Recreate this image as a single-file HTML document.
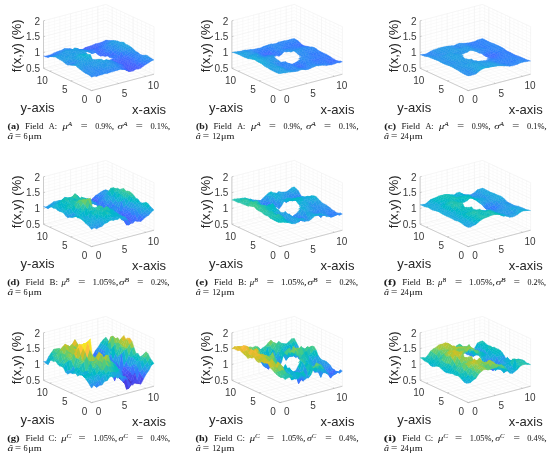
<!DOCTYPE html>
<html><head><meta charset="utf-8"><style>
html,body{margin:0;padding:0;background:#fff;width:550px;height:458px;overflow:hidden}
svg{display:block}
.s path{fill:currentColor;stroke:currentColor;stroke-width:.35;stroke-linejoin:round}
.gm{stroke:#f5f5f5;stroke-width:.5;fill:none}
.gM{stroke:#f0f0f0;stroke-width:.4;fill:none}
.ax{stroke:#b0b0b0;stroke-width:.6;fill:none}
.tk{font-family:"Liberation Sans",sans-serif;font-size:10px;fill:#3a3a3a}
.lb{font-family:"Liberation Sans",sans-serif;font-size:13px;fill:#262626}
.cp{font-family:"Liberation Serif",serif;font-size:9px;fill:#1e1e1e;stroke:#1e1e1e;stroke-width:.05}
.cb{font-weight:bold}
.eq{font-size:11px;stroke-width:.05}
.it{font-style:italic}
</style></head><body>
<svg width="550" height="458" viewBox="0 0 550 458">
<g>
<path class="gm" d="M91.6 90.6L43.5 68.3M43.5 68.3L43.5 20.8M91.6 90.6L154.0 74.2M154.0 74.2L154.0 26.7M97.0 89.2L48.9 66.9M48.9 66.9L48.9 19.4M87.4 88.7L149.8 72.3M149.8 72.3L149.8 24.8M102.5 87.7L54.4 65.4M54.4 65.4L54.4 17.9M83.2 86.7L145.6 70.3M145.6 70.3L145.6 22.8M107.9 86.3L59.8 64.0M59.8 64.0L59.8 16.5M79.1 84.8L141.5 68.4M141.5 68.4L141.5 20.9M113.3 84.9L65.2 62.6M65.2 62.6L65.2 15.1M74.9 82.8L137.3 66.4M137.3 66.4L137.3 18.9M118.7 83.5L70.6 61.2M70.6 61.2L70.6 13.7M70.7 80.9L133.1 64.5M133.1 64.5L133.1 17.0M124.2 82.0L76.1 59.7M76.1 59.7L76.1 12.2M66.5 79.0L128.9 62.6M128.9 62.6L128.9 15.1M129.6 80.6L81.5 58.3M81.5 58.3L81.5 10.8M62.3 77.0L124.7 60.6M124.7 60.6L124.7 13.1M135.0 79.2L86.9 56.9M86.9 56.9L86.9 9.4M58.1 75.1L120.5 58.7M120.5 58.7L120.5 11.2M140.4 77.8L92.3 55.5M92.3 55.5L92.3 8.0M54.0 73.1L116.4 56.7M116.4 56.7L116.4 9.2M145.9 76.3L97.8 54.0M97.8 54.0L97.8 6.5M49.8 71.2L112.2 54.8M112.2 54.8L112.2 7.3M151.3 74.9L103.2 52.6M103.2 52.6L103.2 5.1M45.6 69.3L108.0 52.9M108.0 52.9L108.0 5.4M43.5 68.3L105.9 51.9M105.9 51.9L154.0 74.2M43.5 65.1L105.9 48.7M105.9 48.7L154.0 71.0M43.5 62.0L105.9 45.6M105.9 45.6L154.0 67.9M43.5 58.8L105.9 42.4M105.9 42.4L154.0 64.7M43.5 55.6L105.9 39.2M105.9 39.2L154.0 61.5M43.5 52.5L105.9 36.1M105.9 36.1L154.0 58.4M43.5 49.3L105.9 32.9M105.9 32.9L154.0 55.2M43.5 46.1L105.9 29.7M105.9 29.7L154.0 52.0M43.5 43.0L105.9 26.6M105.9 26.6L154.0 48.9M43.5 39.8L105.9 23.4M105.9 23.4L154.0 45.7M43.5 36.6L105.9 20.2M105.9 20.2L154.0 42.5M43.5 33.5L105.9 17.1M105.9 17.1L154.0 39.4M43.5 30.3L105.9 13.9M105.9 13.9L154.0 36.2M43.5 27.1L105.9 10.7M105.9 10.7L154.0 33.0M43.5 24.0L105.9 7.6M105.9 7.6L154.0 29.9M43.5 20.8L105.9 4.4M105.9 4.4L154.0 26.7"/>
<path class="gM" d="M91.6 90.6L43.5 68.3M43.5 68.3L43.5 20.8M91.6 90.6L154.0 74.2M154.0 74.2L154.0 26.7M118.7 83.5L70.6 61.2M70.6 61.2L70.6 13.7M70.7 80.9L133.1 64.5M133.1 64.5L133.1 17.0M145.9 76.3L97.8 54.0M97.8 54.0L97.8 6.5M49.8 71.2L112.2 54.8M112.2 54.8L112.2 7.3M43.5 68.3L105.9 51.9M105.9 51.9L154.0 74.2M43.5 52.5L105.9 36.1M105.9 36.1L154.0 58.4M43.5 36.6L105.9 20.2M105.9 20.2L154.0 42.5M43.5 20.8L105.9 4.4M105.9 4.4L154.0 26.7"/>
<path class="ax" d="M43.5 68.3L43.5 20.8M43.5 68.3L91.6 90.6M91.6 90.6L154.0 74.2M91.6 90.6L90.3 90.0M91.6 90.6L93.2 90.2M118.7 83.5L117.5 82.9M70.7 80.9L72.3 80.5M145.9 76.3L144.6 75.8M49.8 71.2L51.4 70.8M43.5 68.3L45.1 67.9M43.5 52.5L45.1 52.0M43.5 36.6L45.1 36.2M43.5 20.8L45.1 20.4"/>
<g class="s"><path color="#3678fd" d="M105.3 41.5l2.6-1.1-2-.3-2.6 1.3z"/>
<path color="#3a73fe" d="M102.7 42.7l2.6-1.2-2-.1-2.6 1z"/>
<path color="#2f81fa" d="M107.3 41.2l2.6-.8-2 0-2.6 1.1z"/>
<path color="#3e6fff" d="M100.1 43.8l2.6-1.1-2-.3-2.6 .9z"/>
<path color="#317dfc" d="M104.7 42.6l2.6-1.4-2 .3-2.6 1.2z"/>
<path color="#2d88f6" d="M109.3 41.8l2.6-1.2-2-.2-2.6 .8z"/>
<path color="#406dfe" d="M97.5 45l2.6-1.2-2-.5-2.6 .5z"/>
<path color="#3777fe" d="M102.1 43.9l2.6-1.3-2 .1-2.6 1.1z"/>
<path color="#2e85f8" d="M106.7 42.8l2.6-1-2-.6-2.6 1.4z"/>
<path color="#2c8ef1" d="M111.3 41.8l2.6-1-2-.2-2.6 1.2z"/>
<path color="#416bfe" d="M94.9 45.9l2.6-.9-2-1.2-2.6 1.1z"/>
<path color="#3c71ff" d="M99.5 45.4l2.6-1.5-2-.1-2.6 1.2z"/>
<path color="#307ffb" d="M104.1 44.2l2.6-1.4-2-.2-2.6 1.3z"/>
<path color="#2d89f5" d="M108.7 43.6l2.6-1.8-2 0-2.6 1z"/>
<path color="#4367fd" d="M92.3 47l2.6-1.1-2-1-2.6 1z"/>
<path color="#2798ea" d="M113.3 40.9l2.6-.1-2 0-2.6 1z"/>
<path color="#406cfe" d="M96.9 46.5l2.6-1.1-2-.4-2.6 .9z"/>
<path color="#3777fe" d="M101.5 46.2l2.6-2-2-.3-2.6 1.5z"/>
<path color="#2e84f8" d="M106.1 44.6l2.6-1-2-.8-2.6 1.4z"/>
<path color="#4466fd" d="M89.7 47.3l2.6-.3-2-1.1-2.6 .9z"/>
<path color="#2796eb" d="M110.7 41.5l2.6-.6-2 .9-2.6 1.8z"/>
<path color="#4368fd" d="M94.3 47.9l2.6-1.4-2-.6-2.6 1.1z"/>
<path color="#249ee6" d="M115.3 42l2.6-.9-2-.3-2.6 .1z"/>
<path color="#3f6efe" d="M98.9 47.8l2.6-1.6-2-.8-2.6 1.1z"/>
<path color="#327cfc" d="M103.5 46.4l2.6-1.8-2-.4-2.6 2z"/>
<path color="#4466fd" d="M87.1 48l2.6-.7-2-.5-2.6 .8z"/>
<path color="#2c90f0" d="M108.1 43.7l2.6-2.2-2 2.1-2.6 1z"/>
<path color="#4367fd" d="M91.7 48.1l2.6-.2-2-.9-2.6 .3z"/>
<path color="#23a0e5" d="M112.7 41.9l2.6 .1-2-1.1-2.6 .6z"/>
<path color="#4367fd" d="M96.3 49.2l2.6-1.4-2-1.3-2.6 1.4z"/>
<path color="#249ee6" d="M117.3 43.4l2.6-1.3-2-1-2.6 .9z"/>
<path color="#3975fe" d="M100.9 46.3l2.6 .1-2-.2-2.6 1.6z"/>
<path color="#4660fc" d="M84.5 49.8l2.6-1.8-2-.4-2.6 1.8z"/>
<path color="#2e84f8" d="M105.5 46.7l2.6-3-2 .9-2.6 1.8z"/>
<path color="#4368fd" d="M89.1 49.3l2.6-1.2-2-.8-2.6 .7z"/>
<path color="#259ce7" d="M110.1 44l2.6-2.1-2-.4-2.6 2.2z"/>
<path color="#4466fd" d="M93.7 49.2l2.6 0-2-1.3-2.6 .2z"/>
<path color="#249ee6" d="M114.7 44.1l2.6-.7-2-1.4-2.6-.1z"/>
<path color="#3d70ff" d="M98.3 48.1l2.6-1.8-2 1.5-2.6 1.4z"/>
<path color="#475bfa" d="M81.9 50.2l2.6-.4-2-.4-2.6 .9z"/>
<path color="#23a0e5" d="M119.3 44l2.6-2-2 .1-2.6 1.3z"/>
<path color="#317efb" d="M102.9 47.5l2.6-.8-2-.3-2.6-.1z"/>
<path color="#4561fc" d="M86.5 51.2l2.6-1.9-2-1.3-2.6 1.8z"/>
<path color="#2c90f0" d="M107.5 45.5l2.6-1.5-2-.3-2.6 3z"/>
<path color="#4368fd" d="M91.1 49.8l2.6-.6-2-1.1-2.6 1.2z"/>
<path color="#2699e9" d="M112.1 46.5l2.6-2.4-2-2.2-2.6 2.1z"/>
<path color="#406cfe" d="M95.7 49.2l2.6-1.1-2 1.1-2.6 0z"/>
<path color="#465efb" d="M79.3 50.1l2.6 .1-2 .1-2.6 .5z"/>
<path color="#269ae9" d="M116.7 45.6l2.6-1.6-2-.6-2.6 .7z"/>
<path color="#3579fd" d="M100.3 49.7l2.6-2.2-2-1.2-2.6 1.8z"/>
<path color="#465efb" d="M83.9 50.9l2.6 .3-2-1.4-2.6 .4z"/>
<path color="#1fa5e2" d="M121.3 43.8l2.6-1.5-2-.3-2.6 2z"/>
<path color="#2e85f8" d="M104.9 48l2.6-2.5-2 1.2-2.6 .8z"/>
<path color="#4660fc" d="M88.5 51.9l2.6-2.1-2-.5-2.6 1.9z"/>
<path color="#2b91ef" d="M109.5 47l2.6-.5-2-2.5-2.6 1.5z"/>
<path color="#3e6fff" d="M93.1 49.1l2.6 .1-2 0-2.6 .6z"/>
<path color="#4466fd" d="M76.7 50.1l2.6 0-2 .7-2.6-1z"/>
<path color="#2a92ee" d="M114.1 47.3l2.6-1.7-2-1.5-2.6 2.4z"/>
<path color="#3f6fff" d="M97.7 51.4l2.6-1.7-2-1.6-2.6 1.1z"/>
<path color="#4367fd" d="M81.3 50l2.6 .9-2-.7-2.6-.1z"/>
<path color="#249ee6" d="M118.7 45.5l2.6-1.7-2 .2-2.6 1.6z"/>
<path color="#327bfc" d="M102.3 49.3l2.6-1.3-2-.5-2.6 2.2z"/>
<path color="#4465fd" d="M85.9 49.3l2.6 2.6-2-.7-2.6-.3z"/>
<path color="#1fa6e2" d="M123.3 45.4l2.6-1.2-2-1.9-2.6 1.5z"/>
<path color="#2e87f7" d="M106.9 50.2l2.6-3.2-2-1.5-2.6 2.5z"/>
<path color="#426afe" d="M90.5 51.2l2.6-2.1-2 .7-2.6 2.1z"/>
<path color="#3e70ff" d="M74.1 50.2l2.6-.1-2-.3-2.6-.3z"/>
<path color="#2c8ef1" d="M111.5 47.4l2.6-.1-2-.8-2.6 .5z"/>
<path color="#3d71ff" d="M95.1 50.5l2.6 .9-2-2.2-2.6-.1z"/>
<path color="#3b72fe" d="M78.7 49.3l2.6 .7-2 .1-2.6 0z"/>
<path color="#2895ec" d="M116.1 47.4l2.6-1.9-2 .1-2.6 1.7z"/>
<path color="#3f6dfe" d="M99.7 52.2l2.6-2.9-2 .4-2.6 1.7z"/>
<path color="#3a74fe" d="M83.3 49.8l2.6-.5-2 1.6-2.6-.9z"/>
<path color="#23a0e5" d="M120.7 46.7l2.6-1.3-2-1.6-2.6 1.7z"/>
<path color="#337bfc" d="M104.3 50.8l2.6-.6-2-2.2-2.6 1.3z"/>
<path color="#3e6fff" d="M87.9 50.2l2.6 1-2 .7-2.6-2.6z"/>
<path color="#327cfc" d="M71.5 49.3l2.6 .9-2-.7-2.6-1z"/>
<path color="#21a3e3" d="M125.3 45.9l2.6-.9-2-.8-2.6 1.2z"/>
<path color="#2e87f7" d="M108.9 49.6l2.6-2.2-2-.4-2.6 3.2z"/>
<path color="#3776fe" d="M92.5 50.1l2.6 .4-2-1.4-2.6 2.1z"/>
<path color="#3578fd" d="M76.1 50.3l2.6-1-2 .8-2.6 .1z"/>
<path color="#2a93ed" d="M113.5 47.4l2.6 0-2-.1-2.6 .1z"/>
<path color="#3f6efe" d="M97.1 51.1l2.6 1.1-2-.8-2.6-.9z"/>
<path color="#317efb" d="M80.7 49.7l2.6 .1-2 .2-2.6-.7z"/>
<path color="#2798ea" d="M118.1 48.7l2.6-2-2-1.2-2.6 1.9z"/>
<path color="#3d71ff" d="M101.7 52.7l2.6-1.9-2-1.5-2.6 2.9z"/>
<path color="#307ffb" d="M85.3 49.7l2.6 .5-2-.9-2.6 .5z"/>
<path color="#2e85f8" d="M68.9 49.6l2.6-.3-2-.8-2.6 .3z"/>
<path color="#249ee6" d="M122.7 48.1l2.6-2.2-2-.5-2.6 1.3z"/>
<path color="#327bfc" d="M106.3 51.2l2.6-1.6-2 .6-2.6 .6z"/>
<path color="#327cfc" d="M89.9 49.9l2.6 .2-2 1.1-2.6-1z"/>
<path color="#2f80fa" d="M73.5 49.7l2.6 .6-2-.1-2.6-.9z"/>
<path color="#20a4e3" d="M127.3 46.9l2.7-.7-2.1-1.2-2.6 .9z"/>
<path color="#2c8ff1" d="M110.9 50l2.6-2.6-2 0-2.6 2.2z"/>
<path color="#3578fd" d="M94.5 52.1l2.6-1-2-.6-2.6-.4z"/>
<path color="#2f83f9" d="M78.1 50.1l2.6-.4-2-.4-2.6 1z"/>
<path color="#2a93ee" d="M115.5 50l2.6-1.3-2-1.3-2.6 0z"/>
<path color="#3f6dfe" d="M99.1 53.1l2.6-.4-2-.5-2.6-1.1z"/>
<path color="#2e85f8" d="M82.7 50.2l2.6-.5-2 .1-2.6-.1z"/>
<path color="#2d8cf3" d="M66.3 49.1l2.6 .5-2-.8-2.6-.3z"/>
<path color="#2798ea" d="M120.1 48.7l2.6-.6-2-1.4-2.6 2z"/>
<path color="#3777fe" d="M103.7 51.7l2.6-.5-2-.4-2.6 1.9z"/>
<path color="#2e84f9" d="M87.3 50.9l2.6-1-2 .3-2.6-.5z"/>
<path color="#2d89f5" d="M70.9 49.9l2.6-.2-2-.4-2.6 .3z"/>
<path color="#249de6" d="M124.8 49.2l2.5-2.3-2-1-2.6 2.2z"/>
<path color="#2f82fa" d="M108.3 52.2l2.6-2.2-2-.4-2.6 1.6z"/>
<path color="#2f81fa" d="M91.9 51.1l2.6 1-2-2-2.6-.2z"/>
<path color="#2d88f6" d="M75.5 49.8l2.6 .3-2 .2-2.6-.6z"/>
<path color="#23a1e5" d="M129.4 48.8l2.6-1.1-2-1.5-2.7 .7z"/>
<path color="#2d8bf3" d="M112.9 52.2l2.6-2.2-2-2.6-2.6 2.6z"/>
<path color="#3975fe" d="M96.5 52.7l2.6 .4-2-2-2.6 1z"/>
<path color="#2d8af4" d="M80.1 49.8l2.6 .4-2-.5-2.6 .4z"/>
<path color="#2d8ef2" d="M63.7 50.2l2.6-1.1-2-.6-2.6 1.7z"/>
<path color="#2c8ff1" d="M117.5 51.7l2.6-3-2 0-2.6 1.3z"/>
<path color="#3f6fff" d="M101.1 54.8l2.6-3.1-2 1-2.6 .4z"/>
<path color="#2d89f6" d="M84.7 50.6l2.6 .3-2-1.2-2.6 .5z"/>
<path color="#2c8ef2" d="M68.3 50.4l2.6-.5-2-.3-2.6-.5z"/>
<path color="#2797ea" d="M122.2 49.9l2.6-.7-2.1-1.1-2.6 .6z"/>
<path color="#337bfd" d="M105.7 53.5l2.6-1.3-2-1-2.6 .5z"/>
<path color="#2e86f7" d="M89.3 51.7l2.6-.6-2-1.2-2.6 1z"/>
<path color="#2c8ef1" d="M72.9 50.1l2.6-.3-2-.1-2.6 .2z"/>
<path color="#259be8" d="M126.8 50.3l2.6-1.5-2.1-1.9-2.5 2.3z"/>
<path color="#327cfc" d="M110.3 54.9l2.6-2.7-2-2.2-2.6 2.2z"/>
<path color="#317efb" d="M93.9 52.2l2.6 .5-2-.6-2.6-1z"/>
<path color="#2a93ed" d="M77.5 48.6l2.6 1.2-2 .3-2.6-.3z"/>
<path color="#269be8" d="M131.4 50.3l2.6-.8-2-1.8-2.6 1.1z"/>
<path color="#2d89f5" d="M61.1 51.5l2.6-1.3-2 0-2.6 .8z"/>
<path color="#2f82fa" d="M114.9 53.7l2.6-2-2-1.7-2.6 2.2z"/>
<path color="#3f6eff" d="M98.5 54.6l2.6 .2-2-1.7-2.6-.4z"/>
<path color="#2c8ff1" d="M82.1 50.8l2.6-.2-2-.4-2.6-.4z"/>
<path color="#2b90f0" d="M65.7 50.7l2.6-.3-2-1.3-2.6 1.1z"/>
<path color="#2c90f0" d="M119.6 52l2.6-2.1-2.1-1.2-2.6 3z"/>
<path color="#3d70ff" d="M103.1 55.3l2.6-1.8-2-1.8-2.6 3.1z"/>
<path color="#2d8cf3" d="M86.7 50.6l2.6 1.1-2-.8-2.6-.3z"/>
<path color="#2a93ee" d="M70.3 49.9l2.6 .2-2-.2-2.6 .5z"/>
<path color="#2896ec" d="M124.2 51.1l2.6-.8-2-1.1-2.6 .7z"/>
<path color="#3d70ff" d="M107.7 55.7l2.6-.8-2-2.7-2.6 1.3z"/>
<path color="#2e84f9" d="M91.3 53.3l2.6-1.1-2-1.1-2.6 .6z"/>
<path color="#259ce7" d="M74.9 48l2.6 .6-2 1.2-2.6 .3z"/>
<path color="#2995ec" d="M128.8 52.5l2.6-2.2-2-1.5-2.6 1.5z"/>
<path color="#2e86f7" d="M58.5 52.3l2.6-.8-2-.5-2.6 1z"/>
<path color="#3d71ff" d="M112.3 56.4l2.6-2.7-2-1.5-2.6 2.7z"/>
<path color="#317dfc" d="M95.9 52.6l2.6 2-2-1.9-2.6-.5z"/>
<path color="#2896ec" d="M79.5 51.6l2.6-.8-2-1-2.6-1.2z"/>
<path color="#2a93ee" d="M133.4 52.5l2.6-1-2-2-2.6 .8z"/>
<path color="#2c8ef2" d="M63.1 52l2.6-1.3-2-.5-2.6 1.3z"/>
<path color="#307ffb" d="M117 55.1l2.6-3.1-2.1-.3-2.6 2z"/>
<path color="#426afe" d="M100.5 56l2.6-.7-2-.5-2.6-.2z"/>
<path color="#2995ec" d="M84.1 50.4l2.6 .2-2 0-2.6 .2z"/>
<path color="#2797eb" d="M67.7 50.2l2.6-.3-2 .5-2.6 .3z"/>
<path color="#2b91ef" d="M121.6 52.4l2.6-1.3-2-1.2-2.6 2.1z"/>
<path color="#406cfe" d="M105.1 56.3l2.6-.6-2-2.2-2.6 1.8z"/>
<path color="#2d8cf3" d="M88.7 51.5l2.6 1.8-2-1.6-2.6-1.1z"/>
<path color="#239fe5" d="M72.3 49.7l2.6-1.7-2 2.1-2.6-.2z"/>
<path color="#2d8df2" d="M126.2 54.4l2.6-1.9-2-2.2-2.6 .8z"/>
<path color="#2f82fa" d="M55.9 54.2l2.6-1.9-2-.3-2.6 .9z"/>
<path color="#426afe" d="M109.7 55.6l2.6 .8-2-1.5-2.6 .8z"/>
<path color="#2e85f8" d="M93.3 53.4l2.6-.8-2-.4-2.6 1.1z"/>
<path color="#23a1e4" d="M76.9 49.7l2.6 1.9-2-3-2.6-.6z"/>
<path color="#2c8ef1" d="M130.8 53.5l2.6-1-2-2.2-2.6 2.2z"/>
<path color="#2d8bf4" d="M60.5 52.7l2.6-.7-2-.5-2.6 .8z"/>
<path color="#3d71ff" d="M114.3 55.7l2.7-.6-2.1-1.4-2.6 2.7z"/>
<path color="#3678fe" d="M97.9 54.7l2.6 1.3-2-1.4-2.6-2z"/>
<path color="#2699e9" d="M81.5 50.2l2.6 .2-2 .4-2.6 .8z"/>
<path color="#2c8ef1" d="M135.4 53.5l2.6-1.2-2-.8-2.6 1z"/>
<path color="#2797ea" d="M65.1 50.6l2.6-.4-2 .5-2.6 1.3z"/>
<path color="#2f80fa" d="M119 56.2l2.6-3.8-2-.4-2.6 3.1z"/>
<path color="#416cfe" d="M102.5 55.9l2.6 .4-2-1-2.6 .7z"/>
<path color="#2698ea" d="M86.1 51.7l2.6-.2-2-.9-2.6-.2z"/>
<path color="#249fe5" d="M69.7 50.9l2.6-1.2-2 .2-2.6 .3z"/>
<path color="#2e86f7" d="M123.6 56.2l2.6-1.8-2-3.3-2.6 1.3z"/>
<path color="#327cfc" d="M53.3 55l2.6-.8-2-1.3-2.6 1.5z"/>
<path color="#3e6fff" d="M107.1 55.5l2.6 .1-2 .1-2.6 .6z"/>
<path color="#2d8cf3" d="M90.7 52.7l2.6 .7-2-.1-2.6-1.8z"/>
<path color="#1fa5e2" d="M74.3 50.9l2.6-1.2-2-1.7-2.6 1.7z"/>
<path color="#2e83f9" d="M128.2 56.1l2.6-2.6-2-1-2.6 1.9z"/>
<path color="#2e85f8" d="M57.9 54.3l2.6-1.6-2-.4-2.6 1.9z"/>
<path color="#3c71ff" d="M111.8 55.9l2.5-.2-2 .7-2.6-.8z"/>
<path color="#249ee6" d="M78.9 51.7l2.6-1.5-2 1.4-2.6-1.9z"/>
<path color="#2d8bf3" d="M132.8 54.3l2.6-.8-2-1-2.6 1z"/>
<path color="#2895ec" d="M62.5 52l2.6-1.4-2 1.4-2.6 .7z"/>
<path color="#3776fe" d="M116.4 55.4l2.6 .8-2-1.1-2.7 .6z"/>
<path color="#249fe6" d="M83.5 51.4l2.6 .3-2-1.3-2.6-.2z"/>
<path color="#2d8bf4" d="M137.4 54.8l2.6-.5-2-2-2.6 1.2z"/>
<path color="#249fe5" d="M67.1 51.5l2.6-.6-2-.7-2.6 .4z"/>
<path color="#3975fe" d="M121 59.1l2.6-2.9-2-3.8-2.6 3.8z"/>
<path color="#3678fe" d="M50.7 56.4l2.6-1.4-2-.6-2.6 .9z"/>
<path color="#269ae9" d="M88.1 51.3l2.6 1.4-2-1.2-2.6 .2z"/>
<path color="#249ee6" d="M71.7 53.4l2.6-2.5-2-1.2-2.6 1.2z"/>
<path color="#3678fe" d="M125.6 57l2.6-.9-2-1.7-2.6 1.8z"/>
<path color="#2f81fa" d="M55.3 54.7l2.6-.4-2-.1-2.6 .8z"/>
<path color="#3876fe" d="M109.2 57.3l2.6-1.4-2.1-.3-2.6-.1z"/>
<path color="#22a1e4" d="M76.3 51.9l2.6-.2-2-2-2.6 1.2z"/>
<path color="#2f81fa" d="M130.2 57.3l2.6-3-2-.8-2.6 2.6z"/>
<path color="#2c90f0" d="M59.9 53.6l2.6-1.6-2 .7-2.6 1.6z"/>
<path color="#317dfc" d="M113.8 55.7l2.6-.3-2.1 .3-2.5 .2z"/>
<path color="#23a0e5" d="M80.9 52.3l2.6-.9-2-1.2-2.6 1.5z"/>
<path color="#2d89f5" d="M134.8 55.7l2.6-.9-2-1.3-2.6 .8z"/>
<path color="#249fe6" d="M64.5 52l2.6-.5-2-.9-2.6 1.4z"/>
<path color="#3f6fff" d="M118.4 58.4l2.6 .7-2-2.9-2.6-.8z"/>
<path color="#3974fe" d="M48.1 57.2l2.6-.8-2-1.1-2.6 .8z"/>
<path color="#23a0e5" d="M85.5 52.3l2.6-1-2 .4-2.6-.3z"/>
<path color="#2e87f7" d="M139.4 56.1l2.6-1-2-.8-2.6 .5z"/>
<path color="#259ce7" d="M69.1 52.9l2.6 .5-2-2.5-2.6 .6z"/>
<path color="#406dfe" d="M123 58.6l2.6-1.6-2-.8-2.6 2.9z"/>
<path color="#307ffb" d="M52.7 55.7l2.6-1-2 .3-2.6 1.4z"/>
<path color="#269ae9" d="M73.7 54.5l2.6-2.6-2-1-2.6 2.5z"/>
<path color="#3974fe" d="M127.6 58.4l2.6-1.1-2-1.2-2.6 .9z"/>
<path color="#2d8bf3" d="M57.3 54.7l2.6-1.1-2 .7-2.6 .4z"/>
<path color="#3579fd" d="M111.2 58l2.6-2.3-2 .2-2.6 1.4z"/>
<path color="#239fe5" d="M78.3 52.9l2.6-.6-2-.6-2.6 .2z"/>
<path color="#2f80fa" d="M132.2 57.7l2.6-2-2-1.4-2.6 3z"/>
<path color="#269ae9" d="M61.9 53.8l2.6-1.8-2 0-2.6 1.6z"/>
<path color="#347afd" d="M115.8 58l2.6 .4-2-3-2.6 .3z"/>
<path color="#3579fd" d="M45.5 56.8l2.6 .4-2-1.1-2.6-.2z"/>
<path color="#23a0e5" d="M82.9 53.5l2.6-1.2-2-.9-2.6 .9z"/>
<path color="#2e86f8" d="M136.8 57.1l2.6-1-2-1.3-2.6 .9z"/>
<path color="#249fe6" d="M66.5 53.4l2.6-.5-2-1.4-2.6 .5z"/>
<path color="#4369fe" d="M120.4 59.1l2.6-.5-2 .5-2.6-.7z"/>
<path color="#327cfc" d="M50.1 56.3l2.6-.6-2 .7-2.6 .8z"/>
<path color="#2d8af5" d="M141.4 56.6l2.6-1.4-2-.1-2.6 1z"/>
<path color="#2798ea" d="M71.1 53.5l2.6 1-2-1.1-2.6-.5z"/>
<path color="#3f6eff" d="M125 59.8l2.6-1.4-2-1.4-2.6 1.6z"/>
<path color="#2d89f6" d="M54.7 56.1l2.6-1.4-2 0-2.6 1z"/>
<path color="#249de6" d="M75.7 53.4l2.6-.5-2-1-2.6 2.6z"/>
<path color="#3a73fe" d="M129.6 59.6l2.6-1.9-2-.4-2.6 1.1z"/>
<path color="#2896ec" d="M59.3 54.3l2.6-.5-2-.2-2.6 1.1z"/>
<path color="#337afd" d="M113.2 58.4l2.6-.4-2-2.3-2.6 2.3z"/>
<path color="#249fe6" d="M80.3 54.1l2.6-.6-2-1.2-2.6 .6z"/>
<path color="#2f80fa" d="M134.2 58.2l2.6-1.1-2-1.4-2.6 2z"/>
<path color="#259be8" d="M63.9 55.2l2.6-1.8-2-1.4-2.6 1.8z"/>
<path color="#3f6eff" d="M117.8 60.2l2.6-1.1-2-.7-2.6-.4z"/>
<path color="#3080fb" d="M47.5 56.6l2.6-.3-2 .9-2.6-.4z"/>
<path color="#249ee6" d="M84.9 54.4l2.6-.4-2-1.7-2.6 1.2z"/>
<path color="#2e86f7" d="M138.8 57.6l2.6-1-2-.5-2.6 1z"/>
<path color="#249ee6" d="M68.5 54.4l2.6-.9-2-.6-2.6 .5z"/>
<path color="#406cfe" d="M122.4 60.1l2.6-.3-2-1.2-2.6 .5z"/>
<path color="#2d88f6" d="M52.1 56.3l2.6-.2-2-.4-2.6 .6z"/>
<path color="#2c90f0" d="M143.4 56.8l2.6-1.7-2 .1-2.6 1.4z"/>
<path color="#249ee6" d="M73.1 53.5l2.6-.1-2 1.1-2.6-1z"/>
<path color="#416bfe" d="M127 61l2.6-1.4-2-1.2-2.6 1.4z"/>
<path color="#2b92ee" d="M56.7 55.7l2.6-1.4-2 .4-2.6 1.4z"/>
<path color="#22a1e4" d="M77.7 53.9l2.6 .2-2-1.2-2.6 .5z"/>
<path color="#3a74fe" d="M131.6 60.9l2.6-2.7-2-.5-2.6 1.9z"/>
<path color="#2798ea" d="M61.3 55.4l2.6-.2-2-1.4-2.6 .5z"/>
<path color="#3b72fe" d="M115.2 60.2l2.6 0-2-2.2-2.6 .4z"/>
<path color="#249fe6" d="M82.3 54.6l2.6-.2-2-.9-2.6 .6z"/>
<path color="#2f82fa" d="M136.2 58.9l2.6-1.3-2-.5-2.6 1.1z"/>
<path color="#269ae8" d="M65.9 55.6l2.6-1.2-2-1-2.6 1.8z"/>
<path color="#4369fe" d="M119.8 62.2l2.6-2.1-2-1-2.6 1.1z"/>
<path color="#2d8cf3" d="M49.5 56.1l2.6 .2-2 0-2.6 .3z"/>
<path color="#2d8af4" d="M140.8 58.2l2.6-1.4-2-.2-2.6 1z"/>
<path color="#23a0e5" d="M70.5 55.2l2.6-1.7-2 0-2.6 .9z"/>
<path color="#4269fe" d="M124.4 61.5l2.6-.5-2-1.2-2.6 .3z"/>
<path color="#2c90f0" d="M54.1 56.3l2.6-.6-2 .4-2.6 .2z"/>
<path color="#2995ec" d="M145.4 57.3l2.6-1.4-2-.8-2.6 1.7z"/>
<path color="#21a3e4" d="M75.1 55.6l2.6-1.7-2-.5-2.6 .1z"/>
<path color="#4368fe" d="M129 62.3l2.6-1.4-2-1.3-2.6 1.4z"/>
<path color="#2798ea" d="M58.7 56l2.6-.6-2-1.1-2.6 1.4z"/>
<path color="#3b72fe" d="M112.6 61.2l2.6-1-2-1.8-2.6 1.3z"/>
<path color="#21a3e3" d="M79.7 54.4l2.6 .2-2-.5-2.6-.2z"/>
<path color="#3479fd" d="M133.6 60.1l2.6-1.2-2-.7-2.6 2.7z"/>
<path color="#2699e9" d="M63.3 55.6l2.6 0-2-.4-2.6 .2z"/>
<path color="#416bfe" d="M117.2 61l2.6 1.2-2-2-2.6 0z"/>
<path color="#1ea7e1" d="M84.3 53.6l2.6 .1-2 .7-2.6 .2z"/>
<path color="#2f82f9" d="M138.2 60.7l2.6-2.5-2-.6-2.6 1.3z"/>
<path color="#259be7" d="M67.9 56.6l2.6-1.4-2-.8-2.6 1.2z"/>
<path color="#4465fd" d="M121.8 63.2l2.6-1.7-2-1.4-2.6 2.1z"/>
<path color="#2994ed" d="M51.5 56.6l2.6-.3-2 0-2.6-.2z"/>
<path color="#2c8ef1" d="M142.8 58.6l2.6-1.3-2-.5-2.6 1.4z"/>
<path color="#239fe5" d="M72.5 56.5l2.6-.9-2-2.1-2.6 1.7z"/>
<path color="#4465fd" d="M126.4 62.9l2.6-.6-2-1.3-2.6 .5z"/>
<path color="#2798ea" d="M56.1 56.2l2.6-.2-2-.3-2.6 .6z"/>
<path color="#2a93ed" d="M147.4 58.9l2.6-1.5-2-1.5-2.6 1.4z"/>
<path color="#21a3e3" d="M77.1 55.9l2.6-1.5-2-.5-2.6 1.7z"/>
<path color="#406dfe" d="M131 62.3l2.6-2.2-2 .8-2.6 1.4z"/>
<path color="#249de6" d="M60.7 55.5l2.6 .1-2-.2-2.6 .6z"/>
<path color="#416bfe" d="M114.6 63.6l2.6-2.6-2-.8-2.6 1z"/>
<path color="#1baade" d="M81.7 54.4l2.6-.8-2 1-2.6-.2z"/>
<path color="#347afd" d="M135.6 62.1l2.6-1.4-2-1.8-2.6 1.2z"/>
<path color="#269ae9" d="M65.3 57.6l2.6-1-2-1-2.6 0z"/>
<path color="#4465fd" d="M119.2 63.2l2.6 0-2-1-2.6-1.2z"/>
<path color="#2e87f7" d="M140.2 59.7l2.6-1.1-2-.4-2.6 2.5z"/>
<path color="#249de7" d="M69.9 56.4l2.6 .1-2-1.3-2.6 1.4z"/>
<path color="#4465fd" d="M123.8 63.1l2.6-.2-2-1.4-2.6 1.7z"/>
<path color="#269ae9" d="M53.5 56.9l2.6-.7-2 .1-2.6 .3z"/>
<path color="#2c8ef2" d="M144.8 60.2l2.6-1.3-2-1.6-2.6 1.3z"/>
<path color="#259de7" d="M74.5 57.9l2.6-2-2-.3-2.6 .9z"/>
<path color="#4465fd" d="M128.4 64l2.6-1.7-2 0-2.6 .6z"/>
<path color="#249fe6" d="M58.1 56.8l2.6-1.3-2 .5-2.6 .2z"/>
<path color="#3d71ff" d="M112 62.2l2.6 1.4-2-2.4-2.6-1.7z"/>
<path color="#2c8ff1" d="M149.4 60.4l2.6-1.7-2-1.3-2.6 1.5z"/>
<path color="#1babde" d="M79.1 54.7l2.6-.3-2 0-2.6 1.5z"/>
<path color="#3c71ff" d="M133 63.1l2.6-1-2-2-2.6 2.2z"/>
<path color="#249de7" d="M62.7 57.7l2.6-.1-2-2-2.6-.1z"/>
<path color="#4368fe" d="M116.6 63.1l2.6 .1-2-2.2-2.6 2.6z"/>
<path color="#14b0d8" d="M83.7 54.8l2.6-.2-2-1-2.6 .8z"/>
<path color="#317efb" d="M137.6 61.3l2.6-1.6-2 1-2.6 1.4z"/>
<path color="#249de6" d="M67.3 56.6l2.6-.2-2 .2-2.6 1z"/>
<path color="#4464fd" d="M121.2 64.2l2.6-1.1-2 .1-2.6 0z"/>
<path color="#2d88f6" d="M142.2 61.8l2.6-1.6-2-1.6-2.6 1.1z"/>
<path color="#259ce7" d="M71.9 57.9l2.6 0-2-1.4-2.6-.1z"/>
<path color="#4562fc" d="M125.8 65.8l2.6-1.8-2-1.1-2.6 .2z"/>
<path color="#239fe5" d="M55.5 57l2.6-.2-2-.6-2.6 .7z"/>
<path color="#2d88f6" d="M146.8 61.7l2.6-1.3-2-1.5-2.6 1.3z"/>
<path color="#1fa5e2" d="M76.5 56.7l2.6-2-2 1.2-2.6 2z"/>
<path color="#4367fd" d="M130.4 65.3l2.6-2.2-2-.8-2.6 1.7z"/>
<path color="#249fe6" d="M60.1 58.2l2.6-.5-2-2.2-2.6 1.3z"/>
<path color="#3f6eff" d="M114 62.4l2.6 .7-2 .5-2.6-1.4z"/>
<path color="#2d8df2" d="M151.4 60.9l2.6-1-2-1.2-2.6 1.7z"/>
<path color="#12b1d7" d="M81.1 55.6l2.6-.8-2-.4-2.6 .3z"/>
<path color="#3875fe" d="M135 63.3l2.6-2-2 .8-2.6 1z"/>
<path color="#259de7" d="M64.7 58.4l2.6-1.8-2 1-2.6 .1z"/>
<path color="#426afe" d="M118.6 63.5l2.6 .7-2-1-2.6-.1z"/>
<path color="#0db3d4" d="M85.8 55.3l2.6-.9-2.1 .2-2.6 .2z"/>
<path color="#2f81fa" d="M139.6 63.1l2.6-1.3-2-2.1-2.6 1.6z"/>
<path color="#23a1e4" d="M69.3 58.4l2.6-.5-2-1.5-2.6 .2z"/>
<path color="#4661fc" d="M123.2 65.8l2.6 0-2-2.7-2.6 1.1z"/>
<path color="#2f82fa" d="M144.2 63.1l2.6-1.4-2-1.5-2.6 1.6z"/>
<path color="#23a0e5" d="M73.9 57.9l2.6-1.2-2 1.2-2.6 0z"/>
<path color="#465efb" d="M127.8 65.9l2.6-.6-2-1.3-2.6 1.8z"/>
<path color="#23a0e5" d="M57.5 58.3l2.6-.1-2-1.4-2.6 .2z"/>
<path color="#2f81fa" d="M111.4 60.5l2.6 1.9-2-.2-2.6-.8z"/>
<path color="#2e86f7" d="M148.8 62.8l2.6-1.9-2-.5-2.6 1.3z"/>
<path color="#16aeda" d="M78.5 56.7l2.6-1.1-2-.9-2.6 2z"/>
<path color="#4367fd" d="M132.4 66.6l2.6-3.3-2-.2-2.6 2.2z"/>
<path color="#259ce7" d="M62.1 59.2l2.6-.8-2-.7-2.6 .5z"/>
<path color="#3677fe" d="M116 62.6l2.6 .9-2-.4-2.6-.7z"/>
<path color="#12b1d6" d="M83.1 57.2l2.7-1.9-2.1-.5-2.6 .8z"/>
<path color="#3875fe" d="M137 65.8l2.6-2.7-2-1.8-2.6 2z"/>
<path color="#22a1e4" d="M66.7 58.5l2.6-.1-2-1.8-2.6 1.8z"/>
<path color="#4269fe" d="M120.6 64.6l2.6 1.2-2-1.6-2.6-.7z"/>
<path color="#03b7cc" d="M87.8 55.7l2.6-1.2-2-.1-2.6 .9z"/>
<path color="#347afd" d="M141.6 64.7l2.6-1.6-2-1.3-2.6 1.3z"/>
<path color="#249fe6" d="M71.3 59.8l2.6-1.9-2 0-2.6 .5z"/>
<path color="#465dfb" d="M125.2 66.4l2.6-.5-2-.1-2.6 0z"/>
<path color="#2c8ef1" d="M108.8 60.3l2.6 .2-2 .9-2.6-.3z"/>
<path color="#307efb" d="M146.2 64.3l2.6-1.5-2-1.1-2.6 1.4z"/>
<path color="#1fa6e1" d="M75.9 59.7l2.6-3-2 0-2.6 1.2z"/>
<path color="#465dfb" d="M129.8 67.1l2.6-.5-2-1.3-2.6 .6z"/>
<path color="#249ee6" d="M59.5 59.6l2.6-.4-2-1-2.6 .1z"/>
<path color="#2d89f6" d="M113.4 61.6l2.6 1-2-.2-2.6-1.9z"/>
<path color="#1aacdd" d="M80.6 59.3l2.5-2.1-2-1.6-2.6 1.1z"/>
<path color="#4464fd" d="M134.4 67.3l2.6-1.5-2-2.5-2.6 3.3z"/>
<path color="#249ee6" d="M64.1 60.1l2.6-1.6-2-.1-2.6 .8z"/>
<path color="#3579fd" d="M118 64l2.6 .6-2-1.1-2.6-.9z"/>
<path color="#13b0d7" d="M85.2 58.8l2.6-3.1-2-.4-2.7 1.9z"/>
<path color="#406cfe" d="M139 67.3l2.6-2.6-2-1.6-2.6 2.7z"/>
<path color="#249fe6" d="M68.7 60l2.6-.2-2-1.4-2.6 .1z"/>
<path color="#4269fe" d="M122.6 64.9l2.6 1.5-2-.6-2.6-1.2z"/>
<path color="#2797eb" d="M106.2 59.8l2.6 .5-2 .8-2.6-.1z"/>
<path color="#12b1d7" d="M89.8 58.5l2.6 .8-2-4.8-2.6 1.2z"/>
<path color="#3875fe" d="M143.6 66.1l2.6-1.8-2-1.2-2.6 1.6z"/>
<path color="#259be7" d="M73.3 62l2.6-2.3-2-1.8-2.6 1.9z"/>
<path color="#465efb" d="M127.2 68l2.6-.9-2-1.2-2.6 .5z"/>
<path color="#2b92ee" d="M110.8 63l2.6-1.4-2-1.1-2.6-.2z"/>
<path color="#249ee6" d="M94.4 61.3l2.6-1.8-2-.1-2.6-.1z"/>
<path color="#21a4e3" d="M78 60.6l2.6-1.3-2.1-2.6-2.6 3z"/>
<path color="#465dfa" d="M131.8 67.8l2.6-.5-2-.7-2.6 .5z"/>
<path color="#259de7" d="M61.5 60.6l2.6-.5-2-.9-2.6 .4z"/>
<path color="#2d88f6" d="M115.4 62.9l2.6 1.1-2-1.4-2.6-1z"/>
<path color="#21a2e4" d="M99 59.4l2.6 0-2 .4-2.6-.3z"/>
<path color="#20a5e3" d="M82.6 61.4l2.6-2.6-2.1-1.6-2.5 2.1z"/>
<path color="#4660fb" d="M136.4 68.2l2.6-.9-2-1.5-2.6 1.5z"/>
<path color="#249fe5" d="M66.1 60.7l2.6-.7-2-1.5-2.6 1.6z"/>
<path color="#347afd" d="M120 64.4l2.6 .5-2-.3-2.6-.6z"/>
<path color="#249fe6" d="M103.6 60.9l2.6-1.1-2 1.2-2.6-1.6z"/>
<path color="#1aabdd" d="M87.2 61l2.6-2.5-2-2.8-2.6 3.1z"/>
<path color="#4368fe" d="M141 68.1l2.6-2-2-1.4-2.6 2.6z"/>
<path color="#2895ec" d="M70.7 63.3l2.6-1.3-2-2.2-2.6 .2z"/>
<path color="#4465fd" d="M124.6 68l2.6 0-2-1.6-2.6-1.5z"/>
<path color="#259be8" d="M108.2 60.5l2.6 2.5-2-2.7-2.6-.5z"/>
<path color="#23a0e5" d="M91.8 61.9l2.6-.6-2-2-2.6-.8z"/>
<path color="#2796eb" d="M75.4 63.5l2.6-2.9-2.1-.9-2.6 2.3z"/>
<path color="#475cfa" d="M129.2 69.2l2.6-1.4-2-.7-2.6 .9z"/>
<path color="#2c8ff0" d="M112.8 62.9l2.6 0-2-1.3-2.6 1.4z"/>
<path color="#23a1e4" d="M96.4 61.3l2.6-1.9-2 .1-2.6 1.8z"/>
<path color="#249ee6" d="M80 61.5l2.6-.1-2-2.1-2.6 1.3z"/>
<path color="#465ffb" d="M133.8 68.4l2.6-.2-2-.9-2.6 .5z"/>
<path color="#259de7" d="M63.5 61.9l2.6-1.2-2-.6-2.6 .5z"/>
<path color="#2e83f9" d="M117.4 65.7l2.6-1.3-2-.4-2.6-1.1z"/>
<path color="#20a5e2" d="M101 60.7l2.6 .2-2-1.5-2.6 0z"/>
<path color="#23a0e5" d="M84.6 61.5l2.6-.5-2-2.2-2.6 2.6z"/>
<path color="#465ffb" d="M138.4 69l2.6-.9-2-.8-2.6 .9z"/>
<path color="#2797eb" d="M68.1 63.3l2.6 0-2-3.3-2.6 .7z"/>
<path color="#3875fe" d="M122 66.2l2.6 1.8-2-3.1-2.6-.5z"/>
<path color="#23a0e5" d="M105.6 62.5l2.6-2-2-.7-2.6 1.1z"/>
<path color="#23a0e5" d="M89.2 62.2l2.6-.3-2-3.4-2.6 2.5z"/>
<path color="#2d8bf3" d="M72.8 64.7l2.6-1.2-2.1-1.5-2.6 1.3z"/>
<path color="#475af9" d="M126.6 70.5l2.6-1.3-2-1.2-2.6 0z"/>
<path color="#2797eb" d="M110.2 63.2l2.6-.3-2 .1-2.6-2.5z"/>
<path color="#269ae8" d="M93.8 63.2l2.6-1.9-2 0-2.6 .6z"/>
<path color="#2798ea" d="M77.4 62.9l2.6-1.4-2-.9-2.6 2.9z"/>
<path color="#465dfa" d="M131.2 69.9l2.6-1.5-2-.6-2.6 1.4z"/>
<path color="#2d8bf4" d="M114.8 64.6l2.6 1.1-2-2.8-2.6 0z"/>
<path color="#21a3e4" d="M98.4 62.9l2.6-2.2-2-1.3-2.6 1.9z"/>
<path color="#259de7" d="M82 62.7l2.6-1.2-2-.1-2.6 .1z"/>
<path color="#4660fc" d="M135.8 69.2l2.6-.2-2-.8-2.6 .2z"/>
<path color="#2797ea" d="M65.5 63.8l2.6-.5-2-2.6-2.6 1.2z"/>
<path color="#3080fa" d="M119.4 65.6l2.6 .6-2-1.8-2.6 1.3z"/>
<path color="#249de6" d="M103 63.8l2.6-1.3-2-1.6-2.6-.2z"/>
<path color="#23a1e5" d="M86.6 61.4l2.6 .8-2-1.2-2.6 .5z"/>
<path color="#2d8cf3" d="M70.1 64.6l2.7 .1-2.1-1.4-2.6 0z"/>
<path color="#4465fd" d="M124 68.9l2.6 1.6-2-2.5-2.6-1.8z"/>
<path color="#259de7" d="M107.6 63.1l2.6 .1-2-2.7-2.6 2z"/>
<path color="#2798ea" d="M91.2 64.1l2.6-.9-2-1.3-2.6 .3z"/>
<path color="#2c8ff1" d="M74.8 64.6l2.6-1.7-2 .6-2.6 1.2z"/>
<path color="#4756f7" d="M128.6 71.3l2.6-1.4-2-.7-2.6 1.3z"/>
<path color="#2b92ee" d="M112.2 65l2.6-.4-2-1.7-2.6 .3z"/>
<path color="#259ce7" d="M95.8 63.2l2.6-.3-2-1.6-2.6 1.9z"/>
<path color="#259de7" d="M79.4 62.9l2.6-.2-2-1.2-2.6 1.4z"/>
<path color="#465efb" d="M133.2 71l2.6-1.8-2-.8-2.6 1.5z"/>
<path color="#2d89f6" d="M116.8 65l2.6 .6-2 .1-2.6-1.1z"/>
<path color="#259de7" d="M100.4 63.7l2.6 .1-2-3.1-2.6 2.2z"/>
<path color="#22a1e4" d="M84 62.9l2.6-1.5-2 .1-2.6 1.2z"/>
<path color="#2b90ef" d="M67.6 65l2.5-.4-2-1.3-2.6 .5z"/>
<path color="#3876fe" d="M121.4 69l2.6-.1-2-2.7-2.6-.6z"/>
<path color="#2797eb" d="M105 65.5l2.6-2.4-2-.6-2.6 1.3z"/>
<path color="#259ce7" d="M88.6 64.5l2.6-.4-2-1.9-2.6-.8z"/>
<path color="#2c8ef2" d="M72.2 64.9l2.6-.3-2 .1-2.7-.1z"/>
<path color="#465ffb" d="M126 69.3l2.6 2-2-.8-2.6-1.6z"/>
<path color="#2797eb" d="M109.6 64.8l2.6 .2-2-1.8-2.6-.1z"/>
<path color="#2699e9" d="M93.2 64l2.6-.8-2 0-2.6 .9z"/>
<path color="#2699e9" d="M76.8 64l2.6-1.1-2 0-2.6 1.7z"/>
<path color="#4759f8" d="M130.6 71.4l2.6-.4-2-1.1-2.6 1.4z"/>
<path color="#2b90ef" d="M114.2 65.5l2.6-.5-2-.4-2.6 .4z"/>
<path color="#259de7" d="M97.8 63.9l2.6-.2-2-.8-2.6 .3z"/>
<path color="#23a0e5" d="M81.4 63.5l2.6-.6-2-.2-2.6 .2z"/>
<path color="#2e85f8" d="M118.8 66.8l2.6 2.2-2-3.4-2.6-.6z"/>
<path color="#2895ec" d="M102.4 65.4l2.6 .1-2-1.7-2.6-.1z"/>
<path color="#259ce7" d="M86 66.4l2.6-1.9-2-3.1-2.6 1.5z"/>
<path color="#2a93ee" d="M69.6 64.8l2.6 .1-2.1-.3-2.5 .4z"/>
<path color="#3f6eff" d="M123.4 69.2l2.6 .1-2-.4-2.6 .1z"/>
<path color="#2798ea" d="M107 64.8l2.6 0-2-1.7-2.6 2.4z"/>
<path color="#269ae9" d="M90.6 64.4l2.6-.4-2 .1-2.6 .4z"/>
<path color="#2796eb" d="M74.2 64.9l2.6-.9-2 .6-2.6 .3z"/>
<path color="#4561fc" d="M128 70.6l2.6 .8-2-.1-2.6-2z"/>
<path color="#2994ed" d="M111.6 65.7l2.6-.2-2-.5-2.6-.2z"/>
<path color="#249de6" d="M95.2 65l2.6-1.1-2-.7-2.6 .8z"/>
<path color="#239fe5" d="M78.8 64.4l2.6-.9-2-.6-2.6 1.1z"/>
<path color="#2c8ff1" d="M116.2 67.3l2.6-.5-2-1.8-2.6 .5z"/>
<path color="#2699ea" d="M99.8 66.6l2.6-1.2-2-1.7-2.6 .2z"/>
<path color="#2699e9" d="M83.4 66.2l2.6 .2-2-3.5-2.6 .6z"/>
<path color="#317dfc" d="M120.8 68.3l2.6 .9-2-.2-2.6-2.2z"/>
<path color="#2699e9" d="M104.4 64.6l2.6 .2-2 .7-2.6-.1z"/>
<path color="#2896ec" d="M88 66.5l2.6-2.1-2 .1-2.6 1.9z"/>
<path color="#269ae9" d="M71.6 64.9l2.6 0-2 0-2.6-.1z"/>
<path color="#3c72ff" d="M125.4 69.7l2.6 .9-2-1.3-2.6-.1z"/>
<path color="#2798ea" d="M109 66.5l2.6-.8-2-.9-2.6 0z"/>
<path color="#259ce7" d="M92.6 66.3l2.6-1.3-2-1-2.6 .4z"/>
<path color="#249ee6" d="M76.2 65l2.6-.6-2-.4-2.6 .9z"/>
<path color="#2b91ef" d="M113.6 67.7l2.6-.4-2-1.8-2.6 .2z"/>
<path color="#269ae9" d="M97.2 66.2l2.6 .4-2-2.7-2.6 1.1z"/>
<path color="#259de7" d="M80.8 65.8l2.6 .4-2-2.7-2.6 .9z"/>
<path color="#2d8af4" d="M118.2 68l2.6 .3-2-1.5-2.6 .5z"/>
<path color="#2796eb" d="M101.8 67.9l2.6-3.3-2 .8-2.6 1.2z"/>
<path color="#2a93ee" d="M85.4 66.8l2.6-.3-2-.1-2.6-.2z"/>
<path color="#307efb" d="M122.8 69.3l2.6 .4-2-.5-2.6-.9z"/>
<path color="#259ce7" d="M106.4 66.8l2.6-.3-2-1.7-2.6-.2z"/>
<path color="#2995ec" d="M90 68.6l2.6-2.3-2-1.9-2.6 2.1z"/>
<path color="#23a0e5" d="M73.6 65l2.6 0-2-.1-2.6 0z"/>
<path color="#2b92ee" d="M111 68.6l2.6-.9-2-2-2.6 .8z"/>
<path color="#2699e9" d="M94.6 67.4l2.6-1.2-2-1.2-2.6 1.3z"/>
<path color="#249fe5" d="M78.2 66.2l2.6-.4-2-1.4-2.6 .6z"/>
<path color="#2d8cf3" d="M115.6 69.2l2.6-1.2-2-.7-2.6 .4z"/>
<path color="#2a92ee" d="M99.2 68.3l2.6-.4-2-1.3-2.6-.4z"/>
<path color="#2798ea" d="M82.8 67.3l2.6-.5-2-.6-2.6-.4z"/>
<path color="#2d88f6" d="M120.2 69.4l2.6-.1-2-1-2.6-.3z"/>
<path color="#2797eb" d="M103.8 68.6l2.6-1.8-2-2.2-2.6 3.3z"/>
<path color="#2b91ef" d="M87.4 68.6l2.6 0-2-2.1-2.6 .3z"/>
<path color="#2a93ee" d="M108.4 69l2.6-.4-2-2.1-2.6 .3z"/>
<path color="#2b92ee" d="M92 68.7l2.6-1.3-2-1.1-2.6 2.3z"/>
<path color="#20a4e3" d="M75.6 65.5l2.6 .7-2-1.2-2.6 0z"/>
<path color="#2d8af5" d="M113 70.5l2.6-1.3-2-1.5-2.6 .9z"/>
<path color="#2a93ee" d="M96.6 69.6l2.6-1.3-2-2.1-2.6 1.2z"/>
<path color="#259de7" d="M80.2 67.1l2.6 .2-2-1.5-2.6 .4z"/>
<path color="#2d8af5" d="M117.6 70.3l2.6-.9-2-1.4-2.6 1.2z"/>
<path color="#2c8ff0" d="M101.2 69.5l2.6-.9-2-.7-2.6 .4z"/>
<path color="#2a93ed" d="M84.8 69.5l2.6-.9-2-1.8-2.6 .5z"/>
<path color="#2b91ef" d="M105.8 70.2l2.6-1.2-2-2.2-2.6 1.8z"/>
<path color="#2c8ef2" d="M89.4 69.7l2.6-1-2-.1-2.6 0z"/>
<path color="#2d8af4" d="M110.4 70.5l2.6 0-2-1.9-2.6 .4z"/>
<path color="#2c8ff1" d="M94 70.5l2.6-.9-2-2.2-2.6 1.3z"/>
<path color="#21a2e4" d="M77.6 67.5l2.6-.4-2-.9-2.6-.7z"/>
<path color="#2e87f7" d="M115 70.9l2.6-.6-2-1.1-2.6 1.3z"/>
<path color="#2c8ef2" d="M98.6 70.4l2.6-.9-2-1.2-2.6 1.3z"/>
<path color="#2798ea" d="M82.2 68.9l2.6 .6-2-2.2-2.6-.2z"/>
<path color="#2c8ef2" d="M103.2 70.5l2.6-.3-2-1.6-2.6 .9z"/>
<path color="#2c8ff0" d="M86.8 69.9l2.6-.2-2-1.1-2.6 .9z"/>
<path color="#2d8bf3" d="M107.8 71.1l2.6-.6-2-1.5-2.6 1.2z"/>
<path color="#2d8df2" d="M91.4 70.6l2.6-.1-2-1.8-2.6 1z"/>
<path color="#2e87f7" d="M112.4 71.8l2.6-.9-2-.4-2.6 0z"/>
<path color="#2d8af4" d="M96 71.5l2.6-1.1-2-.8-2.6 .9z"/>
<path color="#249ee6" d="M79.6 69l2.6-.1-2-1.8-2.6 .4z"/>
<path color="#2d8cf3" d="M100.6 71.9l2.6-1.4-2-1-2.6 .9z"/>
<path color="#2b92ee" d="M84.2 70.9l2.6-1-2-.4-2.6-.6z"/>
<path color="#2d8cf3" d="M105.2 71.3l2.6-.2-2-.9-2.6 .3z"/>
<path color="#2b90f0" d="M88.8 70.7l2.6-.1-2-.9-2.6 .2z"/>
<path color="#2d88f6" d="M109.8 72.6l2.6-.8-2-1.3-2.6 .6z"/>
<path color="#2d8cf3" d="M93.4 71.3l2.6 .2-2-1-2.6 .1z"/>
<path color="#2d89f5" d="M98 72.5l2.6-.6-2-1.5-2.6 1.1z"/>
<path color="#2797eb" d="M81.6 70.6l2.6 .3-2-2-2.6 .1z"/>
<path color="#2d8df2" d="M102.6 71.8l2.6-.5-2-.8-2.6 1.4z"/>
<path color="#2b92ef" d="M86.2 71.6l2.6-.9-2-.8-2.6 1z"/>
<path color="#2d89f6" d="M107.2 73.5l2.6-.9-2-1.5-2.6 .2z"/>
<path color="#2b91ef" d="M90.8 71.8l2.6-.5-2-.7-2.6 .1z"/>
<path color="#2d8af4" d="M95.4 73.1l2.6-.6-2-1-2.6-.2z"/>
<path color="#2d8cf3" d="M100 72.6l2.6-.8-2 .1-2.6 .6z"/>
<path color="#2a93ed" d="M83.6 72l2.6-.4-2-.7-2.6-.3z"/>
<path color="#2d8bf4" d="M104.6 73.7l2.6-.2-2-2.2-2.6 .5z"/>
<path color="#2b91ef" d="M88.2 72.8l2.6-1-2-1.1-2.6 .9z"/>
<path color="#2c8ff1" d="M92.8 73.1l2.6 0-2-1.8-2.6 .5z"/>
<path color="#2d8bf4" d="M97.4 73.7l2.6-1.1-2-.1-2.6 .6z"/>
<path color="#2d8bf4" d="M102 74.8l2.6-1.1-2-1.9-2.6 .8z"/>
<path color="#2b91ef" d="M85.6 73.4l2.6-.6-2-1.2-2.6 .4z"/>
<path color="#2b91ef" d="M90.2 73.1l2.6 0-2-1.3-2.6 1z"/>
<path color="#2d8af4" d="M94.8 75.2l2.6-1.5-2-.6-2.6 0z"/>
<path color="#2d89f5" d="M99.4 75.3l2.6-.5-2-2.2-2.6 1.1z"/>
<path color="#2b91ef" d="M87.6 74.3l2.6-1.2-2-.3-2.6 .6z"/>
<path color="#2d8df2" d="M92.2 74.8l2.6 .4-2-2.1-2.6 0z"/>
<path color="#2e86f7" d="M96.8 76.4l2.6-1.1-2-1.6-2.6 1.5z"/>
<path color="#2c90f0" d="M89.6 75.6l2.6-.8-2-1.7-2.6 1.2z"/>
<path color="#2d87f6" d="M94.2 76.2l2.6 .2-2-1.2-2.6-.4z"/>
<path color="#2d8bf4" d="M91.6 77.3l2.6-1.1-2-1.4-2.6 .8z"/></g>
<text class="tk" x="40.0" y="24.5" text-anchor="end">2</text>
<text class="tk" x="40.0" y="40.1" text-anchor="end">1.5</text>
<text class="tk" x="40.0" y="55.8" text-anchor="end">1</text>
<text class="tk" x="40.0" y="71.6" text-anchor="end">0.5</text>
<text class="tk" x="42.2" y="84.3" text-anchor="middle">10</text>
<text class="tk" x="64.7" y="93.4" text-anchor="middle">5</text>
<text class="tk" x="84.6" y="102.9" text-anchor="middle">0</text>
<text class="tk" x="98.5" y="103.4" text-anchor="middle">0</text>
<text class="tk" x="124.6" y="96.6" text-anchor="middle">5</text>
<text class="tk" x="153.4" y="89.3" text-anchor="middle">10</text>
<text class="lb" transform="translate(21.4 45.8) rotate(-90)" text-anchor="middle">f(x,y) (%)</text>
<text class="lb" x="20.6" y="112.2">y-axis</text>
<text class="lb" x="132.1" y="113.5">x-axis</text>
<text class="cp cb" x="7.5" y="128.9" textLength="11.9" lengthAdjust="spacingAndGlyphs">(a)</text>
<text class="cp" x="25.0" y="128.9" textLength="18.4" lengthAdjust="spacingAndGlyphs">Field</text>
<text class="cp" x="48.8" y="128.9" textLength="8.2" lengthAdjust="spacingAndGlyphs">A:</text>
<text class="cp" x="62.5" y="128.9" textLength="9.7" lengthAdjust="spacingAndGlyphs"><tspan class="it">μ</tspan><tspan class="it" font-size="6.2" dy="-3.3">A</tspan></text>
<text class="cp eq" x="80.7" y="128.9" textLength="6.8" lengthAdjust="spacingAndGlyphs">=</text>
<text class="cp" x="95.2" y="128.9" textLength="18.7" lengthAdjust="spacingAndGlyphs">0.9%,</text>
<text class="cp" x="117.6" y="128.9" textLength="9.9" lengthAdjust="spacingAndGlyphs"><tspan class="it">σ</tspan><tspan class="it" font-size="6.2" dy="-3.3">A</tspan></text>
<text class="cp eq" x="135.7" y="128.9" textLength="7.0" lengthAdjust="spacingAndGlyphs">=</text>
<text class="cp" x="150.4" y="128.9" textLength="19.7" lengthAdjust="spacingAndGlyphs">0.1%,</text>
<text class="cp it" x="7.5" y="139.2" textLength="5.7" lengthAdjust="spacingAndGlyphs">â</text>
<text class="cp eq" x="15.0" y="139.2" textLength="6.0" lengthAdjust="spacingAndGlyphs">=</text>
<text class="cp" x="23.5" y="139.2" textLength="4.1" lengthAdjust="spacingAndGlyphs">6</text>
<text class="cp" x="28.3" y="139.2" textLength="13.4" lengthAdjust="spacingAndGlyphs">μm</text>
</g>
<g>
<path class="gm" d="M280.0 90.6L231.9 68.3M231.9 68.3L231.9 20.8M280.0 90.6L342.4 74.2M342.4 74.2L342.4 26.7M285.4 89.2L237.3 66.9M237.3 66.9L237.3 19.4M275.8 88.7L338.2 72.3M338.2 72.3L338.2 24.8M290.9 87.7L242.8 65.4M242.8 65.4L242.8 17.9M271.6 86.7L334.0 70.3M334.0 70.3L334.0 22.8M296.3 86.3L248.2 64.0M248.2 64.0L248.2 16.5M267.5 84.8L329.9 68.4M329.9 68.4L329.9 20.9M301.7 84.9L253.6 62.6M253.6 62.6L253.6 15.1M263.3 82.8L325.7 66.4M325.7 66.4L325.7 18.9M307.1 83.5L259.0 61.2M259.0 61.2L259.0 13.7M259.1 80.9L321.5 64.5M321.5 64.5L321.5 17.0M312.6 82.0L264.5 59.7M264.5 59.7L264.5 12.2M254.9 79.0L317.3 62.6M317.3 62.6L317.3 15.1M318.0 80.6L269.9 58.3M269.9 58.3L269.9 10.8M250.7 77.0L313.1 60.6M313.1 60.6L313.1 13.1M323.4 79.2L275.3 56.9M275.3 56.9L275.3 9.4M246.5 75.1L308.9 58.7M308.9 58.7L308.9 11.2M328.8 77.8L280.7 55.5M280.7 55.5L280.7 8.0M242.4 73.1L304.8 56.7M304.8 56.7L304.8 9.2M334.3 76.3L286.2 54.0M286.2 54.0L286.2 6.5M238.2 71.2L300.6 54.8M300.6 54.8L300.6 7.3M339.7 74.9L291.6 52.6M291.6 52.6L291.6 5.1M234.0 69.3L296.4 52.9M296.4 52.9L296.4 5.4M231.9 68.3L294.3 51.9M294.3 51.9L342.4 74.2M231.9 65.1L294.3 48.7M294.3 48.7L342.4 71.0M231.9 62.0L294.3 45.6M294.3 45.6L342.4 67.9M231.9 58.8L294.3 42.4M294.3 42.4L342.4 64.7M231.9 55.6L294.3 39.2M294.3 39.2L342.4 61.5M231.9 52.5L294.3 36.1M294.3 36.1L342.4 58.4M231.9 49.3L294.3 32.9M294.3 32.9L342.4 55.2M231.9 46.1L294.3 29.7M294.3 29.7L342.4 52.0M231.9 43.0L294.3 26.6M294.3 26.6L342.4 48.9M231.9 39.8L294.3 23.4M294.3 23.4L342.4 45.7M231.9 36.6L294.3 20.2M294.3 20.2L342.4 42.5M231.9 33.5L294.3 17.1M294.3 17.1L342.4 39.4M231.9 30.3L294.3 13.9M294.3 13.9L342.4 36.2M231.9 27.1L294.3 10.7M294.3 10.7L342.4 33.0M231.9 24.0L294.3 7.6M294.3 7.6L342.4 29.9M231.9 20.8L294.3 4.4M294.3 4.4L342.4 26.7"/>
<path class="gM" d="M280.0 90.6L231.9 68.3M231.9 68.3L231.9 20.8M280.0 90.6L342.4 74.2M342.4 74.2L342.4 26.7M307.1 83.5L259.0 61.2M259.0 61.2L259.0 13.7M259.1 80.9L321.5 64.5M321.5 64.5L321.5 17.0M334.3 76.3L286.2 54.0M286.2 54.0L286.2 6.5M238.2 71.2L300.6 54.8M300.6 54.8L300.6 7.3M231.9 68.3L294.3 51.9M294.3 51.9L342.4 74.2M231.9 52.5L294.3 36.1M294.3 36.1L342.4 58.4M231.9 36.6L294.3 20.2M294.3 20.2L342.4 42.5M231.9 20.8L294.3 4.4M294.3 4.4L342.4 26.7"/>
<path class="ax" d="M231.9 68.3L231.9 20.8M231.9 68.3L280.0 90.6M280.0 90.6L342.4 74.2M280.0 90.6L278.7 90.0M280.0 90.6L281.6 90.2M307.1 83.5L305.9 82.9M259.1 80.9L260.7 80.5M334.3 76.3L333.0 75.8M238.2 71.2L239.8 70.8M231.9 68.3L233.5 67.9M231.9 52.5L233.5 52.0M231.9 36.6L233.5 36.2M231.9 20.8L233.5 20.4"/>
<g class="s"><path color="#2e87f7" d="M293.7 40l2.6-.2-2-1.4-2.6 .6z"/>
<path color="#2d87f7" d="M291.1 41l2.6-1-2-1-2.6 .8z"/>
<path color="#2e85f8" d="M295.7 41l2.6-.1-2-1.1-2.6 .2z"/>
<path color="#2e87f7" d="M288.5 41.4l2.6-.4-2-1.2-2.6 .6z"/>
<path color="#2e85f8" d="M293.1 42.4l2.6-1.4-2-1-2.6 1z"/>
<path color="#317efb" d="M297.7 43.4l2.6-.3-2-2.2-2.6 .1z"/>
<path color="#2d88f6" d="M285.9 42.1l2.6-.7-2-1-2.6 .4z"/>
<path color="#2e85f8" d="M290.5 42.6l2.6-.2-2-1.4-2.6 .4z"/>
<path color="#3080fa" d="M295.1 43.7l2.6-.3-2-2.4-2.6 1.4z"/>
<path color="#3a74fe" d="M299.7 44.9l2.6-.1-2-1.7-2.6 .3z"/>
<path color="#2d88f6" d="M283.3 43l2.6-.9-2-1.3-2.6 .7z"/>
<path color="#2e85f8" d="M287.9 43.9l2.6-1.3-2-1.2-2.6 .7z"/>
<path color="#3080fb" d="M292.5 44.7l2.6-1-2-1.3-2.6 .2z"/>
<path color="#3678fe" d="M297.1 45.5l2.6-.6-2-1.5-2.6 .3z"/>
<path color="#2d89f5" d="M280.7 43.2l2.6-.2-2-1.5-2.6 .5z"/>
<path color="#3e6fff" d="M301.7 46.3l2.6-.6-2-.9-2.6 .1z"/>
<path color="#2e84f8" d="M285.3 44.1l2.6-.2-2-1.8-2.6 .9z"/>
<path color="#317efb" d="M289.9 45.5l2.6-.8-2-2.1-2.6 1.3z"/>
<path color="#3578fd" d="M294.5 46l2.6-.5-2-1.8-2.6 1z"/>
<path color="#2d88f6" d="M278.1 44.3l2.6-1.1-2-1.2-2.6 1.4z"/>
<path color="#3c71ff" d="M299.1 47l2.6-.7-2-1.4-2.6 .6z"/>
<path color="#2e86f7" d="M282.7 44.6l2.6-.5-2-1.1-2.6 .2z"/>
<path color="#3d70ff" d="M303.7 46.8l2.6-.6-2-.5-2.6 .6z"/>
<path color="#307ffb" d="M287.3 45.8l2.6-.3-2-1.6-2.6 .2z"/>
<path color="#3479fd" d="M291.9 46.1l2.6-.1-2-1.3-2.6 .8z"/>
<path color="#2d88f6" d="M275.5 44.4l2.6-.1-2-.9-2.6 .5z"/>
<path color="#3776fe" d="M296.5 45.9l2.6 1.1-2-1.5-2.6 .5z"/>
<path color="#2e87f7" d="M280.1 45.3l2.6-.7-2-1.4-2.6 1.1z"/>
<path color="#3974fe" d="M301.1 46.2l2.6 .6-2-.5-2.6 .7z"/>
<path color="#2f82f9" d="M284.7 45.9l2.6-.1-2-1.7-2.6 .5z"/>
<path color="#3875fe" d="M305.7 47.1l2.6-.5-2-.4-2.6 .6z"/>
<path color="#327cfc" d="M289.3 46.8l2.6-.7-2-.6-2.6 .3z"/>
<path color="#2d8cf3" d="M272.9 44.8l2.6-.4-2-.5-2.6 0z"/>
<path color="#327cfc" d="M293.9 47.1l2.6-1.2-2 .1-2.6 .1z"/>
<path color="#2d88f6" d="M277.5 45.5l2.6-.2-2-1-2.6 .1z"/>
<path color="#337bfc" d="M298.5 47.3l2.6-1.1-2 .8-2.6-1.1z"/>
<path color="#2e85f8" d="M282.1 46.2l2.6-.3-2-1.3-2.6 .7z"/>
<path color="#327bfc" d="M303.1 47.1l2.6 0-2-.3-2.6-.6z"/>
<path color="#317efb" d="M286.7 47.3l2.6-.5-2-1-2.6 .1z"/>
<path color="#2d8cf3" d="M270.3 46l2.6-1.2-2-.9-2.6 .9z"/>
<path color="#337bfc" d="M307.7 47.4l2.6-.2-2-.6-2.6 .5z"/>
<path color="#327cfc" d="M291.3 47.9l2.6-.8-2-1-2.6 .7z"/>
<path color="#2d8cf3" d="M274.9 46l2.6-.5-2-1.1-2.6 .4z"/>
<path color="#327cfc" d="M295.9 48.3l2.6-1-2-1.4-2.6 1.2z"/>
<path color="#2d88f6" d="M279.5 46.2l2.6 0-2-.9-2.6 .2z"/>
<path color="#307ffb" d="M300.5 48l2.6-.9-2-.9-2.6 1.1z"/>
<path color="#2f82fa" d="M284.1 47.6l2.6-.3-2-1.4-2.6 .3z"/>
<path color="#2d8af4" d="M267.7 46.4l2.6-.4-2-1.2-2.6 .9z"/>
<path color="#2f81fa" d="M305.1 47.2l2.6 .2-2-.3-2.6 0z"/>
<path color="#327cfc" d="M288.7 48.6l2.6-.7-2-1.1-2.6 .5z"/>
<path color="#2d8bf4" d="M272.3 47.1l2.6-1.1-2-1.2-2.6 1.2z"/>
<path color="#2e83f9" d="M309.7 47.4l2.6-.4-2 .2-2.6 .2z"/>
<path color="#317dfc" d="M293.3 47.7l2.6 .6-2-1.2-2.6 .8z"/>
<path color="#2d8df2" d="M276.9 46.1l2.6 .1-2-.7-2.6 .5z"/>
<path color="#317dfc" d="M297.9 48.4l2.6-.4-2-.7-2.6 1z"/>
<path color="#2e86f7" d="M281.5 48l2.6-.4-2-1.4-2.6 0z"/>
<path color="#2d88f6" d="M265.1 48.1l2.6-1.7-2-.7-2.6 .8z"/>
<path color="#2e85f8" d="M302.5 47.1l2.6 .1-2-.1-2.6 .9z"/>
<path color="#327bfc" d="M286.1 50l2.6-1.4-2-1.3-2.6 .3z"/>
<path color="#2e86f7" d="M269.7 49l2.6-1.9-2-1.1-2.6 .4z"/>
<path color="#2d88f6" d="M307.1 47.4l2.6 0-2 0-2.6-.2z"/>
<path color="#2f81fa" d="M290.7 48l2.6-.3-2 .2-2.6 .7z"/>
<path color="#2d8bf3" d="M274.3 48.1l2.6-2-2-.1-2.6 1.1z"/>
<path color="#2d89f5" d="M311.7 47.7l2.6-.1-2-.6-2.6 .4z"/>
<path color="#2f81fa" d="M295.3 48.7l2.6-.3-2-.1-2.6-.6z"/>
<path color="#2d8df2" d="M278.9 47.4l2.6 .6-2-1.8-2.6-.1z"/>
<path color="#2e84f8" d="M262.5 48.8l2.6-.7-2-1.6-2.6 1.4z"/>
<path color="#2e86f8" d="M299.9 48.5l2.6-1.4-2 .9-2.6 .4z"/>
<path color="#317efb" d="M283.5 49.5l2.6 .5-2-2.4-2.6 .4z"/>
<path color="#2f82fa" d="M267.1 49.8l2.6-.8-2-2.6-2.6 1.7z"/>
<path color="#2d8cf3" d="M304.5 48.6l2.6-1.2-2-.2-2.6-.1z"/>
<path color="#317dfc" d="M288.1 49.9l2.6-1.9-2 .6-2.6 1.4z"/>
<path color="#2e83f9" d="M271.7 49.4l2.6-1.3-2-1-2.6 1.9z"/>
<path color="#2d8cf3" d="M309.1 48.5l2.6-.8-2-.3-2.6 0z"/>
<path color="#2e85f8" d="M292.7 49.8l2.6-1.1-2-1-2.6 .3z"/>
<path color="#2d8bf3" d="M276.3 49.4l2.6-2-2-1.3-2.6 2z"/>
<path color="#2e84f8" d="M259.9 49.1l2.6-.3-2-.9-2.6 .4z"/>
<path color="#2d8af5" d="M313.7 49.1l2.6-.4-2-1.1-2.6 .1z"/>
<path color="#2e84f9" d="M297.3 50.1l2.6-1.6-2-.1-2.6 .3z"/>
<path color="#2d88f6" d="M280.9 48.8l2.6 .7-2-1.5-2.6-.6z"/>
<path color="#2f80fa" d="M264.5 50l2.6-.2-2-1.7-2.6 .7z"/>
<path color="#2d8bf4" d="M301.9 49.3l2.6-.7-2-1.5-2.6 1.4z"/>
<path color="#317efb" d="M285.5 49.6l2.6 .3-2 .1-2.6-.5z"/>
<path color="#307ffb" d="M269.1 50.2l2.6-.8-2-.4-2.6 .8z"/>
<path color="#2d8cf3" d="M306.5 49.6l2.6-1.1-2-1.1-2.6 1.2z"/>
<path color="#2e83f9" d="M290.1 49.8l2.6 0-2-1.8-2.6 1.9z"/>
<path color="#2e87f7" d="M273.7 48.9l2.6 .5-2-1.3-2.6 1.3z"/>
<path color="#2e84f8" d="M257.3 50.3l2.6-1.2-2-.8-2.6 .7z"/>
<path color="#2d8bf4" d="M311.1 50.2l2.6-1.1-2-1.4-2.6 .8z"/>
<path color="#2e83f9" d="M294.7 49.8l2.6 .3-2-1.4-2.6 1.1z"/>
<path color="#2d8af4" d="M278.3 49.5l2.6-.7-2-1.4-2.6 2z"/>
<path color="#2f82f9" d="M261.9 50.6l2.6-.6-2-1.2-2.6 .3z"/>
<path color="#2e85f8" d="M315.8 50.9l2.6-.5-2.1-1.7-2.6 .4z"/>
<path color="#2d8af5" d="M299.3 48.8l2.6 .5-2-.8-2.6 1.6z"/>
<path color="#2d87f7" d="M282.9 49.7l2.6-.1-2-.1-2.6-.7z"/>
<path color="#337afd" d="M266.5 52.9l2.6-2.7-2-.4-2.6 .2z"/>
<path color="#2d8af5" d="M303.9 50.3l2.6-.7-2-1-2.6 .7z"/>
<path color="#2d87f7" d="M287.5 49.1l2.6 .7-2 .1-2.6-.3z"/>
<path color="#2f81fa" d="M271.1 52.3l2.6-3.4-2 .5-2.6 .8z"/>
<path color="#2e85f8" d="M254.7 50.3l2.6 0-2-1.3-2.6 .5z"/>
<path color="#2d88f6" d="M308.5 51.1l2.6-.9-2-1.7-2.6 1.1z"/>
<path color="#2d87f6" d="M292.1 49.9l2.6-.1-2 0-2.6 0z"/>
<path color="#2d88f6" d="M275.7 51.3l2.6-1.8-2-.1-2.6-.5z"/>
<path color="#2f82fa" d="M259.3 51.4l2.6-.8-2-1.5-2.6 1.2z"/>
<path color="#2e86f7" d="M313.2 51l2.6-.1-2.1-1.8-2.6 1.1z"/>
<path color="#2d8df2" d="M296.7 49.2l2.6-.4-2 1.3-2.6-.3z"/>
<path color="#2d89f6" d="M280.3 51.7l2.6-2-2-.9-2.6 .7z"/>
<path color="#3677fe" d="M263.9 53.2l2.6-.3-2-2.9-2.6 .6z"/>
<path color="#2f82fa" d="M317.8 51.2l2.6 .3-2-1.1-2.6 .5z"/>
<path color="#2c90f0" d="M301.3 49l2.6 1.3-2-1-2.6-.5z"/>
<path color="#2d8df2" d="M284.9 50.3l2.6-1.2-2 .5-2.6 .1z"/>
<path color="#3c71ff" d="M268.5 54.7l2.6-2.4-2-2.1-2.6 2.7z"/>
<path color="#2d8af4" d="M252.1 50.4l2.6-.1-2-.8-2.6-.1z"/>
<path color="#2e87f7" d="M305.9 51.8l2.6-.7-2-1.5-2.6 .7z"/>
<path color="#2c90f0" d="M289.5 49.5l2.6 .4-2-.1-2.6-.7z"/>
<path color="#317efb" d="M273.1 53.5l2.6-2.2-2-2.4-2.6 3.4z"/>
<path color="#2e83f9" d="M256.7 51.5l2.6-.1-2-1.1-2.6 0z"/>
<path color="#2e86f8" d="M310.6 51.9l2.6-.9-2.1-.8-2.6 .9z"/>
<path color="#2c8ff1" d="M294.1 50.9l2.6-1.7-2 .6-2.6 .1z"/>
<path color="#2f82f9" d="M277.7 52.8l2.6-1.1-2-2.2-2.6 1.8z"/>
<path color="#327bfc" d="M261.3 52.7l2.6 .5-2-2.6-2.6 .8z"/>
<path color="#2e85f8" d="M315.2 52.1l2.6-.9-2-.3-2.6 .1z"/>
<path color="#2896eb" d="M298.7 50.3l2.6-1.3-2-.2-2.6 .4z"/>
<path color="#2d88f6" d="M282.3 52.1l2.6-1.8-2-.6-2.6 2z"/>
<path color="#416bfe" d="M265.9 54.7l2.6 0-2-1.8-2.6 .3z"/>
<path color="#307ffb" d="M319.8 53.4l2.6-.8-2-1.1-2.6-.3z"/>
<path color="#2c8ef2" d="M249.5 50.8l2.6-.4-2-1-2.6 .6z"/>
<path color="#2d8df2" d="M303.3 51.6l2.6 .2-2-1.5-2.6-1.3z"/>
<path color="#2b91ef" d="M286.9 51.6l2.6-2.1-2-.4-2.6 1.2z"/>
<path color="#3f6fff" d="M270.5 54.3l2.6-.8-2-1.2-2.6 2.4z"/>
<path color="#2d88f6" d="M254.1 52l2.6-.5-2-1.2-2.6 .1z"/>
<path color="#2e84f9" d="M308 52.9l2.6-1-2.1-.8-2.6 .7z"/>
<path color="#2b91ef" d="M291.5 51.1l2.6-.2-2-1-2.6-.4z"/>
<path color="#347afd" d="M275.1 53.7l2.6-.9-2-1.5-2.6 2.2z"/>
<path color="#307ffb" d="M258.7 53.5l2.6-.8-2-1.3-2.6 .1z"/>
<path color="#2e84f9" d="M312.6 53.7l2.6-1.6-2-1.1-2.6 .9z"/>
<path color="#2994ed" d="M296.1 50.6l2.6-.3-2-1.1-2.6 1.7z"/>
<path color="#2f82f9" d="M279.7 52.3l2.6-.2-2-.4-2.6 1.1z"/>
<path color="#3c71ff" d="M263.3 55.1l2.6-.4-2-1.5-2.6-.5z"/>
<path color="#2f81fa" d="M317.2 54.3l2.6-.9-2-2.2-2.6 .9z"/>
<path color="#2b91ef" d="M246.9 50.9l2.6-.1-2-.8-2.6 .1z"/>
<path color="#2b91ef" d="M300.7 52.5l2.6-.9-2-2.6-2.6 1.3z"/>
<path color="#2d8cf3" d="M284.3 51.6l2.6 0-2-1.3-2.6 1.8z"/>
<path color="#426afe" d="M267.9 55.7l2.6-1.4-2 .4-2.6 0z"/>
<path color="#317dfc" d="M321.8 54.3l2.6-.9-2-.8-2.6 .8z"/>
<path color="#2c8ef1" d="M251.5 51.2l2.6 .8-2-1.6-2.6 .4z"/>
<path color="#2d88f6" d="M305.4 52.5l2.6 .4-2.1-1.1-2.6-.2z"/>
<path color="#2b92ee" d="M288.9 51.5l2.6-.4-2-1.6-2.6 2.1z"/>
<path color="#3975fe" d="M272.5 54.5l2.6-.8-2-.2-2.6 .8z"/>
<path color="#2e84f8" d="M256.1 52.7l2.6 .8-2-2-2.6 .5z"/>
<path color="#3080fa" d="M310 54.6l2.6-.9-2-1.8-2.6 1z"/>
<path color="#2895ec" d="M293.5 50.5l2.6 .1-2 .3-2.6 .2z"/>
<path color="#317efb" d="M277.1 54.5l2.6-2.2-2 .5-2.6 .9z"/>
<path color="#3678fd" d="M260.7 54.5l2.6 .6-2-2.4-2.6 .8z"/>
<path color="#317dfc" d="M314.6 55.2l2.6-.9-2-2.2-2.6 1.6z"/>
<path color="#2994ed" d="M244.3 51.2l2.6-.3-2-.8-2.6 .7z"/>
<path color="#2b92ee" d="M298.1 52.4l2.6 .1-2-2.2-2.6 .3z"/>
<path color="#2d87f6" d="M281.7 54.4l2.6-2.8-2 .5-2.6 .2z"/>
<path color="#416cfe" d="M265.3 55.9l2.6-.2-2-1-2.6 .4z"/>
<path color="#327cfc" d="M319.2 54.6l2.6-.3-2-.9-2.6 .9z"/>
<path color="#2a93ee" d="M248.9 51.8l2.6-.6-2-.4-2.6 .1z"/>
<path color="#2d8bf4" d="M302.8 53.6l2.6-1.1-2.1-.9-2.6 .9z"/>
<path color="#2b91ef" d="M286.3 52l2.6-.5-2 .1-2.6 0z"/>
<path color="#3c71ff" d="M269.9 55.7l2.6-1.2-2-.2-2.6 1.4z"/>
<path color="#317efb" d="M323.8 55l2.6-.7-2-.9-2.6 .9z"/>
<path color="#2d8df2" d="M253.5 52.6l2.6 .1-2-.7-2.6-.8z"/>
<path color="#2e86f7" d="M307.4 53.1l2.6 1.5-2-1.7-2.6-.4z"/>
<path color="#2797eb" d="M290.9 52.2l2.6-1.7-2 .6-2.6 .4z"/>
<path color="#337afd" d="M274.5 54.9l2.6-.4-2-.8-2.6 .8z"/>
<path color="#2f82f9" d="M258.1 53.5l2.6 1-2-1-2.6-.8z"/>
<path color="#337bfc" d="M312 55.3l2.6-.1-2-1.5-2.6 .9z"/>
<path color="#2896ec" d="M241.7 51.5l2.6-.3-2-.4-2.6 .7z"/>
<path color="#2698ea" d="M295.5 52l2.6 .4-2-1.8-2.6-.1z"/>
<path color="#317dfc" d="M279.1 56.3l2.6-1.9-2-2.1-2.6 2.2z"/>
<path color="#3974fe" d="M262.7 55.2l2.6 .7-2-.8-2.6-.6z"/>
<path color="#327bfc" d="M316.6 55.6l2.6-1-2-.3-2.6 .9z"/>
<path color="#2797eb" d="M246.3 51.7l2.6 .1-2-.9-2.6 .3z"/>
<path color="#2d8df2" d="M300.2 53.3l2.6 .3-2.1-1.1-2.6-.1z"/>
<path color="#3b73fe" d="M267.3 55l2.6 .7-2 0-2.6 .2z"/>
<path color="#317dfc" d="M321.2 56.1l2.6-1.1-2-.7-2.6 .3z"/>
<path color="#2a93ed" d="M250.9 52.6l2.6 0-2-1.4-2.6 .6z"/>
<path color="#2d8df2" d="M304.8 53.7l2.6-.6-2-.6-2.6 1.1z"/>
<path color="#347afd" d="M271.9 55.6l2.6-.7-2-.4-2.6 1.2z"/>
<path color="#327dfc" d="M325.8 56.3l2.6-.8-2-1.2-2.6 .7z"/>
<path color="#2c8ef2" d="M255.5 52.9l2.6 .6-2-.8-2.6-.1z"/>
<path color="#2f83f9" d="M309.4 55.3l2.6 0-2-.7-2.6-1.5z"/>
<path color="#2798ea" d="M239.1 52l2.6-.5-2 0-2.6 .2z"/>
<path color="#337afd" d="M276.5 55.6l2.6 .7-2-1.8-2.6 .4z"/>
<path color="#2f81fa" d="M260.1 55.1l2.6 .1-2-.7-2.6-1z"/>
<path color="#337bfd" d="M314 56.6l2.6-1-2-.4-2.6 .1z"/>
<path color="#2699e9" d="M243.7 52.5l2.6-.8-2-.5-2.6 .3z"/>
<path color="#2993ed" d="M297.6 53.9l2.6-.6-2.1-.9-2.6-.4z"/>
<path color="#347afd" d="M264.7 56.2l2.6-1.2-2 .9-2.6-.7z"/>
<path color="#327cfc" d="M318.6 56.7l2.6-.6-2-1.5-2.6 1z"/>
<path color="#2699e9" d="M248.3 52l2.6 .6-2-.8-2.6-.1z"/>
<path color="#2c8ef1" d="M302.2 54.4l2.6-.7-2-.1-2.6-.3z"/>
<path color="#337bfd" d="M269.3 56.6l2.6-1-2 .1-2.6-.7z"/>
<path color="#327cfc" d="M323.2 56.5l2.6-.2-2-1.3-2.6 1.1z"/>
<path color="#2994ed" d="M252.9 53.3l2.6-.4-2-.3-2.6 0z"/>
<path color="#2d8bf4" d="M306.8 55.5l2.6-.2-2-2.2-2.6 .6z"/>
<path color="#269ae8" d="M236.5 52.5l2.6-.5-2-.3-2.6 .3z"/>
<path color="#307ffb" d="M273.9 56.2l2.6-.6-2-.7-2.6 .7z"/>
<path color="#337bfd" d="M327.8 57.2l2.6-.5-2-1.2-2.6 .8z"/>
<path color="#2d8df2" d="M257.5 54.1l2.6 1-2-1.6-2.6-.6z"/>
<path color="#317efb" d="M311.4 56.8l2.6-.2-2-1.3-2.6 0z"/>
<path color="#269be8" d="M241.1 53.1l2.6-.6-2-1-2.6 .5z"/>
<path color="#2f80fa" d="M262.1 56l2.6 .2-2-1-2.6-.1z"/>
<path color="#327cfc" d="M316 56.8l2.6-.1-2-1.1-2.6 1z"/>
<path color="#249ee6" d="M245.7 52.2l2.6-.2-2-.3-2.6 .8z"/>
<path color="#2c8ff0" d="M299.6 55.6l2.6-1.2-2-1.1-2.6 .6z"/>
<path color="#307ffb" d="M266.7 56.1l2.6 .5-2-1.6-2.6 1.2z"/>
<path color="#317dfc" d="M320.6 57l2.6-.5-2-.4-2.6 .6z"/>
<path color="#2699e9" d="M250.3 53.7l2.6-.4-2-.7-2.6-.6z"/>
<path color="#2d8cf3" d="M304.2 56.3l2.6-.8-2-1.8-2.6 .7z"/>
<path color="#259de7" d="M233.9 52.7l2.6-.2-2-.5-2.6 .5z"/>
<path color="#307ffb" d="M271.3 56.4l2.6-.2-2-.6-2.6 1z"/>
<path color="#327cfc" d="M325.2 58l2.6-.8-2-.9-2.6 .2z"/>
<path color="#2994ec" d="M254.9 54.7l2.6-.6-2-1.2-2.6 .4z"/>
<path color="#2e84f9" d="M308.8 56.8l2.6 0-2-1.5-2.6 .2z"/>
<path color="#259de7" d="M238.5 53l2.6 .1-2-1.1-2.6 .5z"/>
<path color="#3579fd" d="M329.8 58.1l2.6 .1-2-1.5-2.6 .5z"/>
<path color="#2d8af5" d="M259.5 55.9l2.6 .1-2-.9-2.6-1z"/>
<path color="#307ffb" d="M313.4 57.2l2.6-.4-2-.2-2.6 .2z"/>
<path color="#249fe5" d="M243.1 52.7l2.6-.5-2 .3-2.6 .6z"/>
<path color="#2f82f9" d="M264.1 56.9l2.6-.8-2 .1-2.6-.2z"/>
<path color="#307ffb" d="M318 58l2.6-1-2-.3-2.6 .1z"/>
<path color="#249fe5" d="M247.7 53.7l2.6 0-2-1.7-2.6 .2z"/>
<path color="#2d8bf3" d="M301.6 56.4l2.6-.1-2-1.9-2.6 1.2z"/>
<path color="#2e86f7" d="M268.7 55.5l2.6 .9-2 .2-2.6-.5z"/>
<path color="#327cfc" d="M322.6 58.9l2.6-.9-2-1.5-2.6 .5z"/>
<path color="#2896eb" d="M252.3 55.2l2.6-.5-2-1.4-2.6 .4z"/>
<path color="#2e87f7" d="M306.2 57.2l2.6-.4-2-1.3-2.6 .8z"/>
<path color="#23a0e5" d="M235.9 53.4l2.6-.4-2-.5-2.6 .2z"/>
<path color="#2d88f6" d="M273.3 56l2.6 .2-2 0-2.6 .2z"/>
<path color="#347afd" d="M327.2 59.2l2.6-1.1-2-.9-2.6 .8z"/>
<path color="#2895ec" d="M256.9 53.7l2.6 2.2-2-1.8-2.6 .6z"/>
<path color="#2e84f8" d="M310.8 57l2.6 .2-2-.4-2.6 0z"/>
<path color="#23a1e4" d="M240.5 53.5l2.6-.8-2 .4-2.6-.1z"/>
<path color="#3975fe" d="M331.8 59.9l2.6-.7-2-1-2.6-.1z"/>
<path color="#2d88f6" d="M261.5 56.7l2.6 .2-2-.9-2.6-.1z"/>
<path color="#317efb" d="M315.4 59.8l2.6-1.8-2-1.2-2.6 .4z"/>
<path color="#21a3e3" d="M245.1 53.4l2.6 .3-2-1.5-2.6 .5z"/>
<path color="#2d8af4" d="M266.1 57.1l2.6-1.6-2 .6-2.6 .8z"/>
<path color="#327bfc" d="M320 59.6l2.6-.7-2-1.9-2.6 1z"/>
<path color="#259be8" d="M249.7 54.6l2.6 .6-2-1.5-2.6 0z"/>
<path color="#2d88f6" d="M303.6 57.9l2.6-.7-2-.9-2.6 .1z"/>
<path color="#2c90f0" d="M270.7 56.1l2.6-.1-2 .4-2.6-.9z"/>
<path color="#3579fd" d="M324.6 59.3l2.6-.1-2-1.2-2.6 .9z"/>
<path color="#259ce7" d="M254.3 54.3l2.6-.6-2 1-2.6 .5z"/>
<path color="#2e87f7" d="M308.2 58.3l2.6-1.3-2-.2-2.6 .4z"/>
<path color="#21a3e4" d="M237.9 54.3l2.6-.8-2-.5-2.6 .4z"/>
<path color="#3876fe" d="M329.2 60.5l2.6-.6-2-1.8-2.6 1.1z"/>
<path color="#2797eb" d="M258.9 55l2.6 1.7-2-.8-2.6-2.2z"/>
<path color="#2f80fa" d="M312.8 59.3l2.6 .5-2-2.6-2.6-.2z"/>
<path color="#20a4e3" d="M242.5 54.6l2.6-1.2-2-.7-2.6 .8z"/>
<path color="#3d70ff" d="M333.8 61.4l2.6-.9-2-1.3-2.6 .7z"/>
<path color="#2d8bf4" d="M263.5 57.3l2.6-.2-2-.2-2.6-.2z"/>
<path color="#3777fe" d="M317.4 60.6l2.6-1-2-1.6-2.6 1.8z"/>
<path color="#22a2e4" d="M247.1 54.9l2.6-.3-2-.9-2.6-.3z"/>
<path color="#2d8df2" d="M301 57.3l2.6 .6-2-1.5-2.6 .5z"/>
<path color="#2a93ee" d="M268.1 56.7l2.6-.6-2-.6-2.6 1.6z"/>
<path color="#337bfd" d="M322 59.7l2.6-.4-2-.4-2.6 .7z"/>
<path color="#249ee6" d="M251.7 55.5l2.6-1.2-2 .9-2.6-.6z"/>
<path color="#2d88f6" d="M305.6 58.2l2.6 .1-2-1.1-2.6 .7z"/>
<path color="#2994ed" d="M272.7 55.8l2.6 1.9-2-1.7-2.6 .1z"/>
<path color="#3677fe" d="M326.6 60.8l2.6-.3-2-1.3-2.6 .1z"/>
<path color="#23a0e5" d="M256.3 56.3l2.6-1.3-2-1.3-2.6 .6z"/>
<path color="#2e84f8" d="M310.2 59.6l2.6-.3-2-2.3-2.6 1.3z"/>
<path color="#21a4e3" d="M239.9 55l2.6-.4-2-1.1-2.6 .8z"/>
<path color="#3c71ff" d="M331.2 61.3l2.6 .1-2-1.5-2.6 .6z"/>
<path color="#2896ec" d="M260.9 56.6l2.6 .7-2-.6-2.6-1.7z"/>
<path color="#3776fe" d="M314.8 61.3l2.6-.7-2-.8-2.6-.5z"/>
<path color="#21a3e3" d="M244.5 55.6l2.6-.7-2-1.5-2.6 1.2z"/>
<path color="#3c71ff" d="M335.8 61.2l2.6-.2-2-.5-2.6 .9z"/>
<path color="#2b91ef" d="M265.5 57.9l2.6-1.2-2 .4-2.6 .2z"/>
<path color="#3579fd" d="M319.4 61.1l2.6-1.4-2-.1-2.6 1z"/>
<path color="#23a0e5" d="M249.1 56.3l2.6-.8-2-.9-2.6 .3z"/>
<path color="#2c8ef2" d="M303 58.3l2.6-.1-2-.3-2.6-.6z"/>
<path color="#2699e9" d="M270.1 57.2l2.6-1.4-2 .3-2.6 .6z"/>
<path color="#337bfd" d="M324 61.5l2.6-.7-2-1.5-2.6 .4z"/>
<path color="#23a1e5" d="M253.7 55.8l2.6 .5-2-2-2.6 1.2z"/>
<path color="#2e87f7" d="M307.6 59.7l2.6-.1-2-1.3-2.6-.1z"/>
<path color="#3975fe" d="M328.6 61.9l2.6-.6-2-.8-2.6 .3z"/>
<path color="#259be8" d="M258.3 57.7l2.6-1.1-2-1.6-2.6 1.3z"/>
<path color="#327cfc" d="M312.2 61.1l2.6 .2-2-2-2.6 .3z"/>
<path color="#21a3e3" d="M241.9 56.1l2.6-.5-2-1-2.6 .4z"/>
<path color="#3a73fe" d="M333.2 62.2l2.6-1-2 .2-2.6-.1z"/>
<path color="#2895ec" d="M262.9 57.7l2.6 .2-2-.6-2.6-.7z"/>
<path color="#3777fe" d="M316.8 61.5l2.6-.4-2-.5-2.6 .7z"/>
<path color="#23a0e5" d="M246.5 57l2.6-.7-2-1.4-2.6 .7z"/>
<path color="#2c8ff0" d="M300.4 59.1l2.6-.8-2-1-2.6 1.7z"/>
<path color="#3678fd" d="M337.8 62l2.6-.9-2-.1-2.6 .2z"/>
<path color="#2896eb" d="M267.5 58.3l2.6-1.1-2-.5-2.6 1.2z"/>
<path color="#327cfc" d="M321.4 61l2.6 .5-2-1.8-2.6 1.4z"/>
<path color="#21a4e3" d="M251.1 55.5l2.6 .3-2-.3-2.6 .8z"/>
<path color="#2d8cf3" d="M305 60.3l2.6-.6-2-1.5-2.6 .1z"/>
<path color="#2699e9" d="M272.1 59.1l2.6-1.5-2-1.8-2.6 1.4z"/>
<path color="#3678fe" d="M326 62l2.6-.1-2-1.1-2.6 .7z"/>
<path color="#23a0e5" d="M255.7 56l2.6 1.7-2-1.4-2.6-.5z"/>
<path color="#2f81fa" d="M309.6 61.7l2.6-.6-2-1.5-2.6 .1z"/>
<path color="#3b72ff" d="M330.6 63.8l2.6-1.6-2-.9-2.6 .6z"/>
<path color="#269ae8" d="M260.3 57.9l2.6-.2-2-1.1-2.6 1.1z"/>
<path color="#337afd" d="M314.2 62l2.6-.5-2-.2-2.6-.2z"/>
<path color="#22a2e4" d="M243.9 57l2.6 0-2-1.4-2.6 .5z"/>
<path color="#3677fe" d="M335.2 62.9l2.6-.9-2-.8-2.6 1z"/>
<path color="#2699ea" d="M264.9 57.8l2.6 .5-2-.4-2.6-.2z"/>
<path color="#317dfc" d="M318.8 62.2l2.6-1.2-2 .1-2.6 .4z"/>
<path color="#21a4e3" d="M248.5 57l2.6-1.5-2 .8-2.6 .7z"/>
<path color="#2c8ef1" d="M302.4 60.2l2.6 .1-2-2-2.6 .8z"/>
<path color="#327cfc" d="M339.8 62.7l2.6-.9-2-.7-2.6 .9z"/>
<path color="#2797eb" d="M269.5 58.7l2.6 .4-2-1.9-2.6 1.1z"/>
<path color="#307ffb" d="M323.4 61.6l2.6 .4-2-.5-2.6-.5z"/>
<path color="#1da9e0" d="M253.1 56.7l2.6-.7-2-.2-2.6-.3z"/>
<path color="#2e87f7" d="M307 60.6l2.6 1.1-2-2-2.6 .6z"/>
<path color="#2994ed" d="M274.2 59.8l2.6-.5-2.1-1.7-2.6 1.5z"/>
<path color="#3975fe" d="M328 63.2l2.6 .6-2-1.9-2.6 .1z"/>
<path color="#23a1e4" d="M257.7 57.6l2.6 .3-2-.2-2.6-1.7z"/>
<path color="#3080fa" d="M311.6 61.6l2.6 .4-2-.9-2.6 .6z"/>
<path color="#3a74fe" d="M332.6 63.5l2.6-.6-2-.7-2.6 1.6z"/>
<path color="#249fe5" d="M262.3 57.8l2.6 0-2-.1-2.6 .2z"/>
<path color="#317efb" d="M316.2 62.5l2.6-.3-2-.7-2.6 .5z"/>
<path color="#21a3e3" d="M245.9 57.7l2.6-.7-2 0-2.6 0z"/>
<path color="#2d89f5" d="M299.8 62.7l2.6-2.5-2-1.1-2.6 2z"/>
<path color="#327cfc" d="M337.2 62.7l2.6 0-2-.7-2.6 .9z"/>
<path color="#259de7" d="M266.9 58.5l2.6 .2-2-.4-2.6-.5z"/>
<path color="#317dfc" d="M320.8 64.6l2.6-3-2-.6-2.6 1.2z"/>
<path color="#1da8e0" d="M250.5 57.7l2.6-1-2-1.2-2.6 1.5z"/>
<path color="#2d8cf3" d="M304.4 61.7l2.6-1.1-2-.3-2.6-.1z"/>
<path color="#2798ea" d="M271.6 59l2.6 .8-2.1-.7-2.6-.4z"/>
<path color="#317efb" d="M325.4 63.4l2.6-.2-2-1.2-2.6-.4z"/>
<path color="#1da8e0" d="M255.1 57.7l2.6-.1-2-1.6-2.6 .7z"/>
<path color="#2e86f8" d="M309 62.6l2.6-1-2 .1-2.6-1.1z"/>
<path color="#2a93ee" d="M276.2 60.6l2.6-.2-2-1.1-2.6 .5z"/>
<path color="#3875fe" d="M330 64l2.6-.5-2 .3-2.6-.6z"/>
<path color="#21a4e3" d="M259.7 58.1l2.6-.3-2 .1-2.6-.3z"/>
<path color="#2f82f9" d="M313.6 63l2.6-.5-2-.5-2.6-.4z"/>
<path color="#3080fb" d="M297.2 63.4l2.6-.7-2-1.6-2.6 1.6z"/>
<path color="#327cfc" d="M334.6 63.8l2.6-1.1-2 .2-2.6 .6z"/>
<path color="#23a0e5" d="M264.3 60l2.6-1.5-2-.7-2.6 0z"/>
<path color="#337bfd" d="M318.2 63.9l2.6 .7-2-2.4-2.6 .3z"/>
<path color="#1fa6e2" d="M247.9 58.7l2.6-1-2-.7-2.6 .7z"/>
<path color="#2e84f8" d="M301.8 64.3l2.6-2.6-2-1.5-2.6 2.5z"/>
<path color="#249ee6" d="M269 60.4l2.6-1.4-2.1-.3-2.6-.2z"/>
<path color="#327cfc" d="M322.8 64.1l2.6-.7-2-1.8-2.6 3z"/>
<path color="#1da9e0" d="M252.5 58.1l2.6-.4-2-1-2.6 1z"/>
<path color="#2d88f6" d="M306.4 63.5l2.6-.9-2-2-2.6 1.1z"/>
<path color="#2699e9" d="M273.6 60.4l2.6 .2-2-.8-2.6-.8z"/>
<path color="#327cfc" d="M327.4 63.9l2.6 .1-2-.8-2.6 .2z"/>
<path color="#1da8e0" d="M257.1 58.1l2.6 0-2-.5-2.6 .1z"/>
<path color="#2e83f9" d="M311 64.2l2.6-1.2-2-1.4-2.6 1z"/>
<path color="#327dfc" d="M294.6 63.8l2.6-.4-2-.7-2.6 1.4z"/>
<path color="#2b90f0" d="M278.2 61.9l2.6 .3-2-1.8-2.6 .2z"/>
<path color="#337bfd" d="M332 64.8l2.6-1-2-.3-2.6 .5z"/>
<path color="#21a4e3" d="M261.7 59.2l2.6 .8-2-2.2-2.6 .3z"/>
<path color="#3080fb" d="M315.6 64.5l2.6-.6-2-1.4-2.6 .5z"/>
<path color="#317dfc" d="M299.2 64.4l2.6-.1-2-1.6-2.6 .7z"/>
<path color="#2d89f5" d="M282.8 63.6l2.6-1.8-2 0-2.6 .4z"/>
<path color="#249ee6" d="M266.4 60.3l2.6 .1-2.1-1.9-2.6 1.5z"/>
<path color="#337bfc" d="M320.2 64.2l2.6-.1-2 .5-2.6-.7z"/>
<path color="#1da9e0" d="M249.9 58.8l2.6-.7-2-.4-2.6 1z"/>
<path color="#2f80fa" d="M303.8 64.9l2.6-1.4-2-1.8-2.6 2.6z"/>
<path color="#2e85f8" d="M287.4 63.5l2.6 .3-2-.8-2.6-1.2z"/>
<path color="#259be7" d="M271 61.6l2.6-1.2-2-1.4-2.6 1.4z"/>
<path color="#2f80fa" d="M324.8 64.2l2.6-.3-2-.5-2.6 .7z"/>
<path color="#1babde" d="M254.5 58.9l2.6-.8-2-.4-2.6 .4z"/>
<path color="#2e85f8" d="M308.4 62.9l2.6 1.3-2-1.6-2.6 .9z"/>
<path color="#327cfc" d="M292 65.3l2.6-1.5-2 .3-2.6-.3z"/>
<path color="#2895ec" d="M275.6 62.4l2.6-.5-2-1.3-2.6-.2z"/>
<path color="#317efb" d="M329.4 64.9l2.6-.1-2-.8-2.6-.1z"/>
<path color="#1caadf" d="M259.1 59.2l2.6 0-2-1.1-2.6 0z"/>
<path color="#2f82fa" d="M313 64.1l2.6 .4-2-1.5-2.6 1.2z"/>
<path color="#327cfc" d="M296.6 66.2l2.6-1.8-2-1-2.6 .4z"/>
<path color="#2d88f6" d="M280.2 64.7l2.6-1.1-2-1.4-2.6-.3z"/>
<path color="#21a2e4" d="M263.8 59.9l2.6 .4-2.1-.3-2.6-.8z"/>
<path color="#2f81fa" d="M317.6 64.5l2.6-.3-2-.3-2.6 .6z"/>
<path color="#3578fd" d="M301.2 66.7l2.6-1.8-2-.6-2.6 .1z"/>
<path color="#2d88f6" d="M284.8 64.7l2.6-1.2-2-1.7-2.6 1.8z"/>
<path color="#259de7" d="M268.4 61l2.6 .6-2-1.2-2.6-.1z"/>
<path color="#2e83f9" d="M322.2 64.5l2.6-.3-2-.1-2.6 .1z"/>
<path color="#1aacdd" d="M251.9 59.2l2.6-.3-2-.8-2.6 .7z"/>
<path color="#2e86f7" d="M305.8 64.2l2.6-1.3-2 .6-2.6 1.4z"/>
<path color="#2e83f9" d="M289.4 64.1l2.6 1.2-2-1.5-2.6-.3z"/>
<path color="#2797eb" d="M273 62.8l2.6-.4-2-2-2.6 1.2z"/>
<path color="#2f82f9" d="M326.8 65.5l2.6-.6-2-1-2.6 .3z"/>
<path color="#19addc" d="M256.5 59.4l2.6-.2-2-1.1-2.6 .8z"/>
<path color="#2d89f5" d="M310.4 63.9l2.6 .2-2 .1-2.6-1.3z"/>
<path color="#337afd" d="M294 66l2.6 .2-2-2.4-2.6 1.5z"/>
<path color="#2d8cf3" d="M277.6 64.4l2.6 .3-2-2.8-2.6 .5z"/>
<path color="#1ca9e0" d="M261.2 60.4l2.6-.5-2.1-.7-2.6 0z"/>
<path color="#2e85f8" d="M315 64.7l2.6-.2-2 0-2.6-.4z"/>
<path color="#3b72fe" d="M298.6 68.2l2.6-1.5-2-2.3-2.6 1.8z"/>
<path color="#2f82f9" d="M282.2 65.9l2.6-1.2-2-1.1-2.6 1.1z"/>
<path color="#21a4e3" d="M265.8 61.4l2.6-.4-2-.7-2.6-.4z"/>
<path color="#2d88f6" d="M319.6 64.5l2.6 0-2-.3-2.6 .3z"/>
<path color="#347afd" d="M303.2 67.7l2.6-3.5-2 .7-2.6 1.8z"/>
<path color="#2d88f6" d="M286.8 65.1l2.6-1-2-.6-2.6 1.2z"/>
<path color="#269ae9" d="M270.4 63.3l2.6-.5-2-1.2-2.6-.6z"/>
<path color="#2e86f7" d="M324.2 65.3l2.6 .2-2-1.3-2.6 .3z"/>
<path color="#15afd9" d="M253.9 59.4l2.6 0-2-.5-2.6 .3z"/>
<path color="#2d8bf4" d="M307.8 66.2l2.6-2.3-2-1-2.6 1.3z"/>
<path color="#2f82f9" d="M291.4 65.4l2.6 .6-2-.7-2.6-1.2z"/>
<path color="#2b91ef" d="M275 64.1l2.6 .3-2-2-2.6 .4z"/>
<path color="#1aacdd" d="M258.6 60.8l2.6-.4-2.1-1.2-2.6 .2z"/>
<path color="#2d8af4" d="M312.4 65.6l2.6-.9-2-.6-2.6-.2z"/>
<path color="#3776fe" d="M296 66.3l2.6 1.9-2-2-2.6-.2z"/>
<path color="#2e85f8" d="M279.6 65.3l2.6 .6-2-1.2-2.6-.3z"/>
<path color="#1ea7e1" d="M263.2 61.8l2.6-.4-2-1.5-2.6 .5z"/>
<path color="#2d8bf4" d="M317 65.3l2.6-.8-2 0-2.6 .2z"/>
<path color="#3e6fff" d="M300.6 67.7l2.6 0-2-1-2.6 1.5z"/>
<path color="#2e84f8" d="M284.2 65.9l2.6-.8-2-.4-2.6 1.2z"/>
<path color="#23a0e5" d="M267.8 62.3l2.6 1-2-2.3-2.6 .4z"/>
<path color="#2d8cf3" d="M321.6 65.3l2.6 0-2-.8-2.6 0z"/>
<path color="#307ffb" d="M305.2 67.1l2.6-.9-2-2-2.6 3.5z"/>
<path color="#2d88f6" d="M288.8 66.3l2.6-.9-2-1.3-2.6 1z"/>
<path color="#2796eb" d="M272.4 63.9l2.6 .2-2-1.3-2.6 .5z"/>
<path color="#14b0d8" d="M256 60.7l2.6 .1-2.1-1.4-2.6 0z"/>
<path color="#2d89f5" d="M309.8 66l2.6-.4-2-1.7-2.6 2.3z"/>
<path color="#2e83f9" d="M293.4 66.5l2.6-.2-2-.3-2.6-.6z"/>
<path color="#2c8ff1" d="M277 64.9l2.6 .4-2-.9-2.6-.3z"/>
<path color="#1caadf" d="M260.6 61.7l2.6 .1-2-1.4-2.6 .4z"/>
<path color="#2d8cf3" d="M314.4 65.8l2.6-.5-2-.6-2.6 .9z"/>
<path color="#3876fe" d="M298 68.3l2.6-.6-2 .5-2.6-1.9z"/>
<path color="#2e86f7" d="M281.6 66.6l2.6-.7-2 0-2.6-.6z"/>
<path color="#1fa6e1" d="M265.2 62l2.6 .3-2-.9-2.6 .4z"/>
<path color="#2c8ff1" d="M319 65.8l2.6-.5-2-.8-2.6 .8z"/>
<path color="#3578fd" d="M302.6 68.1l2.6-1-2 .6-2.6 0z"/>
<path color="#2e86f7" d="M286.2 67.3l2.6-1-2-1.2-2.6 .8z"/>
<path color="#249ee6" d="M269.8 63.4l2.6 .5-2-.6-2.6-1z"/>
<path color="#2e85f8" d="M307.2 67.2l2.6-1.2-2 .2-2.6 .9z"/>
<path color="#2d88f6" d="M290.8 66.4l2.6 .1-2-1.1-2.6 .9z"/>
<path color="#2797eb" d="M274.4 64.7l2.6 .2-2-.8-2.6-.2z"/>
<path color="#17aedb" d="M258 61.9l2.6-.2-2-.9-2.6-.1z"/>
<path color="#2c8ef2" d="M311.8 66l2.6-.2-2-.2-2.6 .4z"/>
<path color="#2f81fa" d="M295.4 67.6l2.6 .7-2-2-2.6 .2z"/>
<path color="#2d8cf3" d="M279 66.9l2.6-.3-2-1.3-2.6-.4z"/>
<path color="#1babde" d="M262.6 62.4l2.6-.4-2-.2-2.6-.1z"/>
<path color="#2b91ef" d="M316.4 65.7l2.6 .1-2-.5-2.6 .5z"/>
<path color="#347afd" d="M300 68.5l2.6-.4-2-.4-2.6 .6z"/>
<path color="#2e86f8" d="M283.6 67.7l2.6-.4-2-1.4-2.6 .7z"/>
<path color="#1fa6e2" d="M267.2 63.9l2.6-.5-2-1.1-2.6-.3z"/>
<path color="#3080fb" d="M304.6 68.9l2.6-1.7-2-.1-2.6 1z"/>
<path color="#2e86f7" d="M288.2 68.2l2.6-1.8-2-.1-2.6 1z"/>
<path color="#239fe5" d="M271.8 63.9l2.6 .8-2-.8-2.6-.5z"/>
<path color="#2d8bf4" d="M309.2 68.2l2.6-2.2-2 0-2.6 1.2z"/>
<path color="#2d89f5" d="M292.8 67.4l2.6 .2-2-1.1-2.6-.1z"/>
<path color="#2995ec" d="M276.4 65.8l2.6 1.1-2-2-2.6-.2z"/>
<path color="#18aedb" d="M260 62.9l2.6-.5-2-.7-2.6 .2z"/>
<path color="#2a93ed" d="M313.8 66.9l2.6-1.2-2 .1-2.6 .2z"/>
<path color="#2f81fa" d="M297.4 67.8l2.6 .7-2-.2-2.6-.7z"/>
<path color="#2d89f5" d="M281 67.6l2.6 .1-2-1.1-2.6 .3z"/>
<path color="#1da9e0" d="M264.6 64.3l2.6-.4-2-1.9-2.6 .4z"/>
<path color="#307ffb" d="M302 68.7l2.6 .2-2-.8-2.6 .4z"/>
<path color="#2e84f9" d="M285.6 68.8l2.6-.6-2-.9-2.6 .4z"/>
<path color="#21a3e3" d="M269.2 65.5l2.6-1.6-2-.5-2.6 .5z"/>
<path color="#2e84f8" d="M306.6 68.8l2.6-.6-2-1-2.6 1.7z"/>
<path color="#2d88f6" d="M290.2 69.2l2.6-1.8-2-1-2.6 1.8z"/>
<path color="#249fe5" d="M273.8 65.4l2.6 .4-2-1.1-2.6-.8z"/>
<path color="#2c8ff1" d="M311.2 68.1l2.6-1.2-2-.9-2.6 2.2z"/>
<path color="#2d8bf4" d="M294.8 68.2l2.6-.4-2-.2-2.6-.2z"/>
<path color="#2a93ed" d="M278.4 66.5l2.6 1.1-2-.7-2.6-1.1z"/>
<path color="#1aacdd" d="M262 64.1l2.6 .2-2-1.9-2.6 .5z"/>
<path color="#2e87f7" d="M299.4 68.7l2.6 0-2-.2-2.6-.7z"/>
<path color="#2d8af4" d="M283 67.7l2.6 1.1-2-1.1-2.6-.1z"/>
<path color="#20a4e3" d="M266.6 65.1l2.6 .4-2-1.6-2.6 .4z"/>
<path color="#2e84f8" d="M304 69.3l2.6-.5-2 .1-2.6-.2z"/>
<path color="#2e85f8" d="M287.6 68.8l2.6 .4-2-1-2.6 .6z"/>
<path color="#22a1e4" d="M271.2 66.6l2.6-1.2-2-1.5-2.6 1.6z"/>
<path color="#2d8af5" d="M308.6 69.2l2.6-1.1-2 .1-2.6 .6z"/>
<path color="#2d8af5" d="M292.2 69.3l2.6-1.1-2-.8-2.6 1.8z"/>
<path color="#259de7" d="M275.8 67l2.6-.5-2-.7-2.6-.4z"/>
<path color="#2d8bf3" d="M296.8 69.6l2.6-.9-2-.9-2.6 .4z"/>
<path color="#2796eb" d="M280.4 67.2l2.6 .5-2-.1-2.6-1.1z"/>
<path color="#1da8e0" d="M264 65.9l2.6-.8-2-.8-2.6-.2z"/>
<path color="#2d8af4" d="M301.4 69.1l2.6 .2-2-.6-2.6 0z"/>
<path color="#2d8df2" d="M285 69.1l2.6-.3-2 0-2.6-1.1z"/>
<path color="#22a2e4" d="M268.6 66.4l2.6 .2-2-1.1-2.6-.4z"/>
<path color="#2d8af5" d="M306 69.7l2.6-.5-2-.4-2.6 .5z"/>
<path color="#2d8af5" d="M289.6 69.4l2.6-.1-2-.1-2.6-.4z"/>
<path color="#239fe5" d="M273.2 67.1l2.6-.1-2-1.6-2.6 1.2z"/>
<path color="#2d8af4" d="M294.2 70.5l2.6-.9-2-1.4-2.6 1.1z"/>
<path color="#249fe5" d="M277.8 66.7l2.6 .5-2-.7-2.6 .5z"/>
<path color="#2c8ef2" d="M298.8 69.5l2.6-.4-2-.4-2.6 .9z"/>
<path color="#2798ea" d="M282.4 67.9l2.6 1.2-2-1.4-2.6-.5z"/>
<path color="#1fa6e2" d="M266 67.1l2.6-.7-2-1.3-2.6 .8z"/>
<path color="#2c8ff1" d="M303.4 69.3l2.6 .4-2-.4-2.6-.2z"/>
<path color="#2d8df2" d="M287 70.6l2.6-1.2-2-.6-2.6 .3z"/>
<path color="#22a2e4" d="M270.6 67.2l2.6-.1-2-.5-2.6-.2z"/>
<path color="#2d8af4" d="M291.6 71.1l2.6-.6-2-1.2-2.6 .1z"/>
<path color="#22a1e4" d="M275.2 68.2l2.6-1.5-2 .3-2.6 .1z"/>
<path color="#2d8cf3" d="M296.2 70.7l2.6-1.2-2 .1-2.6 .9z"/>
<path color="#21a3e4" d="M279.8 67.5l2.6 .4-2-.7-2.6-.5z"/>
<path color="#2994ed" d="M300.8 69.8l2.6-.5-2-.2-2.6 .4z"/>
<path color="#2895ec" d="M284.4 69.3l2.6 1.3-2-1.5-2.6-1.2z"/>
<path color="#20a5e2" d="M268 68l2.6-.8-2-.8-2.6 .7z"/>
<path color="#2c8ef2" d="M289 70.2l2.6 .9-2-1.7-2.6 1.2z"/>
<path color="#22a2e4" d="M272.6 68.8l2.6-.6-2-1.1-2.6 .1z"/>
<path color="#2d8cf3" d="M293.6 70.8l2.6-.1-2-.2-2.6 .6z"/>
<path color="#20a4e3" d="M277.2 69l2.6-1.5-2-.8-2.6 1.5z"/>
<path color="#2a93ee" d="M298.2 71l2.6-1.2-2-.3-2.6 1.2z"/>
<path color="#23a0e5" d="M281.8 69.6l2.6-.3-2-1.4-2.6-.4z"/>
<path color="#2895ec" d="M286.4 70.4l2.6-.2-2 .4-2.6-1.3z"/>
<path color="#21a3e4" d="M270 69.6l2.6-.8-2-1.6-2.6 .8z"/>
<path color="#2a93ee" d="M291 70.6l2.6 .2-2 .3-2.6-.9z"/>
<path color="#23a0e5" d="M274.6 70l2.6-1-2-.8-2.6 .6z"/>
<path color="#2a93ee" d="M295.6 71.4l2.6-.4-2-.3-2.6 .1z"/>
<path color="#22a2e4" d="M279.2 70.1l2.6-.5-2-2.1-2.6 1.5z"/>
<path color="#259ce7" d="M283.8 70.9l2.6-.5-2-1.1-2.6 .3z"/>
<path color="#2699e9" d="M288.4 71.3l2.6-.7-2-.4-2.6 .2z"/>
<path color="#23a0e5" d="M272 70.5l2.6-.5-2-1.2-2.6 .8z"/>
<path color="#2797eb" d="M293 71.8l2.6-.4-2-.6-2.6-.2z"/>
<path color="#23a0e5" d="M276.6 70.8l2.6-.7-2-1.1-2.6 1z"/>
<path color="#249ee6" d="M281.2 71.3l2.6-.4-2-1.3-2.6 .5z"/>
<path color="#259be8" d="M285.8 71.5l2.6-.2-2-.9-2.6 .5z"/>
<path color="#269ae9" d="M290.4 72.1l2.6-.3-2-1.2-2.6 .7z"/>
<path color="#249fe5" d="M274 71.6l2.6-.8-2-.8-2.6 .5z"/>
<path color="#249fe6" d="M278.6 71.9l2.6-.6-2-1.2-2.6 .7z"/>
<path color="#249ee6" d="M283.2 71.8l2.6-.3-2-.6-2.6 .4z"/>
<path color="#259ce7" d="M287.8 72.3l2.6-.2-2-.8-2.6 .2z"/>
<path color="#249fe6" d="M276 72.5l2.6-.6-2-1.1-2.6 .8z"/>
<path color="#249fe6" d="M280.6 72.8l2.6-1-2-.5-2.6 .6z"/>
<path color="#249fe5" d="M285.2 72.9l2.6-.6-2-.8-2.6 .3z"/>
<path color="#249fe6" d="M278 73.3l2.6-.5-2-.9-2.6 .6z"/>
<path color="#23a0e5" d="M282.6 73.1l2.6-.2-2-1.1-2.6 1z"/>
<path color="#22a1e4" d="M280 73.6l2.6-.5-2-.3-2.6 .5z"/></g>
<text class="tk" x="228.4" y="24.5" text-anchor="end">2</text>
<text class="tk" x="228.4" y="40.1" text-anchor="end">1.5</text>
<text class="tk" x="228.4" y="55.8" text-anchor="end">1</text>
<text class="tk" x="228.4" y="71.6" text-anchor="end">0.5</text>
<text class="tk" x="230.6" y="84.3" text-anchor="middle">10</text>
<text class="tk" x="253.1" y="93.4" text-anchor="middle">5</text>
<text class="tk" x="273.0" y="102.9" text-anchor="middle">0</text>
<text class="tk" x="286.9" y="103.4" text-anchor="middle">0</text>
<text class="tk" x="313.0" y="96.6" text-anchor="middle">5</text>
<text class="tk" x="341.8" y="89.3" text-anchor="middle">10</text>
<text class="lb" transform="translate(209.8 45.8) rotate(-90)" text-anchor="middle">f(x,y) (%)</text>
<text class="lb" x="209.0" y="112.2">y-axis</text>
<text class="lb" x="320.5" y="113.5">x-axis</text>
<text class="cp cb" x="196.0" y="128.9" textLength="11.9" lengthAdjust="spacingAndGlyphs">(b)</text>
<text class="cp" x="213.4" y="128.9" textLength="18.4" lengthAdjust="spacingAndGlyphs">Field</text>
<text class="cp" x="237.2" y="128.9" textLength="8.2" lengthAdjust="spacingAndGlyphs">A:</text>
<text class="cp" x="250.9" y="128.9" textLength="9.7" lengthAdjust="spacingAndGlyphs"><tspan class="it">μ</tspan><tspan class="it" font-size="6.2" dy="-3.3">A</tspan></text>
<text class="cp eq" x="269.1" y="128.9" textLength="6.8" lengthAdjust="spacingAndGlyphs">=</text>
<text class="cp" x="283.6" y="128.9" textLength="18.7" lengthAdjust="spacingAndGlyphs">0.9%,</text>
<text class="cp" x="306.0" y="128.9" textLength="9.9" lengthAdjust="spacingAndGlyphs"><tspan class="it">σ</tspan><tspan class="it" font-size="6.2" dy="-3.3">A</tspan></text>
<text class="cp eq" x="324.1" y="128.9" textLength="7.0" lengthAdjust="spacingAndGlyphs">=</text>
<text class="cp" x="338.8" y="128.9" textLength="19.7" lengthAdjust="spacingAndGlyphs">0.1%,</text>
<text class="cp it" x="195.8" y="139.2" textLength="5.0" lengthAdjust="spacingAndGlyphs">â</text>
<text class="cp eq" x="202.7" y="139.2" textLength="6.3" lengthAdjust="spacingAndGlyphs">=</text>
<text class="cp" x="212.2" y="139.2" textLength="8.3" lengthAdjust="spacingAndGlyphs">12</text>
<text class="cp" x="221.0" y="139.2" textLength="13.4" lengthAdjust="spacingAndGlyphs">μm</text>
</g>
<g>
<path class="gm" d="M468.2 90.6L420.1 68.3M420.1 68.3L420.1 20.8M468.2 90.6L530.6 74.2M530.6 74.2L530.6 26.7M473.6 89.2L425.5 66.9M425.5 66.9L425.5 19.4M464.0 88.7L526.4 72.3M526.4 72.3L526.4 24.8M479.1 87.7L431.0 65.4M431.0 65.4L431.0 17.9M459.8 86.7L522.2 70.3M522.2 70.3L522.2 22.8M484.5 86.3L436.4 64.0M436.4 64.0L436.4 16.5M455.7 84.8L518.1 68.4M518.1 68.4L518.1 20.9M489.9 84.9L441.8 62.6M441.8 62.6L441.8 15.1M451.5 82.8L513.9 66.4M513.9 66.4L513.9 18.9M495.3 83.5L447.2 61.2M447.2 61.2L447.2 13.7M447.3 80.9L509.7 64.5M509.7 64.5L509.7 17.0M500.8 82.0L452.7 59.7M452.7 59.7L452.7 12.2M443.1 79.0L505.5 62.6M505.5 62.6L505.5 15.1M506.2 80.6L458.1 58.3M458.1 58.3L458.1 10.8M438.9 77.0L501.3 60.6M501.3 60.6L501.3 13.1M511.6 79.2L463.5 56.9M463.5 56.9L463.5 9.4M434.7 75.1L497.1 58.7M497.1 58.7L497.1 11.2M517.0 77.8L468.9 55.5M468.9 55.5L468.9 8.0M430.6 73.1L493.0 56.7M493.0 56.7L493.0 9.2M522.5 76.3L474.4 54.0M474.4 54.0L474.4 6.5M426.4 71.2L488.8 54.8M488.8 54.8L488.8 7.3M527.9 74.9L479.8 52.6M479.8 52.6L479.8 5.1M422.2 69.3L484.6 52.9M484.6 52.9L484.6 5.4M420.1 68.3L482.5 51.9M482.5 51.9L530.6 74.2M420.1 65.1L482.5 48.7M482.5 48.7L530.6 71.0M420.1 62.0L482.5 45.6M482.5 45.6L530.6 67.9M420.1 58.8L482.5 42.4M482.5 42.4L530.6 64.7M420.1 55.6L482.5 39.2M482.5 39.2L530.6 61.5M420.1 52.5L482.5 36.1M482.5 36.1L530.6 58.4M420.1 49.3L482.5 32.9M482.5 32.9L530.6 55.2M420.1 46.1L482.5 29.7M482.5 29.7L530.6 52.0M420.1 43.0L482.5 26.6M482.5 26.6L530.6 48.9M420.1 39.8L482.5 23.4M482.5 23.4L530.6 45.7M420.1 36.6L482.5 20.2M482.5 20.2L530.6 42.5M420.1 33.5L482.5 17.1M482.5 17.1L530.6 39.4M420.1 30.3L482.5 13.9M482.5 13.9L530.6 36.2M420.1 27.1L482.5 10.7M482.5 10.7L530.6 33.0M420.1 24.0L482.5 7.6M482.5 7.6L530.6 29.9M420.1 20.8L482.5 4.4M482.5 4.4L530.6 26.7"/>
<path class="gM" d="M468.2 90.6L420.1 68.3M420.1 68.3L420.1 20.8M468.2 90.6L530.6 74.2M530.6 74.2L530.6 26.7M495.3 83.5L447.2 61.2M447.2 61.2L447.2 13.7M447.3 80.9L509.7 64.5M509.7 64.5L509.7 17.0M522.5 76.3L474.4 54.0M474.4 54.0L474.4 6.5M426.4 71.2L488.8 54.8M488.8 54.8L488.8 7.3M420.1 68.3L482.5 51.9M482.5 51.9L530.6 74.2M420.1 52.5L482.5 36.1M482.5 36.1L530.6 58.4M420.1 36.6L482.5 20.2M482.5 20.2L530.6 42.5M420.1 20.8L482.5 4.4M482.5 4.4L530.6 26.7"/>
<path class="ax" d="M420.1 68.3L420.1 20.8M420.1 68.3L468.2 90.6M468.2 90.6L530.6 74.2M468.2 90.6L466.9 90.0M468.2 90.6L469.8 90.2M495.3 83.5L494.1 82.9M447.3 80.9L448.9 80.5M522.5 76.3L521.2 75.8M426.4 71.2L428.0 70.8M420.1 68.3L421.7 67.9M420.1 52.5L421.7 52.0M420.1 36.6L421.7 36.2M420.1 20.8L421.7 20.4"/>
<g class="s"><path color="#2e87f7" d="M481.9 40.3l2.6-.9-2-1-2.6 .9z"/>
<path color="#2e85f8" d="M479.3 41l2.6-.7-2-1-2.6 .8z"/>
<path color="#2e85f8" d="M483.9 41.5l2.6-1-2-1.1-2.6 .9z"/>
<path color="#2f82f9" d="M476.7 42.4l2.6-1.4-2-.9-2.6 1.3z"/>
<path color="#2e84f9" d="M481.3 42.3l2.6-.8-2-1.2-2.6 .7z"/>
<path color="#2e84f8" d="M485.9 42.5l2.6-1-2-1-2.6 1z"/>
<path color="#307ffb" d="M474.1 43.2l2.6-.8-2-1-2.6 .7z"/>
<path color="#2f82f9" d="M478.7 42.9l2.6-.6-2-1.3-2.6 1.4z"/>
<path color="#2f82f9" d="M483.3 43.1l2.6-.6-2-1-2.6 .8z"/>
<path color="#2e84f8" d="M487.9 43l2.6-.5-2-1-2.6 1z"/>
<path color="#317efb" d="M471.5 43.8l2.6-.6-2-1.1-2.6 .7z"/>
<path color="#307ffb" d="M476.1 44.1l2.6-1.2-2-.5-2.6 .8z"/>
<path color="#2e83f9" d="M480.7 43.5l2.6-.4-2-.8-2.6 .6z"/>
<path color="#2e84f8" d="M485.3 43.7l2.6-.7-2-.5-2.6 .6z"/>
<path color="#2f81fa" d="M468.9 43.9l2.6-.1-2-1-2.6 .2z"/>
<path color="#2e87f7" d="M489.9 43.4l2.6-.1-2-.8-2.6 .5z"/>
<path color="#317dfc" d="M473.5 45l2.6-.9-2-.9-2.6 .6z"/>
<path color="#2f80fa" d="M478.1 45.3l2.6-1.8-2-.6-2.6 1.2z"/>
<path color="#2e85f8" d="M482.7 44.4l2.6-.7-2-.6-2.6 .4z"/>
<path color="#2e85f8" d="M466.3 44.2l2.6-.3-2-.9-2.6 .3z"/>
<path color="#2d88f6" d="M487.3 44.2l2.6-.8-2-.4-2.6 .7z"/>
<path color="#307ffb" d="M470.9 45.3l2.6-.3-2-1.2-2.6 .1z"/>
<path color="#2d89f6" d="M491.9 44.5l2.6-.6-2-.6-2.6 .1z"/>
<path color="#317dfc" d="M475.5 45.4l2.6-.1-2-1.2-2.6 .9z"/>
<path color="#2f81fa" d="M480.1 46.1l2.6-1.7-2-.9-2.6 1.8z"/>
<path color="#2d89f5" d="M463.7 44.5l2.6-.3-2-.9-2.6 0z"/>
<path color="#2e87f7" d="M484.7 45.2l2.6-1-2-.5-2.6 .7z"/>
<path color="#2e84f9" d="M468.3 45.3l2.6 0-2-1.4-2.6 .3z"/>
<path color="#2d89f5" d="M489.3 45.3l2.6-.8-2-1.1-2.6 .8z"/>
<path color="#307ffb" d="M472.9 46.1l2.6-.7-2-.4-2.6 .3z"/>
<path color="#2d88f6" d="M493.9 45.6l2.6-.7-2-1-2.6 .6z"/>
<path color="#3080fa" d="M477.5 45.5l2.6 .6-2-.8-2.6 .1z"/>
<path color="#2c8ff1" d="M461.1 44.3l2.6 .2-2-1.2-2.6 0z"/>
<path color="#2f81fa" d="M482.1 47.1l2.6-1.9-2-.8-2.6 1.7z"/>
<path color="#2d88f6" d="M465.7 45.4l2.6-.1-2-1.1-2.6 .3z"/>
<path color="#2e87f7" d="M486.7 46.7l2.6-1.4-2-1.1-2.6 1z"/>
<path color="#2e83f9" d="M470.3 45.9l2.6 .2-2-.8-2.6 0z"/>
<path color="#2d88f6" d="M491.3 46.6l2.6-1-2-1.1-2.6 .8z"/>
<path color="#2e84f8" d="M474.9 46.2l2.6-.7-2-.1-2.6 .7z"/>
<path color="#2b91ef" d="M458.5 45.1l2.6-.8-2-1-2.6 1z"/>
<path color="#2d88f6" d="M495.9 46.4l2.6-.7-2-.8-2.6 .7z"/>
<path color="#2f81fa" d="M479.5 47l2.6 .1-2-1-2.6-.6z"/>
<path color="#2c8ef1" d="M463.1 45.3l2.6 .1-2-.9-2.6-.2z"/>
<path color="#307ffb" d="M484.1 48.3l2.6-1.6-2-1.5-2.6 1.9z"/>
<path color="#2d89f5" d="M467.7 46l2.6-.1-2-.6-2.6 .1z"/>
<path color="#2e84f8" d="M488.7 47.7l2.6-1.1-2-1.3-2.6 1.4z"/>
<path color="#2e86f7" d="M472.3 47l2.6-.8-2-.1-2.6-.2z"/>
<path color="#2d8df2" d="M455.9 46.4l2.6-1.3-2-.8-2.6 1.4z"/>
<path color="#2e87f7" d="M493.3 47.4l2.6-1-2-.8-2.6 1z"/>
<path color="#2e86f8" d="M476.9 47.6l2.6-.6-2-1.5-2.6 .7z"/>
<path color="#2b91ef" d="M460.5 46.3l2.6-1-2-1-2.6 .8z"/>
<path color="#2d88f6" d="M497.9 47.5l2.6-.8-2-1-2.6 .7z"/>
<path color="#317efb" d="M481.5 48.1l2.6 .2-2-1.2-2.6-.1z"/>
<path color="#2c8ef1" d="M465.1 46.4l2.6-.4-2-.6-2.6-.1z"/>
<path color="#3080fa" d="M486.1 48.1l2.6-.4-2-1-2.6 1.6z"/>
<path color="#2d8af5" d="M469.7 47.3l2.6-.3-2-1.1-2.6 .1z"/>
<path color="#2c8ef2" d="M453.3 46.4l2.6 0-2-.7-2.6 .1z"/>
<path color="#2e85f8" d="M490.7 47.8l2.6-.4-2-.8-2.6 1.1z"/>
<path color="#2e85f8" d="M474.3 48.4l2.6-.8-2-1.4-2.6 .8z"/>
<path color="#2c8ef2" d="M457.9 47.4l2.6-1.1-2-1.2-2.6 1.3z"/>
<path color="#2d87f6" d="M495.3 48.2l2.6-.7-2-1.1-2.6 1z"/>
<path color="#2e83f9" d="M478.9 48.4l2.6-.3-2-1.1-2.6 .6z"/>
<path color="#2c90f0" d="M462.5 47.1l2.6-.7-2-1.1-2.6 1z"/>
<path color="#2d88f6" d="M499.9 48.2l2.6-.4-2-1.1-2.6 .8z"/>
<path color="#2f82f9" d="M483.5 48.1l2.6 0-2 .2-2.6-.2z"/>
<path color="#2c8ff0" d="M467.1 46.6l2.6 .7-2-1.3-2.6 .4z"/>
<path color="#2b92ee" d="M450.7 46.8l2.6-.4-2-.6-2.6 .3z"/>
<path color="#2e85f8" d="M488.1 48.9l2.6-1.1-2-.1-2.6 .4z"/>
<path color="#2d89f5" d="M471.7 47.7l2.6 .7-2-1.4-2.6 .3z"/>
<path color="#2c8ff1" d="M455.3 47.3l2.6 .1-2-1-2.6 0z"/>
<path color="#2d87f6" d="M492.7 48.8l2.6-.6-2-.8-2.6 .4z"/>
<path color="#2e85f8" d="M476.3 48.6l2.6-.2-2-.8-2.6 .8z"/>
<path color="#2d8df2" d="M459.9 48.4l2.6-1.3-2-.8-2.6 1.1z"/>
<path color="#2d88f6" d="M497.3 49l2.6-.8-2-.7-2.6 .7z"/>
<path color="#2d87f7" d="M480.9 48.4l2.6-.3-2 0-2.6 .3z"/>
<path color="#2a93ed" d="M464.5 47.2l2.6-.6-2-.2-2.6 .7z"/>
<path color="#2995ec" d="M448.1 46.9l2.6-.1-2-.7-2.6 .4z"/>
<path color="#2e86f7" d="M501.9 49.7l2.6-.6-2-1.3-2.6 .4z"/>
<path color="#2e86f7" d="M485.5 49.6l2.6-.7-2-.8-2.6 0z"/>
<path color="#2a93ee" d="M469.1 46.9l2.6 .8-2-.4-2.6-.7z"/>
<path color="#2a93ee" d="M452.7 47.8l2.6-.5-2-.9-2.6 .4z"/>
<path color="#2e85f8" d="M490.1 50.5l2.6-1.7-2-1-2.6 1.1z"/>
<path color="#2d8bf4" d="M473.7 48.6l2.6 0-2-.2-2.6-.7z"/>
<path color="#2c8ef1" d="M457.3 48.4l2.6 0-2-1-2.6-.1z"/>
<path color="#2d88f6" d="M494.7 49.8l2.6-.8-2-.8-2.6 .6z"/>
<path color="#2d8af5" d="M478.3 49.2l2.6-.8-2 0-2.6 .2z"/>
<path color="#2b92ef" d="M461.9 48.2l2.6-1-2-.1-2.6 1.3z"/>
<path color="#2797ea" d="M445.5 47.3l2.6-.4-2-.4-2.6 .5z"/>
<path color="#2e87f7" d="M499.3 50.2l2.6-.5-2-1.5-2.6 .8z"/>
<path color="#2d8af5" d="M482.9 49.6l2.6 0-2-1.5-2.6 .3z"/>
<path color="#2798ea" d="M466.5 48.1l2.6-1.2-2-.3-2.6 .6z"/>
<path color="#2796eb" d="M450.1 47.8l2.6 0-2-1-2.6 .1z"/>
<path color="#3080fa" d="M504 51.6l2.6-.9-2.1-1.6-2.6 .6z"/>
<path color="#2f82f9" d="M487.5 51.1l2.6-.6-2-1.6-2.6 .7z"/>
<path color="#2994ed" d="M471.1 48.4l2.6 .2-2-.9-2.6-.8z"/>
<path color="#2a92ee" d="M454.7 48.8l2.6-.4-2-1.1-2.6 .5z"/>
<path color="#2e84f9" d="M492.1 51.2l2.6-1.4-2-1-2.6 1.7z"/>
<path color="#2d8df2" d="M475.7 49.7l2.6-.5-2-.6-2.6 0z"/>
<path color="#2b92ee" d="M459.3 48.4l2.6-.2-2 .2-2.6 0z"/>
<path color="#2798ea" d="M442.9 48.3l2.6-1-2-.3-2.6 .6z"/>
<path color="#2e87f7" d="M496.7 51l2.6-.8-2-1.2-2.6 .8z"/>
<path color="#2d8cf3" d="M480.3 50.2l2.6-.6-2-1.2-2.6 .8z"/>
<path color="#2797eb" d="M463.9 48.4l2.6-.3-2-.9-2.6 1z"/>
<path color="#269ae8" d="M447.5 48.2l2.6-.4-2-.9-2.6 .4z"/>
<path color="#2f82f9" d="M501.4 51.4l2.6 .2-2.1-1.9-2.6 .5z"/>
<path color="#2e86f7" d="M484.9 50.9l2.6 .2-2-1.5-2.6 0z"/>
<path color="#2798ea" d="M468.5 49.2l2.6-.8-2-1.5-2.6 1.2z"/>
<path color="#2796eb" d="M452.1 48.7l2.6 .1-2-1-2.6 0z"/>
<path color="#327cfc" d="M506 52.6l2.6-.9-2-1-2.6 .9z"/>
<path color="#3080fb" d="M489.5 52.1l2.6-.9-2-.7-2.6 .6z"/>
<path color="#2a93ee" d="M473.1 49.2l2.6 .5-2-1.1-2.6-.2z"/>
<path color="#2995ec" d="M456.7 49.2l2.6-.8-2 0-2.6 .4z"/>
<path color="#2699e9" d="M440.3 48.6l2.6-.3-2-.7-2.6 .6z"/>
<path color="#2f82fa" d="M494.1 53l2.6-2-2-1.2-2.6 1.4z"/>
<path color="#2c8ff1" d="M477.7 49.8l2.6 .4-2-1-2.6 .5z"/>
<path color="#2698ea" d="M461.3 49l2.6-.6-2-.2-2.6 .2z"/>
<path color="#269ae9" d="M444.9 49.3l2.6-1.1-2-.9-2.6 1z"/>
<path color="#2e83f9" d="M498.8 52.7l2.6-1.3-2.1-1.2-2.6 .8z"/>
<path color="#2d89f5" d="M482.3 51.5l2.6-.6-2-1.3-2.6 .6z"/>
<path color="#2798ea" d="M465.9 49.4l2.6-.2-2-1.1-2.6 .3z"/>
<path color="#259be8" d="M449.5 48.7l2.6 0-2-.9-2.6 .4z"/>
<path color="#317efb" d="M503.4 52.6l2.6 0-2-1-2.6-.2z"/>
<path color="#2f82f9" d="M486.9 52.3l2.6-.2-2-1-2.6-.2z"/>
<path color="#2798ea" d="M470.5 49.6l2.6-.4-2-.8-2.6 .8z"/>
<path color="#2798ea" d="M454.1 49.2l2.6 0-2-.4-2.6-.1z"/>
<path color="#327cfc" d="M508 53.4l2.6-.8-2-.9-2.6 .9z"/>
<path color="#2798ea" d="M437.7 49.9l2.6-1.3-2-.4-2.6 1z"/>
<path color="#337bfc" d="M491.5 54.2l2.6-1.2-2-1.8-2.6 .9z"/>
<path color="#2994ed" d="M475.1 50.4l2.6-.6-2-.1-2.6-.5z"/>
<path color="#269ae9" d="M458.7 49.5l2.6-.5-2-.6-2.6 .8z"/>
<path color="#269ae8" d="M442.3 49.4l2.6-.1-2-1-2.6 .3z"/>
<path color="#327bfc" d="M496.2 54.6l2.6-1.9-2.1-1.7-2.6 2z"/>
<path color="#2c8ff1" d="M479.7 51.1l2.6 .4-2-1.3-2.6-.4z"/>
<path color="#269ae8" d="M463.3 50.1l2.6-.7-2-1-2.6 .6z"/>
<path color="#269ae8" d="M446.9 50.5l2.6-1.8-2-.5-2.6 1.1z"/>
<path color="#307ffb" d="M500.8 53.9l2.6-1.3-2-1.2-2.6 1.3z"/>
<path color="#2e83f9" d="M484.3 54.2l2.6-1.9-2-1.4-2.6 .6z"/>
<path color="#2699e9" d="M467.9 50l2.6-.4-2-.4-2.6 .2z"/>
<path color="#259ce7" d="M451.5 49.8l2.6-.6-2-.5-2.6 0z"/>
<path color="#307ffb" d="M505.4 53.2l2.6 .2-2-.8-2.6 0z"/>
<path color="#2895ec" d="M435.1 50.7l2.6-.8-2-.7-2.6 .9z"/>
<path color="#337bfc" d="M488.9 54.5l2.6-.3-2-2.1-2.6 .2z"/>
<path color="#2698ea" d="M472.5 50.4l2.6 0-2-1.2-2.6 .4z"/>
<path color="#259be8" d="M456.1 50.2l2.6-.7-2-.3-2.6 0z"/>
<path color="#327cfc" d="M510 54.1l2.6-.4-2-1.1-2.6 .8z"/>
<path color="#269ae9" d="M439.7 50.8l2.6-1.4-2-.8-2.6 1.3z"/>
<path color="#3c72ff" d="M493.6 55.9l2.6-1.3-2.1-1.6-2.6 1.2z"/>
<path color="#2a93ed" d="M477.1 51.9l2.6-.8-2-1.3-2.6 .6z"/>
<path color="#259be8" d="M460.7 50.6l2.6-.5-2-1.1-2.6 .5z"/>
<path color="#2699e9" d="M444.3 50.7l2.6-.2-2-1.2-2.6 .1z"/>
<path color="#3578fd" d="M498.2 55l2.6-1.1-2-1.2-2.6 1.9z"/>
<path color="#2e86f8" d="M481.7 53.6l2.6 .6-2-2.7-2.6-.4z"/>
<path color="#2699e9" d="M465.3 51.5l2.6-1.5-2-.6-2.6 .7z"/>
<path color="#269ae8" d="M448.9 51.4l2.6-1.6-2-1.1-2.6 1.8z"/>
<path color="#3080fa" d="M502.8 54.3l2.6-1.1-2-.6-2.6 1.3z"/>
<path color="#2b92ee" d="M432.5 52.1l2.6-1.4-2-.6-2.6 1.2z"/>
<path color="#3678fe" d="M486.3 56.1l2.6-1.6-2-2.2-2.6 1.9z"/>
<path color="#259ce7" d="M469.9 50.6l2.6-.2-2-.8-2.6 .4z"/>
<path color="#259ce7" d="M453.5 51l2.6-.8-2-1-2.6 .6z"/>
<path color="#2f81fa" d="M507.4 53.7l2.6 .4-2-.7-2.6-.2z"/>
<path color="#2797eb" d="M437.1 51.3l2.6-.5-2-.9-2.6 .8z"/>
<path color="#3d70ff" d="M491 56.3l2.6-.4-2.1-1.7-2.6 .3z"/>
<path color="#2797eb" d="M474.5 51.3l2.6 .6-2-1.5-2.6 0z"/>
<path color="#259ce7" d="M458.1 51.2l2.6-.6-2-1.1-2.6 .7z"/>
<path color="#327cfc" d="M512 55.1l2.6-.3-2-1.1-2.6 .4z"/>
<path color="#269ae9" d="M441.7 51.5l2.6-.8-2-1.3-2.6 1.4z"/>
<path color="#3c71ff" d="M495.6 56.3l2.6-1.3-2-.4-2.6 1.3z"/>
<path color="#2d8df2" d="M479.1 53.2l2.6 .4-2-2.5-2.6 .8z"/>
<path color="#2797eb" d="M462.7 52.7l2.6-1.2-2-1.4-2.6 .5z"/>
<path color="#2798ea" d="M446.3 51.6l2.6-.2-2-.9-2.6 .2z"/>
<path color="#327bfc" d="M500.2 55.5l2.6-1.2-2-.4-2.6 1.1z"/>
<path color="#2d8bf4" d="M429.9 53.7l2.6-1.6-2-.8-2.6 1.6z"/>
<path color="#347afd" d="M483.7 55.3l2.6 .8-2-1.9-2.6-.6z"/>
<path color="#269ae8" d="M467.3 52.2l2.6-1.6-2-.6-2.6 1.5z"/>
<path color="#259be8" d="M450.9 51.3l2.6-.3-2-1.2-2.6 1.6z"/>
<path color="#2e83f9" d="M504.8 55.1l2.6-1.4-2-.5-2.6 1.1z"/>
<path color="#2994ed" d="M434.5 52.9l2.6-1.6-2-.6-2.6 1.4z"/>
<path color="#3c71ff" d="M488.4 56.4l2.6-.1-2.1-1.8-2.6 1.6z"/>
<path color="#259be8" d="M455.5 52.1l2.6-.9-2-1-2.6 .8z"/>
<path color="#2f82fa" d="M509.4 55.2l2.6-.1-2-1-2.6-.4z"/>
<path color="#2698ea" d="M439.1 52.1l2.6-.6-2-.7-2.6 .5z"/>
<path color="#3f6efe" d="M493 57.3l2.6-1-2-.4-2.6 .4z"/>
<path color="#2797ea" d="M460.1 53l2.6-.3-2-2.1-2.6 .6z"/>
<path color="#327cfc" d="M514 55.9l2.6-.3-2-.8-2.6 .3z"/>
<path color="#2798ea" d="M443.7 52.9l2.6-1.3-2-.9-2.6 .8z"/>
<path color="#3777fe" d="M497.6 56.4l2.6-.9-2-.5-2.6 1.3z"/>
<path color="#2e85f8" d="M427.3 54.5l2.6-.8-2-.8-2.6 1.3z"/>
<path color="#2895ec" d="M464.7 53.1l2.6-.9-2-.7-2.6 1.2z"/>
<path color="#259be8" d="M448.3 52.1l2.6-.8-2 .1-2.6 .2z"/>
<path color="#317efb" d="M502.2 56.4l2.6-1.3-2-.8-2.6 1.2z"/>
<path color="#2d8df2" d="M431.9 54.1l2.6-1.2-2-.8-2.6 1.6z"/>
<path color="#3876fe" d="M485.8 56.4l2.6 0-2.1-.3-2.6-.8z"/>
<path color="#259be8" d="M452.9 53l2.6-.9-2-1.1-2.6 .3z"/>
<path color="#2f83f9" d="M506.8 56.3l2.6-1.1-2-1.5-2.6 1.4z"/>
<path color="#2895ec" d="M436.5 53.6l2.6-1.5-2-.8-2.6 1.6z"/>
<path color="#3d70ff" d="M490.4 57.5l2.6-.2-2-1-2.6 .1z"/>
<path color="#2797ea" d="M457.5 53.9l2.6-.9-2-1.8-2.6 .9z"/>
<path color="#3080fb" d="M511.4 56.4l2.6-.5-2-.8-2.6 .1z"/>
<path color="#2797eb" d="M441.1 53.7l2.6-.8-2-1.4-2.6 .6z"/>
<path color="#3b72ff" d="M495 57.7l2.6-1.3-2-.1-2.6 1z"/>
<path color="#2e85f8" d="M424.7 54.9l2.6-.4-2-.3-2.6 .2z"/>
<path color="#2995ec" d="M462.1 53.7l2.6-.6-2-.4-2.6 .3z"/>
<path color="#317efb" d="M516 56.6l2.6-.4-2-.6-2.6 .3z"/>
<path color="#2798ea" d="M445.7 53.8l2.6-1.7-2-.5-2.6 1.3z"/>
<path color="#327bfc" d="M499.6 56.8l2.6-.4-2-.9-2.6 .9z"/>
<path color="#2d8af5" d="M429.3 54.8l2.6-.7-2-.4-2.6 .8z"/>
<path color="#259ce7" d="M450.3 53.4l2.6-.4-2-1.7-2.6 .8z"/>
<path color="#307ffb" d="M504.2 56.9l2.6-.6-2-1.2-2.6 1.3z"/>
<path color="#2c8ff1" d="M433.9 55.1l2.6-1.5-2-.7-2.6 1.2z"/>
<path color="#3777fe" d="M487.8 57.4l2.6 .1-2-1.1-2.6 0z"/>
<path color="#2896eb" d="M454.9 54.6l2.6-.7-2-1.8-2.6 .9z"/>
<path color="#2f81fa" d="M508.8 56.9l2.6-.5-2-1.2-2.6 1.1z"/>
<path color="#2994ed" d="M438.5 55l2.6-1.3-2-1.6-2.6 1.5z"/>
<path color="#3c71ff" d="M492.4 58.3l2.6-.6-2-.4-2.6 .2z"/>
<path color="#2d89f6" d="M422.1 55.3l2.6-.4-2-.5-2.6 .3z"/>
<path color="#2896eb" d="M459.5 53.9l2.6-.2-2-.7-2.6 .9z"/>
<path color="#2f81fa" d="M513.4 56.9l2.6-.3-2-.7-2.6 .5z"/>
<path color="#2a93ed" d="M443.1 55l2.6-1.2-2-.9-2.6 .8z"/>
<path color="#3579fd" d="M497 57.9l2.6-1.1-2-.4-2.6 1.3z"/>
<path color="#2d8af5" d="M426.7 55.6l2.6-.8-2-.3-2.6 .4z"/>
<path color="#307ffb" d="M518 57.6l2.6-.5-2-.9-2.6 .4z"/>
<path color="#269ae9" d="M447.7 54.1l2.6-.7-2-1.3-2.6 1.7z"/>
<path color="#317efb" d="M501.6 57.7l2.6-.8-2-.5-2.6 .4z"/>
<path color="#2d8cf3" d="M431.3 55.7l2.6-.6-2-1-2.6 .7z"/>
<path color="#2699e9" d="M452.3 53.8l2.6 .8-2-1.6-2.6 .4z"/>
<path color="#3080fa" d="M506.2 57.8l2.6-.9-2-.6-2.6 .6z"/>
<path color="#2c8ef1" d="M435.9 56l2.6-1-2-1.4-2.6 1.5z"/>
<path color="#3777fe" d="M489.8 58.2l2.6 .1-2-.8-2.6-.1z"/>
<path color="#2798ea" d="M456.9 54l2.6-.1-2 0-2.6 .7z"/>
<path color="#2e83f9" d="M510.8 57.6l2.6-.7-2-.5-2.6 .5z"/>
<path color="#2b91ef" d="M440.5 55.7l2.6-.7-2-1.3-2.6 1.3z"/>
<path color="#3876fe" d="M494.4 58.7l2.6-.8-2-.2-2.6 .6z"/>
<path color="#2d8bf4" d="M424.1 56.1l2.6-.5-2-.7-2.6 .4z"/>
<path color="#259be8" d="M461.5 54.3l2.6-.6-2 0-2.6 .2z"/>
<path color="#2f82fa" d="M515.4 57.9l2.6-.3-2-1-2.6 .3z"/>
<path color="#2895ec" d="M445.1 55.3l2.6-1.2-2-.3-2.6 1.2z"/>
<path color="#317dfc" d="M499 58.5l2.6-.8-2-.9-2.6 1.1z"/>
<path color="#2d8df2" d="M428.7 55.8l2.6-.1-2-.9-2.6 .8z"/>
<path color="#3080fa" d="M520 58.3l2.6-.4-2-.8-2.6 .5z"/>
<path color="#249de6" d="M449.7 54.1l2.6-.3-2-.4-2.6 .7z"/>
<path color="#307ffb" d="M503.6 58.6l2.6-.8-2-.9-2.6 .8z"/>
<path color="#2d8df2" d="M433.3 56.1l2.6-.1-2-.9-2.6 .6z"/>
<path color="#259de7" d="M454.3 54.2l2.6-.2-2 .6-2.6-.8z"/>
<path color="#2f82fa" d="M508.2 58.5l2.6-.9-2-.7-2.6 .9z"/>
<path color="#2c90f0" d="M437.9 56.2l2.6-.5-2-.7-2.6 1z"/>
<path color="#3579fd" d="M491.8 59.2l2.6-.5-2-.4-2.6-.1z"/>
<path color="#249de6" d="M458.9 55.1l2.6-.8-2-.4-2.6 .1z"/>
<path color="#2e86f7" d="M512.8 57.7l2.6 .2-2-1-2.6 .7z"/>
<path color="#2994ed" d="M442.5 55.9l2.6-.6-2-.3-2.6 .7z"/>
<path color="#337afd" d="M496.4 59.5l2.6-1-2-.6-2.6 .8z"/>
<path color="#2c8ff1" d="M426.1 56.5l2.6-.7-2-.2-2.6 .5z"/>
<path color="#2e83f9" d="M517.4 58.4l2.6-.1-2-.7-2.6 .3z"/>
<path color="#259ce7" d="M447.1 55l2.6-.9-2 0-2.6 1.2z"/>
<path color="#307efb" d="M501 59.2l2.6-.6-2-.9-2.6 .8z"/>
<path color="#2b91ef" d="M430.7 56.1l2.6 0-2-.4-2.6 .1z"/>
<path color="#2f81fa" d="M522 59.1l2.6-.4-2-.8-2.6 .4z"/>
<path color="#23a1e4" d="M451.7 55.1l2.6-.9-2-.4-2.6 .3z"/>
<path color="#2f81fa" d="M505.6 59.1l2.6-.6-2-.7-2.6 .8z"/>
<path color="#2c90f0" d="M435.3 57.1l2.6-.9-2-.2-2.6 .1z"/>
<path color="#317dfb" d="M489.2 59.4l2.6-.2-2-1-2.6 .3z"/>
<path color="#239fe5" d="M456.3 55.7l2.6-.6-2-1.1-2.6 .2z"/>
<path color="#2e86f7" d="M510.2 58.8l2.6-1.1-2-.1-2.6 .9z"/>
<path color="#2a93ed" d="M439.9 57l2.6-1.1-2-.2-2.6 .5z"/>
<path color="#327cfc" d="M493.8 59.4l2.6 .1-2-.8-2.6 .5z"/>
<path color="#259de7" d="M460.9 55.8l2.6 .2-2-1.7-2.6 .8z"/>
<path color="#2d89f5" d="M514.8 58.4l2.6 0-2-.5-2.6-.2z"/>
<path color="#259be8" d="M444.5 55.9l2.6-.9-2 .3-2.6 .6z"/>
<path color="#317efb" d="M498.4 59.6l2.6-.4-2-.7-2.6 1z"/>
<path color="#2994ed" d="M428.1 56.8l2.6-.7-2-.3-2.6 .7z"/>
<path color="#2e85f8" d="M519.4 59.4l2.6-.3-2-.8-2.6 .1z"/>
<path color="#239fe5" d="M449.1 56.5l2.6-1.4-2-1-2.6 .9z"/>
<path color="#2f81fa" d="M503 59.7l2.6-.6-2-.5-2.6 .6z"/>
<path color="#2a93ed" d="M432.7 57.3l2.6-.2-2-1-2.6 0z"/>
<path color="#2f82fa" d="M524 60l2.6-.3-2-1-2.6 .4z"/>
<path color="#23a0e5" d="M453.7 56.2l2.6-.5-2-1.5-2.6 .9z"/>
<path color="#2e85f8" d="M507.6 59.6l2.6-.8-2-.3-2.6 .6z"/>
<path color="#2a92ee" d="M437.3 57.8l2.6-.8-2-.8-2.6 .9z"/>
<path color="#2f82fa" d="M491.2 59.3l2.6 .1-2-.2-2.6 .2z"/>
<path color="#239fe5" d="M458.3 56.1l2.6-.3-2-.7-2.6 .6z"/>
<path color="#2d88f6" d="M512.2 60.6l2.6-2.2-2-.7-2.6 1.1z"/>
<path color="#2798ea" d="M441.9 57.6l2.6-1.7-2 0-2.6 1.1z"/>
<path color="#2f81fa" d="M495.8 59.9l2.6-.3-2-.1-2.6-.1z"/>
<path color="#2d88f6" d="M516.8 60.2l2.6-.8-2-1-2.6 0z"/>
<path color="#249de6" d="M446.5 57.1l2.6-.6-2-1.5-2.6 .9z"/>
<path color="#2e84f9" d="M500.4 59.7l2.6 0-2-.5-2.6 .4z"/>
<path color="#2796eb" d="M430.1 57.7l2.6-.4-2-1.2-2.6 .7z"/>
<path color="#2e85f8" d="M521.4 60.4l2.6-.4-2-.9-2.6 .3z"/>
<path color="#249ee6" d="M451.1 57.4l2.6-1.2-2-1.1-2.6 1.4z"/>
<path color="#2e84f9" d="M505 60.8l2.6-1.2-2-.5-2.6 .6z"/>
<path color="#2a93ed" d="M434.7 58.1l2.6-.3-2-.7-2.6 .2z"/>
<path color="#2e86f7" d="M488.6 60l2.6-.7-2 .1-2.6-.3z"/>
<path color="#2e83f9" d="M526 60.6l2.6-.3-2-.6-2.6 .3z"/>
<path color="#23a1e4" d="M455.7 56.6l2.6-.5-2-.4-2.6 .5z"/>
<path color="#2e84f8" d="M509.6 61l2.6-.4-2-1.8-2.6 .8z"/>
<path color="#2995ec" d="M439.3 58.2l2.6-.6-2-.6-2.6 .8z"/>
<path color="#2e85f8" d="M493.2 60.8l2.6-.9-2-.5-2.6-.1z"/>
<path color="#239fe5" d="M460.3 57.9l2.6-1.3-2-.8-2.6 .3z"/>
<path color="#2e83f9" d="M514.2 62.2l2.6-2-2-1.8-2.6 2.2z"/>
<path color="#2699e9" d="M443.9 58.8l2.6-1.7-2-1.2-2.6 1.7z"/>
<path color="#2e84f8" d="M497.8 61.5l2.6-1.8-2-.1-2.6 .3z"/>
<path color="#2e87f7" d="M518.8 60.6l2.6-.2-2-1-2.6 .8z"/>
<path color="#259ce7" d="M448.5 57.8l2.6-.4-2-.9-2.6 .6z"/>
<path color="#2e86f8" d="M502.4 61l2.6-.2-2-1.1-2.6 0z"/>
<path color="#2796eb" d="M432.1 58.5l2.6-.4-2-.8-2.6 .4z"/>
<path color="#2e87f7" d="M523.4 60.9l2.6-.3-2-.6-2.6 .4z"/>
<path color="#23a1e4" d="M453.1 57.1l2.6-.5-2-.4-2.6 1.2z"/>
<path color="#2f82f9" d="M507 62.2l2.6-1.2-2-1.4-2.6 1.2z"/>
<path color="#2895ec" d="M436.7 59.1l2.6-.9-2-.4-2.6 .3z"/>
<path color="#2d88f6" d="M490.6 60.9l2.6-.1-2-1.5-2.6 .7z"/>
<path color="#2e86f8" d="M528 61.3l2.6-.3-2-.7-2.6 .3z"/>
<path color="#23a0e5" d="M457.7 58.3l2.6-.4-2-1.8-2.6 .5z"/>
<path color="#307ffb" d="M511.6 62.2l2.6 0-2-1.6-2.6 .4z"/>
<path color="#2895ec" d="M441.3 59.5l2.6-.7-2-1.2-2.6 .6z"/>
<path color="#2f82fa" d="M495.2 62.4l2.6-.9-2-1.6-2.6 .9z"/>
<path color="#269ae8" d="M462.4 59.4l2.6-.6-2.1-2.2-2.6 1.3z"/>
<path color="#2e84f9" d="M516.2 61.8l2.6-1.2-2-.4-2.6 2z"/>
<path color="#2798ea" d="M445.9 59.9l2.6-2.1-2-.7-2.6 1.7z"/>
<path color="#2e84f8" d="M499.8 62.3l2.6-1.3-2-1.3-2.6 1.8z"/>
<path color="#2d8af4" d="M520.8 61.1l2.6-.2-2-.5-2.6 .2z"/>
<path color="#23a0e5" d="M450.5 58.4l2.6-1.3-2 .3-2.6 .4z"/>
<path color="#2f82fa" d="M504.4 62.5l2.6-.3-2-1.4-2.6 .2z"/>
<path color="#2797eb" d="M434.1 59.3l2.6-.2-2-1-2.6 .4z"/>
<path color="#2d8bf4" d="M488 61l2.6-.1-2-.9-2.6 .4z"/>
<path color="#2d89f5" d="M525.4 61.7l2.6-.4-2-.7-2.6 .3z"/>
<path color="#22a2e4" d="M455.1 58.5l2.6-.2-2-1.7-2.6 .5z"/>
<path color="#2f80fa" d="M509 62.7l2.6-.5-2-1.2-2.6 1.2z"/>
<path color="#2895ec" d="M438.7 60.1l2.6-.6-2-1.3-2.6 .9z"/>
<path color="#2e85f8" d="M492.6 61.6l2.6 .8-2-1.6-2.6 .1z"/>
<path color="#259ce7" d="M459.8 59.1l2.6 .3-2.1-1.5-2.6 .4z"/>
<path color="#2f81fa" d="M513.6 62.7l2.6-.9-2 .4-2.6 0z"/>
<path color="#2994ed" d="M443.3 60.4l2.6-.5-2-1.1-2.6 .7z"/>
<path color="#2f81fa" d="M497.2 62.6l2.6-.3-2-.8-2.6 .9z"/>
<path color="#269ae9" d="M464.4 59.5l2.6-.5-2-.2-2.6 .6z"/>
<path color="#2d8af4" d="M518.2 62.1l2.6-1-2-.5-2.6 1.2z"/>
<path color="#269ae9" d="M447.9 60.6l2.6-2.2-2-.6-2.6 2.1z"/>
<path color="#2e83f9" d="M501.8 63.1l2.6-.6-2-1.5-2.6 1.3z"/>
<path color="#2c8ef1" d="M485.4 61.5l2.6-.5-2-.6-2.6 .3z"/>
<path color="#2d8cf3" d="M522.8 62.2l2.6-.5-2-.8-2.6 .2z"/>
<path color="#23a1e4" d="M452.5 59.9l2.6-1.4-2-1.4-2.6 1.3z"/>
<path color="#3080fa" d="M506.4 63.5l2.6-.8-2-.5-2.6 .3z"/>
<path color="#2798ea" d="M436.1 59.9l2.6 .2-2-1-2.6 .2z"/>
<path color="#2d8df2" d="M490 61.5l2.6 .1-2-.7-2.6 .1z"/>
<path color="#23a0e5" d="M457.2 59.5l2.6-.4-2.1-.8-2.6 .2z"/>
<path color="#2e83f9" d="M511 63.2l2.6-.5-2-.5-2.6 .5z"/>
<path color="#2895ec" d="M440.7 60.5l2.6-.1-2-.9-2.6 .6z"/>
<path color="#2e87f7" d="M494.6 62.2l2.6 .4-2-.2-2.6-.8z"/>
<path color="#249de7" d="M461.8 59.8l2.6-.3-2-.1-2.6-.3z"/>
<path color="#2e87f7" d="M515.6 63.4l2.6-1.3-2-.3-2.6 .9z"/>
<path color="#2a93ed" d="M445.3 61.6l2.6-1-2-.7-2.6 .5z"/>
<path color="#2e83f9" d="M499.2 63.3l2.6-.2-2-.8-2.6 .3z"/>
<path color="#2b91ef" d="M482.8 61.8l2.6-.3-2-.8-2.6 .2z"/>
<path color="#259de7" d="M466.4 61l2.6-1.5-2-.5-2.6 .5z"/>
<path color="#2d8df2" d="M520.2 62.9l2.6-.7-2-1.1-2.6 1z"/>
<path color="#269ae9" d="M449.9 61.4l2.6-1.5-2-1.5-2.6 2.2z"/>
<path color="#2f80fa" d="M503.8 64.4l2.6-.9-2-1-2.6 .6z"/>
<path color="#2b91ef" d="M487.4 61.6l2.6-.1-2-.5-2.6 .5z"/>
<path color="#259ce7" d="M471 61.2l2.6-.5-2-1.8-2.6 .6z"/>
<path color="#249ee6" d="M454.6 61.4l2.6-1.9-2.1-1-2.6 1.4z"/>
<path color="#2e83f9" d="M508.4 64.1l2.6-.9-2-.5-2.6 .8z"/>
<path color="#2699e9" d="M438.1 60.7l2.6-.2-2-.4-2.6-.2z"/>
<path color="#2c90f0" d="M492 62.2l2.6 0-2-.6-2.6-.1z"/>
<path color="#2895ec" d="M475.6 61.9l2.6-.3-2-1-2.6 .1z"/>
<path color="#239fe5" d="M459.2 60.9l2.6-1.1-2-.7-2.6 .4z"/>
<path color="#2e85f8" d="M513 64.1l2.6-.7-2-.7-2.6 .5z"/>
<path color="#2895ec" d="M442.7 61.7l2.6-.1-2-1.2-2.6 .1z"/>
<path color="#2d8af4" d="M496.6 62.9l2.6 .4-2-.7-2.6-.4z"/>
<path color="#2994ed" d="M480.2 62.1l2.6-.3-2-.9-2.6 .7z"/>
<path color="#259de7" d="M463.8 61.5l2.6-.5-2-1.5-2.6 .3z"/>
<path color="#2d89f5" d="M517.6 64.2l2.6-1.3-2-.8-2.6 1.3z"/>
<path color="#2a93ee" d="M447.3 62.9l2.6-1.5-2-.8-2.6 1z"/>
<path color="#2e84f8" d="M501.2 63.8l2.6 .6-2-1.3-2.6 .2z"/>
<path color="#2994ed" d="M484.8 62.5l2.6-.9-2-.1-2.6 .3z"/>
<path color="#259be7" d="M468.4 61.6l2.6-.4-2-1.7-2.6 1.5z"/>
<path color="#2797eb" d="M452 62.7l2.6-1.3-2.1-1.5-2.6 1.5z"/>
<path color="#2f82f9" d="M505.8 64.4l2.6-.3-2-.6-2.6 .9z"/>
<path color="#2896ec" d="M489.4 62l2.6 .2-2-.7-2.6 .1z"/>
<path color="#2699e9" d="M473 62l2.6-.1-2-1.2-2.6 .5z"/>
<path color="#269ae9" d="M456.6 63.1l2.6-2.2-2-1.4-2.6 1.9z"/>
<path color="#2e85f8" d="M510.4 64.7l2.6-.6-2-.9-2.6 .9z"/>
<path color="#269ae9" d="M440.1 61.9l2.6-.2-2-1.2-2.6 .2z"/>
<path color="#2b91ef" d="M494 63.2l2.6-.3-2-.7-2.6 0z"/>
<path color="#2797ea" d="M477.6 61.8l2.6 .3-2-.5-2.6 .3z"/>
<path color="#259ce7" d="M461.2 62.5l2.6-1-2-1.7-2.6 1.1z"/>
<path color="#2e86f7" d="M515 65.1l2.6-.9-2-.8-2.6 .7z"/>
<path color="#2a93ee" d="M444.7 62.9l2.6 0-2-1.3-2.6 .1z"/>
<path color="#2d8df2" d="M498.6 63.7l2.6 .1-2-.5-2.6-.4z"/>
<path color="#2796eb" d="M482.2 62.4l2.6 .1-2-.7-2.6 .3z"/>
<path color="#259be8" d="M465.8 62.2l2.6-.6-2-.6-2.6 .5z"/>
<path color="#2a92ee" d="M449.4 63.3l2.6-.6-2.1-1.3-2.6 1.5z"/>
<path color="#2d88f6" d="M503.2 64.1l2.6 .3-2 0-2.6-.6z"/>
<path color="#2698ea" d="M486.8 62.7l2.6-.7-2-.4-2.6 .9z"/>
<path color="#259ce7" d="M470.4 62.1l2.6-.1-2-.8-2.6 .4z"/>
<path color="#2a93ee" d="M454 63.8l2.6-.7-2-1.7-2.6 1.3z"/>
<path color="#2e87f7" d="M507.8 65l2.6-.3-2-.6-2.6 .3z"/>
<path color="#2797ea" d="M491.4 63l2.6 .2-2-1-2.6-.2z"/>
<path color="#259be8" d="M475 62.6l2.6-.8-2 .1-2.6 .1z"/>
<path color="#2798ea" d="M458.6 63.1l2.6-.6-2-1.6-2.6 2.2z"/>
<path color="#2e86f8" d="M512.4 65.8l2.6-.7-2-1-2.6 .6z"/>
<path color="#2798ea" d="M442.1 62.9l2.6 0-2-1.2-2.6 .2z"/>
<path color="#2a93ee" d="M496 63.8l2.6-.1-2-.8-2.6 .3z"/>
<path color="#259de7" d="M479.6 62l2.6 .4-2-.3-2.6-.3z"/>
<path color="#269ae9" d="M463.2 63.5l2.6-1.3-2-.7-2.6 1z"/>
<path color="#2a93ee" d="M446.8 63.6l2.6-.3-2.1-.4-2.6 0z"/>
<path color="#2c8ff1" d="M500.6 64.8l2.6-.7-2-.3-2.6-.1z"/>
<path color="#269ae9" d="M484.2 63.2l2.6-.5-2-.2-2.6-.1z"/>
<path color="#259ce7" d="M467.8 63.6l2.6-1.5-2-.5-2.6 .6z"/>
<path color="#2a93ee" d="M451.4 63.9l2.6-.1-2-1.1-2.6 .6z"/>
<path color="#2d8cf3" d="M505.2 65.1l2.6-.1-2-.6-2.6-.3z"/>
<path color="#259ce7" d="M488.8 62.9l2.6 .1-2-1-2.6 .7z"/>
<path color="#249de6" d="M472.4 63.1l2.6-.5-2-.6-2.6 .1z"/>
<path color="#2995ec" d="M456 63.9l2.6-.8-2 0-2.6 .7z"/>
<path color="#2d87f7" d="M509.8 66.2l2.6-.4-2-1.1-2.6 .3z"/>
<path color="#2698ea" d="M493.4 63.6l2.6 .2-2-.6-2.6-.2z"/>
<path color="#249fe5" d="M477 63.5l2.6-1.5-2-.2-2.6 .8z"/>
<path color="#2699e9" d="M460.6 63.5l2.6 0-2-1-2.6 .6z"/>
<path color="#2797ea" d="M444.2 63.9l2.6-.3-2.1-.7-2.6 0z"/>
<path color="#2994ed" d="M498 64.4l2.6 .4-2-1.1-2.6 .1z"/>
<path color="#249ee6" d="M481.6 63.6l2.6-.4-2-.8-2.6-.4z"/>
<path color="#2698ea" d="M465.2 64.7l2.6-1.1-2-1.4-2.6 1.3z"/>
<path color="#2895ec" d="M448.8 64.6l2.6-.7-2-.6-2.6 .3z"/>
<path color="#2c90f0" d="M502.6 65.5l2.6-.4-2-1-2.6 .7z"/>
<path color="#259de7" d="M486.2 64.1l2.6-1.2-2-.2-2.6 .5z"/>
<path color="#259de7" d="M469.8 64.1l2.6-1-2-1-2.6 1.5z"/>
<path color="#2895ec" d="M453.4 64.8l2.6-.9-2-.1-2.6 .1z"/>
<path color="#2d8cf3" d="M507.2 66l2.6 .2-2-1.2-2.6 .1z"/>
<path color="#249fe5" d="M490.8 63.5l2.6 .1-2-.6-2.6-.1z"/>
<path color="#23a0e5" d="M474.4 63.1l2.6 .4-2-.9-2.6 .5z"/>
<path color="#2699e9" d="M458 64.7l2.6-1.2-2-.4-2.6 .8z"/>
<path color="#269ae8" d="M495.4 64.6l2.6-.2-2-.6-2.6-.2z"/>
<path color="#249fe6" d="M479 64.7l2.6-1.1-2-1.6-2.6 1.5z"/>
<path color="#2699ea" d="M462.6 65l2.6-.3-2-1.2-2.6 0z"/>
<path color="#2798ea" d="M446.2 64.7l2.6-.1-2-1-2.6 .3z"/>
<path color="#2995ec" d="M500 65.2l2.6 .3-2-.7-2.6-.4z"/>
<path color="#249de6" d="M483.6 64.5l2.6-.4-2-.9-2.6 .4z"/>
<path color="#269ae8" d="M467.2 64.4l2.6-.3-2-.5-2.6 1.1z"/>
<path color="#2896eb" d="M450.8 65.4l2.6-.6-2-.9-2.6 .7z"/>
<path color="#2b92ef" d="M504.6 65.9l2.6 .1-2-.9-2.6 .4z"/>
<path color="#23a0e5" d="M488.2 64.7l2.6-1.2-2-.6-2.6 1.2z"/>
<path color="#23a0e5" d="M471.8 64.2l2.6-1.1-2 0-2.6 1z"/>
<path color="#2797eb" d="M455.4 65.7l2.6-1-2-.8-2.6 .9z"/>
<path color="#239fe5" d="M492.8 64.7l2.6-.1-2-1-2.6-.1z"/>
<path color="#23a1e4" d="M476.4 64.1l2.6 .6-2-1.2-2.6-.4z"/>
<path color="#269ae8" d="M460 65.5l2.6-.5-2-1.5-2.6 1.2z"/>
<path color="#259be8" d="M497.4 65.4l2.6-.2-2-.8-2.6 .2z"/>
<path color="#249de7" d="M481 65.5l2.6-1-2-.9-2.6 1.1z"/>
<path color="#259be7" d="M464.6 64.9l2.6-.5-2 .3-2.6 .3z"/>
<path color="#2699ea" d="M448.2 65.4l2.6 0-2-.8-2.6 .1z"/>
<path color="#2798ea" d="M502 65.6l2.6 .3-2-.4-2.6-.3z"/>
<path color="#249ee6" d="M485.6 65.4l2.6-.7-2-.6-2.6 .4z"/>
<path color="#23a0e5" d="M469.2 64.6l2.6-.4-2-.1-2.6 .3z"/>
<path color="#2797eb" d="M452.8 66.2l2.6-.5-2-.9-2.6 .6z"/>
<path color="#23a0e5" d="M490.2 65.9l2.6-1.2-2-1.2-2.6 1.2z"/>
<path color="#21a3e3" d="M473.8 65.4l2.6-1.3-2-1-2.6 1.1z"/>
<path color="#2798ea" d="M457.4 66.5l2.6-1-2-.8-2.6 1z"/>
<path color="#249fe5" d="M494.8 65.7l2.6-.3-2-.8-2.6 .1z"/>
<path color="#239fe5" d="M478.4 65.5l2.6 0-2-.8-2.6-.6z"/>
<path color="#259ce7" d="M462 66.1l2.6-1.2-2 .1-2.6 .5z"/>
<path color="#249ee6" d="M499.4 65.7l2.6-.1-2-.4-2.6 .2z"/>
<path color="#249ee6" d="M483 66.2l2.6-.8-2-.9-2.6 1z"/>
<path color="#23a1e5" d="M466.6 66l2.6-1.4-2-.2-2.6 .5z"/>
<path color="#269ae9" d="M450.2 66.2l2.6 0-2-.8-2.6 0z"/>
<path color="#249ee6" d="M487.6 66.7l2.6-.8-2-1.2-2.6 .7z"/>
<path color="#22a2e4" d="M471.2 66l2.6-.6-2-1.2-2.6 .4z"/>
<path color="#2797ea" d="M454.8 67.1l2.6-.6-2-.8-2.6 .5z"/>
<path color="#23a0e5" d="M492.2 66.3l2.6-.6-2-1-2.6 1.2z"/>
<path color="#22a2e4" d="M475.8 66l2.6-.5-2-1.4-2.6 1.3z"/>
<path color="#2798ea" d="M459.4 67.9l2.6-1.8-2-.6-2.6 1z"/>
<path color="#22a1e4" d="M496.8 66.1l2.6-.4-2-.3-2.6 .3z"/>
<path color="#23a0e5" d="M480.4 66.3l2.6-.1-2-.7-2.6 0z"/>
<path color="#259ce7" d="M464 67.8l2.6-1.8-2-1.1-2.6 1.2z"/>
<path color="#249ee6" d="M485 66.7l2.6 0-2-1.3-2.6 .8z"/>
<path color="#23a0e5" d="M468.6 67.4l2.6-1.4-2-1.4-2.6 1.4z"/>
<path color="#269be8" d="M452.2 67.1l2.6 0-2-.9-2.6 0z"/>
<path color="#23a0e5" d="M489.6 66.6l2.6-.3-2-.4-2.6 .8z"/>
<path color="#23a1e4" d="M473.2 67.1l2.6-1.1-2-.6-2.6 .6z"/>
<path color="#2796eb" d="M456.8 68.3l2.6-.4-2-1.4-2.6 .6z"/>
<path color="#21a3e3" d="M494.2 66.4l2.6-.3-2-.4-2.6 .6z"/>
<path color="#21a3e4" d="M477.8 66.8l2.6-.5-2-.8-2.6 .5z"/>
<path color="#2796eb" d="M461.4 68.9l2.6-1.1-2-1.7-2.6 1.8z"/>
<path color="#22a2e4" d="M482.4 66.7l2.6 0-2-.5-2.6 .1z"/>
<path color="#269ae9" d="M466 68.7l2.6-1.3-2-1.4-2.6 1.8z"/>
<path color="#22a2e4" d="M487 67l2.6-.4-2 .1-2.6 0z"/>
<path color="#249ee6" d="M470.6 68.3l2.6-1.2-2-1.1-2.6 1.4z"/>
<path color="#269ae9" d="M454.2 68.3l2.6 0-2-1.2-2.6 0z"/>
<path color="#1fa6e2" d="M491.6 66.8l2.6-.4-2-.1-2.6 .3z"/>
<path color="#23a1e4" d="M475.2 68.4l2.6-1.6-2-.8-2.6 1.1z"/>
<path color="#2995ec" d="M458.8 69.2l2.6-.3-2-1-2.6 .4z"/>
<path color="#1fa5e2" d="M479.8 67.1l2.6-.4-2-.4-2.6 .5z"/>
<path color="#2895ec" d="M463.4 69.6l2.6-.9-2-.9-2.6 1.1z"/>
<path color="#1fa6e2" d="M484.4 67.2l2.6-.2-2-.3-2.6 0z"/>
<path color="#2798ea" d="M468 70.4l2.6-2.1-2-.9-2.6 1.3z"/>
<path color="#1ea7e1" d="M489 67.4l2.6-.6-2-.2-2.6 .4z"/>
<path color="#259de7" d="M472.6 69.4l2.6-1-2-1.3-2.6 1.2z"/>
<path color="#2798ea" d="M456.2 69.5l2.6-.3-2-.9-2.6 0z"/>
<path color="#21a3e3" d="M477.2 68.4l2.6-1.3-2-.3-2.6 1.6z"/>
<path color="#2895ec" d="M460.8 70l2.6-.4-2-.7-2.6 .3z"/>
<path color="#1caadf" d="M481.8 67.4l2.6-.2-2-.5-2.6 .4z"/>
<path color="#2b92ee" d="M465.4 71.6l2.6-1.2-2-1.7-2.6 .9z"/>
<path color="#1caadf" d="M486.4 67.7l2.6-.3-2-.4-2.6 .2z"/>
<path color="#2896ec" d="M470 71.4l2.6-2-2-1.1-2.6 2.1z"/>
<path color="#249ee6" d="M474.6 69.7l2.6-1.3-2 0-2.6 1z"/>
<path color="#2797ea" d="M458.2 70.6l2.6-.6-2-.8-2.6 .3z"/>
<path color="#1da8e0" d="M479.2 68.8l2.6-1.4-2-.3-2.6 1.3z"/>
<path color="#2a93ed" d="M462.8 71.2l2.6 .4-2-2-2.6 .4z"/>
<path color="#1aacdd" d="M483.8 68.4l2.6-.7-2-.5-2.6 .2z"/>
<path color="#2c8ef1" d="M467.4 72.4l2.6-1-2-1-2.6 1.2z"/>
<path color="#2798ea" d="M472 71.4l2.6-1.7-2-.3-2.6 2z"/>
<path color="#21a2e4" d="M476.6 70.6l2.6-1.8-2-.4-2.6 1.3z"/>
<path color="#2896eb" d="M460.2 71.9l2.6-.7-2-1.2-2.6 .6z"/>
<path color="#1baade" d="M481.2 69.8l2.6-1.4-2-1-2.6 1.4z"/>
<path color="#2c90f0" d="M464.8 72.3l2.6 .1-2-.8-2.6-.4z"/>
<path color="#2b91ef" d="M469.4 72.7l2.6-1.3-2 0-2.6 1z"/>
<path color="#269ae8" d="M474 72.8l2.6-2.2-2-.9-2.6 1.7z"/>
<path color="#21a3e3" d="M478.6 71.7l2.6-1.9-2-1-2.6 1.8z"/>
<path color="#2994ed" d="M462.2 73.1l2.6-.8-2-1.1-2.6 .7z"/>
<path color="#2b91ef" d="M466.8 73.5l2.6-.8-2-.3-2.6-.1z"/>
<path color="#2a93ee" d="M471.4 74l2.6-1.2-2-1.4-2.6 1.3z"/>
<path color="#2699e9" d="M476 73.9l2.6-2.2-2-1.1-2.6 2.2z"/>
<path color="#2b92ee" d="M464.2 74.2l2.6-.7-2-1.2-2.6 .8z"/>
<path color="#2b90ef" d="M468.8 74.6l2.6-.6-2-1.3-2.6 .8z"/>
<path color="#2b91ef" d="M473.4 74.8l2.6-.9-2-1.1-2.6 1.2z"/>
<path color="#2b91ef" d="M466.2 75.1l2.6-.5-2-1.1-2.6 .7z"/>
<path color="#2c8ff0" d="M470.8 75.6l2.6-.8-2-.8-2.6 .6z"/>
<path color="#2b91ef" d="M468.2 75.9l2.6-.3-2-1-2.6 .5z"/></g>
<text class="tk" x="416.6" y="24.5" text-anchor="end">2</text>
<text class="tk" x="416.6" y="40.1" text-anchor="end">1.5</text>
<text class="tk" x="416.6" y="55.8" text-anchor="end">1</text>
<text class="tk" x="416.6" y="71.6" text-anchor="end">0.5</text>
<text class="tk" x="418.8" y="84.3" text-anchor="middle">10</text>
<text class="tk" x="441.3" y="93.4" text-anchor="middle">5</text>
<text class="tk" x="461.2" y="102.9" text-anchor="middle">0</text>
<text class="tk" x="475.1" y="103.4" text-anchor="middle">0</text>
<text class="tk" x="501.2" y="96.6" text-anchor="middle">5</text>
<text class="tk" x="530.0" y="89.3" text-anchor="middle">10</text>
<text class="lb" transform="translate(398.0 45.8) rotate(-90)" text-anchor="middle">f(x,y) (%)</text>
<text class="lb" x="397.2" y="112.2">y-axis</text>
<text class="lb" x="508.7" y="113.5">x-axis</text>
<text class="cp cb" x="384.2" y="128.9" textLength="11.9" lengthAdjust="spacingAndGlyphs">(c)</text>
<text class="cp" x="401.6" y="128.9" textLength="18.4" lengthAdjust="spacingAndGlyphs">Field</text>
<text class="cp" x="425.4" y="128.9" textLength="8.2" lengthAdjust="spacingAndGlyphs">A:</text>
<text class="cp" x="439.1" y="128.9" textLength="9.7" lengthAdjust="spacingAndGlyphs"><tspan class="it">μ</tspan><tspan class="it" font-size="6.2" dy="-3.3">A</tspan></text>
<text class="cp eq" x="457.3" y="128.9" textLength="6.8" lengthAdjust="spacingAndGlyphs">=</text>
<text class="cp" x="471.8" y="128.9" textLength="18.7" lengthAdjust="spacingAndGlyphs">0.9%,</text>
<text class="cp" x="494.2" y="128.9" textLength="9.9" lengthAdjust="spacingAndGlyphs"><tspan class="it">σ</tspan><tspan class="it" font-size="6.2" dy="-3.3">A</tspan></text>
<text class="cp eq" x="512.3" y="128.9" textLength="7.0" lengthAdjust="spacingAndGlyphs">=</text>
<text class="cp" x="527.0" y="128.9" textLength="19.7" lengthAdjust="spacingAndGlyphs">0.1%,</text>
<text class="cp it" x="384.0" y="139.2" textLength="5.0" lengthAdjust="spacingAndGlyphs">â</text>
<text class="cp eq" x="390.9" y="139.2" textLength="6.3" lengthAdjust="spacingAndGlyphs">=</text>
<text class="cp" x="400.4" y="139.2" textLength="8.3" lengthAdjust="spacingAndGlyphs">24</text>
<text class="cp" x="409.2" y="139.2" textLength="13.4" lengthAdjust="spacingAndGlyphs">μm</text>
</g>
<g>
<path class="gm" d="M91.6 246.6L43.5 224.3M43.5 224.3L43.5 176.8M91.6 246.6L154.0 230.2M154.0 230.2L154.0 182.7M97.0 245.2L48.9 222.9M48.9 222.9L48.9 175.4M87.4 244.7L149.8 228.3M149.8 228.3L149.8 180.8M102.5 243.7L54.4 221.4M54.4 221.4L54.4 173.9M83.2 242.7L145.6 226.3M145.6 226.3L145.6 178.8M107.9 242.3L59.8 220.0M59.8 220.0L59.8 172.5M79.1 240.8L141.5 224.4M141.5 224.4L141.5 176.9M113.3 240.9L65.2 218.6M65.2 218.6L65.2 171.1M74.9 238.8L137.3 222.4M137.3 222.4L137.3 174.9M118.7 239.5L70.6 217.2M70.6 217.2L70.6 169.7M70.7 236.9L133.1 220.5M133.1 220.5L133.1 173.0M124.2 238.0L76.1 215.7M76.1 215.7L76.1 168.2M66.5 235.0L128.9 218.6M128.9 218.6L128.9 171.1M129.6 236.6L81.5 214.3M81.5 214.3L81.5 166.8M62.3 233.0L124.7 216.6M124.7 216.6L124.7 169.1M135.0 235.2L86.9 212.9M86.9 212.9L86.9 165.4M58.1 231.1L120.5 214.7M120.5 214.7L120.5 167.2M140.4 233.8L92.3 211.5M92.3 211.5L92.3 164.0M54.0 229.1L116.4 212.7M116.4 212.7L116.4 165.2M145.9 232.3L97.8 210.0M97.8 210.0L97.8 162.5M49.8 227.2L112.2 210.8M112.2 210.8L112.2 163.3M151.3 230.9L103.2 208.6M103.2 208.6L103.2 161.1M45.6 225.3L108.0 208.9M108.0 208.9L108.0 161.4M43.5 224.3L105.9 207.9M105.9 207.9L154.0 230.2M43.5 221.1L105.9 204.7M105.9 204.7L154.0 227.0M43.5 218.0L105.9 201.6M105.9 201.6L154.0 223.9M43.5 214.8L105.9 198.4M105.9 198.4L154.0 220.7M43.5 211.6L105.9 195.2M105.9 195.2L154.0 217.5M43.5 208.5L105.9 192.1M105.9 192.1L154.0 214.4M43.5 205.3L105.9 188.9M105.9 188.9L154.0 211.2M43.5 202.1L105.9 185.7M105.9 185.7L154.0 208.0M43.5 199.0L105.9 182.6M105.9 182.6L154.0 204.9M43.5 195.8L105.9 179.4M105.9 179.4L154.0 201.7M43.5 192.6L105.9 176.2M105.9 176.2L154.0 198.5M43.5 189.5L105.9 173.1M105.9 173.1L154.0 195.4M43.5 186.3L105.9 169.9M105.9 169.9L154.0 192.2M43.5 183.1L105.9 166.7M105.9 166.7L154.0 189.0M43.5 180.0L105.9 163.6M105.9 163.6L154.0 185.9M43.5 176.8L105.9 160.4M105.9 160.4L154.0 182.7"/>
<path class="gM" d="M91.6 246.6L43.5 224.3M43.5 224.3L43.5 176.8M91.6 246.6L154.0 230.2M154.0 230.2L154.0 182.7M118.7 239.5L70.6 217.2M70.6 217.2L70.6 169.7M70.7 236.9L133.1 220.5M133.1 220.5L133.1 173.0M145.9 232.3L97.8 210.0M97.8 210.0L97.8 162.5M49.8 227.2L112.2 210.8M112.2 210.8L112.2 163.3M43.5 224.3L105.9 207.9M105.9 207.9L154.0 230.2M43.5 208.5L105.9 192.1M105.9 192.1L154.0 214.4M43.5 192.6L105.9 176.2M105.9 176.2L154.0 198.5M43.5 176.8L105.9 160.4M105.9 160.4L154.0 182.7"/>
<path class="ax" d="M43.5 224.3L43.5 176.8M43.5 224.3L91.6 246.6M91.6 246.6L154.0 230.2M91.6 246.6L90.3 246.0M91.6 246.6L93.2 246.2M118.7 239.5L117.5 238.9M70.7 236.9L72.3 236.5M145.9 232.3L144.6 231.8M49.8 227.2L51.4 226.8M43.5 224.3L45.1 223.9M43.5 208.5L45.1 208.0M43.5 192.6L45.1 192.2M43.5 176.8L45.1 176.4"/>
<g class="s"><path color="#259be7" d="M105.3 191.5l2.6-.5-2-1.4-2.6 1z"/>
<path color="#2798ea" d="M102.7 193l2.6-1.5-2-.9-2.6 1.5z"/>
<path color="#239fe5" d="M107.3 190.9l2.6 .1-2 0-2.6 .5z"/>
<path color="#2c8ff1" d="M100.1 195.1l2.6-2.1-2-.9-2.6 1.9z"/>
<path color="#249de6" d="M104.7 192.8l2.6-1.9-2 .6-2.6 1.5z"/>
<path color="#1ea6e1" d="M109.3 191.7l2.6-1-2 .3-2.6-.1z"/>
<path color="#2e83f9" d="M97.5 197.6l2.6-2.5-2-1.1-2.6 1.4z"/>
<path color="#2a93ee" d="M102.1 195.1l2.6-2.3-2 .2-2.6 2.1z"/>
<path color="#20a4e3" d="M106.7 192.8l2.6-1.1-2-.8-2.6 1.9z"/>
<path color="#15afd9" d="M111.3 190.6l2.6-.5-2 .6-2.6 1z"/>
<path color="#3875fe" d="M94.9 199.5l2.6-1.9-2-2.2-2.6 2.7z"/>
<path color="#2e84f9" d="M99.5 198l2.6-2.9-2 0-2.6 2.5z"/>
<path color="#259be8" d="M104.1 195.2l2.6-2.4-2 0-2.6 2.3z"/>
<path color="#1baade" d="M108.7 193.6l2.6-3-2 1.1-2.6 1.1z"/>
<path color="#4564fd" d="M92.3 202.1l2.6-2.6-2-1.4-2.6 2.5z"/>
<path color="#06bcc0" d="M113.3 187.8l2.6 .9-2 1.4-2.6 .5z"/>
<path color="#3a73fe" d="M96.9 200.1l2.6-2.1-2-.4-2.6 1.9z"/>
<path color="#2d89f5" d="M101.5 198.9l2.6-3.7-2-.1-2.6 2.9z"/>
<path color="#23a1e4" d="M106.1 195.1l2.6-1.5-2-.8-2.6 2.4z"/>
<path color="#4759f9" d="M89.7 202.3l2.6-.2-2-1.5-2.6 1.9z"/>
<path color="#04bbc2" d="M110.7 188.4l2.6-.6-2 2.8-2.6 3z"/>
<path color="#4563fc" d="M94.3 202.8l2.6-2.7-2-.6-2.6 2.6z"/>
<path color="#27c2ac" d="M115.3 189.2l2.6-1-2 .5-2.6-.9z"/>
<path color="#3a74fe" d="M98.9 201.6l2.6-2.7-2-.9-2.6 2.1z"/>
<path color="#2b90f0" d="M103.5 198.4l2.6-3.3-2 .1-2.6 3.7z"/>
<path color="#465dfa" d="M87.1 201.9l2.6 .4-2 .2-2.6-.4z"/>
<path color="#0bb3d2" d="M108.1 192.4l2.6-4-2 5.2-2.6 1.5z"/>
<path color="#475cfa" d="M91.7 202.8l2.6 0-2-.7-2.6 .2z"/>
<path color="#2fc5a3" d="M112.7 188.4l2.6 .8-2-1.4-2.6 .6z"/>
<path color="#4562fc" d="M96.3 204.2l2.6-2.6-2-1.5-2.6 2.7z"/>
<path color="#25c2ad" d="M117.3 191.2l2.6-1.7-2-1.3-2.6 1z"/>
<path color="#2f82f9" d="M100.9 197.6l2.6 .8-2 .5-2.6 2.7z"/>
<path color="#4563fc" d="M84.5 202.9l2.6-1-2 .2-2.6 .1z"/>
<path color="#249fe5" d="M105.5 197.9l2.6-5.5-2 2.7-2.6 3.3z"/>
<path color="#4561fc" d="M89.1 203.7l2.6-.9-2-.5-2.6-.4z"/>
<path color="#1fc0b2" d="M110.1 192.1l2.6-3.7-2 0-2.6 4z"/>
<path color="#465dfa" d="M93.7 203.6l2.6 .6-2-1.4-2.6 0z"/>
<path color="#25c2ae" d="M114.7 192.1l2.6-.9-2-2-2.6-.8z"/>
<path color="#3876fe" d="M98.3 200.8l2.6-3.2-2 4-2.6 2.6z"/>
<path color="#3f6dfe" d="M81.9 201.3l2.6 1.6-2-.7-2.6-1.2z"/>
<path color="#27c2ac" d="M119.3 191.9l2.6-3.2-2 .8-2.6 1.7z"/>
<path color="#2b92ee" d="M102.9 199.1l2.6-1.2-2 .5-2.6-.8z"/>
<path color="#4661fc" d="M86.5 205.1l2.6-1.4-2-1.8-2.6 1z"/>
<path color="#10b2d5" d="M107.5 194.6l2.6-2.5-2 .3-2.6 5.5z"/>
<path color="#4563fc" d="M91.1 203.7l2.6-.1-2-.8-2.6 .9z"/>
<path color="#0abdbd" d="M112.1 196.3l2.6-4.2-2-3.7-2.6 3.7z"/>
<path color="#416bfe" d="M95.7 202.5l2.6-1.7-2 3.4-2.6-.6z"/>
<path color="#307ffb" d="M79.3 200l2.6 1.3-2-.3-2.6 0z"/>
<path color="#0dbdbc" d="M116.7 194.3l2.6-2.4-2-.7-2.6 .9z"/>
<path color="#2d88f6" d="M100.3 202.9l2.6-3.8-2-1.5-2.6 3.2z"/>
<path color="#416bfe" d="M83.9 202.7l2.6 2.4-2-2.2-2.6-1.6z"/>
<path color="#35c79a" d="M121.3 190.6l2.6-2.1-2 .2-2.6 3.2z"/>
<path color="#249fe6" d="M104.9 199l2.6-4.4-2 3.3-2.6 1.2z"/>
<path color="#465efb" d="M88.5 206.1l2.6-2.4-2 0-2.6 1.4z"/>
<path color="#0bb3d2" d="M109.5 196.6l2.6-.3-2-4.2-2.6 2.5z"/>
<path color="#3b73fe" d="M93.1 201.3l2.6 1.2-2 1.1-2.6 .1z"/>
<path color="#2d8cf3" d="M76.7 200l2.6 0-2 1-2.6-1.7z"/>
<path color="#08b4d0" d="M114.1 197.1l2.6-2.8-2-2.2-2.6 4.2z"/>
<path color="#3b73fe" d="M97.7 205.8l2.6-2.9-2-2.1-2.6 1.7z"/>
<path color="#2e85f8" d="M81.3 200l2.6 2.7-2-1.4-2.6-1.3z"/>
<path color="#1dc0b3" d="M118.7 193.3l2.6-2.7-2 1.3-2.6 2.4z"/>
<path color="#2d8df3" d="M102.3 201.1l2.6-2.1-2 .1-2.6 3.8z"/>
<path color="#3c71ff" d="M85.9 199.3l2.6 6.8-2-1-2.6-2.4z"/>
<path color="#36c899" d="M123.3 192.7l2.6-1.7-2-2.5-2.6 2.1z"/>
<path color="#22a2e4" d="M106.9 202.5l2.6-5.9-2-2-2.6 4.4z"/>
<path color="#3e6fff" d="M90.5 204l2.6-2.7-2 2.4-2.6 2.4z"/>
<path color="#2895ec" d="M74.1 200.4l2.6-.4-2-.7-2.6-.3z"/>
<path color="#17aeda" d="M111.5 196.7l2.6 .4-2-.8-2.6 .3z"/>
<path color="#3578fd" d="M95.1 203l2.6 2.8-2-3.3-2.6-1.2z"/>
<path color="#2798ea" d="M78.7 198.4l2.6 1.6-2 0-2.6 0z"/>
<path color="#01b8ca" d="M116.1 196.4l2.6-3.1-2 1-2.6 2.8z"/>
<path color="#3c71ff" d="M99.7 206.3l2.6-5.2-2 1.8-2.6 2.9z"/>
<path color="#2a93ed" d="M83.3 199.4l2.6-.1-2 3.4-2.6-2.7z"/>
<path color="#28c2ab" d="M120.7 194.5l2.6-1.8-2-2.1-2.6 2.7z"/>
<path color="#2d8df2" d="M104.3 203.1l2.6-.6-2-3.5-2.6 2.1z"/>
<path color="#2f82f9" d="M87.9 200.8l2.6 3.2-2 2.1-2.6-6.8z"/>
<path color="#23a1e4" d="M71.5 198.6l2.6 1.8-2-1.4-2.6-1.5z"/>
<path color="#35c79b" d="M125.3 192.3l2.6-1.2-2-.1-2.6 1.7z"/>
<path color="#22a2e4" d="M108.9 200.5l2.6-3.8-2-.1-2.6 5.9z"/>
<path color="#2e87f7" d="M92.5 200.9l2.6 2.1-2-1.7-2.6 2.7z"/>
<path color="#259be7" d="M76.1 200.4l2.6-2-2 1.6-2.6 .4z"/>
<path color="#07b5d0" d="M113.5 195.8l2.6 .6-2 .7-2.6-.4z"/>
<path color="#3b73fe" d="M97.1 203.2l2.6 3.1-2-.5-2.6-2.8z"/>
<path color="#22a2e4" d="M80.7 198.9l2.6 .5-2 .6-2.6-1.6z"/>
<path color="#02bbc3" d="M118.1 197.9l2.6-3.4-2-1.2-2.6 3.1z"/>
<path color="#3579fd" d="M101.7 206.3l2.6-3.2-2-2-2.6 5.2z"/>
<path color="#23a1e5" d="M85.3 199l2.6 1.8-2-1.5-2.6 .1z"/>
<path color="#1caadf" d="M68.9 199l2.6-.4-2-1.1-2.6 .7z"/>
<path color="#25c2ad" d="M122.7 196.1l2.6-3.8-2 .4-2.6 1.8z"/>
<path color="#2d8df2" d="M106.3 202.9l2.6-2.4-2 2-2.6 .6z"/>
<path color="#2895ec" d="M89.9 199.5l2.6 1.4-2 3.1-2.6-3.2z"/>
<path color="#21a3e4" d="M73.5 198.9l2.6 1.5-2 0-2.6-1.8z"/>
<path color="#3dc990" d="M127.3 192.9l2.7-1.1-2.1-.7-2.6 1.2z"/>
<path color="#17aeda" d="M110.9 200.2l2.6-4.4-2 .9-2.6 3.8z"/>
<path color="#2d8af4" d="M94.5 204.3l2.6-1.1-2-.2-2.6-2.1z"/>
<path color="#1ea7e1" d="M78.1 199.4l2.6-.5-2-.5-2.6 2z"/>
<path color="#09b4d1" d="M115.5 200l2.6-2.1-2-1.5-2.6-.6z"/>
<path color="#3b73fe" d="M99.1 206.2l2.6 .1-2 0-2.6-3.1z"/>
<path color="#1ca9df" d="M82.7 199.4l2.6-.4-2 .4-2.6-.5z"/>
<path color="#13b0d8" d="M66.3 197.8l2.6 1.2-2-.8-2.6-.8z"/>
<path color="#05bbc1" d="M120.1 196.8l2.6-.7-2-1.6-2.6 3.4z"/>
<path color="#2e85f8" d="M103.7 203.3l2.6-.4-2 .2-2.6 3.2z"/>
<path color="#20a5e2" d="M87.3 200.8l2.6-1.3-2 1.3-2.6-1.8z"/>
<path color="#19acdc" d="M70.9 199.1l2.6-.2-2-.3-2.6 .4z"/>
<path color="#28c2ab" d="M124.8 197.2l2.5-4.3-2-.6-2.6 3.8z"/>
<path color="#2798ea" d="M108.3 204l2.6-3.8-2 .3-2.6 2.4z"/>
<path color="#259ce7" d="M91.9 201.1l2.6 3.2-2-3.4-2.6-1.4z"/>
<path color="#1aabdd" d="M75.5 198.6l2.6 .8-2 1-2.6-1.5z"/>
<path color="#38c896" d="M129.4 195.3l2.6-2.1-2-1.4-2.7 1.1z"/>
<path color="#1caadf" d="M112.9 203.7l2.6-3.7-2-4.2-2.6 4.4z"/>
<path color="#2e83f9" d="M96.5 204.6l2.6 1.6-2-3-2.6 1.1z"/>
<path color="#16afd9" d="M80.1 198.4l2.6 1-2-.5-2.6 .5z"/>
<path color="#12b1d6" d="M63.7 199.3l2.6-1.5-2-.4-2.6 2.7z"/>
<path color="#14b0d8" d="M117.5 202.3l2.6-5.5-2 1.1-2.6 2.1z"/>
<path color="#3876fe" d="M101.1 208.7l2.6-5.4-2 3-2.6-.1z"/>
<path color="#1aacdd" d="M84.7 199.6l2.6 1.2-2-1.8-2.6 .4z"/>
<path color="#12b1d6" d="M68.3 199.6l2.6-.5-2-.1-2.6-1.2z"/>
<path color="#08bcbf" d="M122.2 198.1l2.6-.9-2.1-1.1-2.6 .7z"/>
<path color="#2d8cf3" d="M105.7 206l2.6-2-2-1.1-2.6 .4z"/>
<path color="#1fa6e2" d="M89.3 201.8l2.6-.7-2-1.6-2.6 1.3z"/>
<path color="#0eb3d4" d="M72.9 198.9l2.6-.3-2 .3-2.6 .2z"/>
<path color="#24c1ae" d="M126.8 198l2.6-2.7-2.1-2.4-2.5 4.3z"/>
<path color="#2c8ef1" d="M110.3 208.5l2.6-4.8-2-3.5-2.6 3.8z"/>
<path color="#2895ec" d="M93.9 202.8l2.6 1.8-2-.3-2.6-3.2z"/>
<path color="#01b8c8" d="M77.5 195.6l2.6 2.8-2 1-2.6-.8z"/>
<path color="#2ec5a4" d="M131.4 197l2.6-1.5-2-2.3-2.6 2.1z"/>
<path color="#1aabdd" d="M61.1 200.9l2.6-1.6-2 .8-2.6 .5z"/>
<path color="#269ae9" d="M114.9 205.6l2.6-3.3-2-2.3-2.6 3.7z"/>
<path color="#3776fe" d="M98.5 207.6l2.6 1.1-2-2.5-2.6-1.6z"/>
<path color="#0cb3d3" d="M82.1 199.6l2.6 0-2-.2-2.6-1z"/>
<path color="#0ab4d2" d="M65.7 199.7l2.6-.1-2-1.8-2.6 1.5z"/>
<path color="#0eb2d4" d="M119.6 201.7l2.6-3.6-2.1-1.3-2.6 5.5z"/>
<path color="#347afd" d="M103.1 208.7l2.6-2.7-2-2.7-2.6 5.4z"/>
<path color="#17aeda" d="M86.7 198.9l2.6 2.9-2-1-2.6-1.2z"/>
<path color="#04b6cd" d="M70.3 197.8l2.6 1.1-2 .2-2.6 .5z"/>
<path color="#05bbc1" d="M124.2 199.3l2.6-1.3-2-.8-2.6 .9z"/>
<path color="#347afd" d="M107.7 209.3l2.6-.8-2-4.5-2.6 2z"/>
<path color="#23a0e5" d="M91.3 204.1l2.6-1.3-2-1.7-2.6 .7z"/>
<path color="#1ec0b2" d="M74.9 193.8l2.6 1.8-2 3-2.6 .3z"/>
<path color="#0dbdbc" d="M128.8 201.4l2.6-4.4-2-1.7-2.6 2.7z"/>
<path color="#1babde" d="M58.5 201.1l2.6-.2-2-.3-2.6 .6z"/>
<path color="#327cfc" d="M112.3 210.3l2.6-4.7-2-1.9-2.6 4.8z"/>
<path color="#2a93ee" d="M95.9 202.6l2.6 5-2-3-2.6-1.8z"/>
<path color="#02bac5" d="M79.5 200.7l2.6-1.1-2-1.2-2.6-2.8z"/>
<path color="#17bfb7" d="M133.4 200.3l2.6-2.1-2-2.7-2.6 1.5z"/>
<path color="#12b1d6" d="M63.1 201.2l2.6-1.5-2-.4-2.6 1.6z"/>
<path color="#2796eb" d="M117 207.4l2.6-5.7-2.1 .6-2.6 3.3z"/>
<path color="#406dfe" d="M100.5 209.5l2.6-.8-2 0-2.6-1.1z"/>
<path color="#01b9c7" d="M84.1 198l2.6 .9-2 .7-2.6 0z"/>
<path color="#02bac4" d="M67.7 197.9l2.6-.1-2 1.8-2.6 .1z"/>
<path color="#06b5cf" d="M121.6 201.4l2.6-2.1-2-1.2-2.6 3.6z"/>
<path color="#3d71ff" d="M105.1 209.9l2.6-.6-2-3.3-2.6 2.7z"/>
<path color="#17aeda" d="M88.7 200.1l2.6 4-2-2.3-2.6-2.9z"/>
<path color="#28c2ab" d="M72.3 196.7l2.6-2.9-2 5.1-2.6-1.1z"/>
<path color="#0eb2d4" d="M126.2 204.9l2.6-3.5-2-3.4-2.6 1.3z"/>
<path color="#1caadf" d="M55.9 203.5l2.6-2.4-2 .1-2.6 .3z"/>
<path color="#3f6efe" d="M109.7 208.1l2.6 2.2-2-1.8-2.6 .8z"/>
<path color="#22a1e4" d="M93.3 203.5l2.6-.9-2 .2-2.6 1.3z"/>
<path color="#2cc4a7" d="M76.9 196.6l2.6 4.1-2-5.1-2.6-1.8z"/>
<path color="#02b7cb" d="M130.8 202.2l2.6-1.9-2-3.3-2.6 4.4z"/>
<path color="#15afd8" d="M60.5 201.6l2.6-.4-2-.3-2.6 .2z"/>
<path color="#317dfc" d="M114.3 207.9l2.7-.5-2.1-1.8-2.6 4.7z"/>
<path color="#2d89f5" d="M97.9 206.1l2.6 3.4-2-1.9-2.6-5z"/>
<path color="#0abdbd" d="M81.5 197.2l2.6 .8-2 1.6-2.6 1.1z"/>
<path color="#03bbc2" d="M135.4 201.3l2.6-2.3-2-.8-2.6 2.1z"/>
<path color="#04bbc2" d="M65.1 197.9l2.6 0-2 1.8-2.6 1.5z"/>
<path color="#269ae9" d="M119 208.5l2.6-7.1-2 .3-2.6 5.7z"/>
<path color="#3c71ff" d="M102.5 208.3l2.6 1.6-2-1.2-2.6 .8z"/>
<path color="#08bcbf" d="M86.1 199.9l2.6 .2-2-1.2-2.6-.9z"/>
<path color="#24c1ae" d="M69.7 198.6l2.6-1.9-2 1.1-2.6 .1z"/>
<path color="#1fa6e1" d="M123.6 208l2.6-3.1-2-5.6-2.6 2.1z"/>
<path color="#20a4e3" d="M53.3 204.2l2.6-.7-2-2-2.6 2z"/>
<path color="#3579fd" d="M107.1 207.3l2.6 .8-2 1.2-2.6 .6z"/>
<path color="#18addb" d="M90.7 201.6l2.6 1.9-2 .6-2.6-4z"/>
<path color="#35c79a" d="M74.3 198.4l2.6-1.8-2-2.8-2.6 2.9z"/>
<path color="#20a4e3" d="M128.2 207.3l2.6-5.1-2-.8-2.6 3.5z"/>
<path color="#1aacdd" d="M57.9 203.6l2.6-2-2-.5-2.6 2.4z"/>
<path color="#317dfc" d="M111.8 207.7l2.5 .2-2 2.4-2.6-2.2z"/>
<path color="#1fc0b2" d="M78.9 199.6l2.6-2.4-2 3.5-2.6-4.1z"/>
<path color="#08b4d0" d="M132.8 203l2.6-1.7-2-1-2.6 1.9z"/>
<path color="#02bac4" d="M62.5 199.8l2.6-1.9-2 3.3-2.6 .4z"/>
<path color="#2d88f6" d="M116.4 206.4l2.6 2.1-2-1.1-2.7 .5z"/>
<path color="#25c2ae" d="M83.5 198.7l2.6 1.2-2-1.9-2.6-.8z"/>
<path color="#02b7cb" d="M137.4 203.2l2.6-1.1-2-3.1-2.6 2.3z"/>
<path color="#25c2ae" d="M67.1 199.1l2.6-.5-2-.7-2.6 0z"/>
<path color="#2d88f6" d="M121 213.2l2.6-5.2-2-6.6-2.6 7.1z"/>
<path color="#259ce7" d="M50.7 206.9l2.6-2.7-2-.7-2.6 1.7z"/>
<path color="#0cbdbc" d="M88.1 198.2l2.6 3.4-2-1.5-2.6-.2z"/>
<path color="#1bc0b4" d="M71.7 202.9l2.6-4.5-2-1.7-2.6 1.9z"/>
<path color="#2c8ff0" d="M125.6 208.7l2.6-1.4-2-2.4-2.6 3.1z"/>
<path color="#1ea7e1" d="M55.3 203.5l2.6 .1-2-.1-2.6 .7z"/>
<path color="#2e86f8" d="M109.2 209.8l2.6-2.1-2.1 .4-2.6-.8z"/>
<path color="#29c3aa" d="M76.3 199.6l2.6 0-2-3-2.6 1.8z"/>
<path color="#23a1e4" d="M130.2 208.6l2.6-5.6-2-.8-2.6 5.1z"/>
<path color="#05b6ce" d="M59.9 201.9l2.6-2.1-2 1.8-2.6 2z"/>
<path color="#2a92ee" d="M113.8 206.3l2.6 .1-2.1 1.5-2.5-.2z"/>
<path color="#28c3ab" d="M80.9 200l2.6-1.3-2-1.5-2.6 2.4z"/>
<path color="#10b2d5" d="M134.8 204.9l2.6-1.7-2-1.9-2.6 1.7z"/>
<path color="#25c2ad" d="M64.5 199.4l2.6-.3-2-1.2-2.6 1.9z"/>
<path color="#337bfc" d="M118.4 211.4l2.6 1.8-2-4.7-2.6-2.1z"/>
<path color="#2b92ee" d="M48.1 208.5l2.6-1.6-2-1.7-2.6 1.8z"/>
<path color="#28c3aa" d="M85.5 199.7l2.6-1.5-2 1.7-2.6-1.2z"/>
<path color="#10b2d5" d="M139.4 205.1l2.6-2.1-2-.9-2.6 1.1z"/>
<path color="#0dbdbb" d="M69.1 201.3l2.6 1.6-2-4.3-2.6 .5z"/>
<path color="#3579fd" d="M123 211.3l2.6-2.6-2-.7-2.6 5.2z"/>
<path color="#21a3e3" d="M52.7 205.1l2.6-1.6-2 .7-2.6 2.7z"/>
<path color="#04bbc2" d="M73.7 204.3l2.6-4.7-2-1.2-2.6 4.5z"/>
<path color="#2d8af5" d="M127.6 210.5l2.6-1.9-2-1.3-2.6 1.4z"/>
<path color="#10b2d5" d="M57.3 203.4l2.6-1.5-2 1.7-2.6-.1z"/>
<path color="#2d8cf3" d="M111.2 210.2l2.6-3.9-2 1.4-2.6 2.1z"/>
<path color="#22c1af" d="M78.3 200.6l2.6-.6-2-.4-2.6 0z"/>
<path color="#23a0e5" d="M132.2 208.6l2.6-3.7-2-1.9-2.6 5.6z"/>
<path color="#11beb9" d="M61.9 202.1l2.6-2.7-2 .4-2.6 2.1z"/>
<path color="#2c8ef1" d="M115.8 209.9l2.6 1.5-2-5-2.6-.1z"/>
<path color="#2994ed" d="M45.5 207.4l2.6 1.1-2-1.5-2.6-.6z"/>
<path color="#26c2ac" d="M82.9 201.4l2.6-1.7-2-1-2.6 1.3z"/>
<path color="#1aabdd" d="M136.8 206.9l2.6-1.8-2-1.9-2.6 1.7z"/>
<path color="#1fc0b2" d="M66.5 201.6l2.6-.3-2-2.2-2.6 .3z"/>
<path color="#3e70ff" d="M120.4 211.8l2.6-.5-2 1.9-2.6-1.8z"/>
<path color="#259be8" d="M50.1 206.3l2.6-1.2-2 1.8-2.6 1.6z"/>
<path color="#0cb3d3" d="M141.4 205.4l2.6-2.6-2 .2-2.6 2.1z"/>
<path color="#01b9c8" d="M71.1 201.6l2.6 2.7-2-1.4-2.6-1.6z"/>
<path color="#317efb" d="M125 212.6l2.6-2.1-2-1.8-2.6 2.6z"/>
<path color="#18addb" d="M54.7 205.9l2.6-2.5-2 .1-2.6 1.6z"/>
<path color="#14beb8" d="M75.7 201.1l2.6-.5-2-1-2.6 4.7z"/>
<path color="#2d88f6" d="M129.6 211.9l2.6-3.3-2 0-2.6 1.9z"/>
<path color="#01bac5" d="M59.3 202.6l2.6-.5-2-.2-2.6 1.5z"/>
<path color="#2c8ef1" d="M113.2 210.1l2.6-.2-2-3.6-2.6 3.9z"/>
<path color="#1fc1b1" d="M80.3 202.1l2.6-.7-2-1.4-2.6 .6z"/>
<path color="#23a0e5" d="M134.2 208.8l2.6-1.9-2-2-2.6 3.7z"/>
<path color="#0cbdbc" d="M63.9 204.7l2.6-3.1-2-2.2-2.6 2.7z"/>
<path color="#347afd" d="M117.8 213.3l2.6-1.5-2-.4-2.6-1.5z"/>
<path color="#259de7" d="M47.5 206.5l2.6-.2-2 2.2-2.6-1.1z"/>
<path color="#1ec0b2" d="M84.9 202.3l2.6-.2-2-2.4-2.6 1.7z"/>
<path color="#1caadf" d="M138.8 207.3l2.6-1.9-2-.3-2.6 1.8z"/>
<path color="#13beb9" d="M68.5 202.9l2.6-1.3-2-.3-2.6 .3z"/>
<path color="#3777fe" d="M122.4 212.7l2.6-.1-2-1.3-2.6 .5z"/>
<path color="#1da8e0" d="M52.1 206.2l2.6-.3-2-.8-2.6 1.2z"/>
<path color="#01b8c9" d="M143.4 205.6l2.6-3.4-2 .6-2.6 2.6z"/>
<path color="#16bfb7" d="M73.1 200.8l2.6 .3-2 3.2-2.6-2.7z"/>
<path color="#3678fe" d="M127 214.1l2.6-2.2-2-1.4-2.6 2.1z"/>
<path color="#09b4d1" d="M56.7 205.2l2.6-2.6-2 .8-2.6 2.5z"/>
<path color="#27c2ab" d="M77.7 201.1l2.6 1-2-1.5-2.6 .5z"/>
<path color="#2d89f5" d="M131.6 213.7l2.6-4.9-2-.2-2.6 3.3z"/>
<path color="#01b9c7" d="M61.3 204.8l2.6-.1-2-2.6-2.6 .5z"/>
<path color="#2f81fa" d="M115.2 212.7l2.6 .6-2-3.4-2.6 .2z"/>
<path color="#1fc1b1" d="M82.3 202l2.6 .3-2-.9-2.6 .7z"/>
<path color="#23a1e4" d="M136.2 209.3l2.6-2-2-.4-2.6 1.9z"/>
<path color="#02bac4" d="M65.9 204.8l2.6-1.9-2-1.3-2.6 3.1z"/>
<path color="#3e70ff" d="M119.8 216.2l2.6-3.5-2-.9-2.6 1.5z"/>
<path color="#1aabdd" d="M49.5 205.6l2.6 .6-2 .1-2.6 .2z"/>
<path color="#17aedb" d="M140.8 207.9l2.6-2.3-2-.2-2.6 1.9z"/>
<path color="#1ec0b2" d="M70.5 203.6l2.6-2.8-2 .8-2.6 1.3z"/>
<path color="#3b72ff" d="M124.4 214.6l2.6-.5-2-1.5-2.6 .1z"/>
<path color="#18aedb" d="M54.1 206.7l2.6-1.5-2 .7-2.6 .3z"/>
<path color="#03bbc2" d="M145.4 206.2l2.6-2.7-2-1.3-2.6 3.4z"/>
<path color="#2ac3a9" d="M75.1 203.9l2.6-2.8-2 0-2.6-.3z"/>
<path color="#3c71ff" d="M129 215.7l2.6-2-2-1.8-2.6 2.2z"/>
<path color="#02b7cb" d="M58.7 206l2.6-1.2-2-2.2-2.6 2.6z"/>
<path color="#2f81fa" d="M112.6 214.1l2.6-1.4-2-2.6-2.6 1.9z"/>
<path color="#2ec4a4" d="M79.7 201l2.6 1-2 .1-2.6-1z"/>
<path color="#2b91ef" d="M133.6 211.1l2.6-1.8-2-.5-2.6 4.9z"/>
<path color="#01b8ca" d="M63.3 204.7l2.6 .1-2-.1-2.6 .1z"/>
<path color="#3b73fe" d="M117.2 213.3l2.6 2.9-2-2.9-2.6-.6z"/>
<path color="#37c897" d="M84.3 199.1l2.6 .9-2 2.3-2.6-.3z"/>
<path color="#249fe5" d="M138.2 212.3l2.6-4.4-2-.6-2.6 2z"/>
<path color="#02bbc3" d="M67.9 206.1l2.6-2.5-2-.7-2.6 1.9z"/>
<path color="#4368fe" d="M121.8 217.2l2.6-2.6-2-1.9-2.6 3.5z"/>
<path color="#14b0d8" d="M51.5 207l2.6-.3-2-.5-2.6-.6z"/>
<path color="#12b1d6" d="M142.8 208.3l2.6-2.1-2-.6-2.6 2.3z"/>
<path color="#1ac0b5" d="M72.5 205.2l2.6-1.3-2-3.1-2.6 2.8z"/>
<path color="#416bfe" d="M126.4 216.3l2.6-.6-2-1.6-2.6 .5z"/>
<path color="#0eb3d4" d="M56.1 206.8l2.6-.8-2-.8-2.6 1.5z"/>
<path color="#03b7cc" d="M147.4 208.9l2.6-2.9-2-2.5-2.6 2.7z"/>
<path color="#2dc4a6" d="M77.1 203.5l2.6-2.5-2 .1-2.6 2.8z"/>
<path color="#337bfc" d="M131 214.8l2.6-3.7-2 2.6-2.6 2z"/>
<path color="#02bac5" d="M60.7 204.6l2.6 .1-2 .1-2.6 1.2z"/>
<path color="#3a73fe" d="M114.6 218l2.6-4.7-2-.6-2.6 1.4z"/>
<path color="#46cb88" d="M81.7 200.2l2.6-1.1-2 2.9-2.6-1z"/>
<path color="#2b90f0" d="M135.6 214.2l2.6-1.9-2-3-2.6 1.8z"/>
<path color="#03b7cc" d="M65.3 208l2.6-1.9-2-1.3-2.6-.1z"/>
<path color="#4368fe" d="M119.2 216.8l2.6 .4-2-1-2.6-2.9z"/>
<path color="#20a4e3" d="M140.2 209.5l2.6-1.2-2-.4-2.6 4.4z"/>
<path color="#09bcbe" d="M69.9 204.7l2.6 .5-2-1.6-2.6 2.5z"/>
<path color="#4269fe" d="M123.8 215.9l2.6 .4-2-1.7-2.6 2.6z"/>
<path color="#13b1d7" d="M53.5 208.2l2.6-1.4-2-.1-2.6 .3z"/>
<path color="#19acdc" d="M144.8 211.2l2.6-2.3-2-2.7-2.6 2.1z"/>
<path color="#0dbdbc" d="M74.5 207.1l2.6-3.6-2 .4-2.6 1.3z"/>
<path color="#416bfe" d="M128.4 217.3l2.6-2.5-2 .9-2.6 .6z"/>
<path color="#03b7cc" d="M58.1 207.8l2.6-3.2-2 1.4-2.6 .8z"/>
<path color="#317efb" d="M112 214.4l2.6 3.6-2-3.9-2.6-4z"/>
<path color="#17aedb" d="M149.4 211.5l2.6-3.4-2-2.1-2.6 2.9z"/>
<path color="#47cb87" d="M79.1 200.1l2.6 .1-2 .8-2.6 2.5z"/>
<path color="#2e83f9" d="M133 215.6l2.6-1.4-2-3.1-2.6 3.7z"/>
<path color="#01b8ca" d="M62.7 208.2l2.6-.2-2-3.3-2.6-.1z"/>
<path color="#3f6eff" d="M116.6 215.8l2.6 1-2-3.5-2.6 4.7z"/>
<path color="#68cd6b" d="M83.7 200l2.6 .2-2-1.1-2.6 1.1z"/>
<path color="#2896ec" d="M137.6 212l2.6-2.5-2 2.8-2.6 1.9z"/>
<path color="#04bbc2" d="M67.3 204.8l2.6-.1-2 1.4-2.6 1.9z"/>
<path color="#4367fd" d="M121.2 217.6l2.6-1.7-2 1.3-2.6-.4z"/>
<path color="#21a3e3" d="M142.2 213.2l2.6-2-2-2.9-2.6 1.2z"/>
<path color="#08bcbf" d="M71.9 206.5l2.6 .6-2-1.9-2.6-.5z"/>
<path color="#4464fd" d="M125.8 220.3l2.6-3-2-1-2.6-.4z"/>
<path color="#0fb2d4" d="M55.5 208.6l2.6-.8-2-1-2.6 1.4z"/>
<path color="#249fe5" d="M146.8 213.6l2.6-2.1-2-2.6-2.6 2.3z"/>
<path color="#31c6a0" d="M76.5 203.6l2.6-3.5-2 3.4-2.6 3.6z"/>
<path color="#3f6eff" d="M130.4 218.9l2.6-3.3-2-.8-2.6 2.5z"/>
<path color="#07b5cf" d="M60.1 209.7l2.6-1.5-2-3.6-2.6 3.2z"/>
<path color="#347afd" d="M114 213.7l2.6 2.1-2 2.2-2.6-3.6z"/>
<path color="#1da8e0" d="M151.4 212l2.6-2-2-1.9-2.6 3.4z"/>
<path color="#6dcd67" d="M81.1 201l2.6-1-2 .2-2.6-.1z"/>
<path color="#2d89f5" d="M135 214.8l2.6-2.8-2 2.2-2.6 1.4z"/>
<path color="#01b8ca" d="M64.7 208.3l2.6-3.5-2 3.2-2.6 .2z"/>
<path color="#3b72fe" d="M118.6 215.7l2.6 1.9-2-.8-2.6-1z"/>
<path color="#7fcc5a" d="M85.8 200.2l2.6-1.3-2.1 1.3-2.6-.2z"/>
<path color="#269be8" d="M139.6 214.6l2.6-1.4-2-3.7-2.6 2.5z"/>
<path color="#18bfb6" d="M69.3 207.2l2.6-.7-2-1.8-2.6 .1z"/>
<path color="#4562fc" d="M123.2 219.8l2.6 .5-2-4.4-2.6 1.7z"/>
<path color="#2895ec" d="M144.2 215.1l2.6-1.5-2-2.4-2.6 2z"/>
<path color="#1ec0b2" d="M73.9 205.6l2.6-2-2 3.5-2.6-.6z"/>
<path color="#465ffb" d="M127.8 219.3l2.6-.4-2-1.6-2.6 3z"/>
<path color="#13b0d7" d="M57.5 210.3l2.6-.6-2-1.9-2.6 .8z"/>
<path color="#259ce7" d="M111.4 209.1l2.6 4.6-2 .7-2.6-2.2z"/>
<path color="#2699ea" d="M148.8 215.2l2.6-3.2-2-.5-2.6 2.1z"/>
<path color="#5acc77" d="M78.5 202.7l2.6-1.7-2-.9-2.6 3.5z"/>
<path color="#3e70ff" d="M132.4 220.4l2.6-5.6-2 .8-2.6 3.3z"/>
<path color="#10b2d5" d="M62.1 210.3l2.6-2-2-.1-2.6 1.5z"/>
<path color="#2d8bf4" d="M116 213.1l2.6 2.6-2 .1-2.6-2.1z"/>
<path color="#70cd65" d="M83.1 203.4l2.7-3.2-2.1-.2-2.6 1z"/>
<path color="#2d89f5" d="M137 218.9l2.6-4.3-2-2.6-2.6 2.8z"/>
<path color="#0fbebb" d="M66.7 207.2l2.6 0-2-2.4-2.6 3.5z"/>
<path color="#3c72ff" d="M120.6 216.8l2.6 3-2-2.2-2.6-1.9z"/>
<path color="#a3c83f" d="M87.8 199.9l2.6-1.8-2 .8-2.6 1.3z"/>
<path color="#2d8cf3" d="M141.6 217l2.6-1.9-2-1.9-2.6 1.4z"/>
<path color="#10beba" d="M71.3 209l2.6-3.4-2 .9-2.6 .7z"/>
<path color="#465dfa" d="M125.2 219.8l2.6-.5-2 1-2.6-.5z"/>
<path color="#13b1d7" d="M108.8 208.4l2.6 .7-2 3.1-2.6-1.3z"/>
<path color="#2d8df2" d="M146.2 216.8l2.6-1.6-2-1.6-2.6 1.5z"/>
<path color="#32c69e" d="M75.9 208.2l2.6-5.5-2 .9-2.6 2z"/>
<path color="#4660fb" d="M129.8 220.5l2.6-.1-2-1.5-2.6 .4z"/>
<path color="#18aedb" d="M59.5 211.4l2.6-1.1-2-.6-2.6 .6z"/>
<path color="#1da9e0" d="M113.4 210.3l2.6 2.8-2 .6-2.6-4.6z"/>
<path color="#4bcb84" d="M80.6 207l2.5-3.6-2-2.4-2.6 1.7z"/>
<path color="#406dfe" d="M134.4 220.6l2.6-1.7-2-4.1-2.6 5.6z"/>
<path color="#03b7cc" d="M64.1 210.5l2.6-3.3-2 1.1-2.6 2z"/>
<path color="#2c8ff1" d="M118 214.7l2.6 2.1-2-1.1-2.6-2.6z"/>
<path color="#6acd6a" d="M85.2 205.7l2.6-5.8-2 .3-2.7 3.2z"/>
<path color="#3578fd" d="M139 220.7l2.6-3.7-2-2.4-2.6 4.3z"/>
<path color="#08bcbe" d="M68.7 209.1l2.6-.1-2-1.8-2.6 0z"/>
<path color="#3974fe" d="M122.6 216.2l2.6 3.6-2 0-2.6-3z"/>
<path color="#02bac4" d="M106.2 206.7l2.6 1.7-2 2.5-2.6-.8z"/>
<path color="#6ecd67" d="M89.8 204.7l2.6 2.2-2-8.8-2.6 1.8z"/>
<path color="#2e83f9" d="M143.6 218.9l2.6-2.1-2-1.7-2.6 1.9z"/>
<path color="#02bbc3" d="M73.3 212.4l2.6-4.2-2-2.6-2.6 3.4z"/>
<path color="#4661fc" d="M127.2 221.8l2.6-1.3-2-1.2-2.6 .5z"/>
<path color="#04b6cd" d="M110.8 212.5l2.6-2.2-2-1.2-2.6-.7z"/>
<path color="#19bfb5" d="M94.4 210l2.6-3.1-2 .8-2.6-.8z"/>
<path color="#2ac3a8" d="M78 209.2l2.6-2.2-2.1-4.3-2.6 5.5z"/>
<path color="#4562fc" d="M131.8 220.4l2.6 .2-2-.2-2.6 .1z"/>
<path color="#14b0d8" d="M61.5 211.9l2.6-1.4-2-.2-2.6 1.1z"/>
<path color="#1da9e0" d="M115.4 211.8l2.6 2.9-2-1.6-2.6-2.8z"/>
<path color="#2dc4a5" d="M99 205.7l2.6 .6-2 1.9-2.6-1.3z"/>
<path color="#2ec5a4" d="M82.6 210.4l2.6-4.7-2.1-2.3-2.5 3.6z"/>
<path color="#4466fd" d="M136.4 221l2.6-.3-2-1.8-2.6 1.7z"/>
<path color="#02bac4" d="M66.1 210.4l2.6-1.3-2-1.9-2.6 3.3z"/>
<path color="#2a93ee" d="M120 214.4l2.6 1.8-2 .6-2.6-2.1z"/>
<path color="#22c1b0" d="M103.6 208.4l2.6-1.7-2 3.4-2.6-3.8z"/>
<path color="#47cb87" d="M87.2 209.3l2.6-4.6-2-4.8-2.6 5.8z"/>
<path color="#3d70ff" d="M141 221.4l2.6-2.5-2-1.9-2.6 3.7z"/>
<path color="#12b1d6" d="M70.7 214.8l2.6-2.4-2-3.4-2.6 .1z"/>
<path color="#406dfe" d="M124.6 221.2l2.6 .6-2-2-2.6-3.6z"/>
<path color="#18bfb6" d="M108.2 207.1l2.6 5.4-2-4.1-2.6-1.7z"/>
<path color="#23c1af" d="M91.8 210.5l2.6-.5-2-3.1-2.6-2.2z"/>
<path color="#0ab4d1" d="M75.4 214.6l2.6-5.4-2.1-1-2.6 4.2z"/>
<path color="#4660fc" d="M129.2 222.7l2.6-2.3-2 .1-2.6 1.3z"/>
<path color="#0bb4d2" d="M112.8 211.3l2.6 .5-2-1.5-2.6 2.2z"/>
<path color="#28c3aa" d="M96.4 209l2.6-3.3-2 1.2-2.6 3.1z"/>
<path color="#10beba" d="M80 210.2l2.6 .2-2-3.4-2.6 2.2z"/>
<path color="#416bfe" d="M133.8 219.8l2.6 1.2-2-.4-2.6-.2z"/>
<path color="#0cb3d3" d="M63.5 212.9l2.6-2.5-2 .1-2.6 1.4z"/>
<path color="#21a3e4" d="M117.4 216.1l2.6-1.7-2 .3-2.6-2.9z"/>
<path color="#34c79b" d="M101 207.4l2.6 1-2-2.1-2.6-.6z"/>
<path color="#1dc0b3" d="M84.6 209.9l2.6-.6-2-3.6-2.6 4.7z"/>
<path color="#4368fd" d="M138.4 221.2l2.6 .2-2-.7-2.6 .3z"/>
<path color="#14b0d8" d="M68.1 214.7l2.6 .1-2-5.7-2.6 1.3z"/>
<path color="#2d8df2" d="M122 216.7l2.6 4.5-2-5-2.6-1.8z"/>
<path color="#2ac3a8" d="M105.6 210.6l2.6-3.5-2-.4-2.6 1.7z"/>
<path color="#21c1b0" d="M89.2 210.8l2.6-.3-2-5.8-2.6 4.6z"/>
<path color="#23a0e5" d="M72.8 217l2.6-2.4-2.1-2.2-2.6 2.4z"/>
<path color="#475af9" d="M126.6 224.9l2.6-2.2-2-.9-2.6-.6z"/>
<path color="#04bbc1" d="M110.2 211.4l2.6-.1-2 1.2-2.6-5.4z"/>
<path color="#07bcc0" d="M93.8 212.2l2.6-3.2-2 1-2.6 .5z"/>
<path color="#06b5ce" d="M77.4 212.9l2.6-2.7-2-1-2.6 5.4z"/>
<path color="#4269fe" d="M131.2 222.6l2.6-2.8-2 .6-2.6 2.3z"/>
<path color="#15afd9" d="M114.8 213.4l2.6 2.7-2-4.3-2.6-.5z"/>
<path color="#2ec5a3" d="M98.4 211l2.6-3.6-2-1.7-2.6 3.3z"/>
<path color="#07bcc0" d="M82 212l2.6-2.1-2 .5-2.6-.2z"/>
<path color="#3974fe" d="M135.8 219.9l2.6 1.3-2-.2-2.6-1.2z"/>
<path color="#1aacdd" d="M65.5 215.8l2.6-1.1-2-4.3-2.6 2.5z"/>
<path color="#23a1e4" d="M119.4 214.5l2.6 2.2-2-2.3-2.6 1.7z"/>
<path color="#1ec0b2" d="M103 212.5l2.6-1.9-2-2.2-2.6-1z"/>
<path color="#1dc0b3" d="M86.6 208.8l2.6 2-2-1.5-2.6 .6z"/>
<path color="#259ce7" d="M70.1 216.8l2.7 .2-2.1-2.2-2.6-.1z"/>
<path color="#3b72ff" d="M124 220.7l2.6 4.2-2-3.7-2.6-4.5z"/>
<path color="#1dc0b3" d="M107.6 210.8l2.6 .6-2-4.3-2.6 3.5z"/>
<path color="#01b9c7" d="M91.2 213.5l2.6-1.3-2-1.7-2.6 .3z"/>
<path color="#21a3e3" d="M74.8 216.1l2.6-3.2-2 1.7-2.6 2.4z"/>
<path color="#4759f8" d="M128.6 224.9l2.6-2.3-2 .1-2.6 2.2z"/>
<path color="#03b7cc" d="M112.2 213.9l2.6-.5-2-2.1-2.6 .1z"/>
<path color="#11beba" d="M95.8 211.1l2.6-.1-2-2-2.6 3.2z"/>
<path color="#01bac6" d="M79.4 212.2l2.6-.2-2-1.8-2.6 2.7z"/>
<path color="#3b73fe" d="M133.2 223l2.6-3.1-2-.1-2.6 2.8z"/>
<path color="#17aeda" d="M116.8 212.9l2.6 1.6-2 1.6-2.6-2.7z"/>
<path color="#1ac0b4" d="M100.4 211.5l2.6 1-2-5.1-2.6 3.6z"/>
<path color="#1abfb5" d="M84 211.6l2.6-2.8-2 1.1-2.6 2.1z"/>
<path color="#249ee6" d="M67.6 217.7l2.5-.9-2-2.1-2.6 1.1z"/>
<path color="#2995ec" d="M121.4 219.6l2.6 1.1-2-4-2.6-2.2z"/>
<path color="#02bac4" d="M105 214.9l2.6-4.1-2-.2-2.6 1.9z"/>
<path color="#07bcc0" d="M88.6 213.9l2.6-.4-2-2.7-2.6-2z"/>
<path color="#259de7" d="M72.2 216.8l2.6-.7-2 .9-2.7-.2z"/>
<path color="#416bfe" d="M126 219.7l2.6 5.2-2 0-2.6-4.2z"/>
<path color="#02bbc3" d="M109.6 213.2l2.6 .7-2-2.5-2.6-.6z"/>
<path color="#04bbc2" d="M93.2 212.1l2.6-1-2 1.1-2.6 1.3z"/>
<path color="#0fb2d5" d="M76.8 214.6l2.6-2.4-2 .7-2.6 3.2z"/>
<path color="#4564fd" d="M130.6 223.6l2.6-.6-2-.4-2.6 2.3z"/>
<path color="#04b6cd" d="M114.2 213.9l2.6-1-2 .5-2.6 .5z"/>
<path color="#1cc0b3" d="M97.8 211.3l2.6 .2-2-.5-2.6 .1z"/>
<path color="#08bcbf" d="M81.4 212.8l2.6-1.2-2 .4-2.6 .2z"/>
<path color="#1aacdd" d="M118.8 215l2.6 4.6-2-5.1-2.6-1.6z"/>
<path color="#01b9c7" d="M102.4 213.7l2.6 1.2-2-2.4-2.6-1z"/>
<path color="#01bac5" d="M86 217.5l2.6-3.6-2-5.1-2.6 2.8z"/>
<path color="#249fe5" d="M69.6 217l2.6-.2-2.1 0-2.5 .9z"/>
<path color="#2c8ef1" d="M123.4 218.2l2.6 1.5-2 1-2.6-1.1z"/>
<path color="#06bcc0" d="M107 212.3l2.6 .9-2-2.4-2.6 4.1z"/>
<path color="#02bac3" d="M90.6 212.6l2.6-.5-2 1.4-2.6 .4z"/>
<path color="#1da9e0" d="M74.2 216.7l2.6-2.1-2 1.5-2.6 .7z"/>
<path color="#3678fd" d="M128 220.4l2.6 3.2-2 1.3-2.6-5.2z"/>
<path color="#01b9c8" d="M111.6 213.9l2.6 0-2 0-2.6-.7z"/>
<path color="#1dc0b3" d="M95.2 212.9l2.6-1.6-2-.2-2.6 1z"/>
<path color="#01b9c7" d="M78.8 214.7l2.6-1.9-2-.6-2.6 2.4z"/>
<path color="#05b6cd" d="M116.2 216.4l2.6-1.4-2-2.1-2.6 1z"/>
<path color="#0abdbd" d="M99.8 215.5l2.6-1.8-2-2.2-2.6-.2z"/>
<path color="#08b4d1" d="M83.4 217l2.6 .5-2-5.9-2.6 1.2z"/>
<path color="#1fa6e2" d="M120.8 216.3l2.6 1.9-2 1.4-2.6-4.6z"/>
<path color="#0fbeba" d="M104.4 211.1l2.6 1.2-2 2.6-2.6-1.2z"/>
<path color="#0bb3d2" d="M88 216.5l2.6-3.9-2 1.3-2.6 3.6z"/>
<path color="#1ea7e1" d="M71.6 217.2l2.6-.5-2 .1-2.6 .2z"/>
<path color="#259ce7" d="M125.4 217l2.6 3.4-2-.7-2.6-1.5z"/>
<path color="#09bcbe" d="M109 214.7l2.6-.8-2-.7-2.6-.9z"/>
<path color="#0fbebb" d="M92.6 215.2l2.6-2.3-2-.8-2.6 .5z"/>
<path color="#10b2d5" d="M76.2 216.4l2.6-1.7-2-.1-2.6 2.1z"/>
<path color="#05b6ce" d="M113.6 216.9l2.6-.5-2-2.5-2.6 0z"/>
<path color="#0fbebb" d="M97.2 214.1l2.6 1.4-2-4.2-2.6 1.6z"/>
<path color="#06b6ce" d="M80.8 216.2l2.6 .8-2-4.2-2.6 1.9z"/>
<path color="#0db3d3" d="M118.2 216.4l2.6-.1-2-1.3-2.6 1.4z"/>
<path color="#05bbc1" d="M101.8 216.8l2.6-5.7-2 2.6-2.6 1.8z"/>
<path color="#19acdc" d="M85.4 216.8l2.6-.3-2 1-2.6-.5z"/>
<path color="#17aeda" d="M122.8 216.5l2.6 .5-2 1.2-2.6-1.9z"/>
<path color="#20c1b1" d="M106.4 214.3l2.6 .4-2-2.4-2.6-1.2z"/>
<path color="#08b4d1" d="M90 219.3l2.6-4.1-2-2.6-2.6 3.9z"/>
<path color="#16afd9" d="M73.6 216.9l2.6-.5-2 .3-2.6 .5z"/>
<path color="#04b6cd" d="M111 217.6l2.6-.7-2-3-2.6 .8z"/>
<path color="#07bcc0" d="M94.6 216.1l2.6-2-2-1.2-2.6 2.3z"/>
<path color="#09b4d1" d="M78.2 217.2l2.6-1-2-1.5-2.6 1.7z"/>
<path color="#13b0d7" d="M115.6 218.8l2.6-2.4-2 0-2.6 .5z"/>
<path color="#03b7cc" d="M99.2 217.2l2.6-.4-2-1.3-2.6-1.4z"/>
<path color="#11b1d6" d="M82.8 217.4l2.6-.6-2 .2-2.6-.8z"/>
<path color="#09b4d1" d="M120.2 217.8l2.6-1.3-2-.2-2.6 .1z"/>
<path color="#0abdbd" d="M103.8 217l2.6-2.7-2-3.2-2.6 5.7z"/>
<path color="#19addc" d="M87.4 218.7l2.6 .6-2-2.8-2.6 .3z"/>
<path color="#01b9c7" d="M108.4 217.3l2.6 .3-2-2.9-2.6-.4z"/>
<path color="#0fb2d5" d="M92 218.3l2.6-2.2-2-.9-2.6 4.1z"/>
<path color="#07b5d0" d="M75.6 216.2l2.6 1-2-.8-2.6 .5z"/>
<path color="#19addc" d="M113 220.2l2.6-1.4-2-1.9-2.6 .7z"/>
<path color="#04b6cd" d="M96.6 219.4l2.6-2.2-2-3.1-2.6 2z"/>
<path color="#08b4d1" d="M80.2 217.2l2.6 .2-2-1.2-2.6 1z"/>
<path color="#14b0d8" d="M117.6 219.6l2.6-1.8-2-1.4-2.6 2.4z"/>
<path color="#09b4d1" d="M101.2 218.4l2.6-1.4-2-.2-2.6 .4z"/>
<path color="#17aeda" d="M84.8 220.1l2.6-1.4-2-1.9-2.6 .6z"/>
<path color="#01b8ca" d="M105.8 218.9l2.6-1.6-2-3-2.6 2.7z"/>
<path color="#1babde" d="M89.4 219.8l2.6-1.5-2 1-2.6-.6z"/>
<path color="#13b0d8" d="M110.4 219l2.6 1.2-2-2.6-2.6-.3z"/>
<path color="#15afd9" d="M94 220.8l2.6-1.4-2-3.3-2.6 2.2z"/>
<path color="#02b7cb" d="M77.6 217.8l2.6-.6-2 0-2.6-1z"/>
<path color="#1babde" d="M115 219.7l2.6-.1-2-.8-2.6 1.4z"/>
<path color="#14b0d8" d="M98.6 220l2.6-1.6-2-1.2-2.6 2.2z"/>
<path color="#0fb2d5" d="M82.2 218.6l2.6 1.5-2-2.7-2.6-.2z"/>
<path color="#0bb3d2" d="M103.2 219.3l2.6-.4-2-1.9-2.6 1.4z"/>
<path color="#19acdc" d="M86.8 219.4l2.6 .4-2-1.1-2.6 1.4z"/>
<path color="#0ab4d2" d="M107.8 219.3l2.6-.3-2-1.7-2.6 1.6z"/>
<path color="#1aacdd" d="M91.4 220.6l2.6 .2-2-2.5-2.6 1.5z"/>
<path color="#16aeda" d="M112.4 220l2.6-.3-2 .5-2.6-1.2z"/>
<path color="#1da8e0" d="M96 222.2l2.6-2.2-2-.6-2.6 1.4z"/>
<path color="#01b8ca" d="M79.6 218.3l2.6 .3-2-1.4-2.6 .6z"/>
<path color="#17aedb" d="M100.6 222.3l2.6-3-2-.9-2.6 1.6z"/>
<path color="#15afd9" d="M84.2 220.8l2.6-1.4-2 .7-2.6-1.5z"/>
<path color="#0ab4d1" d="M105.2 219.5l2.6-.2-2-.4-2.6 .4z"/>
<path color="#15afd8" d="M88.8 220l2.6 .6-2-.8-2.6-.4z"/>
<path color="#0eb2d4" d="M109.8 220.7l2.6-.7-2-1-2.6 .3z"/>
<path color="#1da9e0" d="M93.4 221.3l2.6 .9-2-1.4-2.6-.2z"/>
<path color="#20a5e3" d="M98 223.4l2.6-1.1-2-2.3-2.6 2.2z"/>
<path color="#05b6ce" d="M81.6 219.5l2.6 1.3-2-2.2-2.6-.3z"/>
<path color="#13b1d7" d="M102.6 221l2.6-1.5-2-.2-2.6 3z"/>
<path color="#11b1d6" d="M86.2 221l2.6-1-2-.6-2.6 1.4z"/>
<path color="#0fb2d5" d="M107.2 222.7l2.6-2-2-1.4-2.6 .2z"/>
<path color="#15afd8" d="M90.8 221.6l2.6-.3-2-.7-2.6-.6z"/>
<path color="#21a4e3" d="M95.4 224.3l2.6-.9-2-1.2-2.6-.9z"/>
<path color="#1da8e0" d="M100 223.1l2.6-2.1-2 1.3-2.6 1.1z"/>
<path color="#0ab4d1" d="M83.6 221l2.6 0-2-.2-2.6-1.3z"/>
<path color="#16afd9" d="M104.6 223.7l2.6-1-2-3.2-2.6 1.5z"/>
<path color="#13b0d7" d="M88.2 222.9l2.6-1.3-2-1.6-2.6 1z"/>
<path color="#1da9e0" d="M92.8 223.8l2.6 .5-2-3-2.6 .3z"/>
<path color="#22a2e4" d="M97.4 225l2.6-1.9-2 .3-2.6 .9z"/>
<path color="#1ea7e1" d="M102 226.4l2.6-2.7-2-2.7-2.6 2.1z"/>
<path color="#13b0d7" d="M85.6 223.4l2.6-.5-2-1.9-2.6 0z"/>
<path color="#19addc" d="M90.2 223.3l2.6 .5-2-2.2-2.6 1.3z"/>
<path color="#249ee6" d="M94.8 227.3l2.6-2.3-2-.7-2.6-.5z"/>
<path color="#249ee6" d="M99.4 227.3l2.6-.9-2-3.3-2.6 1.9z"/>
<path color="#19acdc" d="M87.6 224.9l2.6-1.6-2-.4-2.6 .5z"/>
<path color="#21a4e3" d="M92.2 225.9l2.6 1.4-2-3.5-2.6-.5z"/>
<path color="#2896ec" d="M96.8 228.8l2.6-1.5-2-2.3-2.6 2.3z"/>
<path color="#1ea7e1" d="M89.6 227l2.6-1.1-2-2.6-2.6 1.6z"/>
<path color="#2698ea" d="M94.2 227.7l2.6 1.1-2-1.5-2.6-1.4z"/>
<path color="#249de6" d="M91.6 229.4l2.6-1.7-2-1.8-2.6 1.1z"/></g>
<text class="tk" x="40.0" y="180.5" text-anchor="end">2</text>
<text class="tk" x="40.0" y="196.1" text-anchor="end">1.5</text>
<text class="tk" x="40.0" y="211.8" text-anchor="end">1</text>
<text class="tk" x="40.0" y="227.6" text-anchor="end">0.5</text>
<text class="tk" x="42.2" y="240.3" text-anchor="middle">10</text>
<text class="tk" x="64.7" y="249.4" text-anchor="middle">5</text>
<text class="tk" x="84.6" y="258.9" text-anchor="middle">0</text>
<text class="tk" x="98.5" y="259.4" text-anchor="middle">0</text>
<text class="tk" x="124.6" y="252.6" text-anchor="middle">5</text>
<text class="tk" x="153.4" y="245.3" text-anchor="middle">10</text>
<text class="lb" transform="translate(21.4 201.8) rotate(-90)" text-anchor="middle">f(x,y) (%)</text>
<text class="lb" x="20.6" y="268.2">y-axis</text>
<text class="lb" x="132.1" y="269.5">x-axis</text>
<text class="cp cb" x="7.2" y="284.9" textLength="12.4" lengthAdjust="spacingAndGlyphs">(d)</text>
<text class="cp" x="25.6" y="284.9" textLength="18.4" lengthAdjust="spacingAndGlyphs">Field</text>
<text class="cp" x="49.5" y="284.9" textLength="8.5" lengthAdjust="spacingAndGlyphs">B:</text>
<text class="cp" x="61.4" y="284.9" textLength="8.1" lengthAdjust="spacingAndGlyphs"><tspan class="it">μ</tspan><tspan class="it" font-size="6.2" dy="-3.3">B</tspan></text>
<text class="cp eq" x="78.3" y="284.9" textLength="7.1" lengthAdjust="spacingAndGlyphs">=</text>
<text class="cp" x="92.5" y="284.9" textLength="25.7" lengthAdjust="spacingAndGlyphs">1.05%,</text>
<text class="cp" x="119.1" y="284.9" textLength="10.0" lengthAdjust="spacingAndGlyphs"><tspan class="it">σ</tspan><tspan class="it" font-size="6.2" dy="-3.3">B</tspan></text>
<text class="cp eq" x="137.2" y="284.9" textLength="6.1" lengthAdjust="spacingAndGlyphs">=</text>
<text class="cp" x="151.0" y="284.9" textLength="18.5" lengthAdjust="spacingAndGlyphs">0.2%,</text>
<text class="cp it" x="7.5" y="295.2" textLength="5.7" lengthAdjust="spacingAndGlyphs">â</text>
<text class="cp eq" x="15.0" y="295.2" textLength="6.0" lengthAdjust="spacingAndGlyphs">=</text>
<text class="cp" x="23.5" y="295.2" textLength="4.1" lengthAdjust="spacingAndGlyphs">6</text>
<text class="cp" x="28.3" y="295.2" textLength="13.4" lengthAdjust="spacingAndGlyphs">μm</text>
</g>
<g>
<path class="gm" d="M280.0 246.6L231.9 224.3M231.9 224.3L231.9 176.8M280.0 246.6L342.4 230.2M342.4 230.2L342.4 182.7M285.4 245.2L237.3 222.9M237.3 222.9L237.3 175.4M275.8 244.7L338.2 228.3M338.2 228.3L338.2 180.8M290.9 243.7L242.8 221.4M242.8 221.4L242.8 173.9M271.6 242.7L334.0 226.3M334.0 226.3L334.0 178.8M296.3 242.3L248.2 220.0M248.2 220.0L248.2 172.5M267.5 240.8L329.9 224.4M329.9 224.4L329.9 176.9M301.7 240.9L253.6 218.6M253.6 218.6L253.6 171.1M263.3 238.8L325.7 222.4M325.7 222.4L325.7 174.9M307.1 239.5L259.0 217.2M259.0 217.2L259.0 169.7M259.1 236.9L321.5 220.5M321.5 220.5L321.5 173.0M312.6 238.0L264.5 215.7M264.5 215.7L264.5 168.2M254.9 235.0L317.3 218.6M317.3 218.6L317.3 171.1M318.0 236.6L269.9 214.3M269.9 214.3L269.9 166.8M250.7 233.0L313.1 216.6M313.1 216.6L313.1 169.1M323.4 235.2L275.3 212.9M275.3 212.9L275.3 165.4M246.5 231.1L308.9 214.7M308.9 214.7L308.9 167.2M328.8 233.8L280.7 211.5M280.7 211.5L280.7 164.0M242.4 229.1L304.8 212.7M304.8 212.7L304.8 165.2M334.3 232.3L286.2 210.0M286.2 210.0L286.2 162.5M238.2 227.2L300.6 210.8M300.6 210.8L300.6 163.3M339.7 230.9L291.6 208.6M291.6 208.6L291.6 161.1M234.0 225.3L296.4 208.9M296.4 208.9L296.4 161.4M231.9 224.3L294.3 207.9M294.3 207.9L342.4 230.2M231.9 221.1L294.3 204.7M294.3 204.7L342.4 227.0M231.9 218.0L294.3 201.6M294.3 201.6L342.4 223.9M231.9 214.8L294.3 198.4M294.3 198.4L342.4 220.7M231.9 211.6L294.3 195.2M294.3 195.2L342.4 217.5M231.9 208.5L294.3 192.1M294.3 192.1L342.4 214.4M231.9 205.3L294.3 188.9M294.3 188.9L342.4 211.2M231.9 202.1L294.3 185.7M294.3 185.7L342.4 208.0M231.9 199.0L294.3 182.6M294.3 182.6L342.4 204.9M231.9 195.8L294.3 179.4M294.3 179.4L342.4 201.7M231.9 192.6L294.3 176.2M294.3 176.2L342.4 198.5M231.9 189.5L294.3 173.1M294.3 173.1L342.4 195.4M231.9 186.3L294.3 169.9M294.3 169.9L342.4 192.2M231.9 183.1L294.3 166.7M294.3 166.7L342.4 189.0M231.9 180.0L294.3 163.6M294.3 163.6L342.4 185.9M231.9 176.8L294.3 160.4M294.3 160.4L342.4 182.7"/>
<path class="gM" d="M280.0 246.6L231.9 224.3M231.9 224.3L231.9 176.8M280.0 246.6L342.4 230.2M342.4 230.2L342.4 182.7M307.1 239.5L259.0 217.2M259.0 217.2L259.0 169.7M259.1 236.9L321.5 220.5M321.5 220.5L321.5 173.0M334.3 232.3L286.2 210.0M286.2 210.0L286.2 162.5M238.2 227.2L300.6 210.8M300.6 210.8L300.6 163.3M231.9 224.3L294.3 207.9M294.3 207.9L342.4 230.2M231.9 208.5L294.3 192.1M294.3 192.1L342.4 214.4M231.9 192.6L294.3 176.2M294.3 176.2L342.4 198.5M231.9 176.8L294.3 160.4M294.3 160.4L342.4 182.7"/>
<path class="ax" d="M231.9 224.3L231.9 176.8M231.9 224.3L280.0 246.6M280.0 246.6L342.4 230.2M280.0 246.6L278.7 246.0M280.0 246.6L281.6 246.2M307.1 239.5L305.9 238.9M259.1 236.9L260.7 236.5M334.3 232.3L333.0 231.8M238.2 227.2L239.8 226.8M231.9 224.3L233.5 223.9M231.9 208.5L233.5 208.0M231.9 192.6L233.5 192.2M231.9 176.8L233.5 176.4"/>
<g class="s"><path color="#16aeda" d="M293.7 189.1l2.6-.3-2-2-2.6 .9z"/>
<path color="#1caadf" d="M291.1 191.4l2.6-2.3-2-1.4-2.6 2.1z"/>
<path color="#1caadf" d="M295.7 190.4l2.6 .2-2-1.8-2.6 .3z"/>
<path color="#23a0e5" d="M288.5 192.7l2.6-1.3-2-1.6-2.6 1.9z"/>
<path color="#1fa5e2" d="M293.1 193.3l2.6-2.9-2-1.3-2.6 2.3z"/>
<path color="#259ce7" d="M297.7 194.4l2.6 0-2-3.8-2.6-.2z"/>
<path color="#249de6" d="M285.9 193.5l2.6-.8-2-1-2.6 .3z"/>
<path color="#259de7" d="M290.5 193.8l2.6-.5-2-1.9-2.6 1.3z"/>
<path color="#259be8" d="M295.1 195.1l2.6-.7-2-4-2.6 2.9z"/>
<path color="#2d89f5" d="M299.7 196.7l2.6 .5-2-2.8-2.6 0z"/>
<path color="#23a0e5" d="M283.3 194l2.6-.5-2-1.5-2.6 0z"/>
<path color="#2699e9" d="M287.9 195.9l2.6-2.1-2-1.1-2.6 .8z"/>
<path color="#2994ed" d="M292.5 197l2.6-1.9-2-1.8-2.6 .5z"/>
<path color="#2d8cf3" d="M297.1 197.9l2.6-1.2-2-2.3-2.6 .7z"/>
<path color="#1ea7e1" d="M280.7 193.2l2.6 .8-2-2-2.6-.5z"/>
<path color="#307efb" d="M301.7 198.8l2.6-.6-2-1-2.6-.5z"/>
<path color="#2699e9" d="M285.3 195.1l2.6 .8-2-2.4-2.6 .5z"/>
<path color="#2c8ef1" d="M289.9 197.9l2.6-.9-2-3.2-2.6 2.1z"/>
<path color="#2d88f6" d="M294.5 198.6l2.6-.7-2-2.8-2.6 1.9z"/>
<path color="#1da8e0" d="M278.1 194.3l2.6-1.1-2-1.7-2.6 1.9z"/>
<path color="#307ffb" d="M299.1 199.9l2.6-1.1-2-2.1-2.6 1.2z"/>
<path color="#23a1e4" d="M282.7 195.1l2.6 0-2-1.1-2.6-.8z"/>
<path color="#3080fa" d="M303.7 198.9l2.6-.7-2 0-2.6 .6z"/>
<path color="#2b90ef" d="M287.3 197.5l2.6 .4-2-2-2.6-.8z"/>
<path color="#2e87f7" d="M291.9 198.1l2.6 .5-2-1.6-2.6 .9z"/>
<path color="#1baade" d="M275.5 193.3l2.6 1-2-.9-2.6-.5z"/>
<path color="#2e85f8" d="M296.5 197.4l2.6 2.5-2-2-2.6 .7z"/>
<path color="#20a5e3" d="M280.1 195.5l2.6-.4-2-1.9-2.6 1.1z"/>
<path color="#2e84f8" d="M301.1 197.3l2.6 1.6-2-.1-2.6 1.1z"/>
<path color="#269ae9" d="M284.7 196.9l2.6 .6-2-2.4-2.6 0z"/>
<path color="#2d8af4" d="M305.7 198.4l2.6-.6-2 .4-2.6 .7z"/>
<path color="#2d8cf3" d="M289.3 198.7l2.6-.6-2-.2-2.6-.4z"/>
<path color="#0bb4d2" d="M272.9 193l2.6 .3-2-.4-2.6-1.2z"/>
<path color="#2d8cf3" d="M293.9 199l2.6-1.6-2 1.2-2.6-.5z"/>
<path color="#1caadf" d="M277.5 195l2.6 .5-2-1.2-2.6-1z"/>
<path color="#2d8df2" d="M298.5 199.1l2.6-1.8-2 2.6-2.6-2.5z"/>
<path color="#23a0e5" d="M282.1 196.5l2.6 .4-2-1.8-2.6 .4z"/>
<path color="#2b92ee" d="M303.1 197.9l2.6 .5-2 .5-2.6-1.6z"/>
<path color="#2a93ee" d="M286.7 198.7l2.6 0-2-1.2-2.6-.6z"/>
<path color="#07b5d0" d="M270.3 195l2.6-2-2-1.3-2.6 1.4z"/>
<path color="#2896ec" d="M307.7 197.7l2.6-.1-2 .2-2.6 .6z"/>
<path color="#2d8df2" d="M291.3 199.8l2.6-.8-2-.9-2.6 .6z"/>
<path color="#12b1d6" d="M274.9 195l2.6 0-2-1.7-2.6-.3z"/>
<path color="#2c8ef1" d="M295.9 200.4l2.6-1.3-2-1.7-2.6 1.6z"/>
<path color="#1da8e0" d="M279.5 195.6l2.6 .9-2-1-2.6-.5z"/>
<path color="#2995ec" d="M300.5 199.4l2.6-1.5-2-.6-2.6 1.8z"/>
<path color="#259be8" d="M284.1 198.5l2.6 .2-2-1.8-2.6-.4z"/>
<path color="#16afd9" d="M267.7 196.1l2.6-1.1-2-1.9-2.6 2.4z"/>
<path color="#259ce7" d="M305.1 197l2.6 .7-2 .7-2.6-.5z"/>
<path color="#2c8ff1" d="M288.7 200.3l2.6-.5-2-1.1-2.6 0z"/>
<path color="#13b0d7" d="M272.3 196.6l2.6-1.6-2-2-2.6 2z"/>
<path color="#20a5e3" d="M309.7 196.5l2.6-.6-2 1.7-2.6 .1z"/>
<path color="#2b90ef" d="M293.3 198.4l2.6 2-2-1.4-2.6 .8z"/>
<path color="#12b1d6" d="M276.9 194.5l2.6 1.1-2-.6-2.6 0z"/>
<path color="#2b91ef" d="M297.9 199.5l2.6-.1-2-.3-2.6 1.3z"/>
<path color="#21a3e3" d="M281.5 198.5l2.6 0-2-2-2.6-.9z"/>
<path color="#22a2e4" d="M265.1 200l2.6-3.9-2-.6-2.6 2.4z"/>
<path color="#22a2e4" d="M302.5 196.5l2.6 .5-2 .9-2.6 1.5z"/>
<path color="#2c8ff0" d="M286.1 202.4l2.6-2.1-2-1.6-2.6-.2z"/>
<path color="#1ea7e1" d="M269.7 200.3l2.6-3.7-2-1.6-2.6 1.1z"/>
<path color="#1caadf" d="M307.1 196.3l2.6 .2-2 1.2-2.6-.7z"/>
<path color="#2798ea" d="M290.7 198.2l2.6 .2-2 1.4-2.6 .5z"/>
<path color="#15afd9" d="M274.3 197.9l2.6-3.4-2 .5-2.6 1.6z"/>
<path color="#12b1d6" d="M311.7 195.9l2.6 0-2 0-2.6 .6z"/>
<path color="#2798ea" d="M295.3 199.5l2.6 0-2 .9-2.6-2z"/>
<path color="#15afd9" d="M278.9 196.4l2.6 2.1-2-2.9-2.6-1.1z"/>
<path color="#2a93ed" d="M262.5 201.1l2.6-1.1-2-2.1-2.6 2.7z"/>
<path color="#22a1e4" d="M299.9 198.7l2.6-2.2-2 2.9-2.6 .1z"/>
<path color="#2895ec" d="M283.5 200.6l2.6 1.8-2-3.9-2.6 0z"/>
<path color="#2797ea" d="M267.1 202.1l2.6-1.8-2-4.2-2.6 3.9z"/>
<path color="#18aedb" d="M304.5 198.2l2.6-1.9-2 .7-2.6-.5z"/>
<path color="#2b92ee" d="M288.1 201.4l2.6-3.2-2 2.1-2.6 2.1z"/>
<path color="#23a0e5" d="M271.7 200.4l2.6-2.5-2-1.3-2.6 3.7z"/>
<path color="#0eb2d4" d="M309.1 197.3l2.6-1.4-2 .6-2.6-.2z"/>
<path color="#249fe6" d="M292.7 200.9l2.6-1.4-2-1.1-2.6-.2z"/>
<path color="#18aedb" d="M276.3 199.9l2.6-3.5-2-1.9-2.6 3.4z"/>
<path color="#2a92ee" d="M259.9 200.7l2.6 .4-2-.5-2.6-.3z"/>
<path color="#09b4d1" d="M313.7 197.4l2.6-.7-2-.8-2.6 0z"/>
<path color="#249de6" d="M297.3 201.1l2.6-2.4-2 .8-2.6 0z"/>
<path color="#1fa6e1" d="M280.9 198.4l2.6 2.2-2-2.1-2.6-2.1z"/>
<path color="#2c8ff1" d="M264.5 202.2l2.6-.1-2-2.1-2.6 1.1z"/>
<path color="#1babde" d="M301.9 199.2l2.6-1-2-1.7-2.6 2.2z"/>
<path color="#2a93ed" d="M285.5 199.9l2.6 1.5-2 1-2.6-1.8z"/>
<path color="#2a92ee" d="M269.1 201.9l2.6-1.5-2-.1-2.6 1.8z"/>
<path color="#15afd9" d="M306.5 199.1l2.6-1.8-2-1-2.6 1.9z"/>
<path color="#259de7" d="M290.1 200.3l2.6 .6-2-2.7-2.6 3.2z"/>
<path color="#20a4e3" d="M273.7 198.5l2.6 1.4-2-2-2.6 2.5z"/>
<path color="#2798ea" d="M257.3 201.8l2.6-1.1-2-.4-2.6-.3z"/>
<path color="#10b2d5" d="M311.1 199.5l2.6-2.1-2-1.5-2.6 1.4z"/>
<path color="#249de6" d="M294.7 200l2.6 1.1-2-1.6-2.6 1.4z"/>
<path color="#1babde" d="M278.3 199.2l2.6-.8-2-2-2.6 3.5z"/>
<path color="#2a92ee" d="M261.9 202.5l2.6-.3-2-1.1-2.6-.4z"/>
<path color="#17aeda" d="M315.8 200.2l2.6-1.1-2.1-2.4-2.6 .7z"/>
<path color="#1da8e0" d="M299.3 197.6l2.6 1.6-2-.5-2.6 2.4z"/>
<path color="#20a5e2" d="M282.9 199.4l2.6 .5-2 .7-2.6-2.2z"/>
<path color="#2e86f7" d="M266.5 206.8l2.6-4.9-2 .2-2.6 .1z"/>
<path color="#1baade" d="M303.9 200l2.6-.9-2-.9-2.6 1z"/>
<path color="#20a4e3" d="M287.5 198.1l2.6 2.2-2 1.1-2.6-1.5z"/>
<path color="#2798ea" d="M271.1 205.1l2.6-6.6-2 1.9-2.6 1.5z"/>
<path color="#249ee6" d="M254.7 200.7l2.6 1.1-2-1.8-2.6-.1z"/>
<path color="#1aabdd" d="M308.5 201l2.6-1.5-2-2.2-2.6 1.8z"/>
<path color="#20a4e3" d="M292.1 199.5l2.6 .5-2 .9-2.6-.6z"/>
<path color="#1fa5e2" d="M275.7 202.3l2.6-3.1-2 .7-2.6-1.4z"/>
<path color="#2895ec" d="M259.3 202.9l2.6-.4-2-1.8-2.6 1.1z"/>
<path color="#19acdc" d="M313.2 200.3l2.6-.1-2.1-2.8-2.6 2.1z"/>
<path color="#18addb" d="M296.7 197.7l2.6-.1-2 3.5-2.6-1.1z"/>
<path color="#1ea7e1" d="M280.3 202.7l2.6-3.3-2-1-2.6 .8z"/>
<path color="#2f81fa" d="M263.9 206.6l2.6 .2-2-4.6-2.6 .3z"/>
<path color="#1da8e0" d="M317.8 200.3l2.6 .8-2-2-2.6 1.1z"/>
<path color="#0db3d3" d="M301.3 197l2.6 3-2-.8-2.6-1.6z"/>
<path color="#18aedb" d="M284.9 199.7l2.6-1.6-2 1.8-2.6-.5z"/>
<path color="#3777fe" d="M268.5 209.2l2.6-4.1-2-3.2-2.6 4.9z"/>
<path color="#1da9e0" d="M252.1 200l2.6 .7-2-.8-2.6-1z"/>
<path color="#1ea7e1" d="M305.9 202.1l2.6-1.1-2-1.9-2.6 .9z"/>
<path color="#12b1d6" d="M289.5 198l2.6 1.5-2 .8-2.6-2.2z"/>
<path color="#2b92ee" d="M273.1 206.5l2.6-4.2-2-3.8-2.6 6.6z"/>
<path color="#259be8" d="M256.7 202.3l2.6 .6-2-1.1-2.6-1.1z"/>
<path color="#1da8e0" d="M310.6 201.8l2.6-1.5-2.1-.8-2.6 1.5z"/>
<path color="#14b0d8" d="M294.1 200.6l2.6-2.9-2 2.3-2.6-.5z"/>
<path color="#259be8" d="M277.7 204.5l2.6-1.8-2-3.5-2.6 3.1z"/>
<path color="#2d8af4" d="M261.3 204.5l2.6 2.1-2-4.1-2.6 .4z"/>
<path color="#1caadf" d="M315.2 201.8l2.6-1.5-2-.1-2.6 .1z"/>
<path color="#01bac5" d="M298.7 198.9l2.6-1.9-2 .6-2.6 .1z"/>
<path color="#1fa6e2" d="M282.3 202.6l2.6-2.9-2-.3-2.6 3.3z"/>
<path color="#4269fe" d="M265.9 208.5l2.6 .7-2-2.4-2.6-.2z"/>
<path color="#23a0e5" d="M319.8 204.2l2.6-1.2-2-1.9-2.6-.8z"/>
<path color="#13b1d7" d="M249.5 199.8l2.6 .2-2-1.1-2.6 0z"/>
<path color="#16afd9" d="M303.3 201.1l2.6 1-2-2.1-2.6-3z"/>
<path color="#0cb3d3" d="M286.9 201.5l2.6-3.5-2 .1-2.6 1.6z"/>
<path color="#3a73fe" d="M270.5 207.4l2.6-.9-2-1.4-2.6 4.1z"/>
<path color="#20a4e3" d="M254.1 202.5l2.6-.2-2-1.6-2.6-.7z"/>
<path color="#21a2e4" d="M308 203.3l2.6-1.5-2.1-.8-2.6 1.1z"/>
<path color="#0cb3d3" d="M291.5 200.2l2.6 .4-2-1.1-2.6-1.5z"/>
<path color="#2d8bf4" d="M275.1 205.9l2.6-1.4-2-2.2-2.6 4.2z"/>
<path color="#2993ed" d="M258.7 205.3l2.6-.8-2-1.6-2.6-.6z"/>
<path color="#20a4e3" d="M312.6 204.6l2.6-2.8-2-1.5-2.6 1.5z"/>
<path color="#02b7cb" d="M296.1 198.9l2.6 0-2-1.2-2.6 2.9z"/>
<path color="#259be7" d="M279.7 202.5l2.6 .1-2 .1-2.6 1.8z"/>
<path color="#3578fd" d="M263.3 208.3l2.6 .2-2-1.9-2.6-2.1z"/>
<path color="#249fe5" d="M317.2 205.6l2.6-1.4-2-3.9-2.6 1.5z"/>
<path color="#02b7cb" d="M246.9 198.9l2.6 .9-2-.9-2.6-1.1z"/>
<path color="#09b4d1" d="M300.7 202.3l2.6-1.2-2-4.1-2.6 1.9z"/>
<path color="#1aacdd" d="M284.3 200.9l2.6 .6-2-1.8-2.6 2.9z"/>
<path color="#426afe" d="M267.9 209.5l2.6-2.1-2 1.8-2.6-.7z"/>
<path color="#2797ea" d="M321.8 205.3l2.6-1.2-2-1.1-2.6 1.2z"/>
<path color="#15afd9" d="M251.5 199.9l2.6 2.6-2-2.5-2.6-.2z"/>
<path color="#1ea7e1" d="M305.4 201.9l2.6 1.4-2.1-1.2-2.6-1z"/>
<path color="#09b4d1" d="M288.9 200.4l2.6-.2-2-2.2-2.6 3.5z"/>
<path color="#2f81fa" d="M272.5 206.8l2.6-.9-2 .6-2.6 .9z"/>
<path color="#259de7" d="M256.1 203l2.6 2.3-2-3-2.6 .2z"/>
<path color="#259be8" d="M310 206l2.6-1.4-2-2.8-2.6 1.5z"/>
<path color="#01b9c8" d="M293.5 198l2.6 .9-2 1.7-2.6-.4z"/>
<path color="#2a93ee" d="M277.1 206.5l2.6-4-2 2-2.6 1.4z"/>
<path color="#2e87f7" d="M260.7 206.3l2.6 2-2-3.8-2.6 .8z"/>
<path color="#2797eb" d="M314.6 206.8l2.6-1.2-2-3.8-2.6 2.8z"/>
<path color="#09bcbe" d="M244.3 198.7l2.6 .2-2-1.1-2.6 .4z"/>
<path color="#07b5d0" d="M298.1 201.5l2.6 .8-2-3.4-2.6 0z"/>
<path color="#21a4e3" d="M281.7 205.8l2.6-4.9-2 1.7-2.6-.1z"/>
<path color="#3f6fff" d="M265.3 209.1l2.6 .4-2-1-2.6-.2z"/>
<path color="#2895ec" d="M319.2 205.5l2.6-.2-2-1.1-2.6 1.4z"/>
<path color="#01b7ca" d="M248.9 200.4l2.6-.5-2-.1-2.6-.9z"/>
<path color="#1babde" d="M302.8 203.6l2.6-1.7-2.1-.8-2.6 1.2z"/>
<path color="#0bb3d2" d="M286.3 200.6l2.6-.2-2 1.1-2.6-.6z"/>
<path color="#347afd" d="M269.9 208.5l2.6-1.7-2 .6-2.6 2.1z"/>
<path color="#2797eb" d="M323.8 206.1l2.6-1-2-1-2.6 1.2z"/>
<path color="#19acdc" d="M253.5 202.1l2.6 .9-2-.5-2.6-2.6z"/>
<path color="#20a4e3" d="M307.4 202.4l2.6 3.6-2-2.7-2.6-1.4z"/>
<path color="#01bac5" d="M290.9 200.9l2.6-2.9-2 2.2-2.6 .2z"/>
<path color="#2d8bf4" d="M274.5 206.7l2.6-.2-2-.6-2.6 .9z"/>
<path color="#269ae9" d="M258.1 203.8l2.6 2.5-2-1-2.6-2.3z"/>
<path color="#2b92ef" d="M312 206.6l2.6 .2-2-2.2-2.6 1.4z"/>
<path color="#13beb9" d="M241.7 198.6l2.6 .1-2-.5-2.6 .6z"/>
<path color="#07bcc0" d="M295.5 200.1l2.6 1.4-2-2.6-2.6-.9z"/>
<path color="#2b91ef" d="M279.1 209.1l2.6-3.3-2-3.3-2.6 4z"/>
<path color="#2f81fa" d="M262.7 207l2.6 2.1-2-.8-2.6-2z"/>
<path color="#2b92ee" d="M316.6 207.1l2.6-1.6-2 .1-2.6 1.2z"/>
<path color="#09bcbe" d="M246.3 199.3l2.6 1.1-2-1.5-2.6-.2z"/>
<path color="#17aeda" d="M300.2 202.3l2.6 1.3-2.1-1.3-2.6-.8z"/>
<path color="#317dfc" d="M267.3 206.3l2.6 2.2-2 1-2.6-.4z"/>
<path color="#2995ec" d="M321.2 207.7l2.6-1.6-2-.8-2.6 .2z"/>
<path color="#04b6cd" d="M250.9 201.3l2.6 .8-2-2.2-2.6 .5z"/>
<path color="#17aeda" d="M304.8 202.9l2.6-.5-2-.5-2.6 1.7z"/>
<path color="#2d89f5" d="M271.9 207.2l2.6-.5-2 .1-2.6 1.7z"/>
<path color="#2995ec" d="M325.8 207.7l2.6-1.1-2-1.5-2.6 1z"/>
<path color="#18aedb" d="M255.5 201.7l2.6 2.1-2-.8-2.6-.9z"/>
<path color="#249de7" d="M309.4 206l2.6 .6-2-.6-2.6-3.6z"/>
<path color="#1bc0b4" d="M239.1 199.2l2.6-.6-2 .2-2.6 0z"/>
<path color="#2d8bf4" d="M276.5 207l2.6 2.1-2-2.6-2.6 .2z"/>
<path color="#2798ea" d="M260.1 205.9l2.6 1.1-2-.7-2.6-2.5z"/>
<path color="#2c8ff0" d="M314 208.3l2.6-1.2-2-.3-2.6-.2z"/>
<path color="#19bfb5" d="M243.7 200.3l2.6-1-2-.6-2.6-.1z"/>
<path color="#04b6cd" d="M297.6 203l2.6-.7-2.1-.8-2.6-1.4z"/>
<path color="#2d8bf4" d="M264.7 207.9l2.6-1.6-2 2.8-2.6-2.1z"/>
<path color="#2b92ee" d="M318.6 208.2l2.6-.5-2-2.2-2.6 1.6z"/>
<path color="#0cbdbc" d="M248.3 199.2l2.6 2.1-2-.9-2.6-1.1z"/>
<path color="#14b0d8" d="M302.2 203.7l2.6-.8-2 .7-2.6-1.3z"/>
<path color="#2d8cf3" d="M269.3 208.6l2.6-1.4-2 1.3-2.6-2.2z"/>
<path color="#2a93ee" d="M323.2 207.6l2.6 .1-2-1.6-2.6 1.6z"/>
<path color="#03b7cc" d="M252.9 201.8l2.6-.1-2 .4-2.6-.8z"/>
<path color="#1caadf" d="M306.8 205.7l2.6 .3-2-3.6-2.6 .5z"/>
<path color="#20c1b1" d="M236.5 200.1l2.6-.9-2-.4-2.6 .2z"/>
<path color="#2a93ee" d="M273.9 207.5l2.6-.5-2-.3-2.6 .5z"/>
<path color="#2b91ef" d="M327.8 208.5l2.6-.6-2-1.3-2.6 1.1z"/>
<path color="#19addc" d="M257.5 203.3l2.6 2.6-2-2.1-2.6-2.1z"/>
<path color="#2995ec" d="M311.4 208.1l2.6 .2-2-1.7-2.6-.6z"/>
<path color="#1ac0b5" d="M241.1 201.3l2.6-1-2-1.7-2.6 .6z"/>
<path color="#2896eb" d="M262.1 206.8l2.6 1.1-2-.9-2.6-1.1z"/>
<path color="#2b91ef" d="M316 207.9l2.6 .3-2-1.1-2.6 1.2z"/>
<path color="#25c2ad" d="M245.7 199.2l2.6 0-2 .1-2.6 1z"/>
<path color="#12b1d6" d="M299.6 205.5l2.6-1.8-2-1.4-2.6 .7z"/>
<path color="#2994ed" d="M266.7 206.8l2.6 1.8-2-2.3-2.6 1.6z"/>
<path color="#2a93ed" d="M320.6 208l2.6-.4-2 .1-2.6 .5z"/>
<path color="#0abdbd" d="M250.3 201.9l2.6-.1-2-.5-2.6-2.1z"/>
<path color="#1aabdd" d="M304.2 206.7l2.6-1-2-2.8-2.6 .8z"/>
<path color="#22c1b0" d="M233.9 200.4l2.6-.3-2-1.1-2.6 1z"/>
<path color="#2994ed" d="M271.3 207.2l2.6 .3-2-.3-2.6 1.4z"/>
<path color="#2b92ef" d="M325.2 209.6l2.6-1.1-2-.8-2.6-.1z"/>
<path color="#02b7cb" d="M254.9 203.6l2.6-.3-2-1.6-2.6 .1z"/>
<path color="#249ee6" d="M308.8 207.4l2.6 .7-2-2.1-2.6-.3z"/>
<path color="#1dc0b3" d="M238.5 200.8l2.6 .5-2-2.1-2.6 .9z"/>
<path color="#2c8ff1" d="M329.8 209.3l2.6 .7-2-2.1-2.6 .6z"/>
<path color="#1ea7e1" d="M259.5 205.9l2.6 .9-2-.9-2.6-2.6z"/>
<path color="#2896ec" d="M313.4 207.9l2.6 0-2 .4-2.6-.2z"/>
<path color="#26c2ad" d="M243.1 199.7l2.6-.5-2 1.1-2.6 1z"/>
<path color="#269ae8" d="M264.1 207.8l2.6-1-2 1.1-2.6-1.1z"/>
<path color="#2895ec" d="M318 209.3l2.6-1.3-2 .2-2.6-.3z"/>
<path color="#26c2ad" d="M247.7 201.1l2.6 .8-2-2.7-2.6 0z"/>
<path color="#1babde" d="M301.6 206.2l2.6 .5-2-3-2.6 1.8z"/>
<path color="#23a0e5" d="M268.7 204.6l2.6 2.6-2 1.4-2.6-1.8z"/>
<path color="#2b92ef" d="M322.6 210.9l2.6-1.3-2-2-2.6 .4z"/>
<path color="#01b9c6" d="M252.3 204l2.6-.4-2-1.8-2.6 .1z"/>
<path color="#21a3e4" d="M306.2 207.6l2.6-.2-2-1.7-2.6 1z"/>
<path color="#23c1af" d="M235.9 201.6l2.6-.8-2-.7-2.6 .3z"/>
<path color="#21a3e3" d="M273.3 205.5l2.6 1.1-2 .9-2.6-.3z"/>
<path color="#2c8ff1" d="M327.2 211.1l2.6-1.8-2-.8-2.6 1.1z"/>
<path color="#01b8ca" d="M256.9 200.8l2.6 5.1-2-2.6-2.6 .3z"/>
<path color="#249fe6" d="M310.8 207l2.6 .9-2 .2-2.6-.7z"/>
<path color="#26c2ac" d="M240.5 201.2l2.6-1.5-2 1.6-2.6-.5z"/>
<path color="#2d89f5" d="M331.8 211.9l2.6-1-2-.9-2.6-.7z"/>
<path color="#21a4e3" d="M261.5 206.7l2.6 1.1-2-1-2.6-.9z"/>
<path color="#2a93ee" d="M315.4 212.2l2.6-2.9-2-1.4-2.6 0z"/>
<path color="#31c6a0" d="M245.1 200.2l2.6 .9-2-1.9-2.6 .5z"/>
<path color="#1ea7e1" d="M266.1 207.2l2.6-2.6-2 2.2-2.6 1z"/>
<path color="#2c90f0" d="M320 211.6l2.6-.7-2-2.9-2.6 1.3z"/>
<path color="#13beb8" d="M249.7 202l2.6 2-2-2.1-2.6-.8z"/>
<path color="#1fa5e2" d="M303.6 208.3l2.6-.7-2-.9-2.6-.5z"/>
<path color="#14b0d8" d="M270.7 204.9l2.6 .6-2 1.7-2.6-2.6z"/>
<path color="#2d8cf3" d="M324.6 210.7l2.6 .4-2-1.5-2.6 1.3z"/>
<path color="#15bfb7" d="M254.3 201.3l2.6-.5-2 2.8-2.6 .4z"/>
<path color="#21a3e3" d="M308.2 208.9l2.6-1.9-2 .4-2.6 .2z"/>
<path color="#25c2ae" d="M237.9 202.6l2.6-1.4-2-.4-2.6 .8z"/>
<path color="#2d88f6" d="M329.2 212.7l2.6-.8-2-2.6-2.6 1.8z"/>
<path color="#01bac6" d="M258.9 202.4l2.6 4.3-2-.8-2.6-5.1z"/>
<path color="#2797ea" d="M312.8 210.7l2.6 1.5-2-4.3-2.6-.9z"/>
<path color="#30c5a2" d="M242.5 202.2l2.6-2-2-.5-2.6 1.5z"/>
<path color="#3080fa" d="M333.8 214.1l2.6-1.4-2-1.8-2.6 1z"/>
<path color="#1da8e0" d="M263.5 207l2.6 .2-2 .6-2.6-1.1z"/>
<path color="#2d88f6" d="M317.4 213.1l2.6-1.5-2-2.3-2.6 2.9z"/>
<path color="#2dc4a6" d="M247.1 202.2l2.6-.2-2-.9-2.6-.9z"/>
<path color="#19acdc" d="M301 206.5l2.6 1.8-2-2.1-2.6 .4z"/>
<path color="#0ab4d1" d="M268.1 205.5l2.6-.6-2-.3-2.6 2.6z"/>
<path color="#2c8ff1" d="M322 210.8l2.6-.1-2 .2-2.6 .7z"/>
<path color="#20c1b1" d="M251.7 203l2.6-1.7-2 2.7-2.6-2z"/>
<path color="#20a5e2" d="M305.6 208l2.6 .9-2-1.3-2.6 .7z"/>
<path color="#05b6ce" d="M272.7 203.6l2.6 4.3-2-2.4-2.6-.6z"/>
<path color="#2d8af5" d="M326.6 212.7l2.6 0-2-1.6-2.6-.4z"/>
<path color="#29c3aa" d="M256.3 204.4l2.6-2-2-1.6-2.6 .5z"/>
<path color="#249ee6" d="M310.2 210.6l2.6 .1-2-3.7-2.6 1.9z"/>
<path color="#29c3aa" d="M239.9 202.7l2.6-.5-2-1-2.6 1.4z"/>
<path color="#2f80fa" d="M331.2 213.5l2.6 .6-2-2.2-2.6 .8z"/>
<path color="#01b8ca" d="M260.9 205l2.6 2-2-.3-2.6-4.3z"/>
<path color="#2e86f7" d="M314.8 213.7l2.6-.6-2-.9-2.6-1.5z"/>
<path color="#2ec5a4" d="M244.5 203.1l2.6-.9-2-2-2.6 2z"/>
<path color="#2f80fa" d="M335.8 213.2l2.6 0-2-.5-2.6 1.4z"/>
<path color="#12b1d6" d="M265.5 207.2l2.6-1.7-2 1.7-2.6-.2z"/>
<path color="#2d8af4" d="M319.4 213.1l2.6-2.3-2 .8-2.6 1.5z"/>
<path color="#27c2ac" d="M249.1 204.1l2.6-1.1-2-1-2.6 .2z"/>
<path color="#17aedb" d="M303 207.6l2.6 .4-2 .3-2.6-1.8z"/>
<path color="#05bbc1" d="M270.1 205.7l2.6-2.1-2 1.3-2.6 .6z"/>
<path color="#2c8ff1" d="M324 213.4l2.6-.7-2-2-2.6 .1z"/>
<path color="#29c3a9" d="M253.7 202.8l2.6 1.6-2-3.1-2.6 1.7z"/>
<path color="#21a3e3" d="M307.6 210l2.6 .6-2-1.7-2.6-.9z"/>
<path color="#2e85f8" d="M328.6 214.1l2.6-.6-2-.8-2.6 0z"/>
<path color="#0fbeba" d="M258.3 206.5l2.6-1.5-2-2.6-2.6 2z"/>
<path color="#2b91ef" d="M312.2 212.6l2.6 1.1-2-3-2.6-.1z"/>
<path color="#2bc3a8" d="M241.9 203.8l2.6-.7-2-.9-2.6 .5z"/>
<path color="#2f82fa" d="M333.2 214.6l2.6-1.4-2 .9-2.6-.6z"/>
<path color="#03b7cb" d="M262.9 206.2l2.6 1-2-.2-2.6-2z"/>
<path color="#2e87f7" d="M316.8 213.1l2.6 0-2 0-2.6 .6z"/>
<path color="#26c2ad" d="M246.5 205l2.6-.9-2-1.9-2.6 .9z"/>
<path color="#14b0d8" d="M300.4 208.5l2.6-.9-2-1.1-2.6 2.7z"/>
<path color="#2d88f6" d="M337.8 214.4l2.6-1.5-2 .3-2.6 0z"/>
<path color="#01b8ca" d="M267.5 207.3l2.6-1.6-2-.2-2.6 1.7z"/>
<path color="#2b91ef" d="M321.4 212l2.6 1.4-2-2.6-2.6 2.3z"/>
<path color="#31c5a1" d="M251.1 201.6l2.6 1.2-2 .2-2.6 1.1z"/>
<path color="#1baade" d="M305 210.5l2.6-.5-2-2-2.6-.4z"/>
<path color="#02bbc3" d="M272.1 208.6l2.6-2.4-2-2.6-2.6 2.1z"/>
<path color="#2d89f5" d="M326 213.6l2.6 .5-2-1.4-2.6 .7z"/>
<path color="#27c2ac" d="M255.7 202.3l2.6 4.2-2-2.1-2.6-1.6z"/>
<path color="#2699e9" d="M309.6 213.1l2.6-.5-2-2-2.6-.6z"/>
<path color="#307ffb" d="M330.6 217.1l2.6-2.5-2-1.1-2.6 .6z"/>
<path color="#08bcbf" d="M260.3 206l2.6 .2-2-1.2-2.6 1.5z"/>
<path color="#2d8df2" d="M314.2 213.3l2.6-.2-2 .6-2.6-1.1z"/>
<path color="#28c3ab" d="M243.9 204.5l2.6 .5-2-1.9-2.6 .7z"/>
<path color="#2e85f8" d="M335.2 215.4l2.6-1-2-1.2-2.6 1.4z"/>
<path color="#02bac4" d="M264.9 205.6l2.6 1.7-2-.1-2.6-1z"/>
<path color="#2b92ee" d="M318.8 213.5l2.6-1.5-2 1.1-2.6 0z"/>
<path color="#2fc5a2" d="M248.5 204l2.6-2.4-2 2.5-2.6 .9z"/>
<path color="#16afda" d="M302.4 209.7l2.6 .8-2-2.9-2.6 .9z"/>
<path color="#2d8af5" d="M339.8 215.2l2.6-1.2-2-1.1-2.6 1.5z"/>
<path color="#01b8c8" d="M269.5 207.2l2.6 1.4-2-2.9-2.6 1.6z"/>
<path color="#2895ec" d="M323.4 212.2l2.6 1.4-2-.2-2.6-1.4z"/>
<path color="#3fca8e" d="M253.1 203.3l2.6-1-2 .5-2.6-1.2z"/>
<path color="#21a3e3" d="M307 210.3l2.6 2.8-2-3.1-2.6 .5z"/>
<path color="#07b5d0" d="M274.2 209.2l2.6-.4-2.1-2.6-2.6 2.4z"/>
<path color="#2e83f9" d="M328 215.4l2.6 1.7-2-3-2.6-.5z"/>
<path color="#27c2ac" d="M257.7 205l2.6 1-2 .5-2.6-4.2z"/>
<path color="#2797eb" d="M311.6 211.9l2.6 1.4-2-.7-2.6 .5z"/>
<path color="#307ffb" d="M332.6 216l2.6-.6-2-.8-2.6 2.5z"/>
<path color="#1ec0b2" d="M262.3 205.2l2.6 .4-2 .6-2.6-.2z"/>
<path color="#2994ed" d="M316.2 213.4l2.6 .1-2-.4-2.6 .2z"/>
<path color="#2dc4a6" d="M245.9 205l2.6-1-2 1-2.6-.5z"/>
<path color="#1fa5e2" d="M299.8 214.3l2.6-4.6-2-1.2-2.6 3.4z"/>
<path color="#2d89f5" d="M337.2 214.5l2.6 .7-2-.8-2.6 1z"/>
<path color="#11beba" d="M266.9 206.2l2.6 1-2 .1-2.6-1.7z"/>
<path color="#2a92ee" d="M320.8 217.4l2.6-5.2-2-.2-2.6 1.5z"/>
<path color="#3cc992" d="M250.5 204.8l2.6-1.5-2-1.7-2.6 2.4z"/>
<path color="#1babde" d="M304.4 211.8l2.6-1.5-2 .2-2.6-.8z"/>
<path color="#01b9c7" d="M271.6 206.9l2.6 2.3-2.1-.6-2.6-1.4z"/>
<path color="#2a92ee" d="M325.4 215.1l2.6 .3-2-1.8-2.6-1.4z"/>
<path color="#3ac994" d="M255.1 204.6l2.6 .4-2-2.7-2.6 1z"/>
<path color="#22a1e4" d="M309 213.2l2.6-1.3-2 1.2-2.6-2.8z"/>
<path color="#0cb3d3" d="M276.2 209.9l2.6 0-2-1.1-2.6 .4z"/>
<path color="#2f82fa" d="M330 216.1l2.6-.1-2 1.1-2.6-1.7z"/>
<path color="#2dc4a6" d="M259.7 205.3l2.6-.1-2 .8-2.6-1z"/>
<path color="#259ce7" d="M313.6 213.6l2.6-.2-2-.1-2.6-1.4z"/>
<path color="#2995ec" d="M297.2 215.1l2.6-.8-2-2.4-2.6 2.5z"/>
<path color="#2d8af4" d="M334.6 215.9l2.6-1.4-2 .9-2.6 .6z"/>
<path color="#22c1b0" d="M264.3 208.8l2.6-2.6-2-.6-2.6-.4z"/>
<path color="#2c8ff1" d="M318.2 215.3l2.6 2.1-2-3.9-2.6-.1z"/>
<path color="#32c69f" d="M247.9 206.2l2.6-1.4-2-.8-2.6 1z"/>
<path color="#249de7" d="M301.8 216.6l2.6-4.8-2-2.1-2.6 4.6z"/>
<path color="#13beb9" d="M269 209.3l2.6-2.4-2.1 .3-2.6-1z"/>
<path color="#2c8ff0" d="M322.8 215.6l2.6-.5-2-2.9-2.6 5.2z"/>
<path color="#3ac993" d="M252.5 205.1l2.6-.5-2-1.3-2.6 1.5z"/>
<path color="#20a4e3" d="M306.4 214.5l2.6-1.3-2-2.9-2.6 1.5z"/>
<path color="#02bac5" d="M273.6 209l2.6 .9-2-.7-2.6-2.3z"/>
<path color="#2c8ef1" d="M327.4 215.2l2.6 .9-2-.7-2.6-.3z"/>
<path color="#37c897" d="M257.1 204.9l2.6 .4-2-.3-2.6-.4z"/>
<path color="#249de6" d="M311 215.5l2.6-1.9-2-1.7-2.6 1.3z"/>
<path color="#2c8ff1" d="M294.6 215.1l2.6 0-2-.7-2.6 2.1z"/>
<path color="#15afd9" d="M278.2 211.6l2.6 1-2-2.7-2.6 0z"/>
<path color="#2d89f6" d="M332 217.2l2.6-1.3-2 .1-2.6 .1z"/>
<path color="#2ac3a9" d="M261.7 206.8l2.6 2-2-3.6-2.6 .1z"/>
<path color="#2797ea" d="M315.6 215.8l2.6-.5-2-1.9-2.6 .2z"/>
<path color="#2c8ff1" d="M299.2 216l2.6 .6-2-2.3-2.6 .8z"/>
<path color="#20a4e3" d="M282.8 214.5l2.6-2.9-2 1-2.6 0z"/>
<path color="#10beba" d="M266.4 208.6l2.6 .7-2.1-3.1-2.6 2.6z"/>
<path color="#2c8ff1" d="M320.2 215l2.6 .6-2 1.8-2.6-2.1z"/>
<path color="#36c899" d="M249.9 206l2.6-.9-2-.3-2.6 1.4z"/>
<path color="#2896ec" d="M303.8 216.8l2.6-2.3-2-2.7-2.6 4.8z"/>
<path color="#249de6" d="M287.4 214l2.6 1.4-2-.7-2.6-3.1z"/>
<path color="#07bcc0" d="M271 210.8l2.6-1.8-2-2.1-2.6 2.4z"/>
<path color="#2896eb" d="M324.8 215l2.6 .2-2-.1-2.6 .5z"/>
<path color="#3dc990" d="M254.5 206.2l2.6-1.3-2-.3-2.6 .5z"/>
<path color="#23a0e5" d="M308.4 212.3l2.6 3.2-2-2.3-2.6 1.3z"/>
<path color="#2d8df2" d="M292 217.4l2.6-2.3-2 1.4-2.6-1.1z"/>
<path color="#06b5ce" d="M275.6 212l2.6-.4-2-1.7-2.6-.9z"/>
<path color="#2c8ff0" d="M329.4 216.5l2.6 .7-2-1.1-2.6-.9z"/>
<path color="#38c897" d="M259.1 206.5l2.6 .3-2-1.5-2.6-.4z"/>
<path color="#259be8" d="M313 214.3l2.6 1.5-2-2.2-2.6 1.9z"/>
<path color="#2c8ef1" d="M296.6 219l2.6-3-2-.9-2.6 0z"/>
<path color="#21a2e4" d="M280.2 216.2l2.6-1.7-2-1.9-2.6-1z"/>
<path color="#24c1ae" d="M263.8 207.5l2.6 1.1-2.1 .2-2.6-2z"/>
<path color="#2699e9" d="M317.6 214.7l2.6 .3-2 .3-2.6 .5z"/>
<path color="#2e87f7" d="M301.2 219.8l2.6-3-2-.2-2.6-.6z"/>
<path color="#22a2e4" d="M284.8 215.8l2.6-1.8-2-2.4-2.6 2.9z"/>
<path color="#0abdbe" d="M268.4 209.3l2.6 1.5-2-1.5-2.6-.7z"/>
<path color="#259de7" d="M322.2 214.6l2.6 .4-2 .6-2.6-.6z"/>
<path color="#3cc992" d="M251.9 206.6l2.6-.4-2-1.1-2.6 .9z"/>
<path color="#23a0e5" d="M305.8 214.5l2.6-2.2-2 2.2-2.6 2.3z"/>
<path color="#269ae8" d="M289.4 214.2l2.6 3.2-2-2-2.6-1.4z"/>
<path color="#03b7cc" d="M273 212.3l2.6-.3-2-3-2.6 1.8z"/>
<path color="#2798ea" d="M326.8 216.8l2.6-.3-2-1.3-2.6-.2z"/>
<path color="#3eca8f" d="M256.5 206.6l2.6-.1-2-1.6-2.6 1.3z"/>
<path color="#1ea7e1" d="M310.4 213.5l2.6 .8-2 1.2-2.6-3.2z"/>
<path color="#2d8af4" d="M294 218l2.6 1-2-3.9-2.6 2.3z"/>
<path color="#1ea8e0" d="M277.6 215l2.6 1.2-2-4.6-2.6 .4z"/>
<path color="#33c79d" d="M261.2 208.1l2.6-.6-2.1-.7-2.6-.3z"/>
<path color="#22a2e4" d="M315 214.6l2.6 .1-2 1.1-2.6-1.5z"/>
<path color="#327cfc" d="M298.6 222.1l2.6-2.3-2-3.8-2.6 3z"/>
<path color="#2798ea" d="M282.2 217.6l2.6-1.8-2-1.3-2.6 1.7z"/>
<path color="#26c2ad" d="M265.8 209.6l2.6-.3-2-.7-2.6-1.1z"/>
<path color="#1fa6e1" d="M319.6 213.7l2.6 .9-2 .4-2.6-.3z"/>
<path color="#2d89f5" d="M303.2 221.1l2.6-6.6-2 2.3-2.6 3z"/>
<path color="#22a2e4" d="M286.8 215.7l2.6-1.5-2-.2-2.6 1.8z"/>
<path color="#01b9c7" d="M270.4 212.8l2.6-.5-2-1.5-2.6-1.5z"/>
<path color="#22a1e4" d="M324.2 215.3l2.6 1.5-2-1.8-2.6-.4z"/>
<path color="#41ca8c" d="M253.9 206.6l2.6 0-2-.4-2.6 .4z"/>
<path color="#1ea8e0" d="M307.8 217.7l2.6-4.2-2-1.2-2.6 2.2z"/>
<path color="#2698ea" d="M291.4 216l2.6 2-2-.6-2.6-3.2z"/>
<path color="#16afd9" d="M275 214l2.6 1-2-3-2.6 .3z"/>
<path color="#36c898" d="M258.6 209l2.6-.9-2.1-1.6-2.6 .1z"/>
<path color="#1ca9e0" d="M312.4 215.9l2.6-1.3-2-.3-2.6-.8z"/>
<path color="#2e83f9" d="M296 217.6l2.6 4.5-2-3.1-2.6-1z"/>
<path color="#259ce7" d="M279.6 215.9l2.6 1.7-2-1.4-2.6-1.2z"/>
<path color="#2cc4a6" d="M263.2 210.3l2.6-.7-2-2.1-2.6 .6z"/>
<path color="#1aacdd" d="M317 214.7l2.6-1-2 1-2.6-.1z"/>
<path color="#3975fe" d="M300.6 220.3l2.6 .8-2-1.3-2.6 2.3z"/>
<path color="#259ce7" d="M284.2 216.7l2.6-1-2 .1-2.6 1.8z"/>
<path color="#15bfb7" d="M267.8 210.6l2.6 2.2-2-3.5-2.6 .3z"/>
<path color="#19addc" d="M321.6 214.3l2.6 1-2-.7-2.6-.9z"/>
<path color="#2b91ef" d="M305.2 219.1l2.6-1.4-2-3.2-2.6 6.6z"/>
<path color="#21a3e3" d="M288.8 217.2l2.6-1.2-2-1.8-2.6 1.5z"/>
<path color="#08b5d0" d="M272.4 213.1l2.6 .9-2-1.7-2.6 .5z"/>
<path color="#3cc991" d="M256 208.9l2.6 .1-2.1-2.4-2.6 0z"/>
<path color="#20a4e3" d="M309.8 216.5l2.6-.6-2-2.4-2.6 4.2z"/>
<path color="#269ae9" d="M293.4 217.3l2.6 .3-2 .4-2.6-2z"/>
<path color="#1babde" d="M277 214.6l2.6 1.3-2-.9-2.6-1z"/>
<path color="#2ec5a4" d="M260.6 209.9l2.6 .4-2-2.2-2.6 .9z"/>
<path color="#1aabdd" d="M314.4 215.5l2.6-.8-2-.1-2.6 1.3z"/>
<path color="#2f82fa" d="M298 220.9l2.6-.6-2 1.8-2.6-4.5z"/>
<path color="#249de6" d="M281.6 217.6l2.6-.9-2 .9-2.6-1.7z"/>
<path color="#2ac3a9" d="M265.2 209.7l2.6 .9-2-1-2.6 .7z"/>
<path color="#0fb2d4" d="M319 214.6l2.6-.3-2-.6-2.6 1z"/>
<path color="#2e84f9" d="M302.6 220.4l2.6-1.3-2 2-2.6-.8z"/>
<path color="#249ee6" d="M286.2 218.6l2.6-1.4-2-1.5-2.6 1z"/>
<path color="#0abdbe" d="M269.8 211.7l2.6 1.4-2-.3-2.6-2.2z"/>
<path color="#269ae9" d="M307.2 218.5l2.6-2-2 1.2-2.6 1.4z"/>
<path color="#21a3e4" d="M290.8 216.4l2.6 .9-2-1.3-2.6 1.2z"/>
<path color="#06b5ce" d="M274.4 213.6l2.6 1-2-.6-2.6-.9z"/>
<path color="#33c69e" d="M258 210.5l2.6-.6-2-.9-2.6-.1z"/>
<path color="#1babde" d="M311.8 215.8l2.6-.3-2 .4-2.6 .6z"/>
<path color="#2896eb" d="M295.4 218.6l2.6 2.3-2-3.3-2.6-.3z"/>
<path color="#1fa6e1" d="M279 217.6l2.6 0-2-1.7-2.6-1.3z"/>
<path color="#30c5a1" d="M262.6 210.5l2.6-.8-2 .6-2.6-.4z"/>
<path color="#0bb3d2" d="M316.4 214.4l2.6 .2-2 .1-2.6 .8z"/>
<path color="#2d87f7" d="M300 220.5l2.6-.1-2-.1-2.6 .6z"/>
<path color="#259ce7" d="M283.6 219l2.6-.4-2-1.9-2.6 .9z"/>
<path color="#28c3aa" d="M267.2 212.3l2.6-.6-2-1.1-2.6-.9z"/>
<path color="#2c8ff0" d="M304.6 221.3l2.6-2.8-2 .6-2.6 1.3z"/>
<path color="#249ee6" d="M288.2 219.7l2.6-3.3-2 .8-2.6 1.4z"/>
<path color="#14bfb8" d="M271.8 211.5l2.6 2.1-2-.5-2.6-1.4z"/>
<path color="#21a3e3" d="M309.2 220l2.6-4.2-2 .7-2.6 2z"/>
<path color="#20a4e3" d="M292.8 217.5l2.6 1.1-2-1.3-2.6-.9z"/>
<path color="#0bb3d2" d="M276.4 214.8l2.6 2.8-2-3-2.6-1z"/>
<path color="#31c69f" d="M260 211.6l2.6-1.1-2-.6-2.6 .6z"/>
<path color="#0eb2d4" d="M313.8 217l2.6-2.6-2 1.1-2.6 .3z"/>
<path color="#2796eb" d="M297.4 218l2.6 2.5-2 .4-2.6-2.3z"/>
<path color="#23a1e5" d="M281 218.3l2.6 .7-2-1.4-2.6 0z"/>
<path color="#2dc4a5" d="M264.6 212.9l2.6-.6-2-2.6-2.6 .8z"/>
<path color="#2c8ff0" d="M302 220l2.6 1.3-2-.9-2.6 .1z"/>
<path color="#2798ea" d="M285.6 220.4l2.6-.7-2-1.1-2.6 .4z"/>
<path color="#22c1b0" d="M269.2 214.3l2.6-2.8-2 .2-2.6 .6z"/>
<path color="#2895ec" d="M306.6 220.7l2.6-.7-2-1.5-2.6 2.8z"/>
<path color="#23a1e4" d="M290.2 220.8l2.6-3.3-2-1.1-2.6 3.3z"/>
<path color="#16bfb7" d="M273.8 213.4l2.6 1.4-2-1.2-2.6-2.1z"/>
<path color="#1ea7e1" d="M311.2 219.3l2.6-2.3-2-1.2-2.6 4.2z"/>
<path color="#1ea7e1" d="M294.8 218.2l2.6-.2-2 .6-2.6-1.1z"/>
<path color="#12b1d6" d="M278.4 215.3l2.6 3-2-.7-2.6-2.8z"/>
<path color="#2ec5a4" d="M262 212.6l2.6 .3-2-2.4-2.6 1.1z"/>
<path color="#249fe6" d="M299.4 218.9l2.6 1.1-2 .5-2.6-2.5z"/>
<path color="#22a2e4" d="M283 217.6l2.6 2.8-2-1.4-2.6-.7z"/>
<path color="#20c1b1" d="M266.6 213.3l2.6 1-2-2-2.6 .6z"/>
<path color="#2796eb" d="M304 220.6l2.6 .1-2 .6-2.6-1.3z"/>
<path color="#269ae9" d="M287.6 219.7l2.6 1.1-2-1.1-2.6 .7z"/>
<path color="#1dc0b3" d="M271.2 215.3l2.6-1.9-2-1.9-2.6 2.8z"/>
<path color="#259ce7" d="M308.6 220.9l2.6-1.6-2 .7-2.6 .7z"/>
<path color="#21a3e3" d="M292.2 220.4l2.6-2.2-2-.7-2.6 3.3z"/>
<path color="#0abdbe" d="M275.8 215.8l2.6-.5-2-.5-2.6-1.4z"/>
<path color="#1ea8e0" d="M296.8 220.2l2.6-1.3-2-.9-2.6 .2z"/>
<path color="#07b5d0" d="M280.4 215.8l2.6 1.8-2 .7-2.6-3z"/>
<path color="#29c3aa" d="M264 214.5l2.6-1.2-2-.4-2.6-.3z"/>
<path color="#21a4e3" d="M301.4 219l2.6 1.6-2-.6-2.6-1.1z"/>
<path color="#1fa5e2" d="M285 219.7l2.6 0-2 .7-2.6-2.8z"/>
<path color="#1cc0b3" d="M268.6 214.6l2.6 .7-2-1-2.6-1z"/>
<path color="#259de7" d="M306 220.8l2.6 .1-2-.2-2.6-.1z"/>
<path color="#23a0e5" d="M289.6 220.5l2.6-.1-2 .4-2.6-1.1z"/>
<path color="#15bfb8" d="M273.2 215.4l2.6 .4-2-2.4-2.6 1.9z"/>
<path color="#21a2e4" d="M294.2 222l2.6-1.8-2-2-2.6 2.2z"/>
<path color="#14beb8" d="M277.8 214.2l2.6 1.6-2-.5-2.6 .5z"/>
<path color="#1babde" d="M298.8 219.3l2.6-.3-2-.1-2.6 1.3z"/>
<path color="#04b6cd" d="M282.4 216.5l2.6 3.2-2-2.1-2.6-1.8z"/>
<path color="#26c2ad" d="M266 215.5l2.6-.9-2-1.3-2.6 1.2z"/>
<path color="#1caadf" d="M303.4 218.6l2.6 2.2-2-.2-2.6-1.6z"/>
<path color="#21a3e3" d="M287 222.3l2.6-1.8-2-.8-2.6 0z"/>
<path color="#20c1b1" d="M270.6 215.1l2.6 .3-2-.1-2.6-.7z"/>
<path color="#249de6" d="M291.6 223.4l2.6-1.4-2-1.6-2.6 .1z"/>
<path color="#1dc0b3" d="M275.2 216.6l2.6-2.4-2 1.6-2.6-.4z"/>
<path color="#20a4e3" d="M296.2 221.9l2.6-2.6-2 .9-2.6 1.8z"/>
<path color="#24c1af" d="M279.8 215l2.6 1.5-2-.7-2.6-1.6z"/>
<path color="#0db3d3" d="M300.8 219l2.6-.4-2 .4-2.6 .3z"/>
<path color="#13b0d7" d="M284.4 218.8l2.6 3.5-2-2.6-2.6-3.2z"/>
<path color="#27c2ab" d="M268 216.1l2.6-1-2-.5-2.6 .9z"/>
<path color="#23a1e4" d="M289 221.1l2.6 2.3-2-2.9-2.6 1.8z"/>
<path color="#1ec0b2" d="M272.6 217.4l2.6-.8-2-1.2-2.6-.3z"/>
<path color="#249de6" d="M293.6 222.6l2.6-.7-2 .1-2.6 1.4z"/>
<path color="#28c2ab" d="M277.2 217.4l2.6-2.4-2-.8-2.6 2.4z"/>
<path color="#18addb" d="M298.2 222.1l2.6-3.1-2 .3-2.6 2.6z"/>
<path color="#12beb9" d="M281.8 218.5l2.6 .3-2-2.3-2.6-1.5z"/>
<path color="#17aedb" d="M286.4 220.5l2.6 .6-2 1.2-2.6-3.5z"/>
<path color="#1fc1b1" d="M270 218.3l2.6-.9-2-2.3-2.6 1z"/>
<path color="#20a5e3" d="M291 221.9l2.6 .7-2 .8-2.6-2.3z"/>
<path color="#14bfb8" d="M274.6 218.8l2.6-1.4-2-.8-2.6 .8z"/>
<path color="#20a4e3" d="M295.6 223.6l2.6-1.5-2-.2-2.6 .7z"/>
<path color="#1cc0b3" d="M279.2 218.8l2.6-.3-2-3.5-2.6 2.4z"/>
<path color="#01b8ca" d="M283.8 220.7l2.6-.2-2-1.7-2.6-.3z"/>
<path color="#15afd9" d="M288.4 222.1l2.6-.2-2-.8-2.6-.6z"/>
<path color="#10beba" d="M272 219.1l2.6-.3-2-1.4-2.6 .9z"/>
<path color="#1fa6e2" d="M293 223.8l2.6-.2-2-1-2.6-.7z"/>
<path color="#10beba" d="M276.6 219.6l2.6-.8-2-1.4-2.6 1.4z"/>
<path color="#03bbc3" d="M281.2 220.7l2.6 0-2-2.2-2.6 .3z"/>
<path color="#08b5d0" d="M285.8 221.5l2.6 .6-2-1.6-2.6 .2z"/>
<path color="#19addc" d="M290.4 223.2l2.6 .6-2-1.9-2.6 .2z"/>
<path color="#0ebdbb" d="M274 220.3l2.6-.7-2-.8-2.6 .3z"/>
<path color="#08bcbf" d="M278.6 220.9l2.6-.2-2-1.9-2.6 .8z"/>
<path color="#01b9c7" d="M283.2 221.1l2.6 .4-2-.8-2.6 0z"/>
<path color="#0bb3d2" d="M287.8 222.5l2.6 .7-2-1.1-2.6-.6z"/>
<path color="#0abdbd" d="M276 221.3l2.6-.4-2-1.3-2.6 .7z"/>
<path color="#04bbc2" d="M280.6 222.1l2.6-1-2-.4-2.6 .2z"/>
<path color="#01b9c7" d="M285.2 222.6l2.6-.1-2-1-2.6-.4z"/>
<path color="#08bcbf" d="M278 222.2l2.6-.1-2-1.2-2.6 .4z"/>
<path color="#06bcc0" d="M282.6 222.2l2.6 .4-2-1.5-2.6 1z"/>
<path color="#0fbebb" d="M280 222.2l2.6 0-2-.1-2.6 .1z"/></g>
<text class="tk" x="228.4" y="180.5" text-anchor="end">2</text>
<text class="tk" x="228.4" y="196.1" text-anchor="end">1.5</text>
<text class="tk" x="228.4" y="211.8" text-anchor="end">1</text>
<text class="tk" x="228.4" y="227.6" text-anchor="end">0.5</text>
<text class="tk" x="230.6" y="240.3" text-anchor="middle">10</text>
<text class="tk" x="253.1" y="249.4" text-anchor="middle">5</text>
<text class="tk" x="273.0" y="258.9" text-anchor="middle">0</text>
<text class="tk" x="286.9" y="259.4" text-anchor="middle">0</text>
<text class="tk" x="313.0" y="252.6" text-anchor="middle">5</text>
<text class="tk" x="341.8" y="245.3" text-anchor="middle">10</text>
<text class="lb" transform="translate(209.8 201.8) rotate(-90)" text-anchor="middle">f(x,y) (%)</text>
<text class="lb" x="209.0" y="268.2">y-axis</text>
<text class="lb" x="320.5" y="269.5">x-axis</text>
<text class="cp cb" x="195.6" y="284.9" textLength="12.4" lengthAdjust="spacingAndGlyphs">(e)</text>
<text class="cp" x="214.0" y="284.9" textLength="18.4" lengthAdjust="spacingAndGlyphs">Field</text>
<text class="cp" x="237.9" y="284.9" textLength="8.5" lengthAdjust="spacingAndGlyphs">B:</text>
<text class="cp" x="249.8" y="284.9" textLength="8.1" lengthAdjust="spacingAndGlyphs"><tspan class="it">μ</tspan><tspan class="it" font-size="6.2" dy="-3.3">B</tspan></text>
<text class="cp eq" x="266.7" y="284.9" textLength="7.1" lengthAdjust="spacingAndGlyphs">=</text>
<text class="cp" x="280.9" y="284.9" textLength="25.7" lengthAdjust="spacingAndGlyphs">1.05%,</text>
<text class="cp" x="307.5" y="284.9" textLength="10.0" lengthAdjust="spacingAndGlyphs"><tspan class="it">σ</tspan><tspan class="it" font-size="6.2" dy="-3.3">B</tspan></text>
<text class="cp eq" x="325.6" y="284.9" textLength="6.1" lengthAdjust="spacingAndGlyphs">=</text>
<text class="cp" x="339.4" y="284.9" textLength="18.5" lengthAdjust="spacingAndGlyphs">0.2%,</text>
<text class="cp it" x="195.8" y="295.2" textLength="5.0" lengthAdjust="spacingAndGlyphs">â</text>
<text class="cp eq" x="202.7" y="295.2" textLength="6.3" lengthAdjust="spacingAndGlyphs">=</text>
<text class="cp" x="212.2" y="295.2" textLength="8.3" lengthAdjust="spacingAndGlyphs">12</text>
<text class="cp" x="221.0" y="295.2" textLength="13.4" lengthAdjust="spacingAndGlyphs">μm</text>
</g>
<g>
<path class="gm" d="M468.2 246.6L420.1 224.3M420.1 224.3L420.1 176.8M468.2 246.6L530.6 230.2M530.6 230.2L530.6 182.7M473.6 245.2L425.5 222.9M425.5 222.9L425.5 175.4M464.0 244.7L526.4 228.3M526.4 228.3L526.4 180.8M479.1 243.7L431.0 221.4M431.0 221.4L431.0 173.9M459.8 242.7L522.2 226.3M522.2 226.3L522.2 178.8M484.5 242.3L436.4 220.0M436.4 220.0L436.4 172.5M455.7 240.8L518.1 224.4M518.1 224.4L518.1 176.9M489.9 240.9L441.8 218.6M441.8 218.6L441.8 171.1M451.5 238.8L513.9 222.4M513.9 222.4L513.9 174.9M495.3 239.5L447.2 217.2M447.2 217.2L447.2 169.7M447.3 236.9L509.7 220.5M509.7 220.5L509.7 173.0M500.8 238.0L452.7 215.7M452.7 215.7L452.7 168.2M443.1 235.0L505.5 218.6M505.5 218.6L505.5 171.1M506.2 236.6L458.1 214.3M458.1 214.3L458.1 166.8M438.9 233.0L501.3 216.6M501.3 216.6L501.3 169.1M511.6 235.2L463.5 212.9M463.5 212.9L463.5 165.4M434.7 231.1L497.1 214.7M497.1 214.7L497.1 167.2M517.0 233.8L468.9 211.5M468.9 211.5L468.9 164.0M430.6 229.1L493.0 212.7M493.0 212.7L493.0 165.2M522.5 232.3L474.4 210.0M474.4 210.0L474.4 162.5M426.4 227.2L488.8 210.8M488.8 210.8L488.8 163.3M527.9 230.9L479.8 208.6M479.8 208.6L479.8 161.1M422.2 225.3L484.6 208.9M484.6 208.9L484.6 161.4M420.1 224.3L482.5 207.9M482.5 207.9L530.6 230.2M420.1 221.1L482.5 204.7M482.5 204.7L530.6 227.0M420.1 218.0L482.5 201.6M482.5 201.6L530.6 223.9M420.1 214.8L482.5 198.4M482.5 198.4L530.6 220.7M420.1 211.6L482.5 195.2M482.5 195.2L530.6 217.5M420.1 208.5L482.5 192.1M482.5 192.1L530.6 214.4M420.1 205.3L482.5 188.9M482.5 188.9L530.6 211.2M420.1 202.1L482.5 185.7M482.5 185.7L530.6 208.0M420.1 199.0L482.5 182.6M482.5 182.6L530.6 204.9M420.1 195.8L482.5 179.4M482.5 179.4L530.6 201.7M420.1 192.6L482.5 176.2M482.5 176.2L530.6 198.5M420.1 189.5L482.5 173.1M482.5 173.1L530.6 195.4M420.1 186.3L482.5 169.9M482.5 169.9L530.6 192.2M420.1 183.1L482.5 166.7M482.5 166.7L530.6 189.0M420.1 180.0L482.5 163.6M482.5 163.6L530.6 185.9M420.1 176.8L482.5 160.4M482.5 160.4L530.6 182.7"/>
<path class="gM" d="M468.2 246.6L420.1 224.3M420.1 224.3L420.1 176.8M468.2 246.6L530.6 230.2M530.6 230.2L530.6 182.7M495.3 239.5L447.2 217.2M447.2 217.2L447.2 169.7M447.3 236.9L509.7 220.5M509.7 220.5L509.7 173.0M522.5 232.3L474.4 210.0M474.4 210.0L474.4 162.5M426.4 227.2L488.8 210.8M488.8 210.8L488.8 163.3M420.1 224.3L482.5 207.9M482.5 207.9L530.6 230.2M420.1 208.5L482.5 192.1M482.5 192.1L530.6 214.4M420.1 192.6L482.5 176.2M482.5 176.2L530.6 198.5M420.1 176.8L482.5 160.4M482.5 160.4L530.6 182.7"/>
<path class="ax" d="M420.1 224.3L420.1 176.8M420.1 224.3L468.2 246.6M468.2 246.6L530.6 230.2M468.2 246.6L466.9 246.0M468.2 246.6L469.8 246.2M495.3 239.5L494.1 238.9M447.3 236.9L448.9 236.5M522.5 232.3L521.2 231.8M426.4 227.2L428.0 226.8M420.1 224.3L421.7 223.9M420.1 208.5L421.7 208.0M420.1 192.6L421.7 192.2M420.1 176.8L421.7 176.4"/>
<g class="s"><path color="#1da8e0" d="M481.9 189.9l2.6-.9-2-.9-2.6 .9z"/>
<path color="#1ea7e1" d="M479.3 190.6l2.6-.7-2-.9-2.6 .8z"/>
<path color="#1ea7e1" d="M483.9 191.3l2.6-1.2-2-1.1-2.6 .9z"/>
<path color="#23a0e5" d="M476.7 193.2l2.6-2.6-2-.8-2.6 2.4z"/>
<path color="#1fa5e2" d="M481.3 192.2l2.6-.9-2-1.4-2.6 .7z"/>
<path color="#1fa6e2" d="M485.9 192.4l2.6-1.3-2-1-2.6 1.2z"/>
<path color="#2995ec" d="M474.1 194.9l2.6-1.7-2-1-2.6 1.7z"/>
<path color="#23a0e5" d="M478.7 193.3l2.6-1.1-2-1.6-2.6 2.6z"/>
<path color="#21a3e3" d="M483.3 193.1l2.6-.7-2-1.1-2.6 .9z"/>
<path color="#1fa6e1" d="M487.9 192.5l2.6-.2-2-1.2-2.6 1.3z"/>
<path color="#2c8ff1" d="M471.5 195.9l2.6-1-2-1-2.6 1.1z"/>
<path color="#2796eb" d="M476.1 195.7l2.6-2.4-2-.1-2.6 1.7z"/>
<path color="#22a2e4" d="M480.7 193.5l2.6-.4-2-.9-2.6 1.1z"/>
<path color="#1fa6e2" d="M485.3 193.4l2.6-.9-2-.1-2.6 .7z"/>
<path color="#2b92ee" d="M468.9 195.5l2.6 .4-2-.9-2.6-.2z"/>
<path color="#1ca9df" d="M489.9 192.6l2.6 .3-2-.6-2.6 .2z"/>
<path color="#2c8ff1" d="M473.5 197l2.6-1.3-2-.8-2.6 1z"/>
<path color="#2699e9" d="M478.1 197l2.6-3.5-2-.2-2.6 2.4z"/>
<path color="#20a5e3" d="M482.7 194.6l2.6-1.2-2-.3-2.6 .4z"/>
<path color="#2699e9" d="M466.3 195.2l2.6 .3-2-.7-2.6-.2z"/>
<path color="#1babde" d="M487.3 193.7l2.6-1.1-2-.1-2.6 .9z"/>
<path color="#2b90ef" d="M470.9 197l2.6 0-2-1.1-2.6-.4z"/>
<path color="#1aabdd" d="M491.9 194l2.6-.6-2-.5-2.6-.3z"/>
<path color="#2c90f0" d="M475.5 196.9l2.6 .1-2-1.3-2.6 1.3z"/>
<path color="#269ae8" d="M480.1 197.6l2.6-3-2-1.1-2.6 3.5z"/>
<path color="#22a2e4" d="M463.7 195l2.6 .2-2-.6-2.6-1z"/>
<path color="#1ea7e1" d="M484.7 195.3l2.6-1.6-2-.3-2.6 1.2z"/>
<path color="#2699e9" d="M468.3 196.4l2.6 .6-2-1.5-2.6-.3z"/>
<path color="#1aacdd" d="M489.3 195.2l2.6-1.2-2-1.4-2.6 1.1z"/>
<path color="#2b92ee" d="M472.9 197.5l2.6-.6-2 .1-2.6 0z"/>
<path color="#1caadf" d="M493.9 195.4l2.6-.8-2-1.2-2.6 .6z"/>
<path color="#2896eb" d="M477.5 196l2.6 1.6-2-.6-2.6-.1z"/>
<path color="#16afd9" d="M461.1 193.2l2.6 1.8-2-1.4-2.6-1.4z"/>
<path color="#269ae8" d="M482.1 198.8l2.6-3.5-2-.7-2.6 3z"/>
<path color="#22a2e4" d="M465.7 195.6l2.6 .8-2-1.2-2.6-.2z"/>
<path color="#1fa5e2" d="M486.7 197.5l2.6-2.3-2-1.5-2.6 1.6z"/>
<path color="#269ae9" d="M470.3 196.5l2.6 1-2-.5-2.6-.6z"/>
<path color="#1ea8e0" d="M491.3 196.8l2.6-1.4-2-1.4-2.6 1.2z"/>
<path color="#259ce7" d="M474.9 196.8l2.6-.8-2 .9-2.6 .6z"/>
<path color="#07b5cf" d="M458.5 194l2.6-.8-2-1-2.6 .9z"/>
<path color="#1ca9df" d="M495.9 196.1l2.6-.8-2-.7-2.6 .8z"/>
<path color="#2798ea" d="M479.5 198l2.6 .8-2-1.2-2.6-1.6z"/>
<path color="#17aedb" d="M463.1 194.5l2.6 1.1-2-.6-2.6-1.8z"/>
<path color="#2797eb" d="M484.1 200.1l2.6-2.6-2-2.2-2.6 3.5z"/>
<path color="#20a5e2" d="M467.7 195.9l2.6 .6-2-.1-2.6-.8z"/>
<path color="#23a0e5" d="M488.7 198.5l2.6-1.7-2-1.6-2.6 2.3z"/>
<path color="#249fe5" d="M472.3 197.7l2.6-.9-2 .7-2.6-1z"/>
<path color="#12b1d6" d="M455.9 195.9l2.6-1.9-2-.9-2.6 2z"/>
<path color="#1fa6e1" d="M493.3 197.5l2.6-1.4-2-.7-2.6 1.4z"/>
<path color="#249fe5" d="M476.9 198.5l2.6-.5-2-2-2.6 .8z"/>
<path color="#0ab4d2" d="M460.5 195.4l2.6-.9-2-1.3-2.6 .8z"/>
<path color="#1baadf" d="M497.9 197.2l2.6-1.1-2-.8-2.6 .8z"/>
<path color="#2994ed" d="M481.5 199.2l2.6 .9-2-1.3-2.6-.8z"/>
<path color="#17aeda" d="M465.1 195.8l2.6 .1-2-.3-2.6-1.1z"/>
<path color="#2798ea" d="M486.1 198.8l2.6-.3-2-1-2.6 2.6z"/>
<path color="#1fa6e2" d="M469.7 197.5l2.6 .2-2-1.2-2.6-.6z"/>
<path color="#12b1d7" d="M453.3 195.2l2.6 .7-2-.8-2.6-.3z"/>
<path color="#22a2e4" d="M490.7 197.9l2.6-.4-2-.7-2.6 1.7z"/>
<path color="#249ee6" d="M474.3 199.4l2.6-.9-2-1.7-2.6 .9z"/>
<path color="#13b0d7" d="M457.9 197l2.6-1.6-2-1.4-2.6 1.9z"/>
<path color="#1ea7e1" d="M495.3 198.1l2.6-.9-2-1.1-2.6 1.4z"/>
<path color="#259be7" d="M478.9 199.2l2.6 0-2-1.2-2.6 .5z"/>
<path color="#0fb2d4" d="M462.5 196.2l2.6-.4-2-1.3-2.6 .9z"/>
<path color="#1babde" d="M499.9 197.7l2.6-.5-2-1.1-2.6 1.1z"/>
<path color="#269ae8" d="M483.5 198.3l2.6 .5-2 1.3-2.6-.9z"/>
<path color="#14b0d8" d="M467.1 195.3l2.6 2.2-2-1.6-2.6-.1z"/>
<path color="#05b6cd" d="M450.7 195.4l2.6-.2-2-.4-2.6-.2z"/>
<path color="#23a0e5" d="M488.1 199.5l2.6-1.6-2 .6-2.6 .3z"/>
<path color="#20a5e3" d="M471.7 197.3l2.6 2.1-2-1.7-2.6-.2z"/>
<path color="#11b1d6" d="M455.3 196.2l2.6 .8-2-1.1-2.6-.7z"/>
<path color="#1fa6e2" d="M492.7 198.9l2.6-.8-2-.6-2.6 .4z"/>
<path color="#249ee6" d="M476.3 199l2.6 .2-2-.7-2.6 .9z"/>
<path color="#16afd9" d="M459.9 198.2l2.6-2-2-.8-2.6 1.6z"/>
<path color="#1da9e0" d="M497.3 198.7l2.6-1-2-.5-2.6 .9z"/>
<path color="#21a3e3" d="M480.9 198.2l2.6 .1-2 .9-2.6 0z"/>
<path color="#05b6ce" d="M464.5 195.7l2.6-.4-2 .5-2.6 .4z"/>
<path color="#02bac5" d="M448.1 194.8l2.6 .6-2-.8-2.6 0z"/>
<path color="#1ea8e1" d="M501.9 199.7l2.6-.8-2-1.7-2.6 .5z"/>
<path color="#23a1e4" d="M485.5 200.2l2.6-.7-2-.7-2.6-.5z"/>
<path color="#08b4d0" d="M469.1 194.9l2.6 2.4-2 .2-2.6-2.2z"/>
<path color="#04b6cd" d="M452.7 196.5l2.6-.3-2-1-2.6 .2z"/>
<path color="#23a1e4" d="M490.1 201.6l2.6-2.7-2-1-2.6 1.6z"/>
<path color="#1da8e0" d="M473.7 198.1l2.6 .9-2 .4-2.6-2.1z"/>
<path color="#14b0d8" d="M457.3 197.6l2.6 .6-2-1.2-2.6-.8z"/>
<path color="#1ea7e1" d="M494.7 200l2.6-1.3-2-.6-2.6 .8z"/>
<path color="#1ea7e1" d="M478.3 199.1l2.6-.9-2 1-2.6-.2z"/>
<path color="#09b4d1" d="M461.9 197l2.6-1.3-2 .5-2.6 2z"/>
<path color="#0dbdbb" d="M445.5 194.7l2.6 .1-2-.2-2.6 .2z"/>
<path color="#1ea8e1" d="M499.3 200.2l2.6-.5-2-2-2.6 1z"/>
<path color="#1ea7e1" d="M482.9 199.6l2.6 .6-2-1.9-2.6-.1z"/>
<path color="#03bbc2" d="M466.5 196.6l2.6-1.7-2 .4-2.6 .4z"/>
<path color="#03bbc3" d="M450.1 195.8l2.6 .7-2-1.1-2.6-.6z"/>
<path color="#249de6" d="M504 202.7l2.6-1.5-2.1-2.3-2.6 .8z"/>
<path color="#259be8" d="M487.5 202.2l2.6-.6-2-2.1-2.6 .7z"/>
<path color="#04b6cd" d="M471.1 197l2.6 1.1-2-.8-2.6-2.4z"/>
<path color="#06b5cf" d="M454.7 197.7l2.6-.1-2-1.4-2.6 .3z"/>
<path color="#249fe5" d="M492.1 202.1l2.6-2.1-2-1.1-2.6 2.7z"/>
<path color="#1aabdd" d="M475.7 199.5l2.6-.4-2-.1-2.6-.9z"/>
<path color="#08b4d1" d="M459.3 196.8l2.6 .2-2 1.2-2.6-.6z"/>
<path color="#10beba" d="M442.9 196.1l2.6-1.4-2 .1-2.6 .6z"/>
<path color="#1fa5e2" d="M496.7 201.3l2.6-1.1-2-1.5-2.6 1.3z"/>
<path color="#1babde" d="M480.3 200.2l2.6-.6-2-1.4-2.6 .9z"/>
<path color="#02bac4" d="M463.9 196.5l2.6 .1-2-.9-2.6 1.3z"/>
<path color="#17bfb7" d="M447.5 195.7l2.6 .1-2-1-2.6-.1z"/>
<path color="#249fe5" d="M501.4 201.8l2.6 .9-2.1-3-2.6 .5z"/>
<path color="#23a1e5" d="M484.9 201.4l2.6 .8-2-2-2.6-.6z"/>
<path color="#02bbc3" d="M468.5 197.9l2.6-.9-2-2.1-2.6 1.7z"/>
<path color="#02bac5" d="M452.1 196.9l2.6 .8-2-1.2-2.6-.7z"/>
<path color="#2895ec" d="M506 203.9l2.6-1.3-2-1.4-2.6 1.5z"/>
<path color="#2797eb" d="M489.5 203.3l2.6-1.2-2-.5-2.6 .6z"/>
<path color="#08b5d0" d="M473.1 197.8l2.6 1.7-2-1.4-2.6-1.1z"/>
<path color="#01b8ca" d="M456.7 197.6l2.6-.8-2 .8-2.6 .1z"/>
<path color="#0fbeba" d="M440.3 196.2l2.6-.1-2-.7-2.6 .8z"/>
<path color="#259be8" d="M494.1 204.7l2.6-3.4-2-1.3-2.6 2.1z"/>
<path color="#16afda" d="M477.7 198.7l2.6 1.5-2-1.1-2.6 .4z"/>
<path color="#06bbc1" d="M461.3 197.1l2.6-.6-2 .5-2.6-.2z"/>
<path color="#15bfb8" d="M444.9 197.4l2.6-1.7-2-1-2.6 1.4z"/>
<path color="#249fe5" d="M498.8 203.8l2.6-2-2.1-1.6-2.6 1.1z"/>
<path color="#1ea7e1" d="M482.3 201.9l2.6-.5-2-1.8-2.6 .6z"/>
<path color="#04bbc2" d="M465.9 197.7l2.6 .2-2-1.3-2.6-.1z"/>
<path color="#18bfb6" d="M449.5 196l2.6 .9-2-1.1-2.6-.1z"/>
<path color="#2798ea" d="M503.4 203.3l2.6 .6-2-1.2-2.6-.9z"/>
<path color="#259be8" d="M486.9 203.1l2.6 .2-2-1.1-2.6-.8z"/>
<path color="#02bac4" d="M470.5 197.8l2.6 0-2-.8-2.6 .9z"/>
<path color="#05bbc1" d="M454.1 197.1l2.6 .5-2 .1-2.6-.8z"/>
<path color="#2995ec" d="M508 204.4l2.6-1-2-.8-2.6 1.3z"/>
<path color="#08bcbf" d="M437.7 198.3l2.6-2.1-2 0-2.6 1.3z"/>
<path color="#2c8ff1" d="M491.5 206.6l2.6-1.9-2-2.6-2.6 1.2z"/>
<path color="#05b6ce" d="M475.1 199.2l2.6-.5-2 .8-2.6-1.7z"/>
<path color="#0abdbd" d="M458.7 197.5l2.6-.4-2-.3-2.6 .8z"/>
<path color="#14beb8" d="M442.3 197.1l2.6 .3-2-1.3-2.6 .1z"/>
<path color="#2b91ef" d="M496.2 207.1l2.6-3.3-2.1-2.5-2.6 3.4z"/>
<path color="#16afd9" d="M479.7 200.3l2.6 1.6-2-1.7-2.6-1.5z"/>
<path color="#0bbdbd" d="M463.3 198.4l2.6-.7-2-1.2-2.6 .6z"/>
<path color="#12beb9" d="M446.9 199.1l2.6-3.1-2-.3-2.6 1.7z"/>
<path color="#2798ea" d="M500.8 205.3l2.6-2-2-1.5-2.6 2z"/>
<path color="#259be8" d="M484.3 206.3l2.6-3.2-2-1.7-2.6 .5z"/>
<path color="#08bcbf" d="M467.9 197.9l2.6-.1-2 .1-2.6-.2z"/>
<path color="#1cc0b4" d="M451.5 197.4l2.6-.3-2-.2-2.6-.9z"/>
<path color="#2798ea" d="M505.4 203.6l2.6 .8-2-.5-2.6-.6z"/>
<path color="#02bac5" d="M435.1 198.9l2.6-.6-2-.8-2.6 .9z"/>
<path color="#2c8ef1" d="M488.9 206.7l2.6-.1-2-3.3-2.6-.2z"/>
<path color="#04bbc1" d="M472.5 198.5l2.6 .7-2-1.4-2.6 0z"/>
<path color="#12beb9" d="M456.1 198.1l2.6-.6-2 .1-2.6-.5z"/>
<path color="#2896eb" d="M510 204.9l2.6-.3-2-1.2-2.6 1z"/>
<path color="#0cbdbc" d="M439.7 199.3l2.6-2.2-2-.9-2.6 2.1z"/>
<path color="#307ffb" d="M493.6 209.1l2.6-2-2.1-2.4-2.6 1.9z"/>
<path color="#07b5cf" d="M477.1 201.3l2.6-1-2-1.6-2.6 .5z"/>
<path color="#0fbebb" d="M460.7 198.7l2.6-.3-2-1.3-2.6 .4z"/>
<path color="#0abdbd" d="M444.3 198.9l2.6 .2-2-1.7-2.6-.3z"/>
<path color="#2d8bf3" d="M498.2 206.9l2.6-1.6-2-1.5-2.6 3.3z"/>
<path color="#23a0e5" d="M481.7 204.4l2.6 1.9-2-4.4-2.6-1.6z"/>
<path color="#08bcbf" d="M465.3 200.2l2.6-2.3-2-.2-2.6 .7z"/>
<path color="#0ebdbb" d="M448.9 200.2l2.6-2.8-2-1.4-2.6 3.1z"/>
<path color="#2699e9" d="M502.8 205.2l2.6-1.6-2-.3-2.6 2z"/>
<path color="#01b8c9" d="M432.5 200.5l2.6-1.6-2-.5-2.6 1.2z"/>
<path color="#2d88f6" d="M486.3 209.2l2.6-2.5-2-3.6-2.6 3.2z"/>
<path color="#16bfb7" d="M469.9 198.2l2.6 .3-2-.7-2.6 .1z"/>
<path color="#19bfb5" d="M453.5 199.1l2.6-1-2-1-2.6 .3z"/>
<path color="#249de6" d="M507.4 203.5l2.6 1.4-2-.5-2.6-.8z"/>
<path color="#03bbc2" d="M437.1 199.5l2.6-.2-2-1-2.6 .6z"/>
<path color="#327cfc" d="M491 209.3l2.6-.2-2.1-2.5-2.6 .1z"/>
<path color="#02bac5" d="M474.5 199.4l2.6 1.9-2-2.1-2.6-.7z"/>
<path color="#14beb8" d="M458.1 199.2l2.6-.5-2-1.2-2.6 .6z"/>
<path color="#2797eb" d="M512 205.7l2.6-.1-2-1-2.6 .3z"/>
<path color="#0abdbd" d="M441.7 199.9l2.6-1-2-1.8-2.6 2.2z"/>
<path color="#317dfc" d="M495.6 209l2.6-2.1-2 .2-2.6 2z"/>
<path color="#19addc" d="M479.1 202.9l2.6 1.5-2-4.1-2.6 1z"/>
<path color="#01b9c6" d="M462.7 202l2.6-1.8-2-1.8-2.6 .3z"/>
<path color="#02bbc3" d="M446.3 200.1l2.6 .1-2-1.1-2.6-.2z"/>
<path color="#2b90f0" d="M500.2 207.2l2.6-2-2 .1-2.6 1.6z"/>
<path color="#0fb2d5" d="M429.9 202.9l2.6-2.4-2-.9-2.6 2.2z"/>
<path color="#2d8bf4" d="M483.7 206.9l2.6 2.3-2-2.9-2.6-1.9z"/>
<path color="#0bbdbc" d="M467.3 200.8l2.6-2.6-2-.3-2.6 2.3z"/>
<path color="#11beb9" d="M450.9 199.1l2.6 0-2-1.7-2.6 2.8z"/>
<path color="#249fe5" d="M504.8 205.9l2.6-2.4-2 .1-2.6 1.6z"/>
<path color="#01b9c7" d="M434.5 201.6l2.6-2.1-2-.6-2.6 1.6z"/>
<path color="#317dfc" d="M488.4 208.9l2.6 .4-2.1-2.6-2.6 2.5z"/>
<path color="#11beb9" d="M455.5 200.4l2.6-1.2-2-1.1-2.6 1z"/>
<path color="#249ee6" d="M509.4 205.6l2.6 .1-2-.8-2.6-1.4z"/>
<path color="#05bbc1" d="M439.1 200.4l2.6-.5-2-.6-2.6 .2z"/>
<path color="#3876fe" d="M493 210.3l2.6-1.3-2 .1-2.6 .2z"/>
<path color="#01bac5" d="M460.1 201.9l2.6 .1-2-3.3-2.6 .5z"/>
<path color="#2698ea" d="M514 206.4l2.6-.4-2-.4-2.6 .1z"/>
<path color="#02bbc3" d="M443.7 202.1l2.6-2-2-1.2-2.6 1z"/>
<path color="#2d88f6" d="M497.6 208.3l2.6-1.1-2-.3-2.6 2.1z"/>
<path color="#1ca9df" d="M427.3 204.2l2.6-1.3-2-1.1-2.6 2.3z"/>
<path color="#02b7cb" d="M464.7 202l2.6-1.2-2-.6-2.6 1.8z"/>
<path color="#0cbdbc" d="M448.3 200.2l2.6-1.1-2 1.1-2.6-.1z"/>
<path color="#2895ec" d="M502.2 207.8l2.6-1.9-2-.7-2.6 2z"/>
<path color="#0eb2d4" d="M431.9 203.2l2.6-1.6-2-1.1-2.6 2.4z"/>
<path color="#2e85f8" d="M485.8 208.1l2.6 .8-2.1 .3-2.6-2.3z"/>
<path color="#0ebdbb" d="M452.9 201.6l2.6-1.2-2-1.3-2.6 0z"/>
<path color="#249fe6" d="M506.8 207.3l2.6-1.7-2-2.1-2.6 2.4z"/>
<path color="#01b9c7" d="M436.5 202.7l2.6-2.3-2-.9-2.6 2.1z"/>
<path color="#337bfd" d="M490.4 210l2.6 .3-2-1-2.6-.4z"/>
<path color="#02bac5" d="M457.5 203.1l2.6-1.2-2-2.7-2.6 1.2z"/>
<path color="#259ce7" d="M511.4 206.8l2.6-.4-2-.7-2.6-.1z"/>
<path color="#01b9c8" d="M441.1 203l2.6-.9-2-2.2-2.6 .5z"/>
<path color="#307ffb" d="M495 210.3l2.6-2-2 .7-2.6 1.3z"/>
<path color="#1fa6e2" d="M424.7 205l2.6-.8-2-.1-2.6 .3z"/>
<path color="#04b6cd" d="M462.1 202.5l2.6-.5-2 0-2.6-.1z"/>
<path color="#259ce7" d="M516 206.7l2.6-.4-2-.3-2.6 .4z"/>
<path color="#02bac5" d="M445.7 203l2.6-2.8-2-.1-2.6 2z"/>
<path color="#2c90f0" d="M499.6 208.2l2.6-.4-2-.6-2.6 1.1z"/>
<path color="#19addc" d="M429.3 204.3l2.6-1.1-2-.3-2.6 1.3z"/>
<path color="#0fbebb" d="M450.3 201.8l2.6-.2-2-2.5-2.6 1.1z"/>
<path color="#2797eb" d="M504.2 207.9l2.6-.6-2-1.4-2.6 1.9z"/>
<path color="#10b2d5" d="M433.9 205l2.6-2.3-2-1.1-2.6 1.6z"/>
<path color="#2e86f7" d="M487.8 209.2l2.6 .8-2-1.1-2.6-.8z"/>
<path color="#01b8c9" d="M454.9 203.8l2.6-.7-2-2.7-2.6 1.2z"/>
<path color="#259ce7" d="M508.8 207.4l2.6-.6-2-1.2-2.6 1.7z"/>
<path color="#06b5cf" d="M438.5 204.7l2.6-1.7-2-2.6-2.6 2.3z"/>
<path color="#317dfc" d="M492.4 210.8l2.6-.5-2 0-2.6-.3z"/>
<path color="#1ea7e1" d="M422.1 205.5l2.6-.5-2-.6-2.6 .4z"/>
<path color="#01b8c9" d="M459.5 202.3l2.6 .2-2-.6-2.6 1.2z"/>
<path color="#249fe6" d="M513.4 207l2.6-.3-2-.3-2.6 .4z"/>
<path color="#0ab4d1" d="M443.1 204.7l2.6-1.7-2-.9-2.6 .9z"/>
<path color="#2d8af4" d="M497 209.8l2.6-1.6-2 .1-2.6 2z"/>
<path color="#1ca9df" d="M426.7 205.8l2.6-1.5-2-.1-2.6 .8z"/>
<path color="#249fe6" d="M518 207.7l2.6-.4-2-1-2.6 .4z"/>
<path color="#05bbc1" d="M447.7 202.8l2.6-1-2-1.6-2.6 2.8z"/>
<path color="#2994ed" d="M501.6 209l2.6-1.1-2-.1-2.6 .4z"/>
<path color="#19addc" d="M431.3 205.8l2.6-.8-2-1.8-2.6 1.1z"/>
<path color="#04bbc2" d="M452.3 201.7l2.6 2.1-2-2.2-2.6 .2z"/>
<path color="#2699e9" d="M506.2 208.7l2.6-1.3-2-.1-2.6 .6z"/>
<path color="#18aedb" d="M435.9 206.2l2.6-1.5-2-2-2.6 2.3z"/>
<path color="#2e86f7" d="M489.8 210l2.6 .8-2-.8-2.6-.8z"/>
<path color="#02bac5" d="M456.9 201.9l2.6 .4-2 .8-2.6 .7z"/>
<path color="#23a0e5" d="M510.8 207.8l2.6-.8-2-.2-2.6 .6z"/>
<path color="#13b0d7" d="M440.5 205.6l2.6-.9-2-1.7-2.6 1.7z"/>
<path color="#2e85f8" d="M494.4 210.7l2.6-.9-2 .5-2.6 .5z"/>
<path color="#1da8e0" d="M424.1 206.6l2.6-.8-2-.8-2.6 .5z"/>
<path color="#0ebebb" d="M461.5 202.1l2.6-.6-2 1-2.6-.2z"/>
<path color="#22a1e4" d="M515.4 208l2.6-.3-2-1-2.6 .3z"/>
<path color="#05b6ce" d="M445.1 204.5l2.6-1.7-2 .2-2.6 1.7z"/>
<path color="#2b92ef" d="M499 210l2.6-1-2-.8-2.6 1.6z"/>
<path color="#1aabdd" d="M428.7 205.9l2.6-.1-2-1.5-2.6 1.5z"/>
<path color="#23a0e5" d="M520 208.2l2.6-.3-2-.6-2.6 .4z"/>
<path color="#15bfb8" d="M449.7 201.8l2.6-.1-2 .1-2.6 1z"/>
<path color="#2797eb" d="M503.6 209.7l2.6-1-2-.8-2.6 1.1z"/>
<path color="#1babde" d="M433.3 206.3l2.6-.1-2-1.2-2.6 .8z"/>
<path color="#15bfb7" d="M454.3 201.6l2.6 .3-2 1.9-2.6-2.1z"/>
<path color="#249de6" d="M508.2 209.3l2.6-1.5-2-.4-2.6 1.3z"/>
<path color="#18addb" d="M437.9 206l2.6-.4-2-.9-2.6 1.5z"/>
<path color="#2d89f5" d="M491.8 210.9l2.6-.2-2 .1-2.6-.8z"/>
<path color="#18bfb6" d="M458.9 203.1l2.6-1-2 .2-2.6-.4z"/>
<path color="#1fa6e2" d="M512.8 207l2.6 1-2-1-2.6 .8z"/>
<path color="#0db3d3" d="M442.5 205.1l2.6-.6-2 .2-2.6 .9z"/>
<path color="#2d8df2" d="M496.4 211.4l2.6-1.4-2-.2-2.6 .9z"/>
<path color="#1baadf" d="M426.1 207l2.6-1.1-2-.1-2.6 .8z"/>
<path color="#21a4e3" d="M517.4 208l2.6 .2-2-.5-2.6 .3z"/>
<path color="#0dbdbc" d="M447.1 203.1l2.6-1.3-2 1-2.6 1.7z"/>
<path color="#2995ec" d="M501 210.5l2.6-.8-2-.7-2.6 1z"/>
<path color="#18addb" d="M430.7 206.3l2.6 0-2-.5-2.6 .1z"/>
<path color="#22a2e4" d="M522 208.8l2.6 0-2-.9-2.6 .3z"/>
<path color="#26c2ac" d="M451.7 202.9l2.6-1.3-2 .1-2.6 .1z"/>
<path color="#269ae8" d="M505.6 209.8l2.6-.5-2-.6-2.6 1z"/>
<path color="#19acdc" d="M435.3 207.6l2.6-1.6-2 .2-2.6 .1z"/>
<path color="#2b92ef" d="M489.2 210.7l2.6 .2-2-.9-2.6-.2z"/>
<path color="#21c1b0" d="M456.3 203.6l2.6-.5-2-1.2-2.6-.3z"/>
<path color="#20a5e2" d="M510.2 208.8l2.6-1.8-2 .8-2.6 1.5z"/>
<path color="#11b2d5" d="M439.9 207l2.6-1.9-2 .5-2.6 .4z"/>
<path color="#2c8ff0" d="M493.8 210.5l2.6 .9-2-.7-2.6 .2z"/>
<path color="#16bfb7" d="M460.9 203.6l2.6 1-2-2.5-2.6 1z"/>
<path color="#1babde" d="M514.8 207.4l2.6 .6-2 0-2.6-1z"/>
<path color="#04bbc1" d="M444.5 204.3l2.6-1.2-2 1.4-2.6 .6z"/>
<path color="#2a93ed" d="M498.4 210.6l2.6-.1-2-.5-2.6 1.4z"/>
<path color="#17aeda" d="M428.1 207.5l2.6-1.2-2-.4-2.6 1.1z"/>
<path color="#1ea7e1" d="M519.4 209l2.6-.2-2-.6-2.6-.2z"/>
<path color="#1ec0b2" d="M449.1 205l2.6-2.1-2-1.1-2.6 1.3z"/>
<path color="#2699e9" d="M503 210.6l2.6-.8-2-.1-2.6 .8z"/>
<path color="#19addb" d="M432.7 208.1l2.6-.5-2-1.3-2.6 0z"/>
<path color="#21a2e4" d="M524 209.7l2.6 .2-2-1.1-2.6 0z"/>
<path color="#24c1ae" d="M453.7 204.2l2.6-.6-2-2-2.6 1.3z"/>
<path color="#23a1e5" d="M507.6 210l2.6-1.2-2 .5-2.6 .5z"/>
<path color="#18aedb" d="M437.3 208.4l2.6-1.4-2-1-2.6 1.6z"/>
<path color="#2699ea" d="M491.2 209.7l2.6 .8-2 .4-2.6-.2z"/>
<path color="#21c1b0" d="M458.3 203.6l2.6 0-2-.5-2.6 .5z"/>
<path color="#1da8e0" d="M512.2 211.6l2.6-4.2-2-.4-2.6 1.8z"/>
<path color="#03b7cc" d="M441.9 207.3l2.6-3-2 .8-2.6 1.9z"/>
<path color="#2798ea" d="M495.8 210.6l2.6 0-2 .8-2.6-.9z"/>
<path color="#1baade" d="M516.8 210.2l2.6-1.2-2-1-2.6-.6z"/>
<path color="#0fbeba" d="M446.5 205.9l2.6-.9-2-1.9-2.6 1.2z"/>
<path color="#259de7" d="M500.4 209.8l2.6 .8-2-.1-2.6 .1z"/>
<path color="#18aedb" d="M430.1 208.8l2.6-.7-2-1.8-2.6 1.2z"/>
<path color="#1ea7e1" d="M521.4 209.9l2.6-.2-2-.9-2.6 .2z"/>
<path color="#16bfb7" d="M451.1 206l2.6-1.8-2-1.3-2.6 2.1z"/>
<path color="#249ee6" d="M505 211.7l2.6-1.7-2-.2-2.6 .8z"/>
<path color="#1aabdd" d="M434.7 209l2.6-.6-2-.8-2.6 .5z"/>
<path color="#23a1e4" d="M488.6 210.4l2.6-.7-2 1-2.6-1.1z"/>
<path color="#20a5e2" d="M526 210.1l2.6-.1-2-.1-2.6-.2z"/>
<path color="#26c2ad" d="M455.7 204l2.6-.4-2 0-2.6 .6z"/>
<path color="#239fe5" d="M509.6 211.9l2.6-.3-2-2.8-2.6 1.2z"/>
<path color="#13b0d7" d="M439.3 208.3l2.6-1-2-.3-2.6 1.4z"/>
<path color="#249ee6" d="M493.2 211.7l2.6-1.1-2-.1-2.6-.8z"/>
<path color="#21c1b0" d="M460.3 206.2l2.6-2-2-.6-2.6 0z"/>
<path color="#23a0e5" d="M514.2 213.7l2.6-3.5-2-2.8-2.6 4.2z"/>
<path color="#01b8c9" d="M443.9 208.7l2.6-2.8-2-1.6-2.6 3z"/>
<path color="#249ee6" d="M497.8 212.9l2.6-3.1-2 .8-2.6 0z"/>
<path color="#1da9e0" d="M518.8 210l2.6-.1-2-.9-2.6 1.2z"/>
<path color="#09bdbe" d="M448.5 206.3l2.6-.3-2-1-2.6 .9z"/>
<path color="#23a0e5" d="M502.4 211.5l2.6 .2-2-1.1-2.6-.8z"/>
<path color="#1aabdd" d="M432.1 209.9l2.6-.9-2-.9-2.6 .7z"/>
<path color="#1caadf" d="M523.4 210l2.6 .1-2-.4-2.6 .2z"/>
<path color="#24c2ae" d="M453.1 204.5l2.6-.5-2 .2-2.6 1.8z"/>
<path color="#259be8" d="M507 213.7l2.6-1.8-2-1.9-2.6 1.7z"/>
<path color="#19addc" d="M436.7 210.1l2.6-1.8-2 .1-2.6 .6z"/>
<path color="#21a3e4" d="M490.6 211.2l2.6 .5-2-2-2.6 .7z"/>
<path color="#1da9e0" d="M528 210.5l2.6 .1-2-.6-2.6 .1z"/>
<path color="#22c1b0" d="M457.7 206.5l2.6-.3-2-2.6-2.6 .4z"/>
<path color="#2796eb" d="M511.6 213.4l2.6 .3-2-2.1-2.6 .3z"/>
<path color="#12b1d6" d="M441.3 210l2.6-1.3-2-1.4-2.6 1z"/>
<path color="#2698ea" d="M495.2 214l2.6-1.1-2-2.3-2.6 1.1z"/>
<path color="#08bcbf" d="M462.4 208.3l2.6-.6-2.1-3.5-2.6 2z"/>
<path color="#22a1e4" d="M516.2 212l2.6-2-2 .2-2.6 3.5z"/>
<path color="#02b7cb" d="M445.9 209.9l2.6-3.6-2-.4-2.6 2.8z"/>
<path color="#249de6" d="M499.8 213.5l2.6-2-2-1.7-2.6 3.1z"/>
<path color="#17aeda" d="M520.8 210l2.6 0-2-.1-2.6 .1z"/>
<path color="#1cc0b3" d="M450.5 206.5l2.6-2-2 1.5-2.6 .3z"/>
<path color="#2699e9" d="M504.4 213.7l2.6 0-2-2-2.6-.2z"/>
<path color="#1aabde" d="M434.1 210.5l2.6-.4-2-1.1-2.6 .9z"/>
<path color="#1da8e0" d="M488 210.8l2.6 .4-2-.8-2.6 .1z"/>
<path color="#18aedb" d="M525.4 210.6l2.6-.1-2-.4-2.6-.1z"/>
<path color="#28c3ab" d="M455.1 206.3l2.6 .2-2-2.5-2.6 .5z"/>
<path color="#2797eb" d="M509 213.8l2.6-.4-2-1.5-2.6 1.8z"/>
<path color="#19addc" d="M438.7 211.1l2.6-1.1-2-1.7-2.6 1.8z"/>
<path color="#249fe6" d="M492.6 211.8l2.6 2.2-2-2.3-2.6-.5z"/>
<path color="#0cbdbc" d="M459.8 207.2l2.6 1.1-2.1-2.1-2.6 .3z"/>
<path color="#269ae9" d="M513.6 213.5l2.6-1.5-2 1.7-2.6-.3z"/>
<path color="#16afda" d="M443.3 210.8l2.6-.9-2-1.2-2.6 1.3z"/>
<path color="#2796eb" d="M497.2 213.6l2.6-.1-2-.6-2.6 1.1z"/>
<path color="#05bbc1" d="M464.4 207.7l2.6-.4-2 .4-2.6 .6z"/>
<path color="#19acdc" d="M518.2 211.6l2.6-1.6-2 0-2.6 2z"/>
<path color="#01b9c8" d="M447.9 210.4l2.6-3.9-2-.2-2.6 3.6z"/>
<path color="#269ae8" d="M501.8 214.4l2.6-.7-2-2.2-2.6 2z"/>
<path color="#19addc" d="M485.4 211.2l2.6-.4-2-.3-2.6-.1z"/>
<path color="#12b1d6" d="M522.8 211.1l2.6-.5-2-.6-2.6 0z"/>
<path color="#21c1b0" d="M452.5 208.6l2.6-2.3-2-1.8-2.6 2z"/>
<path color="#2896eb" d="M506.4 214.8l2.6-1-2-.1-2.6 0z"/>
<path color="#19acdc" d="M436.1 210.9l2.6 .2-2-1-2.6 .4z"/>
<path color="#1aabdd" d="M490 211l2.6 .8-2-.6-2.6-.4z"/>
<path color="#1ec0b2" d="M457.2 207.5l2.6-.3-2.1-.7-2.6-.2z"/>
<path color="#259be8" d="M511 213.9l2.6-.4-2-.1-2.6 .4z"/>
<path color="#18aedb" d="M440.7 210.9l2.6-.1-2-.8-2.6 1.1z"/>
<path color="#23a1e5" d="M494.6 212.2l2.6 1.4-2 .4-2.6-2.2z"/>
<path color="#12beb9" d="M461.8 207.7l2.6 0-2 .6-2.6-1.1z"/>
<path color="#20a4e3" d="M515.6 213.9l2.6-2.3-2 .4-2.6 1.5z"/>
<path color="#17aeda" d="M445.3 212.1l2.6-1.7-2-.5-2.6 .9z"/>
<path color="#259be8" d="M499.2 214.1l2.6 .3-2-.9-2.6 .1z"/>
<path color="#12b1d6" d="M482.8 211.1l2.6 .1-2-.8-2.6-.2z"/>
<path color="#10beba" d="M466.4 209.8l2.6-2.4-2-.1-2.6 .4z"/>
<path color="#14b0d8" d="M520.2 212.4l2.6-1.3-2-1.1-2.6 1.6z"/>
<path color="#01b9c7" d="M449.9 211.2l2.6-2.6-2-2.1-2.6 3.9z"/>
<path color="#2896ec" d="M503.8 216.1l2.6-1.3-2-1.1-2.6 .7z"/>
<path color="#10b2d5" d="M487.4 210.5l2.6 .5-2-.2-2.6 .4z"/>
<path color="#0ebebb" d="M471 209.9l2.6-.5-2-2.7-2.6 .7z"/>
<path color="#0fbeba" d="M454.6 210.7l2.6-3.2-2.1-1.2-2.6 2.3z"/>
<path color="#269ae8" d="M508.4 215.2l2.6-1.3-2-.1-2.6 1z"/>
<path color="#14b0d8" d="M438.1 211.5l2.6-.6-2 .2-2.6-.2z"/>
<path color="#16afd9" d="M492 211.5l2.6 .7-2-.4-2.6-.8z"/>
<path color="#04b6cd" d="M475.6 211l2.6-.1-2-1.1-2.6-.4z"/>
<path color="#1bc0b4" d="M459.2 209.4l2.6-1.7-2-.5-2.6 .3z"/>
<path color="#249fe5" d="M513 214.9l2.6-1-2-.4-2.6 .4z"/>
<path color="#17aeda" d="M442.7 212.4l2.6-.3-2-1.3-2.6 .1z"/>
<path color="#1fa6e2" d="M496.6 212.6l2.6 1.5-2-.5-2.6-1.4z"/>
<path color="#08b5d0" d="M480.2 211.1l2.6 0-2-.9-2.6 .7z"/>
<path color="#0dbdbc" d="M463.8 210.3l2.6-.5-2-2.1-2.6 0z"/>
<path color="#1da8e0" d="M517.6 214.6l2.6-2.2-2-.8-2.6 2.3z"/>
<path color="#18addb" d="M447.3 213.9l2.6-2.7-2-.8-2.6 1.7z"/>
<path color="#259ce7" d="M501.2 214.3l2.6 1.8-2-1.7-2.6-.3z"/>
<path color="#08b4d1" d="M484.8 211.7l2.6-1.2-2 .7-2.6-.1z"/>
<path color="#09bcbe" d="M468.4 210.2l2.6-.3-2-2.5-2.6 2.4z"/>
<path color="#06b5cf" d="M452 212.8l2.6-2.1-2.1-2.1-2.6 2.6z"/>
<path color="#2698ea" d="M505.8 215.3l2.6-.1-2-.4-2.6 1.3z"/>
<path color="#02b7cb" d="M489.4 210.3l2.6 1.2-2-.5-2.6-.5z"/>
<path color="#01bac5" d="M473 210.6l2.6 .4-2-1.6-2.6 .5z"/>
<path color="#01b9c6" d="M456.6 213.3l2.6-3.9-2-1.9-2.6 3.2z"/>
<path color="#249ee6" d="M510.4 215.6l2.6-.7-2-1-2.6 1.3z"/>
<path color="#13b0d7" d="M440.1 212.7l2.6-.3-2-1.5-2.6 .6z"/>
<path color="#12b1d7" d="M494 212.6l2.6 0-2-.4-2.6-.7z"/>
<path color="#01b8c8" d="M477.6 210l2.6 1.1-2-.2-2.6 .1z"/>
<path color="#09bcbe" d="M461.2 211.7l2.6-1.4-2-2.6-2.6 1.7z"/>
<path color="#23a0e5" d="M515 216l2.6-1.4-2-.7-2.6 1z"/>
<path color="#1baade" d="M444.7 213.8l2.6 .1-2-1.8-2.6 .3z"/>
<path color="#1ca9df" d="M498.6 213.4l2.6 .9-2-.2-2.6-1.5z"/>
<path color="#01b8ca" d="M482.2 210.8l2.6 .9-2-.6-2.6 0z"/>
<path color="#05bbc1" d="M465.8 210.9l2.6-.7-2-.4-2.6 .5z"/>
<path color="#19addc" d="M449.4 213.9l2.6-1.1-2.1-1.6-2.6 2.7z"/>
<path color="#22a1e4" d="M503.2 214.1l2.6 1.2-2 .8-2.6-1.8z"/>
<path color="#02bac5" d="M486.8 211.2l2.6-.9-2 .2-2.6 1.2z"/>
<path color="#09bdbe" d="M470.4 210.3l2.6 .3-2-.7-2.6 .3z"/>
<path color="#15afd9" d="M454 214.3l2.6-1-2-2.6-2.6 2.1z"/>
<path color="#249fe5" d="M507.8 215.6l2.6 0-2-.4-2.6 .1z"/>
<path color="#01b8c8" d="M491.4 211.5l2.6 1.1-2-1.1-2.6-1.2z"/>
<path color="#07bcbf" d="M475 211l2.6-1-2 1-2.6-.4z"/>
<path color="#03b7cc" d="M458.6 212.5l2.6-.8-2-2.3-2.6 3.9z"/>
<path color="#249ee6" d="M512.4 217l2.6-1-2-1.1-2.6 .7z"/>
<path color="#17aedb" d="M442.1 213.9l2.6-.1-2-1.4-2.6 .3z"/>
<path color="#0eb2d4" d="M496 213l2.6 .4-2-.8-2.6 0z"/>
<path color="#12beb9" d="M479.6 209.4l2.6 1.4-2 .3-2.6-1.1z"/>
<path color="#01b9c6" d="M463.2 212.9l2.6-2-2-.6-2.6 1.4z"/>
<path color="#1baade" d="M446.8 214.4l2.6-.5-2.1 0-2.6-.1z"/>
<path color="#1aacdd" d="M500.6 215l2.6-.9-2 .2-2.6-.9z"/>
<path color="#04bbc1" d="M484.2 211.5l2.6-.3-2 .5-2.6-.9z"/>
<path color="#07bcbf" d="M467.8 212.8l2.6-2.5-2-.1-2.6 .7z"/>
<path color="#19addc" d="M451.4 214.3l2.6 0-2-1.5-2.6 1.1z"/>
<path color="#1ea7e1" d="M505.2 215.4l2.6 .2-2-.3-2.6-1.2z"/>
<path color="#0fbebb" d="M488.8 210.7l2.6 .8-2-1.2-2.6 .9z"/>
<path color="#0fbeba" d="M472.4 211.6l2.6-.6-2-.4-2.6-.3z"/>
<path color="#12b1d6" d="M456 213.7l2.6-1.2-2 .8-2.6 1z"/>
<path color="#249fe5" d="M509.8 217.3l2.6-.3-2-1.4-2.6 0z"/>
<path color="#01b9c6" d="M493.4 211.9l2.6 1.1-2-.4-2.6-1.1z"/>
<path color="#1bc0b4" d="M477 211.9l2.6-2.5-2 .6-2.6 1z"/>
<path color="#01b8c9" d="M460.6 212.5l2.6 .4-2-1.2-2.6 .8z"/>
<path color="#19addc" d="M444.2 215.1l2.6-.7-2.1-.6-2.6 .1z"/>
<path color="#0db3d3" d="M498 213.6l2.6 1.4-2-1.6-2.6-.4z"/>
<path color="#19bfb5" d="M481.6 211.8l2.6-.3-2-.7-2.6-1.4z"/>
<path color="#02b7cb" d="M465.2 214.6l2.6-1.8-2-1.9-2.6 2z"/>
<path color="#19addc" d="M448.8 215.7l2.6-1.4-2-.4-2.6 .5z"/>
<path color="#1aacdd" d="M502.6 215.7l2.6-.3-2-1.3-2.6 .9z"/>
<path color="#12beb9" d="M486.2 212.5l2.6-1.8-2 .5-2.6 .3z"/>
<path color="#08bcbf" d="M469.8 213.1l2.6-1.5-2-1.3-2.6 2.5z"/>
<path color="#15afd9" d="M453.4 215.3l2.6-1.6-2 .6-2.6 0z"/>
<path color="#1fa6e2" d="M507.2 216.4l2.6 .9-2-1.7-2.6-.2z"/>
<path color="#1bc0b4" d="M490.8 211.1l2.6 .8-2-.4-2.6-.8z"/>
<path color="#1ac0b5" d="M474.4 210.7l2.6 1.2-2-.9-2.6 .6z"/>
<path color="#03b7cc" d="M458 214.6l2.6-2.1-2 0-2.6 1.2z"/>
<path color="#02bac4" d="M495.4 213.2l2.6 .4-2-.6-2.6-1.1z"/>
<path color="#18bfb6" d="M479 213.5l2.6-1.7-2-2.4-2.6 2.5z"/>
<path color="#04b6cc" d="M462.6 214.5l2.6 .1-2-1.7-2.6-.4z"/>
<path color="#19acdc" d="M446.2 216.1l2.6-.4-2-1.3-2.6 .7z"/>
<path color="#0db3d3" d="M500 214.3l2.6 1.4-2-.7-2.6-1.4z"/>
<path color="#12beb9" d="M483.6 212.8l2.6-.3-2-1-2.6 .3z"/>
<path color="#01b9c7" d="M467.2 213l2.6 .1-2-.3-2.6 1.8z"/>
<path color="#19addc" d="M450.8 216.5l2.6-1.2-2-1-2.6 1.4z"/>
<path color="#19addc" d="M504.6 215.8l2.6 .6-2-1-2.6 .3z"/>
<path color="#1fc0b2" d="M488.2 212.8l2.6-1.7-2-.4-2.6 1.8z"/>
<path color="#1bc0b4" d="M471.8 212.4l2.6-1.7-2 .9-2.6 1.5z"/>
<path color="#11b1d6" d="M455.4 216.4l2.6-1.8-2-.9-2.6 1.6z"/>
<path color="#1bc0b4" d="M492.8 212.9l2.6 .3-2-1.3-2.6-.8z"/>
<path color="#1ec0b2" d="M476.4 212l2.6 1.5-2-1.6-2.6-1.2z"/>
<path color="#02b7cb" d="M460 215.2l2.6-.7-2-2-2.6 2.1z"/>
<path color="#02bbc3" d="M497.4 214.1l2.6 .2-2-.7-2.6-.4z"/>
<path color="#0bbdbc" d="M481 214.4l2.6-1.6-2-1-2.6 1.7z"/>
<path color="#01b9c6" d="M464.6 213.5l2.6-.5-2 1.6-2.6-.1z"/>
<path color="#1aacdd" d="M448.2 216.8l2.6-.3-2-.8-2.6 .4z"/>
<path color="#06b5ce" d="M502 214.6l2.6 1.2-2-.1-2.6-1.4z"/>
<path color="#14beb8" d="M485.6 213.9l2.6-1.1-2-.3-2.6 .3z"/>
<path color="#18bfb6" d="M469.2 212.6l2.6-.2-2 .7-2.6-.1z"/>
<path color="#19acdc" d="M452.8 217.5l2.6-1.1-2-1.1-2.6 1.2z"/>
<path color="#1dc0b3" d="M490.2 214.5l2.6-1.6-2-1.8-2.6 1.7z"/>
<path color="#26c2ad" d="M473.8 214l2.6-2-2-1.3-2.6 1.7z"/>
<path color="#10b2d5" d="M457.4 217.2l2.6-2-2-.6-2.6 1.8z"/>
<path color="#13beb9" d="M494.8 214.1l2.6 0-2-.9-2.6-.3z"/>
<path color="#13beb8" d="M478.4 214l2.6 .4-2-.9-2.6-1.5z"/>
<path color="#01b9c7" d="M462 215.6l2.6-2.1-2 1-2.6 .7z"/>
<path color="#09bcbe" d="M499.4 214.1l2.6 .5-2-.3-2.6-.2z"/>
<path color="#0bbdbc" d="M483 215.2l2.6-1.3-2-1.1-2.6 1.6z"/>
<path color="#17bfb6" d="M466.6 214.8l2.6-2.2-2 .4-2.6 .5z"/>
<path color="#19acdc" d="M450.2 217.8l2.6-.3-2-1-2.6 .3z"/>
<path color="#0cbdbc" d="M487.6 215.9l2.6-1.4-2-1.7-2.6 1.1z"/>
<path color="#1ec0b2" d="M471.2 214.5l2.6-.5-2-1.6-2.6 .2z"/>
<path color="#19acdc" d="M454.8 218.5l2.6-1.3-2-.8-2.6 1.1z"/>
<path color="#17bfb7" d="M492.2 214.8l2.6-.7-2-1.2-2.6 1.6z"/>
<path color="#1ec0b2" d="M475.8 214.5l2.6-.5-2-2-2.6 2z"/>
<path color="#0fb2d4" d="M459.4 218.9l2.6-3.3-2-.4-2.6 2z"/>
<path color="#1abfb5" d="M496.8 214.4l2.6-.3-2 0-2.6 0z"/>
<path color="#0ebdbb" d="M480.4 215l2.6 .2-2-.8-2.6-.4z"/>
<path color="#02bac5" d="M464 217.8l2.6-3-2-1.3-2.6 2.1z"/>
<path color="#09bcbe" d="M485 215.6l2.6 .3-2-2-2.6 1.3z"/>
<path color="#13beb8" d="M468.6 216.5l2.6-2-2-1.9-2.6 2.2z"/>
<path color="#1aacdd" d="M452.2 218.7l2.6-.2-2-1-2.6 .3z"/>
<path color="#0ebdbb" d="M489.6 215.3l2.6-.5-2-.3-2.6 1.4z"/>
<path color="#16bfb7" d="M473.2 215.9l2.6-1.4-2-.5-2.6 .5z"/>
<path color="#1babde" d="M456.8 219.8l2.6-.9-2-1.7-2.6 1.3z"/>
<path color="#21c1b0" d="M494.2 214.5l2.6-.1-2-.3-2.6 .7z"/>
<path color="#19bfb5" d="M477.8 215.7l2.6-.7-2-1-2.6 .5z"/>
<path color="#13b0d7" d="M461.4 219.6l2.6-1.8-2-2.2-2.6 3.3z"/>
<path color="#13beb9" d="M482.4 215.6l2.6 0-2-.4-2.6-.2z"/>
<path color="#01b8ca" d="M466 218.4l2.6-1.9-2-1.7-2.6 3z"/>
<path color="#10beba" d="M487 216l2.6-.7-2 .6-2.6-.3z"/>
<path color="#09bcbe" d="M470.6 217.2l2.6-1.3-2-1.4-2.6 2z"/>
<path color="#1babde" d="M454.2 220l2.6-.2-2-1.3-2.6 .2z"/>
<path color="#25c2ae" d="M491.6 215.1l2.6-.6-2 .3-2.6 .5z"/>
<path color="#0dbdbb" d="M475.2 218l2.6-2.3-2-1.2-2.6 1.4z"/>
<path color="#1ca9df" d="M458.8 220.4l2.6-.8-2-.7-2.6 .9z"/>
<path color="#1cc0b3" d="M479.8 216l2.6-.4-2-.6-2.6 .7z"/>
<path color="#13b0d7" d="M463.4 219.6l2.6-1.2-2-.6-2.6 1.8z"/>
<path color="#1ac0b5" d="M484.4 216.6l2.6-.6-2-.4-2.6 0z"/>
<path color="#05b6ce" d="M468 220.6l2.6-3.4-2-.7-2.6 1.9z"/>
<path color="#22c1af" d="M489 216.6l2.6-1.5-2 .2-2.6 .7z"/>
<path color="#02bac4" d="M472.6 218.9l2.6-.9-2-2.1-2.6 1.3z"/>
<path color="#1baade" d="M456.2 220.7l2.6-.3-2-.6-2.6 .2z"/>
<path color="#10beba" d="M477.2 217.8l2.6-1.8-2-.3-2.6 2.3z"/>
<path color="#18aedb" d="M460.8 220.4l2.6-.8-2 0-2.6 .8z"/>
<path color="#22c1b0" d="M481.8 216.7l2.6-.1-2-1-2.6 .4z"/>
<path color="#18addb" d="M465.4 222.4l2.6-1.8-2-2.2-2.6 1.2z"/>
<path color="#1ec0b2" d="M486.4 217.5l2.6-.9-2-.6-2.6 .6z"/>
<path color="#0db3d3" d="M470 221.9l2.6-3-2-1.7-2.6 3.4z"/>
<path color="#02bac4" d="M474.6 219l2.6-1.2-2 .2-2.6 .9z"/>
<path color="#18aedb" d="M458.2 221.2l2.6-.8-2 0-2.6 .3z"/>
<path color="#1bc0b4" d="M479.2 218.5l2.6-1.8-2-.7-2.6 1.8z"/>
<path color="#19addc" d="M462.8 221.5l2.6 .9-2-2.8-2.6 .8z"/>
<path color="#1fc0b2" d="M483.8 218.5l2.6-1-2-.9-2.6 .1z"/>
<path color="#1ea8e1" d="M467.4 223.2l2.6-1.3-2-1.3-2.6 1.8z"/>
<path color="#07b5d0" d="M472 221.2l2.6-2.2-2-.1-2.6 3z"/>
<path color="#07bcc0" d="M476.6 220.5l2.6-2-2-.7-2.6 1.2z"/>
<path color="#15afd9" d="M460.2 222.4l2.6-.9-2-1.1-2.6 .8z"/>
<path color="#15bfb7" d="M481.2 220.1l2.6-1.6-2-1.8-2.6 1.8z"/>
<path color="#1ca9e0" d="M464.8 222.8l2.6 .4-2-.8-2.6-.9z"/>
<path color="#1aacdd" d="M469.4 223.3l2.6-2.1-2 .7-2.6 1.3z"/>
<path color="#05b6ce" d="M474 223.2l2.6-2.7-2-1.5-2.6 2.2z"/>
<path color="#02bac4" d="M478.6 221.9l2.6-1.8-2-1.6-2.6 2z"/>
<path color="#19addc" d="M462.2 223.8l2.6-1-2-1.3-2.6 .9z"/>
<path color="#1da9e0" d="M466.8 224.5l2.6-1.2-2-.1-2.6-.4z"/>
<path color="#19addc" d="M471.4 225l2.6-1.8-2-2-2.6 2.1z"/>
<path color="#0eb2d4" d="M476 224.5l2.6-2.6-2-1.4-2.6 2.7z"/>
<path color="#1da9e0" d="M464.2 225.4l2.6-.9-2-1.7-2.6 1z"/>
<path color="#1ea7e1" d="M468.8 225.9l2.6-.9-2-1.7-2.6 1.2z"/>
<path color="#1ca9df" d="M473.4 225.6l2.6-1.1-2-1.3-2.6 1.8z"/>
<path color="#20a5e2" d="M466.2 226.6l2.6-.7-2-1.4-2.6 .9z"/>
<path color="#20a5e3" d="M470.8 227l2.6-1.4-2-.6-2.6 .9z"/>
<path color="#21a3e3" d="M468.2 227.4l2.6-.4-2-1.1-2.6 .7z"/></g>
<text class="tk" x="416.6" y="180.5" text-anchor="end">2</text>
<text class="tk" x="416.6" y="196.1" text-anchor="end">1.5</text>
<text class="tk" x="416.6" y="211.8" text-anchor="end">1</text>
<text class="tk" x="416.6" y="227.6" text-anchor="end">0.5</text>
<text class="tk" x="418.8" y="240.3" text-anchor="middle">10</text>
<text class="tk" x="441.3" y="249.4" text-anchor="middle">5</text>
<text class="tk" x="461.2" y="258.9" text-anchor="middle">0</text>
<text class="tk" x="475.1" y="259.4" text-anchor="middle">0</text>
<text class="tk" x="501.2" y="252.6" text-anchor="middle">5</text>
<text class="tk" x="530.0" y="245.3" text-anchor="middle">10</text>
<text class="lb" transform="translate(398.0 201.8) rotate(-90)" text-anchor="middle">f(x,y) (%)</text>
<text class="lb" x="397.2" y="268.2">y-axis</text>
<text class="lb" x="508.7" y="269.5">x-axis</text>
<text class="cp cb" x="383.8" y="284.9" textLength="12.4" lengthAdjust="spacingAndGlyphs">(f)</text>
<text class="cp" x="402.2" y="284.9" textLength="18.4" lengthAdjust="spacingAndGlyphs">Field</text>
<text class="cp" x="426.1" y="284.9" textLength="8.5" lengthAdjust="spacingAndGlyphs">B:</text>
<text class="cp" x="438.0" y="284.9" textLength="8.1" lengthAdjust="spacingAndGlyphs"><tspan class="it">μ</tspan><tspan class="it" font-size="6.2" dy="-3.3">B</tspan></text>
<text class="cp eq" x="454.9" y="284.9" textLength="7.1" lengthAdjust="spacingAndGlyphs">=</text>
<text class="cp" x="469.1" y="284.9" textLength="25.7" lengthAdjust="spacingAndGlyphs">1.05%,</text>
<text class="cp" x="495.7" y="284.9" textLength="10.0" lengthAdjust="spacingAndGlyphs"><tspan class="it">σ</tspan><tspan class="it" font-size="6.2" dy="-3.3">B</tspan></text>
<text class="cp eq" x="513.8" y="284.9" textLength="6.1" lengthAdjust="spacingAndGlyphs">=</text>
<text class="cp" x="527.6" y="284.9" textLength="18.5" lengthAdjust="spacingAndGlyphs">0.2%,</text>
<text class="cp it" x="384.0" y="295.2" textLength="5.0" lengthAdjust="spacingAndGlyphs">â</text>
<text class="cp eq" x="390.9" y="295.2" textLength="6.3" lengthAdjust="spacingAndGlyphs">=</text>
<text class="cp" x="400.4" y="295.2" textLength="8.3" lengthAdjust="spacingAndGlyphs">24</text>
<text class="cp" x="409.2" y="295.2" textLength="13.4" lengthAdjust="spacingAndGlyphs">μm</text>
</g>
<g>
<path class="gm" d="M91.6 402.6L43.5 380.3M43.5 380.3L43.5 332.8M91.6 402.6L154.0 386.2M154.0 386.2L154.0 338.7M97.0 401.2L48.9 378.9M48.9 378.9L48.9 331.4M87.4 400.7L149.8 384.3M149.8 384.3L149.8 336.8M102.5 399.7L54.4 377.4M54.4 377.4L54.4 329.9M83.2 398.7L145.6 382.3M145.6 382.3L145.6 334.8M107.9 398.3L59.8 376.0M59.8 376.0L59.8 328.5M79.1 396.8L141.5 380.4M141.5 380.4L141.5 332.9M113.3 396.9L65.2 374.6M65.2 374.6L65.2 327.1M74.9 394.8L137.3 378.4M137.3 378.4L137.3 330.9M118.7 395.5L70.6 373.2M70.6 373.2L70.6 325.7M70.7 392.9L133.1 376.5M133.1 376.5L133.1 329.0M124.2 394.0L76.1 371.7M76.1 371.7L76.1 324.2M66.5 391.0L128.9 374.6M128.9 374.6L128.9 327.1M129.6 392.6L81.5 370.3M81.5 370.3L81.5 322.8M62.3 389.0L124.7 372.6M124.7 372.6L124.7 325.1M135.0 391.2L86.9 368.9M86.9 368.9L86.9 321.4M58.1 387.1L120.5 370.7M120.5 370.7L120.5 323.2M140.4 389.8L92.3 367.5M92.3 367.5L92.3 320.0M54.0 385.1L116.4 368.7M116.4 368.7L116.4 321.2M145.9 388.3L97.8 366.0M97.8 366.0L97.8 318.5M49.8 383.2L112.2 366.8M112.2 366.8L112.2 319.3M151.3 386.9L103.2 364.6M103.2 364.6L103.2 317.1M45.6 381.3L108.0 364.9M108.0 364.9L108.0 317.4M43.5 380.3L105.9 363.9M105.9 363.9L154.0 386.2M43.5 377.1L105.9 360.7M105.9 360.7L154.0 383.0M43.5 374.0L105.9 357.6M105.9 357.6L154.0 379.9M43.5 370.8L105.9 354.4M105.9 354.4L154.0 376.7M43.5 367.6L105.9 351.2M105.9 351.2L154.0 373.5M43.5 364.5L105.9 348.1M105.9 348.1L154.0 370.4M43.5 361.3L105.9 344.9M105.9 344.9L154.0 367.2M43.5 358.1L105.9 341.7M105.9 341.7L154.0 364.0M43.5 355.0L105.9 338.6M105.9 338.6L154.0 360.9M43.5 351.8L105.9 335.4M105.9 335.4L154.0 357.7M43.5 348.6L105.9 332.2M105.9 332.2L154.0 354.5M43.5 345.5L105.9 329.1M105.9 329.1L154.0 351.4M43.5 342.3L105.9 325.9M105.9 325.9L154.0 348.2M43.5 339.1L105.9 322.7M105.9 322.7L154.0 345.0M43.5 336.0L105.9 319.6M105.9 319.6L154.0 341.9M43.5 332.8L105.9 316.4M105.9 316.4L154.0 338.7"/>
<path class="gM" d="M91.6 402.6L43.5 380.3M43.5 380.3L43.5 332.8M91.6 402.6L154.0 386.2M154.0 386.2L154.0 338.7M118.7 395.5L70.6 373.2M70.6 373.2L70.6 325.7M70.7 392.9L133.1 376.5M133.1 376.5L133.1 329.0M145.9 388.3L97.8 366.0M97.8 366.0L97.8 318.5M49.8 383.2L112.2 366.8M112.2 366.8L112.2 319.3M43.5 380.3L105.9 363.9M105.9 363.9L154.0 386.2M43.5 364.5L105.9 348.1M105.9 348.1L154.0 370.4M43.5 348.6L105.9 332.2M105.9 332.2L154.0 354.5M43.5 332.8L105.9 316.4M105.9 316.4L154.0 338.7"/>
<path class="ax" d="M43.5 380.3L43.5 332.8M43.5 380.3L91.6 402.6M91.6 402.6L154.0 386.2M91.6 402.6L90.3 402.0M91.6 402.6L93.2 402.2M118.7 395.5L117.5 394.9M70.7 392.9L72.3 392.5M145.9 388.3L144.6 387.8M49.8 383.2L51.4 382.8M43.5 380.3L45.1 379.9M43.5 364.5L45.1 364.0M43.5 348.6L45.1 348.2M43.5 332.8L45.1 332.4"/>
<g class="s"><path color="#2fc5a3" d="M105.3 341l2.6-1.1-2-2.9-2.6 2.4z"/>
<path color="#13beb8" d="M102.7 344.4l2.6-3.4-2-1.6-2.6 3.4z"/>
<path color="#24c1ae" d="M107.3 341.7l2.6 .7-2-2.5-2.6 1.1z"/>
<path color="#14b0d8" d="M100.1 348.6l2.6-4.2-2-1.6-2.6 4.3z"/>
<path color="#0ebdbb" d="M104.7 345.2l2.6-3.5-2-.7-2.6 3.4z"/>
<path color="#0bbdbd" d="M109.3 345.5l2.6-1.2-2-1.9-2.6-.7z"/>
<path color="#2797eb" d="M97.5 353.9l2.6-5.3-2-1.5-2.6 3.2z"/>
<path color="#18aedb" d="M102.1 349.7l2.6-4.5-2-.8-2.6 4.2z"/>
<path color="#02bac4" d="M106.7 346.8l2.6-1.3-2-3.8-2.6 3.5z"/>
<path color="#0fbebb" d="M111.3 343.6l2.6-.2-2 .9-2.6 1.2z"/>
<path color="#3578fd" d="M94.9 357.4l2.6-3.5-2-3.6-2.6 4.8z"/>
<path color="#2c8ef1" d="M99.5 355.4l2.6-5.7-2-1.1-2.6 5.3z"/>
<path color="#1aacdd" d="M104.1 350.9l2.6-4.1-2-1.6-2.6 4.5z"/>
<path color="#01b9c7" d="M108.7 348.4l2.6-4.8-2 1.9-2.6 1.3z"/>
<path color="#4563fc" d="M92.3 359.6l2.6-2.2-2-2.3-2.6 1.3z"/>
<path color="#4ccb83" d="M113.3 336.7l2.6 2.7-2 4-2.6 .2z"/>
<path color="#416bfe" d="M96.9 359.1l2.6-3.7-2-1.5-2.6 3.5z"/>
<path color="#2d89f5" d="M101.5 357.7l2.6-6.8-2-1.2-2.6 5.7z"/>
<path color="#1aacdd" d="M106.1 350.5l2.6-2.1-2-1.6-2.6 4.1z"/>
<path color="#416cfe" d="M89.7 356.1l2.6 3.5-2-3.2-2.6-1.3z"/>
<path color="#4dcc82" d="M110.7 336.9l2.6-.2-2 6.9-2.6 4.8z"/>
<path color="#4755f6" d="M94.3 362l2.6-2.9-2-1.7-2.6 2.2z"/>
<path color="#9ac946" d="M115.3 338.8l2.6-1-2 1.6-2.6-2.7z"/>
<path color="#4660fb" d="M98.9 362.2l2.6-4.5-2-2.3-2.6 3.7z"/>
<path color="#2c8ef1" d="M103.5 356.2l2.6-5.7-2 .4-2.6 6.8z"/>
<path color="#2e85f8" d="M87.1 354.7l2.6 1.4-2-1-2.6-1.7z"/>
<path color="#29c3a9" d="M108.1 344l2.6-7.1-2 11.5-2.6 2.1z"/>
<path color="#465ffb" d="M91.7 358.8l2.6 3.2-2-2.4-2.6-3.5z"/>
<path color="#bec32e" d="M112.7 336.2l2.6 2.6-2-2.1-2.6 .2z"/>
<path color="#4747eb" d="M96.3 365.2l2.6-3-2-3.1-2.6 2.9z"/>
<path color="#87cb54" d="M117.3 342.7l2.6-2.3-2-2.6-2.6 1z"/>
<path color="#3a73fe" d="M100.9 353.8l2.6 2.4-2 1.5-2.6 4.5z"/>
<path color="#2e84f9" d="M84.5 358.5l2.6-3.8-2-1.3-2.6 2.8z"/>
<path color="#1da9e0" d="M105.5 354.3l2.6-10.3-2 6.5-2.6 5.7z"/>
<path color="#3876fe" d="M89.1 359.9l2.6-1.1-2-2.7-2.6-1.4z"/>
<path color="#90ca4d" d="M110.1 342.6l2.6-6.4-2 .7-2.6 7.1z"/>
<path color="#484ff1" d="M93.7 361.6l2.6 3.6-2-3.2-2.6-3.2z"/>
<path color="#90ca4d" d="M114.7 343.2l2.6-.5-2-3.9-2.6-2.6z"/>
<path color="#4563fd" d="M98.3 358.3l2.6-4.5-2 8.4-2.6 3z"/>
<path color="#3080fa" d="M81.9 356.7l2.6 1.8-2-2.3-2.6-.5z"/>
<path color="#86cb55" d="M119.3 342.9l2.6-5.2-2 2.7-2.6 2.3z"/>
<path color="#2b92ef" d="M102.9 355.7l2.6-1.4-2 1.9-2.6-2.4z"/>
<path color="#416afe" d="M86.5 363.9l2.6-4-2-5.2-2.6 3.8z"/>
<path color="#25c2ad" d="M107.5 346.8l2.6-4.2-2 1.4-2.6 10.3z"/>
<path color="#4563fd" d="M91.1 360.8l2.6 .8-2-2.8-2.6 1.1z"/>
<path color="#5dcc75" d="M112.1 350.6l2.6-7.4-2-7-2.6 6.4z"/>
<path color="#465dfb" d="M95.7 359.5l2.6-1.2-2 6.9-2.6-3.6z"/>
<path color="#2b91ef" d="M79.3 353.9l2.6 2.8-2-1-2.6-.1z"/>
<path color="#55cc7b" d="M116.7 346.5l2.6-3.6-2-.2-2.6 .5z"/>
<path color="#2e83f9" d="M100.3 361.9l2.6-6.2-2-1.9-2.6 4.5z"/>
<path color="#406cfe" d="M83.9 359.8l2.6 4.1-2-5.4-2.6-1.8z"/>
<path color="#c9c129" d="M121.3 338.7l2.6-3.2-2 2.2-2.6 5.2z"/>
<path color="#1da9e0" d="M104.9 354.6l2.6-7.8-2 7.5-2.6 1.4z"/>
<path color="#4854f5" d="M88.5 366.2l2.6-5.4-2-.9-2.6 4z"/>
<path color="#29c3aa" d="M109.5 350.1l2.6 .5-2-8-2.6 4.2z"/>
<path color="#3b73fe" d="M93.1 356.3l2.6 3.2-2 2.1-2.6-.8z"/>
<path color="#23a1e4" d="M76.7 354.1l2.6-.2-2 1.7-2.6-2.9z"/>
<path color="#28c3aa" d="M114.1 351.1l2.6-4.6-2-3.3-2.6 7.4z"/>
<path color="#4563fd" d="M97.7 366l2.6-4.1-2-3.6-2.6 1.2z"/>
<path color="#2a93ed" d="M81.3 354l2.6 5.8-2-3.1-2.6-2.8z"/>
<path color="#80cc59" d="M118.7 343.1l2.6-4.4-2 4.2-2.6 3.6z"/>
<path color="#2d8af4" d="M102.3 357.6l2.6-3-2 1.1-2.6 6.2z"/>
<path color="#406cfe" d="M85.9 352.8l2.6 13.4-2-2.3-2.6-4.1z"/>
<path color="#d8be28" d="M123.3 341.7l2.6-2.5-2-3.7-2.6 3.2z"/>
<path color="#19addc" d="M106.9 361.1l2.6-11-2-3.3-2.6 7.8z"/>
<path color="#4369fe" d="M90.5 361.9l2.6-5.6-2 4.5-2.6 5.4z"/>
<path color="#1ea7e1" d="M74.1 355.5l2.6-1.4-2-1.4-2.6 .7z"/>
<path color="#09bcbe" d="M111.5 349.3l2.6 1.8-2-.5-2.6-.5z"/>
<path color="#3974fe" d="M95.1 359.5l2.6 6.5-2-6.5-2.6-3.2z"/>
<path color="#18aedb" d="M78.7 350.7l2.6 3.3-2-.1-2.6 .2z"/>
<path color="#37c898" d="M116.1 348.4l2.6-5.3-2 3.4-2.6 4.6z"/>
<path color="#465dfa" d="M99.7 366.7l2.6-9.1-2 4.3-2.6 4.1z"/>
<path color="#20a4e3" d="M83.3 352.6l2.6 .2-2 7-2.6-5.8z"/>
<path color="#a7c73c" d="M120.7 344.4l2.6-2.7-2-3-2.6 4.4z"/>
<path color="#2d89f6" d="M104.3 361.1l2.6 0-2-6.5-2.6 3z"/>
<path color="#2e84f8" d="M87.9 355.4l2.6 6.5-2 4.3-2.6-13.4z"/>
<path color="#18addb" d="M71.5 353.2l2.6 2.3-2-2.1-2.6-1.1z"/>
<path color="#d9be28" d="M125.3 339.7l2.6-1.7-2 1.2-2.6 2.5z"/>
<path color="#19acdc" d="M108.9 356.1l2.6-6.8-2 .8-2.6 11z"/>
<path color="#2d8df2" d="M92.5 355.4l2.6 4.1-2-3.2-2.6 5.6z"/>
<path color="#18aedb" d="M76.1 354.9l2.6-4.2-2 3.4-2.6 1.4z"/>
<path color="#2fc5a3" d="M113.5 346.5l2.6 1.9-2 2.7-2.6-1.8z"/>
<path color="#4464fd" d="M97.1 359.7l2.6 7-2-.7-2.6-6.5z"/>
<path color="#01b8c9" d="M80.7 351.4l2.6 1.2-2 1.4-2.6-3.3z"/>
<path color="#50cc7f" d="M118.1 350.4l2.6-6-2-1.3-2.6 5.3z"/>
<path color="#4367fd" d="M101.7 366.2l2.6-5.1-2-3.5-2.6 9.1z"/>
<path color="#07b5cf" d="M85.3 351.2l2.6 4.2-2-2.6-2.6-.2z"/>
<path color="#07b5d0" d="M68.9 353.5l2.6-.3-2-.9-2.6 .7z"/>
<path color="#a4c83e" d="M122.7 346.4l2.6-6.7-2 2-2.6 2.7z"/>
<path color="#2d89f6" d="M106.3 359.9l2.6-3.8-2 5-2.6 0z"/>
<path color="#22a2e4" d="M89.9 352.2l2.6 3.2-2 6.5-2.6-6.5z"/>
<path color="#13b0d7" d="M73.5 352.7l2.6 2.2-2 .6-2.6-2.3z"/>
<path color="#f3ba38" d="M127.3 339.7l2.7-1.5-2.1-.2-2.6 1.7z"/>
<path color="#10beba" d="M110.9 354.4l2.6-7.9-2 2.8-2.6 6.8z"/>
<path color="#2c8ff1" d="M94.5 361.5l2.6-1.8-2-.2-2.6-4.1z"/>
<path color="#02bac4" d="M78.1 352.3l2.6-.9-2-.7-2.6 4.2z"/>
<path color="#2fc5a3" d="M115.5 353.7l2.6-3.3-2-2-2.6-1.9z"/>
<path color="#465ffb" d="M99.1 365.3l2.6 .9-2 .5-2.6-7z"/>
<path color="#0ebebb" d="M82.7 351.7l2.6-.5-2 1.4-2.6-1.2z"/>
<path color="#20c1b1" d="M66.3 348.4l2.6 5.1-2-.5-2.6-4.8z"/>
<path color="#5acc78" d="M120.1 347l2.6-.6-2-2-2.6 6z"/>
<path color="#327cfc" d="M103.7 359.6l2.6 .3-2 1.2-2.6 5.1z"/>
<path color="#01b8c9" d="M87.3 354.3l2.6-2.1-2 3.2-2.6-4.2z"/>
<path color="#01b9c6" d="M70.9 352.4l2.6 .3-2 .5-2.6 .3z"/>
<path color="#b1c635" d="M124.8 347.6l2.5-7.9-2 0-2.6 6.7z"/>
<path color="#249ee6" d="M108.3 361l2.6-6.6-2 1.7-2.6 3.8z"/>
<path color="#1babde" d="M91.9 354.8l2.6 6.7-2-6.1-2.6-3.2z"/>
<path color="#05bbc1" d="M75.5 350.9l2.6 1.4-2 2.6-2.6-2.2z"/>
<path color="#e4bb2c" d="M129.4 344.4l2.6-3.2-2-3-2.7 1.5z"/>
<path color="#01b9c7" d="M112.9 360.3l2.6-6.6-2-7.2-2.6 7.9z"/>
<path color="#317dfc" d="M96.5 361.5l2.6 3.8-2-5.6-2.6 1.8z"/>
<path color="#25c2ad" d="M80.1 349.5l2.6 2.2-2-.3-2.6 .9z"/>
<path color="#3fca8e" d="M63.7 348.4l2.6 0-2-.2-2.6 1.7z"/>
<path color="#1cc0b3" d="M117.5 357.4l2.6-10.4-2 3.4-2.6 3.3z"/>
<path color="#4561fc" d="M101.1 369.6l2.6-10-2 6.6-2.6-.9z"/>
<path color="#19bfb5" d="M84.7 351.4l2.6 2.9-2-3.1-2.6 .5z"/>
<path color="#25c2ad" d="M68.3 351.4l2.6 1-2 1.1-2.6-5.1z"/>
<path color="#65cd6e" d="M122.2 348.7l2.6-1.1-2.1-1.2-2.6 .6z"/>
<path color="#2d89f5" d="M105.7 364.1l2.6-3.1-2-1.1-2.6-.3z"/>
<path color="#01b8c9" d="M89.3 355.5l2.6-.7-2-2.6-2.6 2.1z"/>
<path color="#24c1ae" d="M72.9 350.8l2.6 .1-2 1.8-2.6-.3z"/>
<path color="#9fc942" d="M126.8 348.8l2.6-4.4-2.1-4.7-2.5 7.9z"/>
<path color="#2d8bf4" d="M110.3 369l2.6-8.7-2-5.9-2.6 6.6z"/>
<path color="#259de7" d="M93.9 357.4l2.6 4.1-2 0-2.6-6.7z"/>
<path color="#44cb89" d="M77.5 343.9l2.6 5.6-2 2.8-2.6-1.4z"/>
<path color="#9fc941" d="M131.4 348.6l2.6-1.4-2-6-2.6 3.2z"/>
<path color="#45cb89" d="M61.1 349.4l2.6-1-2 1.5-2.6-1.3z"/>
<path color="#23a0e5" d="M114.9 363.3l2.6-5.9-2-3.7-2.6 6.6z"/>
<path color="#4562fc" d="M98.5 366.8l2.6 2.8-2-4.3-2.6-3.8z"/>
<path color="#32c69e" d="M82.1 351l2.6 .4-2 .3-2.6-2.2z"/>
<path color="#44cb89" d="M65.7 349.3l2.6 2.1-2-3-2.6 0z"/>
<path color="#2bc3a8" d="M119.6 355.1l2.6-6.4-2.1-1.7-2.6 10.4z"/>
<path color="#4466fd" d="M103.1 368.8l2.6-4.7-2-4.5-2.6 10z"/>
<path color="#22c1b0" d="M86.7 349.2l2.6 6.3-2-1.2-2.6-2.9z"/>
<path color="#38c896" d="M70.3 347.1l2.6 3.7-2 1.6-2.6-1z"/>
<path color="#5acc78" d="M124.2 350.5l2.6-1.7-2-1.2-2.6 1.1z"/>
<path color="#4464fd" d="M107.7 369.8l2.6-.8-2-8-2.6 3.1z"/>
<path color="#14b0d8" d="M91.3 359.5l2.6-2.1-2-2.6-2.6 .7z"/>
<path color="#8fcb4e" d="M74.9 339.7l2.6 4.2-2 7-2.6-.1z"/>
<path color="#55cc7c" d="M128.8 355.7l2.6-7.1-2-4.2-2.6 4.4z"/>
<path color="#55cc7c" d="M58.5 348.9l2.6 .5-2-.8-2.6 .2z"/>
<path color="#4465fd" d="M112.3 371.8l2.6-8.5-2-3-2.6 8.7z"/>
<path color="#2797eb" d="M95.9 356.3l2.6 10.5-2-5.3-2.6-4.1z"/>
<path color="#52cc7e" d="M79.5 353.1l2.6-2.1-2-1.5-2.6-5.6z"/>
<path color="#3bc992" d="M133.4 355.3l2.6-2-2-6.1-2.6 1.4z"/>
<path color="#50cc80" d="M63.1 350.6l2.6-1.3-2-.9-2.6 1z"/>
<path color="#269ae8" d="M117 365.9l2.6-10.8-2.1 2.3-2.6 5.9z"/>
<path color="#4850f2" d="M100.5 369.7l2.6-.9-2 .8-2.6-2.8z"/>
<path color="#52cc7e" d="M84.1 346.9l2.6 2.3-2 2.2-2.6-.4z"/>
<path color="#6bcd69" d="M67.7 345.5l2.6 1.6-2 4.3-2.6-2.1z"/>
<path color="#33c79c" d="M121.6 353.8l2.6-3.3-2-1.8-2.6 6.4z"/>
<path color="#4756f7" d="M105.1 370.4l2.6-.6-2-5.7-2.6 4.7z"/>
<path color="#1ec0b2" d="M88.7 350.7l2.6 8.8-2-4-2.6-6.3z"/>
<path color="#b2c635" d="M72.3 344.1l2.6-4.4-2 11.1-2.6-3.7z"/>
<path color="#1dc0b3" d="M126.2 361.6l2.6-5.9-2-6.9-2.6 1.7z"/>
<path color="#4ecc81" d="M55.9 353l2.6-4.1-2-.1-2.6 .3z"/>
<path color="#484ff2" d="M109.7 366.6l2.6 5.2-2-2.8-2.6 .8z"/>
<path color="#13b0d8" d="M93.3 357.4l2.6-1.1-2 1.1-2.6 2.1z"/>
<path color="#bcc42f" d="M76.9 344.1l2.6 9-2-9.2-2.6-4.2z"/>
<path color="#1fc1b1" d="M130.8 357.4l2.6-2.1-2-6.7-2.6 7.1z"/>
<path color="#55cc7c" d="M60.5 350.5l2.6 .1-2-1.2-2.6-.5z"/>
<path color="#4368fe" d="M114.3 366l2.7-.1-2.1-2.6-2.6 8.5z"/>
<path color="#2e83f9" d="M97.9 362.4l2.6 7.3-2-2.9-2.6-10.5z"/>
<path color="#6dcd67" d="M81.5 344.9l2.6 2-2 4.1-2.6 2.1z"/>
<path color="#1ec0b2" d="M135.4 356.2l2.6-2.7-2-.2-2.6 2z"/>
<path color="#91ca4d" d="M65.1 344.2l2.6 1.3-2 3.8-2.6 1.3z"/>
<path color="#23a0e5" d="M119 367.4l2.6-13.6-2 1.3-2.6 10.8z"/>
<path color="#4757f7" d="M102.5 366.6l2.6 3.8-2-1.6-2.6 .9z"/>
<path color="#6ecd67" d="M86.1 350l2.6 .7-2-1.5-2.6-2.3z"/>
<path color="#b9c431" d="M69.7 346.5l2.6-2.4-2 3-2.6-1.6z"/>
<path color="#11b1d6" d="M123.6 366.9l2.6-5.3-2-11.1-2.6 3.3z"/>
<path color="#37c898" d="M53.3 353.8l2.6-.8-2-3.9-2.6 3.5z"/>
<path color="#4562fc" d="M107.1 364.3l2.6 2.3-2 3.2-2.6 .6z"/>
<path color="#15bfb7" d="M90.7 352.9l2.6 4.5-2 2.1-2.6-8.8z"/>
<path color="#e4bb2c" d="M74.3 346.6l2.6-2.5-2-4.4-2.6 4.4z"/>
<path color="#1fa6e1" d="M128.2 366l2.6-8.6-2-1.7-2.6 5.9z"/>
<path color="#41ca8c" d="M57.9 354l2.6-3.5-2-1.6-2.6 4.1z"/>
<path color="#4269fe" d="M111.8 364.9l2.5 1.1-2 5.8-2.6-5.2z"/>
<path color="#97ca47" d="M78.9 349.2l2.6-4.3-2 8.2-2.6-9z"/>
<path color="#04bbc1" d="M132.8 357.8l2.6-1.6-2-.9-2.6 2.1z"/>
<path color="#90ca4d" d="M62.5 347.1l2.6-2.9-2 6.4-2.6-.1z"/>
<path color="#317efb" d="M116.4 362.3l2.6 5.1-2-1.5-2.7 .1z"/>
<path color="#abc739" d="M83.5 347l2.6 3-2-3.1-2.6-2z"/>
<path color="#15bfb7" d="M137.4 357.5l2.6-.7-2-3.3-2.6 2.7z"/>
<path color="#cac129" d="M67.1 346.3l2.6 .2-2-1-2.6-1.3z"/>
<path color="#347afd" d="M121 376.2l2.6-9.3-2-13.1-2.6 13.6z"/>
<path color="#11beba" d="M50.7 359.7l2.6-5.9-2-1.2-2.6 3.9z"/>
<path color="#76cc61" d="M88.1 345.5l2.6 7.4-2-2.2-2.6-.7z"/>
<path color="#a0c841" d="M71.7 354.2l2.6-7.6-2-2.5-2.6 2.4z"/>
<path color="#2f81fa" d="M125.6 367.6l2.6-1.6-2-4.4-2.6 5.3z"/>
<path color="#33c79d" d="M55.3 353l2.6 1-2-1-2.6 .8z"/>
<path color="#327cfc" d="M109.2 368.4l2.6-3.5-2.1 1.7-2.6-2.3z"/>
<path color="#b8c431" d="M76.3 348.1l2.6 1.1-2-5.1-2.6 2.5z"/>
<path color="#249ee6" d="M130.2 367.5l2.6-9.7-2-.4-2.6 8.6z"/>
<path color="#68cd6c" d="M59.9 350.7l2.6-3.6-2 3.4-2.6 3.5z"/>
<path color="#2a93ed" d="M113.8 361.2l2.6 1.1-2.1 3.7-2.5-1.1z"/>
<path color="#b2c535" d="M80.9 349.1l2.6-2.1-2-2.1-2.6 4.3z"/>
<path color="#02bbc3" d="M134.8 359.5l2.6-2-2-1.3-2.6 1.6z"/>
<path color="#d1bf27" d="M64.5 346.1l2.6 .2-2-2.1-2.6 2.9z"/>
<path color="#4561fc" d="M118.4 371.6l2.6 4.6-2-8.8-2.6-5.1z"/>
<path color="#1da8e0" d="M48.1 364.4l2.6-4.7-2-3.2-2.6 5.1z"/>
<path color="#b5c533" d="M85.5 348l2.6-2.5-2 4.5-2.6-3z"/>
<path color="#0dbdbb" d="M139.4 359l2.6-3.2-2 1-2.6 .7z"/>
<path color="#90ca4d" d="M69.1 350.1l2.6 4.1-2-7.7-2.6-.2z"/>
<path color="#4758f8" d="M123 371.8l2.6-4.2-2-.7-2.6 9.3z"/>
<path color="#22c1b0" d="M52.7 356.3l2.6-3.3-2 .8-2.6 5.9z"/>
<path color="#67cd6d" d="M73.7 356.4l2.6-8.3-2-1.5-2.6 7.6z"/>
<path color="#3a74fe" d="M127.6 370.3l2.6-2.8-2-1.5-2.6 1.6z"/>
<path color="#4acb85" d="M57.3 353.1l2.6-2.4-2 3.3-2.6-1z"/>
<path color="#2e87f7" d="M111.2 368.5l2.6-7.3-2 3.7-2.6 3.5z"/>
<path color="#a4c83e" d="M78.3 349.2l2.6-.1-2 .1-2.6-1.1z"/>
<path color="#22a2e4" d="M132.2 365.8l2.6-6.3-2-1.7-2.6 9.7z"/>
<path color="#a8c73b" d="M61.9 350.8l2.6-4.7-2 1-2.6 3.6z"/>
<path color="#2d89f5" d="M115.8 367.8l2.6 3.8-2-9.3-2.6-1.1z"/>
<path color="#249ee6" d="M45.5 363.1l2.6 1.3-2-2.8-2.6-.1z"/>
<path color="#acc738" d="M82.9 350.9l2.6-2.9-2-1-2.6 2.1z"/>
<path color="#01b8ca" d="M136.8 361.5l2.6-2.5-2-1.5-2.6 2z"/>
<path color="#b9c431" d="M66.5 349.9l2.6 .2-2-3.8-2.6-.2z"/>
<path color="#484aee" d="M120.4 371.8l2.6 0-2 4.4-2.6-4.6z"/>
<path color="#12b1d6" d="M50.1 359.9l2.6-3.6-2 3.4-2.6 4.7z"/>
<path color="#29c3a9" d="M141.4 357.9l2.6-4.2-2 2.1-2.6 3.2z"/>
<path color="#58cc79" d="M71.1 350.2l2.6 6.2-2-2.2-2.6-4.1z"/>
<path color="#465efb" d="M125 373.6l2.6-3.3-2-2.7-2.6 4.2z"/>
<path color="#32c69e" d="M54.7 358.2l2.6-5.1-2-.1-2.6 3.3z"/>
<path color="#8acb52" d="M75.7 349.3l2.6-.1-2-1.1-2.6 8.3z"/>
<path color="#3a74fe" d="M129.6 371.7l2.6-5.9-2 1.7-2.6 2.8z"/>
<path color="#76cc60" d="M59.3 351.4l2.6-.6-2-.1-2.6 2.4z"/>
<path color="#2d8bf4" d="M113.2 367.4l2.6 .4-2-6.6-2.6 7.3z"/>
<path color="#9cc944" d="M80.3 351.5l2.6-.6-2-1.8-2.6 .1z"/>
<path color="#1ea7e1" d="M134.2 364.6l2.6-3.1-2-2-2.6 6.3z"/>
<path color="#91ca4c" d="M63.9 355.6l2.6-5.7-2-3.8-2.6 4.7z"/>
<path color="#465efb" d="M117.8 373.9l2.6-2.1-2-.2-2.6-3.8z"/>
<path color="#1da8e0" d="M47.5 361.1l2.6-1.2-2 4.5-2.6-1.3z"/>
<path color="#97ca48" d="M84.9 351.6l2.6 .3-2-3.9-2.6 2.9z"/>
<path color="#02bac5" d="M138.8 360.8l2.6-2.9-2 1.1-2.6 2.5z"/>
<path color="#98ca47" d="M68.5 352l2.6-1.8-2-.1-2.6-.2z"/>
<path color="#4756f7" d="M122.4 372.7l2.6 .9-2-1.8-2.6 0z"/>
<path color="#0bbdbc" d="M52.1 359.4l2.6-1.2-2-1.9-2.6 3.6z"/>
<path color="#44cb89" d="M143.4 357.2l2.6-5.4-2 1.9-2.6 4.2z"/>
<path color="#95ca49" d="M73.1 347.9l2.6 1.4-2 7.1-2.6-6.2z"/>
<path color="#4756f7" d="M127 375.2l2.6-3.5-2-1.4-2.6 3.3z"/>
<path color="#42ca8c" d="M56.7 356.4l2.6-5-2 1.7-2.6 5.1z"/>
<path color="#b6c532" d="M77.7 348.6l2.6 2.9-2-2.3-2.6 .1z"/>
<path color="#337bfc" d="M131.6 373.8l2.6-9.2-2 1.2-2.6 5.9z"/>
<path color="#65cd6e" d="M61.3 355l2.6 .6-2-4.8-2.6 .6z"/>
<path color="#3f6eff" d="M115.2 371.9l2.6 2-2-6.1-2.6-.4z"/>
<path color="#9cc944" d="M82.3 350.4l2.6 1.2-2-.7-2.6 .6z"/>
<path color="#18aedb" d="M136.2 364.4l2.6-3.6-2 .7-2.6 3.1z"/>
<path color="#6bcd69" d="M65.9 355.2l2.6-3.2-2-2.1-2.6 5.7z"/>
<path color="#484cef" d="M119.8 378.9l2.6-6.2-2-.9-2.6 2.1z"/>
<path color="#02bbc3" d="M49.5 358.7l2.6 .7-2 .5-2.6 1.2z"/>
<path color="#1ac0b5" d="M140.8 361l2.6-3.8-2 .7-2.6 2.9z"/>
<path color="#a9c73b" d="M70.5 352.8l2.6-4.9-2 2.3-2.6 1.8z"/>
<path color="#484ff2" d="M124.4 375.3l2.6-.1-2-1.6-2.6-.9z"/>
<path color="#1ec0b2" d="M54.1 359.8l2.6-3.4-2 1.8-2.6 1.2z"/>
<path color="#59cc79" d="M145.4 357.5l2.6-3.9-2-1.8-2.6 5.4z"/>
<path color="#c1c32c" d="M75.1 353.4l2.6-4.8-2 .7-2.6-1.4z"/>
<path color="#484ef1" d="M129 377.2l2.6-3.4-2-2.1-2.6 3.5z"/>
<path color="#4fcc80" d="M58.7 357l2.6-2-2-3.6-2.6 5z"/>
<path color="#3f6eff" d="M112.6 374l2.6-2.1-2-4.5-2.6 3.2z"/>
<path color="#cbc129" d="M79.7 347.6l2.6 2.8-2 1.1-2.6-2.9z"/>
<path color="#2c8ff0" d="M133.6 367.5l2.6-3.1-2 .2-2.6 9.2z"/>
<path color="#54cc7d" d="M63.3 354.2l2.6 1-2 .4-2.6-.6z"/>
<path color="#4853f4" d="M117.2 372.2l2.6 6.7-2-5-2.6-2z"/>
<path color="#e9bb30" d="M84.3 343.6l2.6 2.6-2 5.4-2.6-1.2z"/>
<path color="#19acdc" d="M138.2 369.4l2.6-8.4-2-.2-2.6 3.6z"/>
<path color="#67cd6c" d="M67.9 357.2l2.6-4.4-2-.8-2.6 3.2z"/>
<path color="#473fe2" d="M121.8 379.8l2.6-4.5-2-2.6-2.6 6.2z"/>
<path color="#15bfb7" d="M51.5 360.6l2.6-.8-2-.4-2.6-.7z"/>
<path color="#2ac3a9" d="M142.8 360.7l2.6-3.2-2-.3-2.6 3.8z"/>
<path color="#99c946" d="M72.5 355.3l2.6-1.9-2-5.5-2.6 4.9z"/>
<path color="#4744e8" d="M126.4 377.7l2.6-.5-2-2-2.6 .1z"/>
<path color="#30c5a2" d="M56.1 358.7l2.6-1.7-2-.6-2.6 3.4z"/>
<path color="#3ac993" d="M147.4 361.9l2.6-4.2-2-4.1-2.6 3.9z"/>
<path color="#c8c129" d="M77.1 351.8l2.6-4.2-2 1-2.6 4.8z"/>
<path color="#4562fc" d="M131 374.5l2.6-7-2 6.3-2.6 3.4z"/>
<path color="#62cd71" d="M60.7 353.7l2.6 .5-2 .8-2.6 2z"/>
<path color="#4854f6" d="M114.6 380.7l2.6-8.5-2-.3-2.6 2.1z"/>
<path color="#fec03b" d="M81.7 345.1l2.6-1.5-2 6.8-2.6-2.8z"/>
<path color="#2c8ff1" d="M135.6 373l2.6-3.6-2-5-2.6 3.1z"/>
<path color="#45cb89" d="M65.3 360.2l2.6-3-2-2-2.6-1z"/>
<path color="#4740e3" d="M119.2 378.1l2.6 1.7-2-.9-2.6-6.7z"/>
<path color="#09b4d1" d="M140.2 363l2.6-2.3-2 .3-2.6 8.4z"/>
<path color="#71cd64" d="M69.9 353.8l2.6 1.5-2-2.5-2.6 4.4z"/>
<path color="#4742e6" d="M123.8 376.1l2.6 1.6-2-2.4-2.6 4.5z"/>
<path color="#1cc0b3" d="M53.5 361.6l2.6-2.9-2 1.1-2.6 .8z"/>
<path color="#15bfb7" d="M144.8 365.2l2.6-3.3-2-4.4-2.6 3.2z"/>
<path color="#78cc5f" d="M74.5 358.4l2.6-6.6-2 1.6-2.6 1.9z"/>
<path color="#4746ea" d="M128.4 378.8l2.6-4.3-2 2.7-2.6 .5z"/>
<path color="#42ca8c" d="M58.1 359.8l2.6-6.1-2 3.3-2.6 1.7z"/>
<path color="#4368fe" d="M112 372.9l2.6 7.8-2-6.7-2.6-8.8z"/>
<path color="#15bfb7" d="M149.4 365.8l2.6-5.1-2-3-2.6 4.2z"/>
<path color="#fec239" d="M79.1 344.2l2.6 .9-2 2.5-2.6 4.2z"/>
<path color="#3c71ff" d="M133 375.3l2.6-2.3-2-5.5-2.6 7z"/>
<path color="#4acb85" d="M62.7 360.3l2.6-.1-2-6-2.6-.5z"/>
<path color="#484cef" d="M116.6 375.4l2.6 2.7-2-5.9-2.6 8.5z"/>
<path color="#f6e028" d="M83.7 343.8l2.6 1.1-2-1.3-2.6 1.5z"/>
<path color="#2699ea" d="M137.6 367.7l2.6-4.7-2 6.4-2.6 3.6z"/>
<path color="#62cd71" d="M67.3 353.4l2.6 .4-2 3.4-2.6 3z"/>
<path color="#4740e3" d="M121.2 378.8l2.6-2.7-2 3.7-2.6-1.7z"/>
<path color="#0bb4d2" d="M142.2 369.3l2.6-4.1-2-4.5-2.6 2.3z"/>
<path color="#69cd6a" d="M71.9 356.7l2.6 1.7-2-3.1-2.6-1.5z"/>
<path color="#463adb" d="M125.8 383.9l2.6-5.1-2-1.1-2.6-1.6z"/>
<path color="#28c3aa" d="M55.5 361.2l2.6-1.4-2-1.1-2.6 2.9z"/>
<path color="#14b0d8" d="M146.8 368.8l2.6-3-2-3.9-2.6 3.3z"/>
<path color="#d5be28" d="M76.5 350.6l2.6-6.4-2 7.6-2.6 6.6z"/>
<path color="#484bef" d="M130.4 381.1l2.6-5.8-2-.8-2.6 4.3z"/>
<path color="#35c79a" d="M60.1 363.2l2.6-2.9-2-6.6-2.6 6.1z"/>
<path color="#4660fc" d="M114 370.8l2.6 4.6-2 5.3-2.6-7.8z"/>
<path color="#01b9c6" d="M151.4 365.5l2.6-2.1-2-2.7-2.6 5.1z"/>
<path color="#f5e426" d="M81.1 345.2l2.6-1.4-2 1.3-2.6-.9z"/>
<path color="#317dfc" d="M135 373.1l2.6-5.4-2 5.3-2.6 2.3z"/>
<path color="#42ca8c" d="M64.7 360l2.6-6.6-2 6.8-2.6 .1z"/>
<path color="#4854f5" d="M118.6 374.2l2.6 4.6-2-.7-2.6-2.7z"/>
<path color="#f7f31d" d="M85.8 343.1l2.6-1.7-2.1 3.5-2.6-1.1z"/>
<path color="#22a1e4" d="M139.6 372.2l2.6-2.9-2-6.3-2.6 4.7z"/>
<path color="#89cb52" d="M69.3 357.6l2.6-.9-2-2.9-2.6-.4z"/>
<path color="#4537d5" d="M123.2 382.2l2.6 1.7-2-7.8-2.6 2.7z"/>
<path color="#249ee6" d="M144.2 371.8l2.6-3-2-3.6-2.6 4.1z"/>
<path color="#97ca47" d="M73.9 354.2l2.6-3.6-2 7.8-2.6-1.7z"/>
<path color="#4331c7" d="M127.8 381.3l2.6-.2-2-2.3-2.6 5.1z"/>
<path color="#1cc0b4" d="M57.5 364.1l2.6-.9-2-3.4-2.6 1.4z"/>
<path color="#23a1e4" d="M111.4 361.3l2.6 9.5-2 2.1-2.6-4.8z"/>
<path color="#1ea7e1" d="M148.8 370.7l2.6-5.2-2 .3-2.6 3z"/>
<path color="#fbd32f" d="M78.5 348l2.6-2.8-2-1-2.6 6.4z"/>
<path color="#484cef" d="M132.4 383.5l2.6-10.4-2 2.2-2.6 5.8z"/>
<path color="#24c1ae" d="M62.1 363.8l2.6-3.8-2 .3-2.6 2.9z"/>
<path color="#2e83f9" d="M116 368.5l2.6 5.7-2 1.2-2.6-4.6z"/>
<path color="#f5e725" d="M83.1 348.9l2.7-5.8-2.1 .7-2.6 1.4z"/>
<path color="#337bfc" d="M137 380.5l2.6-8.3-2-4.5-2.6 5.4z"/>
<path color="#70cd65" d="M66.7 357.4l2.6 .2-2-4.2-2.6 6.6z"/>
<path color="#4853f5" d="M120.6 375.5l2.6 6.7-2-3.4-2.6-4.6z"/>
<path color="#f9fb15" d="M87.8 341.8l2.6-3-2 2.6-2.6 1.7z"/>
<path color="#2e86f7" d="M141.6 376.1l2.6-4.3-2-2.5-2.6 2.9z"/>
<path color="#73cd63" d="M71.3 360.5l2.6-6.3-2 2.5-2.6 .9z"/>
<path color="#4230c3" d="M125.2 381.5l2.6-.2-2 2.6-2.6-1.7z"/>
<path color="#17bfb6" d="M108.8 359.2l2.6 2.1-2 6.8-2.6-3.1z"/>
<path color="#2b91ef" d="M146.2 374.2l2.6-3.5-2-1.9-2.6 3z"/>
<path color="#d7be28" d="M75.9 358.3l2.6-10.3-2 2.6-2.6 3.6z"/>
<path color="#4331c8" d="M129.8 382.8l2.6 .7-2-2.4-2.6 .2z"/>
<path color="#05bbc1" d="M59.5 365.9l2.6-2.1-2-.6-2.6 .9z"/>
<path color="#05b6ce" d="M113.4 362.9l2.6 5.6-2 2.3-2.6-9.5z"/>
<path color="#fec537" d="M80.6 355.4l2.5-6.5-2-3.7-2.6 2.8z"/>
<path color="#4744e8" d="M134.4 383.1l2.6-2.6-2-7.4-2.6 10.4z"/>
<path color="#34c79c" d="M64.1 363.8l2.6-6.4-2 2.6-2.6 3.8z"/>
<path color="#2d8af4" d="M118 370.9l2.6 4.6-2-1.3-2.6-5.7z"/>
<path color="#f5e327" d="M85.2 352.7l2.6-10.9-2 1.3-2.7 5.8z"/>
<path color="#4758f8" d="M139 383.6l2.6-7.5-2-3.9-2.6 8.3z"/>
<path color="#5ccc75" d="M68.7 360.4l2.6 .1-2-2.9-2.6-.2z"/>
<path color="#4757f7" d="M122.6 373.4l2.6 8.1-2 .7-2.6-6.7z"/>
<path color="#45cb89" d="M106.2 355.1l2.6 4.1-2 5.8-2.6-2.3z"/>
<path color="#f5e426" d="M89.8 350.6l2.6 5-2-16.8-2.6 3z"/>
<path color="#3a74fe" d="M143.6 379.1l2.6-4.9-2-2.4-2.6 4.3z"/>
<path color="#50cc7f" d="M73.3 366.3l2.6-8-2-4.1-2.6 6.3z"/>
<path color="#4434cd" d="M127.2 384.6l2.6-1.8-2-1.5-2.6 .2z"/>
<path color="#30c5a2" d="M110.8 366.9l2.6-4-2-1.6-2.6-2.1z"/>
<path color="#88cb53" d="M94.4 361.1l2.6-5.5-2 2.3-2.6-2.3z"/>
<path color="#bac430" d="M78 359.1l2.6-3.7-2.1-7.4-2.6 10.3z"/>
<path color="#4433cd" d="M131.8 381.9l2.6 1.2-2 .4-2.6-.7z"/>
<path color="#07bcc0" d="M61.5 366.5l2.6-2.7-2 0-2.6 2.1z"/>
<path color="#06b5ce" d="M115.4 365.2l2.6 5.7-2-2.4-2.6-5.6z"/>
<path color="#bec32e" d="M99 352.5l2.6 1.9-2 4.4-2.6-3.2z"/>
<path color="#ccc028" d="M82.6 361.3l2.6-8.6-2.1-3.8-2.5 6.5z"/>
<path color="#4536d4" d="M136.4 383.3l2.6 .3-2-3.1-2.6 2.6z"/>
<path color="#40ca8d" d="M66.1 362.8l2.6-2.4-2-3-2.6 6.4z"/>
<path color="#2b92ef" d="M120 369.6l2.6 3.8-2 2.1-2.6-4.6z"/>
<path color="#94ca4a" d="M103.6 357.8l2.6-2.7-2 7.6-2.6-8.3z"/>
<path color="#fec03a" d="M87.2 359.1l2.6-8.5-2-8.8-2.6 10.9z"/>
<path color="#4849ed" d="M141 384.1l2.6-5-2-3-2.6 7.5z"/>
<path color="#1bc0b4" d="M70.7 370.6l2.6-4.3-2-5.8-2.6-.1z"/>
<path color="#484aee" d="M124.6 382.6l2.6 2-2-3.1-2.6-8.1z"/>
<path color="#74cc62" d="M108.2 355.3l2.6 11.6-2-7.7-2.6-4.1z"/>
<path color="#9fc942" d="M91.8 361.6l2.6-.5-2-5.5-2.6-5z"/>
<path color="#2ec5a4" d="M75.4 369.4l2.6-10.3-2.1-.8-2.6 8z"/>
<path color="#4332c9" d="M129.2 385.6l2.6-3.7-2 .9-2.6 1.8z"/>
<path color="#21c1b1" d="M112.8 364l2.6 1.2-2-2.3-2.6 4z"/>
<path color="#abc739" d="M96.4 358.4l2.6-5.9-2 3.1-2.6 5.5z"/>
<path color="#7acc5d" d="M80 360.2l2.6 1.1-2-5.9-2.6 3.7z"/>
<path color="#4740e4" d="M133.8 380.1l2.6 3.2-2-.2-2.6-1.2z"/>
<path color="#13beb8" d="M63.5 368l2.6-5.2-2 1-2.6 2.7z"/>
<path color="#1caadf" d="M117.4 373.4l2.6-3.8-2 1.3-2.6-5.7z"/>
<path color="#d6be28" d="M101 355.1l2.6 2.7-2-3.4-2.6-1.9z"/>
<path color="#93ca4b" d="M84.6 359.7l2.6-.6-2-6.4-2.6 8.6z"/>
<path color="#4537d5" d="M138.4 383.1l2.6 1-2-.5-2.6-.3z"/>
<path color="#09bcbe" d="M68.1 370.3l2.6 .3-2-10.2-2.6 2.4z"/>
<path color="#2e85f8" d="M122 373.5l2.6 9.1-2-9.2-2.6-3.8z"/>
<path color="#abc739" d="M105.6 361.4l2.6-6.1-2-.2-2.6 2.7z"/>
<path color="#97ca48" d="M89.2 361.7l2.6-.1-2-11-2.6 8.5z"/>
<path color="#1ca9e0" d="M72.8 373.5l2.6-4.1-2.1-3.1-2.6 4.3z"/>
<path color="#402bb6" d="M126.6 389.2l2.6-3.6-2-1-2.6-2z"/>
<path color="#45cb89" d="M110.2 363.3l2.6 .7-2 2.9-2.6-11.6z"/>
<path color="#57cc7a" d="M93.8 364.3l2.6-5.9-2 2.7-2.6 .5z"/>
<path color="#36c799" d="M77.4 364.9l2.6-4.7-2-1.1-2.6 10.3z"/>
<path color="#463ee1" d="M131.2 384.7l2.6-4.6-2 1.8-2.6 3.7z"/>
<path color="#01b9c6" d="M114.8 367.9l2.6 5.5-2-8.2-2.6-1.2z"/>
<path color="#bfc32e" d="M98.4 361.6l2.6-6.5-2-2.6-2.6 5.9z"/>
<path color="#60cd72" d="M82 363.3l2.6-3.6-2 1.6-2.6-1.1z"/>
<path color="#484df1" d="M135.8 379.7l2.6 3.4-2 .2-2.6-3.2z"/>
<path color="#06b5cf" d="M65.5 372.3l2.6-2-2-7.5-2.6 5.2z"/>
<path color="#21a3e3" d="M119.4 370l2.6 3.5-2-3.9-2.6 3.8z"/>
<path color="#87cb54" d="M103 364.4l2.6-3-2-3.6-2.6-2.7z"/>
<path color="#8bcb51" d="M86.6 357.3l2.6 4.4-2-2.6-2.6 .6z"/>
<path color="#23a1e4" d="M70.1 372.8l2.7 .7-2.1-2.9-2.6-.3z"/>
<path color="#484ff2" d="M124 381l2.6 8.2-2-6.6-2.6-9.1z"/>
<path color="#7fcc5a" d="M107.6 361.2l2.6 2.1-2-8-2.6 6.1z"/>
<path color="#3dc991" d="M91.2 366.5l2.6-2.2-2-2.7-2.6 .1z"/>
<path color="#12b1d6" d="M74.8 370.8l2.6-5.9-2 4.5-2.6 4.1z"/>
<path color="#3e27ac" d="M128.6 388.4l2.6-3.7-2 .9-2.6 3.6z"/>
<path color="#29c3aa" d="M112.2 367.9l2.6 0-2-3.9-2.6-.7z"/>
<path color="#6acd6a" d="M95.8 361.3l2.6 .3-2-3.2-2.6 5.9z"/>
<path color="#4acb84" d="M79.4 363.3l2.6 0-2-3.1-2.6 4.7z"/>
<path color="#484df0" d="M133.2 384.8l2.6-5.1-2 .4-2.6 4.6z"/>
<path color="#07b5cf" d="M116.8 366.7l2.6 3.3-2 3.4-2.6-5.5z"/>
<path color="#7fcc5a" d="M100.4 361.8l2.6 2.6-2-9.3-2.6 6.5z"/>
<path color="#7fcc5a" d="M84 362.5l2.6-5.2-2 2.4-2.6 3.6z"/>
<path color="#22a2e4" d="M67.6 374.1l2.5-1.3-2-2.5-2.6 2z"/>
<path color="#2e86f7" d="M121.4 380.3l2.6 .7-2-7.5-2.6-3.5z"/>
<path color="#43ca8a" d="M105 368.3l2.6-7.1-2 .2-2.6 3z"/>
<path color="#4fcc80" d="M88.6 367l2.6-.5-2-4.8-2.6-4.4z"/>
<path color="#20a5e2" d="M72.2 371.5l2.6-.7-2 2.7-2.7-.7z"/>
<path color="#473ee2" d="M126 378.8l2.6 9.6-2 .8-2.6-8.2z"/>
<path color="#3eca8f" d="M109.6 365.3l2.6 2.6-2-4.6-2.6-2.1z"/>
<path color="#48cb86" d="M93.2 363l2.6-1.7-2 3-2.6 2.2z"/>
<path color="#26c2ad" d="M76.8 367.6l2.6-4.3-2 1.6-2.6 5.9z"/>
<path color="#4535d2" d="M130.6 385l2.6-.2-2-.1-2.6 3.7z"/>
<path color="#1cc0b3" d="M114.2 367.6l2.6-.9-2 1.2-2.6 0z"/>
<path color="#80cc59" d="M97.8 360.9l2.6 .9-2-.2-2.6-.3z"/>
<path color="#53cc7d" d="M81.4 364.6l2.6-2.1-2 .8-2.6 0z"/>
<path color="#1aabdd" d="M118.8 371.3l2.6 9-2-10.3-2.6-3.3z"/>
<path color="#3dc991" d="M102.4 365.3l2.6 3-2-3.9-2.6-2.6z"/>
<path color="#39c995" d="M86 373.9l2.6-6.9-2-9.7-2.6 5.2z"/>
<path color="#1da8e0" d="M69.6 371.3l2.6 .2-2.1 1.3-2.5 1.3z"/>
<path color="#3d70ff" d="M123.4 378l2.6 .8-2 2.2-2.6-.7z"/>
<path color="#4bcb84" d="M107 362.5l2.6 2.8-2-4.1-2.6 7.1z"/>
<path color="#3eca8f" d="M90.6 363.6l2.6-.6-2 3.5-2.6 .5z"/>
<path color="#05b6ce" d="M74.2 371.6l2.6-4-2 3.2-2.6 .7z"/>
<path color="#4853f4" d="M128 379.8l2.6 5.2-2 3.4-2.6-9.6z"/>
<path color="#2fc5a3" d="M111.6 366.4l2.6 1.2-2 .3-2.6-2.6z"/>
<path color="#7ccc5c" d="M95.2 363.7l2.6-2.8-2 .4-2.6 1.7z"/>
<path color="#35c799" d="M78.8 368.5l2.6-3.9-2-1.3-2.6 4.3z"/>
<path color="#07bcc0" d="M116.2 372.8l2.6-1.5-2-4.6-2.6 .9z"/>
<path color="#59cc79" d="M99.8 368.4l2.6-3.1-2-3.5-2.6-.9z"/>
<path color="#1ac0b4" d="M83.4 372.9l2.6 1-2-11.4-2.6 2.1z"/>
<path color="#2995ec" d="M120.8 374.8l2.6 3.2-2 2.3-2.6-9z"/>
<path color="#62cd70" d="M104.4 359.3l2.6 3.2-2 5.8-2.6-3z"/>
<path color="#16bfb7" d="M88 371.2l2.6-7.6-2 3.4-2.6 6.9z"/>
<path color="#0eb2d4" d="M71.6 372.4l2.6-.8-2-.1-2.6-.2z"/>
<path color="#2e85f8" d="M125.4 376.4l2.6 3.4-2-1-2.6-.8z"/>
<path color="#4bcb84" d="M109 366.9l2.6-.5-2-1.1-2.6-2.8z"/>
<path color="#58cc79" d="M92.6 367.8l2.6-4.1-2-.7-2.6 .6z"/>
<path color="#07bcc0" d="M76.2 372.1l2.6-3.6-2-.9-2.6 4z"/>
<path color="#10beba" d="M113.6 372.3l2.6 .5-2-5.2-2.6-1.2z"/>
<path color="#5ecc74" d="M97.2 365.1l2.6 3.3-2-7.5-2.6 2.8z"/>
<path color="#16bfb7" d="M80.8 371.6l2.6 1.3-2-8.3-2.6 3.9z"/>
<path color="#15afd9" d="M118.2 373.5l2.6 1.3-2-3.5-2.6 1.5z"/>
<path color="#49cb86" d="M101.8 370.3l2.6-11-2 6-2.6 3.1z"/>
<path color="#0eb2d4" d="M85.4 371.7l2.6-.5-2 2.7-2.6-1z"/>
<path color="#2699e9" d="M122.8 376.6l2.6-.2-2 1.6-2.6-3.2z"/>
<path color="#7fcc5a" d="M106.4 365.3l2.6 1.6-2-4.4-2.6-3.2z"/>
<path color="#1bc0b4" d="M90 375.8l2.6-8-2-4.2-2.6 7.6z"/>
<path color="#0bb3d2" d="M73.6 373.6l2.6-1.5-2-.5-2.6 .8z"/>
<path color="#22c1b0" d="M111 372.5l2.6-.2-2-5.9-2.6 .5z"/>
<path color="#48cb87" d="M94.6 368.7l2.6-3.6-2-1.4-2.6 4.1z"/>
<path color="#01b8c8" d="M78.2 374.5l2.6-2.9-2-3.1-2.6 3.6z"/>
<path color="#14b0d8" d="M115.6 376.2l2.6-2.7-2-.7-2.6-.5z"/>
<path color="#2fc5a3" d="M99.2 370.6l2.6-.3-2-1.9-2.6-3.3z"/>
<path color="#04b6cd" d="M82.8 373.4l2.6-1.7-2 1.2-2.6-1.3z"/>
<path color="#20a5e2" d="M120.2 377.2l2.6-.6-2-1.8-2.6-1.3z"/>
<path color="#51cc7f" d="M103.8 370.3l2.6-5-2-6-2.6 11z"/>
<path color="#0db3d3" d="M87.4 374.4l2.6 1.4-2-4.6-2.6 .5z"/>
<path color="#31c6a0" d="M108.4 370.9l2.6 1.6-2-5.6-2.6-1.6z"/>
<path color="#0dbdbb" d="M92 372.5l2.6-3.8-2-.9-2.6 8z"/>
<path color="#0cb3d3" d="M75.6 373.4l2.6 1.1-2-2.4-2.6 1.5z"/>
<path color="#17aeda" d="M113 377.6l2.6-1.4-2-3.9-2.6 .2z"/>
<path color="#2bc3a8" d="M96.6 374.3l2.6-3.7-2-5.5-2.6 3.6z"/>
<path color="#07b5cf" d="M80.2 373.7l2.6-.3-2-1.8-2.6 2.9z"/>
<path color="#20a4e3" d="M117.6 378.3l2.6-1.1-2-3.7-2.6 2.7z"/>
<path color="#1dc0b3" d="M101.2 372.5l2.6-2.2-2 0-2.6 .3z"/>
<path color="#11b1d6" d="M84.8 377.4l2.6-3-2-2.7-2.6 1.7z"/>
<path color="#2cc4a6" d="M105.8 373.7l2.6-2.8-2-5.6-2.6 5z"/>
<path color="#10b2d5" d="M89.4 375l2.6-2.5-2 3.3-2.6-1.4z"/>
<path color="#04b6cd" d="M110.4 374.4l2.6 3.2-2-5.1-2.6-1.6z"/>
<path color="#02bac4" d="M94 376.4l2.6-2.1-2-5.6-2.6 3.8z"/>
<path color="#0db3d3" d="M77.6 376l2.6-2.3-2 .8-2.6-1.1z"/>
<path color="#21a3e3" d="M115 376.6l2.6 1.7-2-2.1-2.6 1.4z"/>
<path color="#02bac3" d="M98.6 375.1l2.6-2.6-2-1.9-2.6 3.7z"/>
<path color="#11b1d6" d="M82.2 375.1l2.6 2.3-2-4-2.6 .3z"/>
<path color="#0cbdbc" d="M103.2 374.2l2.6-.5-2-3.4-2.6 2.2z"/>
<path color="#12b1d7" d="M86.8 374.2l2.6 .8-2-.6-2.6 3z"/>
<path color="#05bbc1" d="M107.8 374.5l2.6-.1-2-3.5-2.6 2.8z"/>
<path color="#07b5d0" d="M91.4 375.2l2.6 1.2-2-3.9-2.6 2.5z"/>
<path color="#17aeda" d="M112.4 376.3l2.6 .3-2 1-2.6-3.2z"/>
<path color="#15afd9" d="M96 378.4l2.6-3.3-2-.8-2.6 2.1z"/>
<path color="#07b5d0" d="M79.6 375l2.6 .1-2-1.4-2.6 2.3z"/>
<path color="#07b5d0" d="M100.6 379.3l2.6-5.1-2-1.7-2.6 2.6z"/>
<path color="#12b1d7" d="M84.2 377.2l2.6-3-2 3.2-2.6-2.3z"/>
<path color="#02bbc3" d="M105.2 374.6l2.6-.1-2-.8-2.6 .5z"/>
<path color="#01b9c6" d="M88.8 373.7l2.6 1.5-2-.2-2.6-.8z"/>
<path color="#05b6ce" d="M109.8 377.1l2.6-.8-2-1.9-2.6 .1z"/>
<path color="#12b1d6" d="M93.4 375.7l2.6 2.7-2-2-2.6-1.2z"/>
<path color="#1fa6e2" d="M98 380.5l2.6-1.2-2-4.2-2.6 3.3z"/>
<path color="#03b7cc" d="M81.6 374.7l2.6 2.5-2-2.1-2.6-.1z"/>
<path color="#07b5d0" d="M102.6 376.7l2.6-2.1-2-.4-2.6 5.1z"/>
<path color="#01b9c6" d="M86.2 375.6l2.6-1.9-2 .5-2.6 3z"/>
<path color="#0bb3d2" d="M107.2 380.7l2.6-3.6-2-2.6-2.6 .1z"/>
<path color="#02bbc3" d="M90.8 375.9l2.6-.2-2-.5-2.6-1.5z"/>
<path color="#1fa6e2" d="M95.4 381.5l2.6-1-2-2.1-2.6-2.7z"/>
<path color="#1ea7e1" d="M100 379.7l2.6-3-2 2.6-2.6 1.2z"/>
<path color="#02bac5" d="M83.6 375.5l2.6 .1-2 1.6-2.6-2.5z"/>
<path color="#18aedb" d="M104.6 381.5l2.6-.8-2-6.1-2.6 2.1z"/>
<path color="#02bac4" d="M88.2 378.3l2.6-2.4-2-2.2-2.6 1.9z"/>
<path color="#15afd8" d="M92.8 380l2.6 1.5-2-5.8-2.6 .2z"/>
<path color="#249ee6" d="M97.4 382.2l2.6-2.5-2 .8-2.6 1z"/>
<path color="#22a2e4" d="M102 385.1l2.6-3.6-2-4.8-2.6 3z"/>
<path color="#01b8c9" d="M85.6 379l2.6-.7-2-2.7-2.6-.1z"/>
<path color="#09b4d1" d="M90.2 378.4l2.6 1.6-2-4.1-2.6 2.4z"/>
<path color="#2699e9" d="M94.8 386l2.6-3.8-2-.7-2.6-1.5z"/>
<path color="#2895ec" d="M99.4 385.4l2.6-.3-2-5.4-2.6 2.5z"/>
<path color="#12b1d6" d="M87.6 381.7l2.6-3.3-2-.1-2.6 .7z"/>
<path color="#21a2e4" d="M92.2 382.8l2.6 3.2-2-6-2.6-1.6z"/>
<path color="#2d89f5" d="M96.8 387.4l2.6-2-2-3.2-2.6 3.8z"/>
<path color="#1fa6e2" d="M89.6 385l2.6-2.2-2-4.4-2.6 3.3z"/>
<path color="#2c8ff0" d="M94.2 384.8l2.6 2.6-2-1.4-2.6-3.2z"/>
<path color="#2895ec" d="M91.6 388.2l2.6-3.4-2-2-2.6 2.2z"/></g>
<text class="tk" x="40.0" y="336.5" text-anchor="end">2</text>
<text class="tk" x="40.0" y="352.1" text-anchor="end">1.5</text>
<text class="tk" x="40.0" y="367.8" text-anchor="end">1</text>
<text class="tk" x="40.0" y="383.6" text-anchor="end">0.5</text>
<text class="tk" x="42.2" y="396.3" text-anchor="middle">10</text>
<text class="tk" x="64.7" y="405.4" text-anchor="middle">5</text>
<text class="tk" x="84.6" y="414.9" text-anchor="middle">0</text>
<text class="tk" x="98.5" y="415.4" text-anchor="middle">0</text>
<text class="tk" x="124.6" y="408.6" text-anchor="middle">5</text>
<text class="tk" x="153.4" y="401.3" text-anchor="middle">10</text>
<text class="lb" transform="translate(21.4 357.8) rotate(-90)" text-anchor="middle">f(x,y) (%)</text>
<text class="lb" x="20.6" y="424.2">y-axis</text>
<text class="lb" x="132.1" y="425.5">x-axis</text>
<text class="cp cb" x="7.2" y="440.9" textLength="12.4" lengthAdjust="spacingAndGlyphs">(g)</text>
<text class="cp" x="25.6" y="440.9" textLength="18.4" lengthAdjust="spacingAndGlyphs">Field</text>
<text class="cp" x="48.4" y="440.9" textLength="8.2" lengthAdjust="spacingAndGlyphs">C:</text>
<text class="cp" x="61.3" y="440.9" textLength="10.2" lengthAdjust="spacingAndGlyphs"><tspan class="it">μ</tspan><tspan class="it" font-size="6.2" dy="-3.3">C</tspan></text>
<text class="cp eq" x="78.5" y="440.9" textLength="7.0" lengthAdjust="spacingAndGlyphs">=</text>
<text class="cp" x="93.2" y="440.9" textLength="23.8" lengthAdjust="spacingAndGlyphs">1.05%,</text>
<text class="cp" x="118.6" y="440.9" textLength="9.3" lengthAdjust="spacingAndGlyphs"><tspan class="it">σ</tspan><tspan class="it" font-size="6.2" dy="-3.3">C</tspan></text>
<text class="cp eq" x="136.8" y="440.9" textLength="6.4" lengthAdjust="spacingAndGlyphs">=</text>
<text class="cp" x="150.6" y="440.9" textLength="19.5" lengthAdjust="spacingAndGlyphs">0.4%,</text>
<text class="cp it" x="7.5" y="451.2" textLength="5.7" lengthAdjust="spacingAndGlyphs">â</text>
<text class="cp eq" x="15.0" y="451.2" textLength="6.0" lengthAdjust="spacingAndGlyphs">=</text>
<text class="cp" x="23.5" y="451.2" textLength="4.1" lengthAdjust="spacingAndGlyphs">6</text>
<text class="cp" x="28.3" y="451.2" textLength="13.4" lengthAdjust="spacingAndGlyphs">μm</text>
</g>
<g>
<path class="gm" d="M280.0 402.6L231.9 380.3M231.9 380.3L231.9 332.8M280.0 402.6L342.4 386.2M342.4 386.2L342.4 338.7M285.4 401.2L237.3 378.9M237.3 378.9L237.3 331.4M275.8 400.7L338.2 384.3M338.2 384.3L338.2 336.8M290.9 399.7L242.8 377.4M242.8 377.4L242.8 329.9M271.6 398.7L334.0 382.3M334.0 382.3L334.0 334.8M296.3 398.3L248.2 376.0M248.2 376.0L248.2 328.5M267.5 396.8L329.9 380.4M329.9 380.4L329.9 332.9M301.7 396.9L253.6 374.6M253.6 374.6L253.6 327.1M263.3 394.8L325.7 378.4M325.7 378.4L325.7 330.9M307.1 395.5L259.0 373.2M259.0 373.2L259.0 325.7M259.1 392.9L321.5 376.5M321.5 376.5L321.5 329.0M312.6 394.0L264.5 371.7M264.5 371.7L264.5 324.2M254.9 391.0L317.3 374.6M317.3 374.6L317.3 327.1M318.0 392.6L269.9 370.3M269.9 370.3L269.9 322.8M250.7 389.0L313.1 372.6M313.1 372.6L313.1 325.1M323.4 391.2L275.3 368.9M275.3 368.9L275.3 321.4M246.5 387.1L308.9 370.7M308.9 370.7L308.9 323.2M328.8 389.8L280.7 367.5M280.7 367.5L280.7 320.0M242.4 385.1L304.8 368.7M304.8 368.7L304.8 321.2M334.3 388.3L286.2 366.0M286.2 366.0L286.2 318.5M238.2 383.2L300.6 366.8M300.6 366.8L300.6 319.3M339.7 386.9L291.6 364.6M291.6 364.6L291.6 317.1M234.0 381.3L296.4 364.9M296.4 364.9L296.4 317.4M231.9 380.3L294.3 363.9M294.3 363.9L342.4 386.2M231.9 377.1L294.3 360.7M294.3 360.7L342.4 383.0M231.9 374.0L294.3 357.6M294.3 357.6L342.4 379.9M231.9 370.8L294.3 354.4M294.3 354.4L342.4 376.7M231.9 367.6L294.3 351.2M294.3 351.2L342.4 373.5M231.9 364.5L294.3 348.1M294.3 348.1L342.4 370.4M231.9 361.3L294.3 344.9M294.3 344.9L342.4 367.2M231.9 358.1L294.3 341.7M294.3 341.7L342.4 364.0M231.9 355.0L294.3 338.6M294.3 338.6L342.4 360.9M231.9 351.8L294.3 335.4M294.3 335.4L342.4 357.7M231.9 348.6L294.3 332.2M294.3 332.2L342.4 354.5M231.9 345.5L294.3 329.1M294.3 329.1L342.4 351.4M231.9 342.3L294.3 325.9M294.3 325.9L342.4 348.2M231.9 339.1L294.3 322.7M294.3 322.7L342.4 345.0M231.9 336.0L294.3 319.6M294.3 319.6L342.4 341.9M231.9 332.8L294.3 316.4M294.3 316.4L342.4 338.7"/>
<path class="gM" d="M280.0 402.6L231.9 380.3M231.9 380.3L231.9 332.8M280.0 402.6L342.4 386.2M342.4 386.2L342.4 338.7M307.1 395.5L259.0 373.2M259.0 373.2L259.0 325.7M259.1 392.9L321.5 376.5M321.5 376.5L321.5 329.0M334.3 388.3L286.2 366.0M286.2 366.0L286.2 318.5M238.2 383.2L300.6 366.8M300.6 366.8L300.6 319.3M231.9 380.3L294.3 363.9M294.3 363.9L342.4 386.2M231.9 364.5L294.3 348.1M294.3 348.1L342.4 370.4M231.9 348.6L294.3 332.2M294.3 332.2L342.4 354.5M231.9 332.8L294.3 316.4M294.3 316.4L342.4 338.7"/>
<path class="ax" d="M231.9 380.3L231.9 332.8M231.9 380.3L280.0 402.6M280.0 402.6L342.4 386.2M280.0 402.6L278.7 402.0M280.0 402.6L281.6 402.2M307.1 395.5L305.9 394.9M259.1 392.9L260.7 392.5M334.3 388.3L333.0 387.8M238.2 383.2L239.8 382.8M231.9 380.3L233.5 379.9M231.9 364.5L233.5 364.0M231.9 348.6L233.5 348.2M231.9 332.8L233.5 332.4"/>
<g class="s"><path color="#34c79c" d="M293.7 341.3l2.6 1-2-4-2.6 .4z"/>
<path color="#2fc5a2" d="M291.1 344.1l2.6-2.8-2-2.6-2.6 2.5z"/>
<path color="#12beb9" d="M295.7 344.2l2.6 1.9-2-3.8-2.6-1z"/>
<path color="#19bfb6" d="M288.5 345.3l2.6-1.2-2-2.9-2.6 2.5z"/>
<path color="#0cbdbc" d="M293.1 348.1l2.6-3.9-2-2.9-2.6 2.8z"/>
<path color="#20a4e3" d="M297.7 352.1l2.6 1.4-2-7.4-2.6-1.9z"/>
<path color="#0fbebb" d="M285.9 346.2l2.6-.9-2-1.6-2.6-.1z"/>
<path color="#01b7ca" d="M290.5 348l2.6 .1-2-4-2.6 1.2z"/>
<path color="#1da9e0" d="M295.1 351.8l2.6 .3-2-7.9-2.6 3.9z"/>
<path color="#327cfc" d="M299.7 355.4l2.6 2.2-2-4.1-2.6-1.4z"/>
<path color="#19bfb5" d="M283.3 346.8l2.6-.6-2-2.6-2.6-.5z"/>
<path color="#09b4d1" d="M287.9 351.4l2.6-3.4-2-2.7-2.6 .9z"/>
<path color="#21a3e4" d="M292.5 354.4l2.6-2.6-2-3.7-2.6-.1z"/>
<path color="#2d89f5" d="M297.1 356.2l2.6-.8-2-3.3-2.6-.3z"/>
<path color="#31c6a1" d="M280.7 344.5l2.6 2.3-2-3.7-2.6-1.8z"/>
<path color="#416cfe" d="M301.7 357.9l2.6-.2-2-.1-2.6-2.2z"/>
<path color="#09b4d1" d="M285.3 349.1l2.6 2.3-2-5.2-2.6 .6z"/>
<path color="#259be8" d="M289.9 355.2l2.6-.8-2-6.4-2.6 3.4z"/>
<path color="#2d88f6" d="M294.5 356.6l2.6-.4-2-4.4-2.6 2.6z"/>
<path color="#37c897" d="M278.1 345.8l2.6-1.3-2-3.2-2.6 2.7z"/>
<path color="#3b73fe" d="M299.1 358.9l2.6-1-2-2.5-2.6 .8z"/>
<path color="#0bbdbd" d="M282.7 348.4l2.6 .7-2-2.3-2.6-2.3z"/>
<path color="#3776fe" d="M303.7 356.6l2.6-.7-2 1.8-2.6 .2z"/>
<path color="#239fe5" d="M287.3 353.6l2.6 1.6-2-3.8-2.6-2.3z"/>
<path color="#2d89f5" d="M291.9 354.8l2.6 1.8-2-2.2-2.6 .8z"/>
<path color="#41ca8c" d="M275.5 343.3l2.6 2.5-2-1.8-2.6-1.4z"/>
<path color="#2e83f9" d="M296.5 353.2l2.6 5.7-2-2.7-2.6 .4z"/>
<path color="#23c1af" d="M280.1 348.1l2.6 .3-2-3.9-2.6 1.3z"/>
<path color="#2f83f9" d="M301.1 352.6l2.6 4-2 1.3-2.6 1z"/>
<path color="#13b0d7" d="M284.7 351.5l2.6 2.1-2-4.5-2.6-.7z"/>
<path color="#2994ed" d="M305.7 353.5l2.6-.7-2 3.1-2.6 .7z"/>
<path color="#2994ed" d="M289.3 355.2l2.6-.4-2 .4-2.6-1.6z"/>
<path color="#75cc61" d="M272.9 342.6l2.6 .7-2-.7-2.6-2.5z"/>
<path color="#2a93ed" d="M293.9 355.6l2.6-2.4-2 3.4-2.6-1.8z"/>
<path color="#33c69d" d="M277.5 346.6l2.6 1.5-2-2.3-2.6-2.5z"/>
<path color="#2895ec" d="M298.5 355.5l2.6-2.9-2 6.3-2.6-5.7z"/>
<path color="#02bac4" d="M282.1 349.9l2.6 1.6-2-3.1-2.6-.3z"/>
<path color="#22a2e4" d="M303.1 352.2l2.6 1.3-2 3.1-2.6-4z"/>
<path color="#22a1e4" d="M286.7 354.4l2.6 .8-2-1.6-2.6-2.1z"/>
<path color="#74cc62" d="M270.3 346.1l2.6-3.5-2-2.5-2.6 2.5z"/>
<path color="#12b1d6" d="M307.7 350.4l2.6-.1-2 2.5-2.6 .7z"/>
<path color="#2995ec" d="M291.3 356.5l2.6-.9-2-.8-2.6 .4z"/>
<path color="#51cc7f" d="M274.9 346.3l2.6 .3-2-3.3-2.6-.7z"/>
<path color="#2798ea" d="M295.9 357.5l2.6-2-2-2.3-2.6 2.4z"/>
<path color="#28c2ab" d="M279.5 347.3l2.6 2.6-2-1.8-2.6-1.5z"/>
<path color="#1ea7e1" d="M300.5 354.7l2.6-2.5-2 .4-2.6 2.9z"/>
<path color="#13b0d7" d="M284.1 353.3l2.6 1.1-2-2.9-2.6-1.6z"/>
<path color="#4ccb83" d="M267.7 347l2.6-.9-2-3.5-2.6 3.2z"/>
<path color="#01b7ca" d="M305.1 349l2.6 1.4-2 3.1-2.6-1.3z"/>
<path color="#2698ea" d="M288.7 356.9l2.6-.4-2-1.3-2.6-.8z"/>
<path color="#45cb88" d="M272.3 348.9l2.6-2.6-2-3.7-2.6 3.5z"/>
<path color="#2bc3a8" d="M309.7 347.3l2.6-1.3-2 4.3-2.6 .1z"/>
<path color="#259ce7" d="M293.3 352.8l2.6 4.7-2-1.9-2.6 .9z"/>
<path color="#45cb89" d="M276.9 344.7l2.6 2.6-2-.7-2.6-.3z"/>
<path color="#249ee6" d="M297.9 354.4l2.6 .3-2 .8-2.6 2z"/>
<path color="#06bcc0" d="M281.5 352.5l2.6 .8-2-3.4-2.6-2.6z"/>
<path color="#2fc5a2" d="M265.1 352.3l2.6-5.3-2-1.2-2.6 1.8z"/>
<path color="#08bcbf" d="M302.5 347.7l2.6 1.3-2 3.2-2.6 2.5z"/>
<path color="#269ae8" d="M286.1 360.3l2.6-3.4-2-2.5-2.6-1.1z"/>
<path color="#25c2ad" d="M269.7 355.2l2.6-6.3-2-2.8-2.6 .9z"/>
<path color="#33c69d" d="M307.1 346.8l2.6 .5-2 3.1-2.6-1.4z"/>
<path color="#1ca9df" d="M290.7 351.7l2.6 1.1-2 3.7-2.6 .4z"/>
<path color="#38c895" d="M274.3 351.1l2.6-6.4-2 1.6-2.6 2.6z"/>
<path color="#52cc7e" d="M311.7 346.4l2.6 .3-2-.7-2.6 1.3z"/>
<path color="#1caadf" d="M295.3 353.9l2.6 .5-2 3.1-2.6-4.7z"/>
<path color="#37c898" d="M278.9 347.9l2.6 4.6-2-5.2-2.6-2.6z"/>
<path color="#1cc0b3" d="M262.5 351.6l2.6 .7-2-4.7-2.6 1.8z"/>
<path color="#02bac5" d="M299.9 351.7l2.6-4-2 7-2.6-.3z"/>
<path color="#1fa5e2" d="M283.5 355.9l2.6 4.4-2-7-2.6-.8z"/>
<path color="#05b6cd" d="M267.1 356.8l2.6-1.6-2-8.2-2.6 5.3z"/>
<path color="#3ac994" d="M304.5 350.3l2.6-3.5-2 2.2-2.6-1.3z"/>
<path color="#249fe6" d="M288.1 357.5l2.6-5.8-2 5.2-2.6 3.4z"/>
<path color="#01b9c7" d="M271.7 354.9l2.6-3.8-2-2.2-2.6 6.3z"/>
<path color="#52cc7e" d="M309.1 348.7l2.6-2.3-2 .9-2.6-.5z"/>
<path color="#08b4d0" d="M292.7 356.2l2.6-2.3-2-1.1-2.6-1.1z"/>
<path color="#30c5a1" d="M276.3 354.2l2.6-6.3-2-3.2-2.6 6.4z"/>
<path color="#33c69e" d="M259.9 349l2.6 2.6-2-2.2-2.6-2.7z"/>
<path color="#41ca8d" d="M313.7 350.4l2.6-.2-2-3.5-2.6-.3z"/>
<path color="#0ab4d1" d="M297.3 356.1l2.6-4.4-2 2.7-2.6-.5z"/>
<path color="#0fbebb" d="M280.9 351l2.6 4.9-2-3.4-2.6-4.6z"/>
<path color="#09b4d1" d="M264.5 354.9l2.6 1.9-2-4.5-2.6-.7z"/>
<path color="#2dc4a6" d="M301.9 352l2.6-1.7-2-2.6-2.6 4z"/>
<path color="#22a2e4" d="M285.5 353.9l2.6 3.6-2 2.8-2.6-4.4z"/>
<path color="#1caadf" d="M269.1 356.2l2.6-1.3-2 .3-2.6 1.6z"/>
<path color="#39c995" d="M306.5 351.8l2.6-3.1-2-1.9-2.6 3.5z"/>
<path color="#12b1d6" d="M290.1 354.2l2.6 2-2-4.5-2.6 5.8z"/>
<path color="#08bcbe" d="M273.7 350.4l2.6 3.8-2-3.1-2.6 3.8z"/>
<path color="#49cb86" d="M257.3 351.1l2.6-2.1-2-2.3-2.6-.5z"/>
<path color="#37c897" d="M311.1 353.7l2.6-3.3-2-4-2.6 2.3z"/>
<path color="#0db3d3" d="M294.7 353.3l2.6 2.8-2-2.2-2.6 2.3z"/>
<path color="#26c2ac" d="M278.3 352.1l2.6-1.1-2-3.1-2.6 6.3z"/>
<path color="#12beb9" d="M261.9 353.9l2.6 1-2-3.3-2.6-2.6z"/>
<path color="#08bcbf" d="M315.8 356.5l2.6-.6-2.1-5.7-2.6 .2z"/>
<path color="#20c1b1" d="M299.3 348.3l2.6 3.7-2-.3-2.6 4.4z"/>
<path color="#06bcc0" d="M282.9 352.2l2.6 1.7-2 2-2.6-4.9z"/>
<path color="#249ee6" d="M266.5 364.3l2.6-8.1-2 .6-2.6-1.9z"/>
<path color="#27c2ab" d="M303.9 353.1l2.6-1.3-2-1.5-2.6 1.7z"/>
<path color="#03bbc3" d="M287.5 349.3l2.6 4.9-2 3.3-2.6-3.6z"/>
<path color="#16afda" d="M271.1 362.4l2.6-12-2 4.5-2.6 1.3z"/>
<path color="#4ecc81" d="M254.7 349.8l2.6 1.3-2-4.9-2.6 1.3z"/>
<path color="#21c1b0" d="M308.5 355.7l2.6-2-2-5-2.6 3.1z"/>
<path color="#04bbc2" d="M292.1 351.8l2.6 1.5-2 2.9-2.6-2z"/>
<path color="#09bcbe" d="M275.7 357.4l2.6-5.3-2 2.1-2.6-3.8z"/>
<path color="#24c1af" d="M259.3 354.4l2.6-.5-2-4.9-2.6 2.1z"/>
<path color="#08bcbf" d="M313.2 355.2l2.6 1.3-2.1-6.1-2.6 3.3z"/>
<path color="#30c5a1" d="M296.7 347.9l2.6 .4-2 7.8-2.6-2.8z"/>
<path color="#10beba" d="M280.3 358.2l2.6-6-2-1.2-2.6 1.1z"/>
<path color="#259ce7" d="M263.9 362.6l2.6 1.7-2-9.4-2.6-1z"/>
<path color="#15afd8" d="M317.8 355.6l2.6 3-2-2.7-2.6 .6z"/>
<path color="#45cb89" d="M301.3 346.5l2.6 6.6-2-1.1-2.6-3.7z"/>
<path color="#2ec5a4" d="M284.9 351.9l2.6-2.6-2 4.6-2.6-1.7z"/>
<path color="#347afd" d="M268.5 369.2l2.6-6.8-2-6.2-2.6 8.1z"/>
<path color="#64cd6f" d="M252.1 349.2l2.6 .6-2-2.3-2.6-.7z"/>
<path color="#07bcc0" d="M305.9 357.2l2.6-1.5-2-3.9-2.6 1.3z"/>
<path color="#3ac993" d="M289.5 348.2l2.6 3.6-2 2.4-2.6-4.9z"/>
<path color="#22a2e4" d="M273.1 364.6l2.6-7.2-2-7-2.6 12z"/>
<path color="#2bc4a7" d="M256.7 353.6l2.6 .8-2-3.3-2.6-1.3z"/>
<path color="#01b9c7" d="M310.6 357.1l2.6-1.9-2.1-1.5-2.6 2z"/>
<path color="#35c799" d="M294.1 353.1l2.6-5.2-2 5.4-2.6-1.5z"/>
<path color="#17aeda" d="M277.7 361l2.6-2.8-2-6.1-2.6 5.3z"/>
<path color="#18addb" d="M261.3 358.1l2.6 4.5-2-8.7-2.6 .5z"/>
<path color="#04b6cd" d="M315.2 357.2l2.6-1.6-2 .9-2.6-1.3z"/>
<path color="#7ecc5b" d="M298.7 349.7l2.6-3.2-2 1.8-2.6-.4z"/>
<path color="#06bcc0" d="M282.3 357.2l2.6-5.3-2 .3-2.6 6z"/>
<path color="#4466fd" d="M265.9 366.6l2.6 2.6-2-4.9-2.6-1.7z"/>
<path color="#1fa6e2" d="M319.8 361.5l2.6-1.4-2-1.5-2.6-3z"/>
<path color="#77cc60" d="M249.5 349.1l2.6 .1-2-2.4-2.6 .9z"/>
<path color="#2ec5a4" d="M303.3 354.4l2.6 2.8-2-4.1-2.6-6.6z"/>
<path color="#43ca8b" d="M286.9 354.7l2.6-6.5-2 1.1-2.6 2.6z"/>
<path color="#406cfe" d="M270.5 365.2l2.6-.6-2-2.2-2.6 6.8z"/>
<path color="#37c898" d="M254.1 354.4l2.6-.8-2-3.8-2.6-.6z"/>
<path color="#0db3d3" d="M308 359l2.6-1.9-2.1-1.4-2.6 1.5z"/>
<path color="#43ca8a" d="M291.5 351.8l2.6 1.3-2-1.3-2.6-3.6z"/>
<path color="#2a93ee" d="M275.1 362.8l2.6-1.8-2-3.6-2.6 7.2z"/>
<path color="#04b6cd" d="M258.7 359.6l2.6-1.5-2-3.7-2.6-.8z"/>
<path color="#12b1d6" d="M312.6 361.6l2.6-4.4-2-2-2.6 1.9z"/>
<path color="#62cd70" d="M296.1 349.1l2.6 .6-2-1.8-2.6 5.2z"/>
<path color="#17aeda" d="M279.7 356.2l2.6 1-2 1-2.6 2.8z"/>
<path color="#2e85f8" d="M263.3 365.7l2.6 .9-2-4-2.6-4.5z"/>
<path color="#1da8e0" d="M317.2 363.2l2.6-1.7-2-5.9-2.6 1.6z"/>
<path color="#94ca4a" d="M246.9 347.7l2.6 1.4-2-1.4-2.6-1.5z"/>
<path color="#44cb89" d="M300.7 356l2.6-1.6-2-7.9-2.6 3.2z"/>
<path color="#26c2ad" d="M284.3 352.8l2.6 1.9-2-2.8-2.6 5.3z"/>
<path color="#465ffb" d="M267.9 368.4l2.6-3.2-2 4-2.6-2.6z"/>
<path color="#259de7" d="M321.8 362.1l2.6-1.5-2-.5-2.6 1.4z"/>
<path color="#58cc79" d="M251.5 349.2l2.6 5.2-2-5.2-2.6-.1z"/>
<path color="#02bac4" d="M305.4 355.4l2.6 3.6-2.1-1.8-2.6-2.8z"/>
<path color="#4acb85" d="M288.9 351.6l2.6 .2-2-3.6-2.6 6.5z"/>
<path color="#2f82f9" d="M272.5 363.5l2.6-.7-2 1.8-2.6 .6z"/>
<path color="#0abdbd" d="M256.1 355.1l2.6 4.5-2-6-2.6 .8z"/>
<path color="#20a4e3" d="M310 363.5l2.6-1.9-2-4.5-2.6 1.9z"/>
<path color="#6ecd67" d="M293.5 346.5l2.6 2.6-2 4-2.6-1.3z"/>
<path color="#23a0e5" d="M277.1 363.3l2.6-7.1-2 4.8-2.6 1.8z"/>
<path color="#259ce7" d="M260.7 361.6l2.6 4.1-2-7.6-2.6 1.5z"/>
<path color="#259ce7" d="M314.6 364.8l2.6-1.6-2-6-2.6 4.4z"/>
<path color="#afc637" d="M244.3 347.6l2.6 .1-2-1.5-2.6 1.2z"/>
<path color="#49cb85" d="M298.1 353.5l2.6 2.5-2-6.3-2.6-.6z"/>
<path color="#01b9c6" d="M281.7 361.9l2.6-9.1-2 4.4-2.6-1z"/>
<path color="#4269fe" d="M265.3 367.2l2.6 1.2-2-1.8-2.6-.9z"/>
<path color="#269ae8" d="M319.2 361.5l2.6 .6-2-.6-2.6 1.7z"/>
<path color="#8acb52" d="M248.9 350.1l2.6-.9-2-.1-2.6-1.4z"/>
<path color="#17bfb6" d="M302.8 357.9l2.6-2.5-2.1-1-2.6 1.6z"/>
<path color="#42ca8b" d="M286.3 351.4l2.6 .2-2 3.1-2.6-1.9z"/>
<path color="#3678fe" d="M269.9 366.1l2.6-2.6-2 1.7-2.6 3.2z"/>
<path color="#23a0e5" d="M323.8 362.5l2.6-1.1-2-.8-2.6 1.5z"/>
<path color="#3bc992" d="M253.5 353.2l2.6 1.9-2-.7-2.6-5.2z"/>
<path color="#06b6ce" d="M307.4 355.4l2.6 8.1-2-4.5-2.6-3.6z"/>
<path color="#78cc5f" d="M290.9 351.7l2.6-5.2-2 5.3-2.6-.2z"/>
<path color="#2a93ee" d="M274.5 362.7l2.6 .6-2-.5-2.6 .7z"/>
<path color="#06b5ce" d="M258.1 356.4l2.6 5.2-2-2-2.6-4.5z"/>
<path color="#2994ed" d="M312 363.5l2.6 1.3-2-3.2-2.6 1.9z"/>
<path color="#bbc430" d="M241.7 346.7l2.6 .9-2-.2-2.6 .5z"/>
<path color="#8ccb50" d="M295.5 350.1l2.6 3.4-2-4.4-2.6-2.6z"/>
<path color="#259be7" d="M279.1 367.8l2.6-5.9-2-5.7-2.6 7.1z"/>
<path color="#2d8af4" d="M262.7 362.6l2.6 4.6-2-1.5-2.6-4.1z"/>
<path color="#2895ec" d="M316.6 364l2.6-2.5-2 1.7-2.6 1.6z"/>
<path color="#abc739" d="M246.3 347.9l2.6 2.2-2-2.4-2.6-.1z"/>
<path color="#2ac3a9" d="M300.2 354.6l2.6 3.3-2.1-1.9-2.6-2.5z"/>
<path color="#307ffb" d="M267.3 361.2l2.6 4.9-2 2.3-2.6-1.2z"/>
<path color="#259ce7" d="M321.2 365l2.6-2.5-2-.4-2.6-.6z"/>
<path color="#71cd64" d="M250.9 351.4l2.6 1.8-2-4-2.6 .9z"/>
<path color="#25c2ad" d="M304.8 355.6l2.6-.2-2 0-2.6 2.5z"/>
<path color="#2a92ee" d="M271.9 363.1l2.6-.4-2 .8-2.6 2.6z"/>
<path color="#259ce7" d="M325.8 364.9l2.6-1.6-2-1.9-2.6 1.1z"/>
<path color="#38c896" d="M255.5 351.9l2.6 4.5-2-1.3-2.6-1.9z"/>
<path color="#1aabde" d="M309.4 361.5l2.6 2-2 0-2.6-8.1z"/>
<path color="#d2bf27" d="M239.1 346.5l2.6 .2-2 1.2-2.6-1.4z"/>
<path color="#2b92ee" d="M276.5 362.7l2.6 5.1-2-4.5-2.6-.6z"/>
<path color="#15afd9" d="M260.1 360.2l2.6 2.4-2-1-2.6-5.2z"/>
<path color="#2b92ee" d="M314 365.7l2.6-1.7-2 .8-2.6-1.3z"/>
<path color="#c6c22a" d="M243.7 349l2.6-1.1-2-.3-2.6-.9z"/>
<path color="#51cc7f" d="M297.6 355l2.6-.4-2.1-1.1-2.6-3.4z"/>
<path color="#2797eb" d="M264.7 364.1l2.6-2.9-2 6-2.6-4.6z"/>
<path color="#2798ea" d="M318.6 365.4l2.6-.4-2-3.5-2.6 2.5z"/>
<path color="#afc637" d="M248.3 347l2.6 4.4-2-1.3-2.6-2.2z"/>
<path color="#2ec4a5" d="M302.2 356.3l2.6-.7-2 2.3-2.6-3.3z"/>
<path color="#2797ea" d="M269.3 365.2l2.6-2.1-2 3-2.6-4.9z"/>
<path color="#2699e9" d="M323.2 363.9l2.6 1-2-2.4-2.6 2.5z"/>
<path color="#6dcd67" d="M252.9 351.8l2.6 .1-2 1.3-2.6-1.8z"/>
<path color="#10beba" d="M306.8 360l2.6 1.5-2-6.1-2.6 .2z"/>
<path color="#dfbc2a" d="M236.5 347.9l2.6-1.4-2 0-2.6 0z"/>
<path color="#22a1e4" d="M273.9 363.1l2.6-.4-2 0-2.6 .4z"/>
<path color="#2895ec" d="M327.8 365.7l2.6-.4-2-2-2.6 1.6z"/>
<path color="#31c69f" d="M257.5 354.5l2.6 5.7-2-3.8-2.6-4.5z"/>
<path color="#259de7" d="M311.4 364.5l2.6 1.2-2-2.2-2.6-2z"/>
<path color="#cfc028" d="M241.1 349.7l2.6-.7-2-2.3-2.6-.2z"/>
<path color="#1da9e0" d="M262.1 361.5l2.6 2.6-2-1.5-2.6-2.4z"/>
<path color="#2797ea" d="M316 363.9l2.6 1.5-2-1.4-2.6 1.7z"/>
<path color="#ddbd29" d="M245.7 345.9l2.6 1.1-2 .9-2.6 1.1z"/>
<path color="#33c69e" d="M299.6 359.1l2.6-2.8-2-1.7-2.6 .4z"/>
<path color="#20a4e3" d="M266.7 361.3l2.6 3.9-2-4-2.6 2.9z"/>
<path color="#259be8" d="M320.6 364.1l2.6-.2-2 1.1-2.6 .4z"/>
<path color="#a5c83d" d="M250.3 351.6l2.6 .2-2-.4-2.6-4.4z"/>
<path color="#1bc0b4" d="M304.2 361.3l2.6-1.3-2-4.4-2.6 .7z"/>
<path color="#d7be28" d="M233.9 348.7l2.6-.8-2-1.4-2.6 2.2z"/>
<path color="#21a3e3" d="M271.3 361.8l2.6 1.3-2 0-2.6 2.1z"/>
<path color="#2896eb" d="M325.2 367.2l2.6-1.5-2-.8-2.6-1z"/>
<path color="#67cd6c" d="M254.9 354.8l2.6-.3-2-2.6-2.6-.1z"/>
<path color="#17aeda" d="M308.8 362.5l2.6 2-2-3-2.6-1.5z"/>
<path color="#d9bd28" d="M238.5 348.3l2.6 1.4-2-3.2-2.6 1.4z"/>
<path color="#2c8ff1" d="M329.8 366.5l2.6 2.1-2-3.3-2.6 .4z"/>
<path color="#11beba" d="M259.5 359.2l2.6 2.3-2-1.3-2.6-5.7z"/>
<path color="#23a0e5" d="M313.4 363.3l2.6 .6-2 1.8-2.6-1.2z"/>
<path color="#e6bb2d" d="M243.1 345.8l2.6 .1-2 3.1-2.6 .7z"/>
<path color="#19addc" d="M264.1 362.8l2.6-1.5-2 2.8-2.6-2.6z"/>
<path color="#249ee6" d="M318 365.9l2.6-1.8-2 1.3-2.6-1.5z"/>
<path color="#dcbd29" d="M247.7 349.3l2.6 2.3-2-4.6-2.6-1.1z"/>
<path color="#19bfb5" d="M301.6 359.5l2.6 1.8-2-5-2.6 2.8z"/>
<path color="#05b6cd" d="M268.7 356.2l2.6 5.6-2 3.4-2.6-3.9z"/>
<path color="#2797eb" d="M322.6 368.9l2.6-1.7-2-3.3-2.6 .2z"/>
<path color="#75cc61" d="M252.3 355.2l2.6-.4-2-3-2.6-.2z"/>
<path color="#04b6cd" d="M306.2 362l2.6 .5-2-2.5-2.6 1.3z"/>
<path color="#dbbd29" d="M235.9 349.8l2.6-1.5-2-.4-2.6 .8z"/>
<path color="#01b9c7" d="M273.3 357.8l2.6 2.7-2 2.6-2.6-1.3z"/>
<path color="#2c8ff1" d="M327.2 369.3l2.6-2.8-2-.8-2.6 1.5z"/>
<path color="#65cd6e" d="M256.9 348.6l2.6 10.6-2-4.7-2.6 .3z"/>
<path color="#13b0d7" d="M310.8 360.7l2.6 2.6-2 1.2-2.6-2z"/>
<path color="#ebba31" d="M240.5 348.1l2.6-2.3-2 3.9-2.6-1.4z"/>
<path color="#2f81fa" d="M331.8 371.1l2.6-1.5-2-1-2.6-2.1z"/>
<path color="#01b9c6" d="M261.5 360.2l2.6 2.6-2-1.3-2.6-2.3z"/>
<path color="#269ae8" d="M315.4 371l2.6-5.1-2-2-2.6-.6z"/>
<path color="#fdbd3d" d="M245.1 346.4l2.6 2.9-2-3.4-2.6-.1z"/>
<path color="#0abdbd" d="M266.1 360.9l2.6-4.7-2 5.1-2.6 1.5z"/>
<path color="#2a93ee" d="M320 369.8l2.6-.9-2-4.8-2.6 1.8z"/>
<path color="#aec637" d="M249.7 350.6l2.6 4.6-2-3.6-2.6-2.3z"/>
<path color="#02bac5" d="M303.6 362.6l2.6-.6-2-.7-2.6-1.8z"/>
<path color="#33c69d" d="M270.7 356l2.6 1.8-2 4-2.6-5.6z"/>
<path color="#2d8bf4" d="M324.6 367.8l2.6 1.5-2-2.1-2.6 1.7z"/>
<path color="#acc738" d="M254.3 349.4l2.6-.8-2 6.2-2.6 .4z"/>
<path color="#03b7cb" d="M308.2 363.7l2.6-3-2 1.8-2.6-.5z"/>
<path color="#e2bc2b" d="M237.9 350.7l2.6-2.6-2 .2-2.6 1.5z"/>
<path color="#2f81fa" d="M329.2 371.9l2.6-.8-2-4.6-2.6 2.8z"/>
<path color="#6ecd66" d="M258.9 351.3l2.6 8.9-2-1-2.6-10.6z"/>
<path color="#21a3e3" d="M312.8 367.1l2.6 3.9-2-7.7-2.6-2.6z"/>
<path color="#fdbd3d" d="M242.5 349.7l2.6-3.3-2-.6-2.6 2.3z"/>
<path color="#3f6eff" d="M333.8 374.4l2.6-2.3-2-2.5-2.6 1.5z"/>
<path color="#0abdbd" d="M263.5 360.2l2.6 .7-2 1.9-2.6-2.6z"/>
<path color="#2e83f9" d="M317.4 371.9l2.6-2.1-2-3.9-2.6 5.1z"/>
<path color="#ecba32" d="M247.1 350.1l2.6 .5-2-1.3-2.6-2.9z"/>
<path color="#25c2ad" d="M301 358.4l2.6 4.2-2-3.1-2.6 0z"/>
<path color="#41ca8c" d="M268.1 356.8l2.6-.8-2 .2-2.6 4.7z"/>
<path color="#2c90f0" d="M322 367.3l2.6 .5-2 1.1-2.6 .9z"/>
<path color="#bfc32e" d="M251.7 352.1l2.6-2.7-2 5.8-2.6-4.6z"/>
<path color="#01bac6" d="M305.6 361.1l2.6 2.6-2-1.7-2.6 .6z"/>
<path color="#4fcc81" d="M272.7 352.6l2.6 9.1-2-3.9-2.6-1.8z"/>
<path color="#2e84f8" d="M326.6 371l2.6 .9-2-2.6-2.6-1.5z"/>
<path color="#d3bf27" d="M256.3 354.9l2.6-3.6-2-2.7-2.6 .8z"/>
<path color="#14b0d8" d="M310.2 366.1l2.6 1-2-6.4-2.6 3z"/>
<path color="#e9bb2f" d="M239.9 350.4l2.6-.7-2-1.6-2.6 2.6z"/>
<path color="#3f6eff" d="M331.2 372.6l2.6 1.8-2-3.3-2.6 .8z"/>
<path color="#56cc7b" d="M260.9 355.7l2.6 4.5-2 0-2.6-8.9z"/>
<path color="#2f81fa" d="M314.8 372.3l2.6-.4-2-.9-2.6-3.9z"/>
<path color="#f1ba37" d="M244.5 351.4l2.6-1.3-2-3.7-2.6 3.3z"/>
<path color="#3c72ff" d="M335.8 371.2l2.6 .5-2 .4-2.6 2.3z"/>
<path color="#32c69f" d="M265.5 359.8l2.6-3-2 4.1-2.6-.7z"/>
<path color="#2d88f6" d="M319.4 371.2l2.6-3.9-2 2.5-2.6 2.1z"/>
<path color="#d0c028" d="M249.1 353.8l2.6-1.7-2-1.5-2.6-.5z"/>
<path color="#2cc4a7" d="M303 359.6l2.6 1.5-2 1.5-2.6-4.2z"/>
<path color="#82cc58" d="M270.1 356.4l2.6-3.8-2 3.4-2.6 .8z"/>
<path color="#2c8ef1" d="M324 371.9l2.6-.9-2-3.2-2.6-.5z"/>
<path color="#cec028" d="M253.7 351.5l2.6 3.4-2-5.5-2.6 2.7z"/>
<path color="#02b7cb" d="M307.6 364.2l2.6 1.9-2-2.4-2.6-2.6z"/>
<path color="#3579fd" d="M328.6 373l2.6-.4-2-.7-2.6-.9z"/>
<path color="#8ecb4e" d="M258.3 358.6l2.6-2.9-2-4.4-2.6 3.6z"/>
<path color="#2797eb" d="M312.2 369.2l2.6 3.1-2-5.2-2.6-1z"/>
<path color="#e3bb2c" d="M241.9 352.5l2.6-1.1-2-1.7-2.6 .7z"/>
<path color="#3b73fe" d="M333.2 373.7l2.6-2.5-2 3.2-2.6-1.8z"/>
<path color="#4ccb83" d="M262.9 357.3l2.6 2.5-2 .4-2.6-4.5z"/>
<path color="#2f81fa" d="M316.8 370.3l2.6 .9-2 .7-2.6 .4z"/>
<path color="#c9c129" d="M246.5 355.5l2.6-1.7-2-3.7-2.6 1.3z"/>
<path color="#32c69e" d="M300.4 360.7l2.6-1.1-2-1.2-2.6 4.5z"/>
<path color="#2e85f8" d="M337.8 372.4l2.6-2.6-2 1.9-2.6-.5z"/>
<path color="#56cc7b" d="M267.5 359.1l2.6-2.7-2 .4-2.6 3z"/>
<path color="#2a93ed" d="M321.4 368.2l2.6 3.7-2-4.6-2.6 3.9z"/>
<path color="#e2bc2b" d="M251.1 348.9l2.6 2.6-2 .6-2.6 1.7z"/>
<path color="#1dc0b3" d="M305 364.4l2.6-.2-2-3.1-2.6-1.5z"/>
<path color="#77cc60" d="M272.1 361.4l2.6-4.5-2-4.3-2.6 3.8z"/>
<path color="#2f82f9" d="M326 371.4l2.6 1.6-2-2-2.6 .9z"/>
<path color="#bec32e" d="M255.7 350l2.6 8.6-2-3.7-2.6-3.4z"/>
<path color="#1ea8e0" d="M309.6 369.4l2.6-.2-2-3.1-2.6-1.9z"/>
<path color="#416bfe" d="M330.6 378.1l2.6-4.4-2-1.1-2.6 .4z"/>
<path color="#75cc61" d="M260.3 356.7l2.6 .6-2-1.6-2.6 2.9z"/>
<path color="#2b90ef" d="M314.2 369.9l2.6 .4-2 2-2.6-3.1z"/>
<path color="#c8c129" d="M243.9 354.3l2.6 1.2-2-4.1-2.6 1.1z"/>
<path color="#317dfc" d="M335.2 374.2l2.6-1.8-2-1.2-2.6 2.5z"/>
<path color="#68cd6c" d="M264.9 355.2l2.6 3.9-2 .7-2.6-2.5z"/>
<path color="#2896eb" d="M318.8 370.4l2.6-2.2-2 3-2.6-.9z"/>
<path color="#d6be28" d="M248.5 353.7l2.6-4.8-2 4.9-2.6 1.7z"/>
<path color="#2fc5a3" d="M302.4 362.1l2.6 2.3-2-4.8-2.6 1.1z"/>
<path color="#2d8bf4" d="M339.8 373.2l2.6-2.1-2-1.3-2.6 2.6z"/>
<path color="#5bcc77" d="M269.5 358l2.6 3.4-2-5-2.6 2.7z"/>
<path color="#269ae9" d="M323.4 367.8l2.6 3.6-2 .5-2.6-3.7z"/>
<path color="#fdbd3d" d="M253.1 351.9l2.6-1.9-2 1.5-2.6-2.6z"/>
<path color="#01b8c9" d="M307 363l2.6 6.4-2-5.2-2.6 .2z"/>
<path color="#41ca8c" d="M274.2 361.5l2.6-.3-2.1-4.3-2.6 4.5z"/>
<path color="#3974fe" d="M328 374.2l2.6 3.9-2-5.1-2.6-1.6z"/>
<path color="#b7c532" d="M257.7 354.6l2.6 2.1-2 1.9-2.6-8.6z"/>
<path color="#20a4e3" d="M311.6 366l2.6 3.9-2-.7-2.6 .2z"/>
<path color="#416bfe" d="M332.6 375.2l2.6-1-2-.5-2.6 4.4z"/>
<path color="#a8c73b" d="M262.3 354.2l2.6 1-2 2.1-2.6-.6z"/>
<path color="#259ce7" d="M316.2 369.1l2.6 1.3-2-.1-2.6-.4z"/>
<path color="#bec32e" d="M245.9 355.9l2.6-2.2-2 1.8-2.6-1.2z"/>
<path color="#03bbc2" d="M299.8 370.6l2.6-8.5-2-1.4-2.6 6z"/>
<path color="#2e86f7" d="M337.2 371.5l2.6 1.7-2-.8-2.6 1.8z"/>
<path color="#93ca4b" d="M266.9 355.7l2.6 2.3-2 1.1-2.6-3.9z"/>
<path color="#2796eb" d="M320.8 377.3l2.6-9.5-2 .4-2.6 2.2z"/>
<path color="#eeba34" d="M250.5 355.3l2.6-3.4-2-3-2.6 4.8z"/>
<path color="#22c1b0" d="M304.4 365.2l2.6-2.2-2 1.4-2.6-2.3z"/>
<path color="#61cd71" d="M271.6 356.5l2.6 5-2.1-.1-2.6-3.4z"/>
<path color="#2a93ee" d="M325.4 372.8l2.6 1.4-2-2.8-2.6-3.6z"/>
<path color="#efba35" d="M255.1 354l2.6 .6-2-4.6-2.6 1.9z"/>
<path color="#04b6cd" d="M309 367.8l2.6-1.8-2 3.4-2.6-6.4z"/>
<path color="#38c896" d="M276.2 361.9l2.6 .7-2-1.4-2.6 .3z"/>
<path color="#3f6fff" d="M330 375.1l2.6 .1-2 2.9-2.6-3.9z"/>
<path color="#cac129" d="M259.7 354.4l2.6-.2-2 2.5-2.6-2.1z"/>
<path color="#19addc" d="M313.6 368.5l2.6 .6-2 .8-2.6-3.9z"/>
<path color="#23a0e5" d="M297.2 371.7l2.6-1.1-2-3.9-2.6 4.6z"/>
<path color="#2e84f8" d="M334.6 374.1l2.6-2.6-2 2.7-2.6 1z"/>
<path color="#b1c636" d="M264.3 360.6l2.6-4.9-2-.5-2.6-1z"/>
<path color="#2b91ef" d="M318.2 371.9l2.6 5.4-2-6.9-2.6-1.3z"/>
<path color="#bcc42f" d="M247.9 358.5l2.6-3.2-2-1.6-2.6 2.2z"/>
<path color="#13b0d7" d="M301.8 374.2l2.6-9-2-3.1-2.6 8.5z"/>
<path color="#98ca47" d="M269 360.8l2.6-4.3-2.1 1.5-2.6-2.3z"/>
<path color="#2c8ff1" d="M322.8 372.8l2.6 0-2-5-2.6 9.5z"/>
<path color="#e2bc2b" d="M252.5 355.3l2.6-1.3-2-2.1-2.6 3.4z"/>
<path color="#02bac4" d="M306.4 369.7l2.6-1.9-2-4.8-2.6 2.2z"/>
<path color="#6acd6a" d="M273.6 359.6l2.6 2.3-2-.4-2.6-5z"/>
<path color="#2d89f5" d="M327.4 372.5l2.6 2.6-2-.9-2.6-1.4z"/>
<path color="#e6bb2d" d="M257.1 353.6l2.6 .8-2 .2-2.6-.6z"/>
<path color="#12b1d6" d="M311 371.2l2.6-2.7-2-2.5-2.6 1.8z"/>
<path color="#2994ed" d="M294.6 371.1l2.6 .6-2-.4-2.6 3.6z"/>
<path color="#2cc4a6" d="M278.2 364.3l2.6 2.7-2-4.4-2.6-.7z"/>
<path color="#317dfc" d="M332 376.5l2.6-2.4-2 1.1-2.6-.1z"/>
<path color="#c0c32d" d="M261.7 356.4l2.6 4.2-2-6.4-2.6 .2z"/>
<path color="#1fa5e2" d="M315.6 371.8l2.6 .1-2-2.8-2.6-.6z"/>
<path color="#2896ec" d="M299.2 372.7l2.6 1.5-2-3.6-2.6 1.1z"/>
<path color="#01b8c9" d="M282.8 369.8l2.6-5.2-2 3-2.6-.6z"/>
<path color="#89cb52" d="M266.4 359.2l2.6 1.6-2.1-5.1-2.6 4.9z"/>
<path color="#2b91ef" d="M320.2 370.4l2.6 2.4-2 4.5-2.6-5.4z"/>
<path color="#bec32e" d="M249.9 357.7l2.6-2.4-2 0-2.6 3.2z"/>
<path color="#20a4e3" d="M303.8 373.7l2.6-4-2-4.5-2.6 9z"/>
<path color="#15afd9" d="M287.4 368.4l2.6 3.4-2-.4-2.6-6.8z"/>
<path color="#7acc5d" d="M271 362.7l2.6-3.1-2-3.1-2.6 4.3z"/>
<path color="#269ae8" d="M324.8 370.9l2.6 1.6-2 .3-2.6 0z"/>
<path color="#e5bb2d" d="M254.5 356.6l2.6-3-2 .4-2.6 1.3z"/>
<path color="#05b6cd" d="M308.4 364.1l2.6 7.1-2-3.4-2.6 1.9z"/>
<path color="#2b91ef" d="M292 375l2.6-3.9-2 3.8-2.6-3.1z"/>
<path color="#44cb89" d="M275.6 364.6l2.6-.3-2-2.4-2.6-2.3z"/>
<path color="#2d88f6" d="M329.4 374.5l2.6 2-2-1.4-2.6-2.6z"/>
<path color="#e6bb2d" d="M259.1 355.8l2.6 .6-2-2-2.6-.8z"/>
<path color="#17aeda" d="M313 367.7l2.6 4.1-2-3.3-2.6 2.7z"/>
<path color="#2a92ee" d="M296.6 378l2.6-5.3-2-1-2.6-.6z"/>
<path color="#06b5ce" d="M280.2 372.6l2.6-2.8-2-2.8-2.6-2.7z"/>
<path color="#adc638" d="M263.8 356.7l2.6 2.5-2.1 1.4-2.6-4.2z"/>
<path color="#1caadf" d="M317.6 368.5l2.6 1.9-2 1.5-2.6-.1z"/>
<path color="#2e86f7" d="M301.2 379.4l2.6-5.7-2 .5-2.6-1.5z"/>
<path color="#04b6cd" d="M284.8 371.3l2.6-2.9-2-3.8-2.6 5.2z"/>
<path color="#7dcc5c" d="M268.4 359.3l2.6 3.4-2-1.9-2.6-1.6z"/>
<path color="#1aabdd" d="M322.2 368.5l2.6 2.4-2 1.9-2.6-2.4z"/>
<path color="#ccc028" d="M251.9 358.2l2.6-1.6-2-1.3-2.6 2.4z"/>
<path color="#05b6cd" d="M305.8 368.1l2.6-4-2 5.6-2.6 4z"/>
<path color="#1caadf" d="M289.4 367.9l2.6 7.1-2-3.2-2.6-3.4z"/>
<path color="#4ccb83" d="M273 364.7l2.6-.1-2-5-2.6 3.1z"/>
<path color="#259de7" d="M326.8 373.8l2.6 .7-2-2-2.6-1.6z"/>
<path color="#e8bb2e" d="M256.5 356.5l2.6-.7-2-2.2-2.6 3z"/>
<path color="#17bfb6" d="M310.4 365.2l2.6 2.5-2 3.5-2.6-7.1z"/>
<path color="#2d8bf3" d="M294 375.2l2.6 2.8-2-6.9-2.6 3.9z"/>
<path color="#07bcc0" d="M277.6 369.5l2.6 3.1-2-8.3-2.6 .3z"/>
<path color="#d8be28" d="M261.2 358.1l2.6-1.4-2.1-.3-2.6-.6z"/>
<path color="#01b9c6" d="M315 366.9l2.6 1.6-2 3.3-2.6-4.1z"/>
<path color="#416bfe" d="M298.6 383.6l2.6-4.2-2-6.7-2.6 5.3z"/>
<path color="#20a4e3" d="M282.2 374.3l2.6-3-2-1.5-2.6 2.8z"/>
<path color="#b5c533" d="M265.8 359.9l2.6-.6-2-.1-2.6-2.5z"/>
<path color="#09bdbe" d="M319.6 365.3l2.6 3.2-2 1.9-2.6-1.9z"/>
<path color="#2d89f5" d="M303.2 381.1l2.6-13-2 5.6-2.6 5.7z"/>
<path color="#04b6cd" d="M286.8 370.3l2.6-2.4-2 .5-2.6 2.9z"/>
<path color="#59cc78" d="M270.4 365.1l2.6-.4-2-2-2.6-3.4z"/>
<path color="#0fb2d4" d="M324.2 369l2.6 4.8-2-2.9-2.6-2.4z"/>
<path color="#dabd28" d="M253.9 357.1l2.6-.6-2 .1-2.6 1.6z"/>
<path color="#18bfb6" d="M307.8 373.3l2.6-8.1-2-1.1-2.6 4z"/>
<path color="#1ea7e1" d="M291.4 370.5l2.6 4.7-2-.2-2.6-7.1z"/>
<path color="#2bc3a8" d="M275 366.8l2.6 2.7-2-4.9-2.6 .1z"/>
<path color="#d5be28" d="M258.6 360.2l2.6-2.1-2.1-2.3-2.6 .7z"/>
<path color="#26c2ad" d="M312.4 368.7l2.6-1.8-2 .8-2.6-2.5z"/>
<path color="#337bfd" d="M296 373.5l2.6 10.1-2-5.6-2.6-2.8z"/>
<path color="#19acdc" d="M279.6 370l2.6 4.3-2-1.7-2.6-3.1z"/>
<path color="#bfc32d" d="M263.2 361.2l2.6-1.3-2-3.2-2.6 1.4z"/>
<path color="#2fc5a3" d="M317 365.9l2.6-.6-2 3.2-2.6-1.6z"/>
<path color="#465dfa" d="M300.6 379.2l2.6 1.9-2-1.7-2.6 4.2z"/>
<path color="#1aacdd" d="M284.2 371.5l2.6-1.2-2 1-2.6 3z"/>
<path color="#92ca4b" d="M267.8 360.5l2.6 4.6-2-5.8-2.6 .6z"/>
<path color="#2dc4a5" d="M321.6 365.2l2.6 3.8-2-.5-2.6-3.2z"/>
<path color="#2699e9" d="M305.2 376.3l2.6-3-2-5.2-2.6 13z"/>
<path color="#03b7cc" d="M288.8 372.3l2.6-1.8-2-2.6-2.6 2.4z"/>
<path color="#3eca8f" d="M272.4 364.4l2.6 2.4-2-2.1-2.6 .4z"/>
<path color="#d0c027" d="M256 360.6l2.6-.4-2.1-3.7-2.6 .6z"/>
<path color="#0abdbd" d="M309.8 369.8l2.6-1.1-2-3.5-2.6 8.1z"/>
<path color="#1da8e0" d="M293.4 372.3l2.6 1.2-2 1.7-2.6-4.7z"/>
<path color="#1dc0b3" d="M277 366.7l2.6 3.3-2-.5-2.6-2.7z"/>
<path color="#b6c532" d="M260.6 360.8l2.6 .4-2-3.1-2.6 2.1z"/>
<path color="#32c69f" d="M314.4 366.4l2.6-.5-2 1-2.6 1.8z"/>
<path color="#3777fe" d="M298 379.3l2.6-.1-2 4.4-2.6-10.1z"/>
<path color="#15afd9" d="M281.6 372.4l2.6-.9-2 2.8-2.6-4.3z"/>
<path color="#bcc42f" d="M265.2 358.6l2.6 1.9-2-.6-2.6 1.3z"/>
<path color="#51cc7f" d="M319 364.1l2.6 1.1-2 .1-2.6 .6z"/>
<path color="#337afd" d="M302.6 378.6l2.6-2.3-2 4.8-2.6-1.9z"/>
<path color="#14b0d8" d="M286.2 374.5l2.6-2.2-2-2-2.6 1.2z"/>
<path color="#82cc57" d="M269.8 361.2l2.6 3.2-2 .7-2.6-4.6z"/>
<path color="#1ca9df" d="M307.2 374.4l2.6-4.6-2 3.5-2.6 3z"/>
<path color="#04b6cd" d="M290.8 370.1l2.6 2.2-2-1.8-2.6 1.8z"/>
<path color="#4ccb83" d="M274.4 363.9l2.6 2.8-2 .1-2.6-2.4z"/>
<path color="#b3c534" d="M258 362.2l2.6-1.4-2-.6-2.6 .4z"/>
<path color="#2ec5a4" d="M311.8 367.2l2.6-.8-2 2.3-2.6 1.1z"/>
<path color="#23a1e4" d="M295.4 374l2.6 5.3-2-5.8-2.6-1.2z"/>
<path color="#08bcbf" d="M279 371.5l2.6 .9-2-2.4-2.6-3.3z"/>
<path color="#c7c12a" d="M262.6 360.2l2.6-1.6-2 2.6-2.6-.4z"/>
<path color="#67cd6c" d="M316.4 362.7l2.6 1.4-2 1.8-2.6 .5z"/>
<path color="#2f82fa" d="M300 377.7l2.6 .9-2 .6-2.6 .1z"/>
<path color="#17aedb" d="M283.6 374.3l2.6 .2-2-3-2.6 .9z"/>
<path color="#c4c22a" d="M267.2 362l2.6-.8-2-.7-2.6-1.9z"/>
<path color="#2b91ef" d="M304.6 379.8l2.6-5.4-2 1.9-2.6 2.3z"/>
<path color="#15afd9" d="M288.2 375.9l2.6-5.8-2 2.2-2.6 2.2z"/>
<path color="#a6c73c" d="M271.8 359.3l2.6 4.6-2 .5-2.6-3.2z"/>
<path color="#01b8c9" d="M309.2 376.5l2.6-9.3-2 2.6-2.6 4.6z"/>
<path color="#01b8ca" d="M292.8 371.5l2.6 2.5-2-1.7-2.6-2.2z"/>
<path color="#43ca8a" d="M276.4 365.2l2.6 6.3-2-4.8-2.6-2.8z"/>
<path color="#bdc32e" d="M260 362.4l2.6-2.2-2 .6-2.6 1.4z"/>
<path color="#59cc79" d="M313.8 368.3l2.6-5.6-2 3.7-2.6 .8z"/>
<path color="#23a1e4" d="M297.4 372l2.6 5.7-2 1.6-2.6-5.3z"/>
<path color="#05b6ce" d="M281 371.9l2.6 2.4-2-1.9-2.6-.9z"/>
<path color="#cbc029" d="M264.6 362.8l2.6-.8-2-3.4-2.6 1.6z"/>
<path color="#2b90f0" d="M302 375.9l2.6 3.9-2-1.2-2.6-.9z"/>
<path color="#1fa6e2" d="M285.6 376.4l2.6-.5-2-1.4-2.6-.2z"/>
<path color="#c0c32d" d="M269.2 364.3l2.6-5-2 1.9-2.6 .8z"/>
<path color="#2699e9" d="M306.6 377.9l2.6-1.4-2-2.1-2.6 5.4z"/>
<path color="#10b2d5" d="M290.2 377.5l2.6-6-2-1.4-2.6 5.8z"/>
<path color="#b3c534" d="M273.8 361.9l2.6 3.3-2-1.3-2.6-4.6z"/>
<path color="#0dbdbc" d="M311.2 374.6l2.6-6.3-2-1.1-2.6 9.3z"/>
<path color="#01bac6" d="M294.8 372.5l2.6-.5-2 2-2.6-2.5z"/>
<path color="#39c895" d="M278.4 365.2l2.6 6.7-2-.4-2.6-6.3z"/>
<path color="#c8c129" d="M262 361.7l2.6 1.1-2-2.6-2.6 2.2z"/>
<path color="#15afd9" d="M299.4 373.1l2.6 2.8-2 1.8-2.6-5.7z"/>
<path color="#01b8ca" d="M283 369.7l2.6 6.7-2-2.1-2.6-2.4z"/>
<path color="#bac430" d="M266.6 361.5l2.6 2.8-2-2.3-2.6 .8z"/>
<path color="#259ce7" d="M304 376.4l2.6 1.5-2 1.9-2.6-3.9z"/>
<path color="#1ea7e1" d="M287.6 374.2l2.6 3.3-2-1.6-2.6 .5z"/>
<path color="#c1c32d" d="M271.2 365l2.6-3.1-2-2.6-2.6 5z"/>
<path color="#20a4e3" d="M308.6 378l2.6-3.4-2 1.9-2.6 1.4z"/>
<path color="#0bb3d2" d="M292.2 376.1l2.6-3.6-2-1-2.6 6z"/>
<path color="#9bc944" d="M275.8 365.9l2.6-.7-2 0-2.6-3.3z"/>
<path color="#02bac5" d="M296.8 375.9l2.6-2.8-2-1.1-2.6 .5z"/>
<path color="#4ecc81" d="M280.4 365.6l2.6 4.1-2 2.2-2.6-6.7z"/>
<path color="#d1bf27" d="M264 362.9l2.6-1.4-2 1.3-2.6-1.1z"/>
<path color="#06b5cf" d="M301.4 372.6l2.6 3.8-2-.5-2.6-2.8z"/>
<path color="#03bbc3" d="M285 373.1l2.6 1.1-2 2.2-2.6-6.7z"/>
<path color="#c0c32d" d="M268.6 362.5l2.6 2.5-2-.7-2.6-2.8z"/>
<path color="#1fa6e2" d="M306 376.2l2.6 1.8-2-.1-2.6-1.5z"/>
<path color="#14b0d8" d="M289.6 374.9l2.6 1.2-2 1.4-2.6-3.3z"/>
<path color="#b0c636" d="M273.2 364.6l2.6 1.3-2-4-2.6 3.1z"/>
<path color="#14b0d8" d="M294.2 379l2.6-3.1-2-3.4-2.6 3.6z"/>
<path color="#acc738" d="M277.8 362.2l2.6 3.4-2-.4-2.6 .7z"/>
<path color="#07bcc0" d="M298.8 373.6l2.6-1-2 .5-2.6 2.8z"/>
<path color="#56cc7b" d="M282.4 366.4l2.6 6.7-2-3.4-2.6-4.1z"/>
<path color="#ddbd29" d="M266 363.1l2.6-.6-2-1-2.6 1.4z"/>
<path color="#07bcc0" d="M303.4 371l2.6 5.2-2 .2-2.6-3.8z"/>
<path color="#01b8ca" d="M287 377.5l2.6-2.6-2-.7-2.6-1.1z"/>
<path color="#cbc029" d="M270.6 362.9l2.6 1.7-2 .4-2.6-2.5z"/>
<path color="#1caadf" d="M291.6 380l2.6-1-2-2.9-2.6-1.2z"/>
<path color="#bac430" d="M275.2 366.7l2.6-4.5-2 3.7-2.6-1.3z"/>
<path color="#13b0d7" d="M296.2 378.5l2.6-4.9-2 2.3-2.6 3.1z"/>
<path color="#c6c22a" d="M279.8 363.5l2.6 2.9-2-.8-2.6-3.4z"/>
<path color="#2dc4a5" d="M300.8 372.8l2.6-1.8-2 1.6-2.6 1z"/>
<path color="#33c69d" d="M284.4 370.4l2.6 7.1-2-4.4-2.6-6.7z"/>
<path color="#e5bb2d" d="M268 363.4l2.6-.5-2-.4-2.6 .6z"/>
<path color="#0bb3d2" d="M289 374.2l2.6 5.8-2-5.1-2.6 2.6z"/>
<path color="#bdc42f" d="M272.6 367.4l2.6-.7-2-2.1-2.6-1.7z"/>
<path color="#1ea7e1" d="M293.6 377.9l2.6 .6-2 .5-2.6 1z"/>
<path color="#c5c22a" d="M277.2 368.4l2.6-4.9-2-1.3-2.6 4.5z"/>
<path color="#02bac5" d="M298.2 378.5l2.6-5.7-2 .8-2.6 4.9z"/>
<path color="#93ca4a" d="M281.8 370.4l2.6 0-2-4-2.6-2.9z"/>
<path color="#29c3aa" d="M286.4 373.1l2.6 1.1-2 3.3-2.6-7.1z"/>
<path color="#cbc129" d="M270 367.8l2.6-.4-2-4.5-2.6 .5z"/>
<path color="#01b8c9" d="M291 374.7l2.6 3.2-2 2.1-2.6-5.8z"/>
<path color="#91ca4c" d="M274.6 370.4l2.6-2-2-1.7-2.6 .7z"/>
<path color="#14b0d8" d="M295.6 379.1l2.6-.6-2 0-2.6-.6z"/>
<path color="#90ca4d" d="M279.2 371.6l2.6-1.2-2-6.9-2.6 4.9z"/>
<path color="#43ca8a" d="M283.8 374.9l2.6-1.8-2-2.7-2.6 0z"/>
<path color="#2cc4a6" d="M288.4 375.6l2.6-.9-2-.5-2.6-1.1z"/>
<path color="#95ca49" d="M272 369.5l2.6 .9-2-3-2.6 .4z"/>
<path color="#01bac6" d="M293 377.5l2.6 1.6-2-1.2-2.6-3.2z"/>
<path color="#6ccd68" d="M276.6 372.3l2.6-.7-2-3.2-2.6 2z"/>
<path color="#3eca90" d="M281.2 375.9l2.6-1-2-4.5-2.6 1.2z"/>
<path color="#2dc4a5" d="M285.8 376.5l2.6-.9-2-2.5-2.6 1.8z"/>
<path color="#20c1b1" d="M290.4 377l2.6 .5-2-2.8-2.6 .9z"/>
<path color="#73cd63" d="M274 372l2.6 .3-2-1.9-2.6-.9z"/>
<path color="#40ca8d" d="M278.6 375l2.6 .9-2-4.3-2.6 .7z"/>
<path color="#2ac3a9" d="M283.2 376.5l2.6 0-2-1.6-2.6 1z"/>
<path color="#23c1af" d="M287.8 377.9l2.6-.9-2-1.4-2.6 .9z"/>
<path color="#54cc7c" d="M276 374.1l2.6 .9-2-2.7-2.6-.3z"/>
<path color="#2fc5a3" d="M280.6 377.3l2.6-.8-2-.6-2.6-.9z"/>
<path color="#1fc1b1" d="M285.2 379.5l2.6-1.6-2-1.4-2.6 0z"/>
<path color="#3dc990" d="M278 375.7l2.6 1.6-2-2.3-2.6-.9z"/>
<path color="#28c3aa" d="M282.6 377.5l2.6 2-2-3-2.6 .8z"/>
<path color="#3dc991" d="M280 375.5l2.6 2-2-.2-2.6-1.6z"/></g>
<text class="tk" x="228.4" y="336.5" text-anchor="end">2</text>
<text class="tk" x="228.4" y="352.1" text-anchor="end">1.5</text>
<text class="tk" x="228.4" y="367.8" text-anchor="end">1</text>
<text class="tk" x="228.4" y="383.6" text-anchor="end">0.5</text>
<text class="tk" x="230.6" y="396.3" text-anchor="middle">10</text>
<text class="tk" x="253.1" y="405.4" text-anchor="middle">5</text>
<text class="tk" x="273.0" y="414.9" text-anchor="middle">0</text>
<text class="tk" x="286.9" y="415.4" text-anchor="middle">0</text>
<text class="tk" x="313.0" y="408.6" text-anchor="middle">5</text>
<text class="tk" x="341.8" y="401.3" text-anchor="middle">10</text>
<text class="lb" transform="translate(209.8 357.8) rotate(-90)" text-anchor="middle">f(x,y) (%)</text>
<text class="lb" x="209.0" y="424.2">y-axis</text>
<text class="lb" x="320.5" y="425.5">x-axis</text>
<text class="cp cb" x="195.6" y="440.9" textLength="12.4" lengthAdjust="spacingAndGlyphs">(h)</text>
<text class="cp" x="214.0" y="440.9" textLength="18.4" lengthAdjust="spacingAndGlyphs">Field</text>
<text class="cp" x="236.8" y="440.9" textLength="8.2" lengthAdjust="spacingAndGlyphs">C:</text>
<text class="cp" x="249.7" y="440.9" textLength="10.2" lengthAdjust="spacingAndGlyphs"><tspan class="it">μ</tspan><tspan class="it" font-size="6.2" dy="-3.3">C</tspan></text>
<text class="cp eq" x="266.9" y="440.9" textLength="7.0" lengthAdjust="spacingAndGlyphs">=</text>
<text class="cp" x="281.6" y="440.9" textLength="23.8" lengthAdjust="spacingAndGlyphs">1.05%,</text>
<text class="cp" x="307.0" y="440.9" textLength="9.3" lengthAdjust="spacingAndGlyphs"><tspan class="it">σ</tspan><tspan class="it" font-size="6.2" dy="-3.3">C</tspan></text>
<text class="cp eq" x="325.2" y="440.9" textLength="6.4" lengthAdjust="spacingAndGlyphs">=</text>
<text class="cp" x="339.0" y="440.9" textLength="19.5" lengthAdjust="spacingAndGlyphs">0.4%,</text>
<text class="cp it" x="195.8" y="451.2" textLength="5.0" lengthAdjust="spacingAndGlyphs">â</text>
<text class="cp eq" x="202.7" y="451.2" textLength="6.3" lengthAdjust="spacingAndGlyphs">=</text>
<text class="cp" x="212.2" y="451.2" textLength="8.3" lengthAdjust="spacingAndGlyphs">12</text>
<text class="cp" x="221.0" y="451.2" textLength="13.4" lengthAdjust="spacingAndGlyphs">μm</text>
</g>
<g>
<path class="gm" d="M468.2 402.6L420.1 380.3M420.1 380.3L420.1 332.8M468.2 402.6L530.6 386.2M530.6 386.2L530.6 338.7M473.6 401.2L425.5 378.9M425.5 378.9L425.5 331.4M464.0 400.7L526.4 384.3M526.4 384.3L526.4 336.8M479.1 399.7L431.0 377.4M431.0 377.4L431.0 329.9M459.8 398.7L522.2 382.3M522.2 382.3L522.2 334.8M484.5 398.3L436.4 376.0M436.4 376.0L436.4 328.5M455.7 396.8L518.1 380.4M518.1 380.4L518.1 332.9M489.9 396.9L441.8 374.6M441.8 374.6L441.8 327.1M451.5 394.8L513.9 378.4M513.9 378.4L513.9 330.9M495.3 395.5L447.2 373.2M447.2 373.2L447.2 325.7M447.3 392.9L509.7 376.5M509.7 376.5L509.7 329.0M500.8 394.0L452.7 371.7M452.7 371.7L452.7 324.2M443.1 391.0L505.5 374.6M505.5 374.6L505.5 327.1M506.2 392.6L458.1 370.3M458.1 370.3L458.1 322.8M438.9 389.0L501.3 372.6M501.3 372.6L501.3 325.1M511.6 391.2L463.5 368.9M463.5 368.9L463.5 321.4M434.7 387.1L497.1 370.7M497.1 370.7L497.1 323.2M517.0 389.8L468.9 367.5M468.9 367.5L468.9 320.0M430.6 385.1L493.0 368.7M493.0 368.7L493.0 321.2M522.5 388.3L474.4 366.0M474.4 366.0L474.4 318.5M426.4 383.2L488.8 366.8M488.8 366.8L488.8 319.3M527.9 386.9L479.8 364.6M479.8 364.6L479.8 317.1M422.2 381.3L484.6 364.9M484.6 364.9L484.6 317.4M420.1 380.3L482.5 363.9M482.5 363.9L530.6 386.2M420.1 377.1L482.5 360.7M482.5 360.7L530.6 383.0M420.1 374.0L482.5 357.6M482.5 357.6L530.6 379.9M420.1 370.8L482.5 354.4M482.5 354.4L530.6 376.7M420.1 367.6L482.5 351.2M482.5 351.2L530.6 373.5M420.1 364.5L482.5 348.1M482.5 348.1L530.6 370.4M420.1 361.3L482.5 344.9M482.5 344.9L530.6 367.2M420.1 358.1L482.5 341.7M482.5 341.7L530.6 364.0M420.1 355.0L482.5 338.6M482.5 338.6L530.6 360.9M420.1 351.8L482.5 335.4M482.5 335.4L530.6 357.7M420.1 348.6L482.5 332.2M482.5 332.2L530.6 354.5M420.1 345.5L482.5 329.1M482.5 329.1L530.6 351.4M420.1 342.3L482.5 325.9M482.5 325.9L530.6 348.2M420.1 339.1L482.5 322.7M482.5 322.7L530.6 345.0M420.1 336.0L482.5 319.6M482.5 319.6L530.6 341.9M420.1 332.8L482.5 316.4M482.5 316.4L530.6 338.7"/>
<path class="gM" d="M468.2 402.6L420.1 380.3M420.1 380.3L420.1 332.8M468.2 402.6L530.6 386.2M530.6 386.2L530.6 338.7M495.3 395.5L447.2 373.2M447.2 373.2L447.2 325.7M447.3 392.9L509.7 376.5M509.7 376.5L509.7 329.0M522.5 388.3L474.4 366.0M474.4 366.0L474.4 318.5M426.4 383.2L488.8 366.8M488.8 366.8L488.8 319.3M420.1 380.3L482.5 363.9M482.5 363.9L530.6 386.2M420.1 364.5L482.5 348.1M482.5 348.1L530.6 370.4M420.1 348.6L482.5 332.2M482.5 332.2L530.6 354.5M420.1 332.8L482.5 316.4M482.5 316.4L530.6 338.7"/>
<path class="ax" d="M420.1 380.3L420.1 332.8M420.1 380.3L468.2 402.6M468.2 402.6L530.6 386.2M468.2 402.6L466.9 402.0M468.2 402.6L469.8 402.2M495.3 395.5L494.1 394.9M447.3 392.9L448.9 392.5M522.5 388.3L521.2 387.8M426.4 383.2L428.0 382.8M420.1 380.3L421.7 379.9M420.1 364.5L421.7 364.0M420.1 348.6L421.7 348.2M420.1 332.8L421.7 332.4"/>
<g class="s"><path color="#1ec0b2" d="M481.9 343.1l2.6-.8-2-1.5-2.6 .9z"/>
<path color="#16bfb7" d="M479.3 344.1l2.6-1-2-1.4-2.6 1.4z"/>
<path color="#0abdbd" d="M483.9 345.7l2.6-1.5-2-1.9-2.6 .8z"/>
<path color="#08b4d1" d="M476.7 349.1l2.6-5-2-1-2.6 4.8z"/>
<path color="#03bbc2" d="M481.3 346.9l2.6-1.2-2-2.6-2.6 1z"/>
<path color="#01b9c8" d="M485.9 347.3l2.6-1.7-2-1.4-2.6 1.5z"/>
<path color="#269ae9" d="M474.1 353.1l2.6-4-2-1.2-2.6 4.1z"/>
<path color="#0cb3d3" d="M478.7 348.6l2.6-1.7-2-2.8-2.6 5z"/>
<path color="#05b6ce" d="M483.3 348l2.6-.7-2-1.6-2.6 1.2z"/>
<path color="#01b8c9" d="M487.9 346.8l2.6 .5-2-1.7-2.6 1.7z"/>
<path color="#2f82f9" d="M471.5 355.6l2.6-2.5-2-1.1-2.6 3z"/>
<path color="#259ce7" d="M476.1 353.6l2.6-5-2 .5-2.6 4z"/>
<path color="#09b4d1" d="M480.7 348.3l2.6-.3-2-1.1-2.6 1.7z"/>
<path color="#01b8c9" d="M485.3 347.7l2.6-.9-2 .5-2.6 .7z"/>
<path color="#307ffb" d="M468.9 354.5l2.6 1.1-2-.6-2.6-.4z"/>
<path color="#06bcc0" d="M489.9 345.9l2.6 1.6-2-.2-2.6-.5z"/>
<path color="#2e84f8" d="M473.5 356.3l2.6-2.7-2-.5-2.6 2.5z"/>
<path color="#22a2e4" d="M478.1 355l2.6-6.7-2 .3-2.6 5z"/>
<path color="#03b7cc" d="M482.7 349.6l2.6-1.9-2 .3-2.6 .3z"/>
<path color="#2b92ee" d="M466.3 352.3l2.6 2.2-2 .1-2.6-1.9z"/>
<path color="#12beb9" d="M487.3 347.3l2.6-1.4-2 .9-2.6 .9z"/>
<path color="#2f82fa" d="M470.9 355.9l2.6 .4-2-.7-2.6-1.1z"/>
<path color="#14bfb8" d="M491.9 347.6l2.6-.3-2 .2-2.6-1.6z"/>
<path color="#2d8af4" d="M475.5 354.6l2.6 .4-2-1.4-2.6 2.7z"/>
<path color="#20a4e3" d="M480.1 355.1l2.6-5.5-2-1.3-2.6 6.7z"/>
<path color="#1aacdd" d="M463.7 350l2.6 2.3-2 .4-2.6-4.3z"/>
<path color="#02bac4" d="M484.7 349.8l2.6-2.5-2 .4-2.6 1.9z"/>
<path color="#2896ec" d="M468.3 353.3l2.6 2.6-2-1.4-2.6-2.2z"/>
<path color="#1abfb5" d="M489.3 349.2l2.6-1.6-2-1.7-2.6 1.4z"/>
<path color="#2d8bf4" d="M472.9 355.3l2.6-.7-2 1.7-2.6-.4z"/>
<path color="#10beba" d="M493.9 349.3l2.6-.7-2-1.3-2.6 .3z"/>
<path color="#2699e9" d="M477.5 351.6l2.6 3.5-2-.1-2.6-.4z"/>
<path color="#27c2ac" d="M461.1 345.1l2.6 4.9-2-1.6-2.6-4.4z"/>
<path color="#1fa6e2" d="M482.1 356.3l2.6-6.5-2-.2-2.6 5.5z"/>
<path color="#17aeda" d="M465.7 350.2l2.6 3.1-2-1-2.6-2.3z"/>
<path color="#01b9c8" d="M486.7 353.1l2.6-3.9-2-1.9-2.6 2.5z"/>
<path color="#259ce7" d="M470.3 352.1l2.6 3.2-2 .6-2.6-2.6z"/>
<path color="#06bcc0" d="M491.3 351.5l2.6-2.2-2-1.7-2.6 1.6z"/>
<path color="#21a3e4" d="M474.9 352.5l2.6-.9-2 3-2.6 .7z"/>
<path color="#3fca8e" d="M458.5 346.4l2.6-1.3-2-1.1-2.6 1.8z"/>
<path color="#0cbdbc" d="M495.9 350.1l2.6-.9-2-.6-2.6 .7z"/>
<path color="#249ee6" d="M479.5 354.4l2.6 1.9-2-1.2-2.6-3.5z"/>
<path color="#24c1ae" d="M463.1 346.8l2.6 3.4-2-.2-2.6-4.9z"/>
<path color="#23a1e5" d="M484.1 357.9l2.6-4.8-2-3.3-2.6 6.5z"/>
<path color="#08b5d0" d="M467.7 349.6l2.6 2.5-2 1.2-2.6-3.1z"/>
<path color="#0fb2d4" d="M488.7 354.2l2.6-2.7-2-2.3-2.6 3.9z"/>
<path color="#1caadf" d="M472.3 353.2l2.6-.7-2 2.8-2.6-3.2z"/>
<path color="#2bc3a8" d="M455.9 350l2.6-3.6-2-.6-2.6 3.8z"/>
<path color="#02bac5" d="M493.3 352.1l2.6-2-2-.8-2.6 2.2z"/>
<path color="#1babde" d="M476.9 354.7l2.6-.3-2-2.8-2.6 .9z"/>
<path color="#3bc993" d="M460.5 348.2l2.6-1.4-2-1.7-2.6 1.3z"/>
<path color="#09bcbe" d="M497.9 351.8l2.6-1.2-2-1.4-2.6 .9z"/>
<path color="#2698ea" d="M481.5 355.5l2.6 2.4-2-1.6-2.6-1.9z"/>
<path color="#27c2ac" d="M465.1 348.4l2.6 1.2-2 .6-2.6-3.4z"/>
<path color="#21a3e3" d="M486.1 354.2l2.6 0-2-1.1-2.6 4.8z"/>
<path color="#02b7cb" d="M469.7 351.8l2.6 1.4-2-1.1-2.6-2.5z"/>
<path color="#2cc4a6" d="M453.3 347.1l2.6 2.9-2-.4-2.6-2.3z"/>
<path color="#07b5d0" d="M490.7 352l2.6 .1-2-.6-2.6 2.7z"/>
<path color="#1babde" d="M474.3 355.6l2.6-.9-2-2.2-2.6 .7z"/>
<path color="#2ac3a8" d="M457.9 351l2.6-2.8-2-1.8-2.6 3.6z"/>
<path color="#02bac5" d="M495.3 352.7l2.6-.9-2-1.7-2.6 2z"/>
<path color="#1ea7e1" d="M478.9 354.9l2.6 .6-2-1.1-2.6 .3z"/>
<path color="#35c79a" d="M462.5 348.7l2.6-.3-2-1.6-2.6 1.4z"/>
<path color="#02bac4" d="M499.9 352.5l2.6 .2-2-2.1-2.6 1.2z"/>
<path color="#1ea7e1" d="M483.5 352.7l2.6 1.5-2 3.7-2.6-2.4z"/>
<path color="#2ec4a4" d="M467.1 346.5l2.6 5.3-2-2.2-2.6-1.2z"/>
<path color="#59cc79" d="M450.7 345.6l2.6 1.5-2 .2-2.6-2.7z"/>
<path color="#11b1d6" d="M488.1 354.6l2.6-2.6-2 2.2-2.6 0z"/>
<path color="#03b7cc" d="M471.7 350.3l2.6 5.3-2-2.4-2.6-1.4z"/>
<path color="#30c5a2" d="M455.3 348.2l2.6 2.8-2-1-2.6-2.9z"/>
<path color="#01b9c7" d="M492.7 353.4l2.6-.7-2-.6-2.6-.1z"/>
<path color="#19addc" d="M476.3 353.6l2.6 1.3-2-.2-2.6 .9z"/>
<path color="#27c2ab" d="M459.9 352.3l2.6-3.6-2-.5-2.6 2.8z"/>
<path color="#02bac5" d="M497.3 353.5l2.6-1-2-.7-2.6 .9z"/>
<path color="#09b4d1" d="M480.9 351.8l2.6 .9-2 2.8-2.6-.6z"/>
<path color="#4acb84" d="M464.5 346.7l2.6-.2-2 1.9-2.6 .3z"/>
<path color="#93ca4b" d="M448.1 343.4l2.6 2.2-2-1-2.6-.9z"/>
<path color="#0eb2d4" d="M501.9 356.1l2.6-.1-2-3.3-2.6-.2z"/>
<path color="#0db3d4" d="M485.5 355.5l2.6-.9-2-.4-2.6-1.5z"/>
<path color="#40ca8d" d="M469.1 344.7l2.6 5.6-2 1.5-2.6-5.3z"/>
<path color="#59cc78" d="M452.7 347.2l2.6 1-2-1.1-2.6-1.5z"/>
<path color="#0eb2d4" d="M490.1 358.1l2.6-4.7-2-1.4-2.6 2.6z"/>
<path color="#05bbc1" d="M473.7 351l2.6 2.6-2 2-2.6-5.3z"/>
<path color="#2cc4a7" d="M457.3 350l2.6 2.3-2-1.3-2.6-2.8z"/>
<path color="#01b8c8" d="M494.7 354.9l2.6-1.4-2-.8-2.6 .7z"/>
<path color="#01bac5" d="M478.3 352.8l2.6-1-2 3.1-2.6-1.3z"/>
<path color="#3bc992" d="M461.9 348.8l2.6-2.1-2 2-2.6 3.6z"/>
<path color="#b8c531" d="M445.5 342.9l2.6 .5-2 .3-2.6-.1z"/>
<path color="#06b6ce" d="M499.3 355.8l2.6 .3-2-3.6-2.6 1z"/>
<path color="#02bac4" d="M482.9 353.6l2.6 1.9-2-2.8-2.6-.9z"/>
<path color="#7acc5e" d="M466.5 347.5l2.6-2.8-2 1.8-2.6 .2z"/>
<path color="#92ca4b" d="M450.1 344.8l2.6 2.4-2-1.6-2.6-2.2z"/>
<path color="#259de7" d="M504 361.2l2.6-1.4-2.1-3.8-2.6 .1z"/>
<path color="#1da9e0" d="M487.5 358.6l2.6-.5-2-3.5-2.6 .9z"/>
<path color="#50cc80" d="M471.1 347.8l2.6 3.2-2-.7-2.6-5.6z"/>
<path color="#4dcb82" d="M454.7 348.9l2.6 1.1-2-1.8-2.6-1z"/>
<path color="#17aeda" d="M492.1 358.3l2.6-3.4-2-1.5-2.6 4.7z"/>
<path color="#1abfb5" d="M475.7 352.7l2.6 .1-2 .8-2.6-2.6z"/>
<path color="#3eca8f" d="M459.3 347.4l2.6 1.4-2 3.5-2.6-2.3z"/>
<path color="#b9c431" d="M442.9 345.2l2.6-2.3-2 .7-2.6 .8z"/>
<path color="#07b5d0" d="M496.7 357l2.6-1.2-2-2.3-2.6 1.4z"/>
<path color="#14bfb8" d="M480.3 353.9l2.6-.3-2-1.8-2.6 1z"/>
<path color="#70cd65" d="M463.9 346.7l2.6 .8-2-.8-2.6 2.1z"/>
<path color="#c1c32c" d="M447.5 344.3l2.6 .5-2-1.4-2.6-.5z"/>
<path color="#1fa6e2" d="M501.4 358.2l2.6 3-2.1-5.1-2.6-.3z"/>
<path color="#10b2d5" d="M484.9 356.2l2.6 2.4-2-3.1-2.6-1.9z"/>
<path color="#79cc5e" d="M468.5 349.2l2.6-1.4-2-3.1-2.6 2.8z"/>
<path color="#83cc57" d="M452.1 346.4l2.6 2.5-2-1.7-2.6-2.4z"/>
<path color="#2c8ef2" d="M506 362.3l2.6-1.3-2-1.2-2.6 1.4z"/>
<path color="#23a0e5" d="M489.5 360l2.6-1.7-2-.2-2.6 .5z"/>
<path color="#44ca8a" d="M473.1 348.6l2.6 4.1-2-1.7-2.6-3.2z"/>
<path color="#60cd72" d="M456.7 348l2.6-.6-2 2.6-2.6-1.1z"/>
<path color="#b5c533" d="M440.3 344.7l2.6 .5-2-.8-2.6 .9z"/>
<path color="#1fa6e2" d="M494.1 362.8l2.6-5.8-2-2.1-2.6 3.4z"/>
<path color="#2bc3a8" d="M477.7 350.2l2.6 3.7-2-1.1-2.6-.1z"/>
<path color="#80cc59" d="M461.3 346.9l2.6-.2-2 2.1-2.6-1.4z"/>
<path color="#bac430" d="M444.9 347.2l2.6-2.9-2-1.4-2.6 2.3z"/>
<path color="#1ca9df" d="M498.8 361l2.6-2.8-2.1-2.4-2.6 1.2z"/>
<path color="#02bac4" d="M482.3 356.5l2.6-.3-2-2.6-2.6 .3z"/>
<path color="#7ccc5c" d="M465.9 348.2l2.6 1-2-1.7-2.6-.8z"/>
<path color="#bec32e" d="M449.5 344.2l2.6 2.2-2-1.6-2.6-.5z"/>
<path color="#2698ea" d="M503.4 360.1l2.6 2.2-2-1.1-2.6-3z"/>
<path color="#1da8e0" d="M486.9 358.8l2.6 1.2-2-1.4-2.6-2.4z"/>
<path color="#76cc61" d="M470.5 347.9l2.6 .7-2-.8-2.6 1.4z"/>
<path color="#8ecb4f" d="M454.1 346.1l2.6 1.9-2 .9-2.6-2.5z"/>
<path color="#2a93ee" d="M508 361.7l2.6-1.1-2 .4-2.6 1.3z"/>
<path color="#a2c83f" d="M437.7 348.3l2.6-3.6-2 .6-2.6 2.1z"/>
<path color="#2c90f0" d="M491.5 365.8l2.6-3-2-4.5-2.6 1.7z"/>
<path color="#4dcb82" d="M475.1 350.4l2.6-.2-2 2.5-2.6-4.1z"/>
<path color="#94ca4a" d="M458.7 346.9l2.6 0-2 .5-2.6 .6z"/>
<path color="#b7c532" d="M442.3 345.8l2.6 1.4-2-2-2.6-.5z"/>
<path color="#2b90ef" d="M496.2 366.6l2.6-5.6-2.1-4-2.6 5.8z"/>
<path color="#2cc4a7" d="M479.7 352.5l2.6 4-2-2.6-2.6-3.7z"/>
<path color="#93ca4b" d="M463.3 348.7l2.6-.5-2-1.5-2.6 .2z"/>
<path color="#afc637" d="M446.9 349.8l2.6-5.6-2 .1-2.6 2.9z"/>
<path color="#259de7" d="M500.8 363l2.6-2.9-2-1.9-2.6 2.8z"/>
<path color="#1ca9e0" d="M484.3 364.3l2.6-5.5-2-2.6-2.6 .3z"/>
<path color="#8bcb51" d="M467.9 347.5l2.6 .4-2 1.3-2.6-1z"/>
<path color="#c1c32c" d="M451.5 346.2l2.6-.1-2 .3-2.6-2.2z"/>
<path color="#249de6" d="M505.4 359.1l2.6 2.6-2 .6-2.6-2.2z"/>
<path color="#83cc57" d="M435.1 349.1l2.6-.8-2-.9-2.6 1.5z"/>
<path color="#2c90f0" d="M488.9 365l2.6 .8-2-5.8-2.6-1.2z"/>
<path color="#81cc58" d="M472.5 348.4l2.6 2-2-1.8-2.6-.7z"/>
<path color="#aac73a" d="M456.1 347.3l2.6-.4-2 1.1-2.6-1.9z"/>
<path color="#249ee6" d="M510 360.8l2.6 .1-2-.3-2.6 1.1z"/>
<path color="#a7c73c" d="M439.7 349.7l2.6-3.9-2-1.1-2.6 3.6z"/>
<path color="#3f6dfe" d="M493.6 369.7l2.6-3.1-2.1-3.8-2.6 3z"/>
<path color="#47cb87" d="M477.1 353.6l2.6-1.1-2-2.3-2.6 .2z"/>
<path color="#a0c941" d="M460.7 348.5l2.6 .2-2-1.8-2.6 0z"/>
<path color="#9cc944" d="M444.3 348.7l2.6 1.1-2-2.6-2.6-1.4z"/>
<path color="#2e86f7" d="M498.2 365.2l2.6-2.2-2-2-2.6 5.6z"/>
<path color="#0fb2d5" d="M481.7 359.8l2.6 4.5-2-7.8-2.6-4z"/>
<path color="#8acb52" d="M465.3 351.3l2.6-3.8-2 .7-2.6 .5z"/>
<path color="#a2c840" d="M448.9 351.2l2.6-5-2-2-2.6 5.6z"/>
<path color="#22a2e4" d="M502.8 361.5l2.6-2.4-2 1-2.6 2.9z"/>
<path color="#65cd6e" d="M432.5 352.2l2.6-3.1-2-.2-2.6 2.2z"/>
<path color="#2e85f8" d="M486.3 369.2l2.6-4.2-2-6.2-2.6 5.5z"/>
<path color="#abc739" d="M469.9 347.1l2.6 1.3-2-.5-2.6-.4z"/>
<path color="#b8c431" d="M453.5 348.8l2.6-1.5-2-1.2-2.6 .1z"/>
<path color="#1aacdd" d="M507.4 357.4l2.6 3.4-2 .9-2.6-2.6z"/>
<path color="#86cb55" d="M437.1 349.8l2.6-.1-2-1.4-2.6 .8z"/>
<path color="#4368fe" d="M491 369.3l2.6 .4-2.1-3.9-2.6-.8z"/>
<path color="#71cd64" d="M474.5 349.2l2.6 4.4-2-3.2-2.6-2z"/>
<path color="#adc638" d="M458.1 348.8l2.6-.3-2-1.6-2.6 .4z"/>
<path color="#1fa6e1" d="M512 360.6l2.6 .3-2 0-2.6-.1z"/>
<path color="#9ac945" d="M441.7 350.3l2.6-1.6-2-2.9-2.6 3.9z"/>
<path color="#426afe" d="M495.6 368.6l2.6-3.4-2 1.4-2.6 3.1z"/>
<path color="#24c1ae" d="M479.1 355.9l2.6 3.9-2-7.3-2.6 1.1z"/>
<path color="#6fcd65" d="M462.7 354.2l2.6-2.9-2-2.6-2.6-.2z"/>
<path color="#7fcc5a" d="M446.3 350.3l2.6 .9-2-1.4-2.6-1.1z"/>
<path color="#2b92ee" d="M500.2 364.5l2.6-3-2 1.5-2.6 2.2z"/>
<path color="#36c899" d="M429.9 356.3l2.6-4.1-2-1.1-2.6 3.8z"/>
<path color="#2d8bf4" d="M483.7 363.9l2.6 5.3-2-4.9-2.6-4.5z"/>
<path color="#95ca49" d="M467.3 351.6l2.6-4.5-2 .4-2.6 3.8z"/>
<path color="#a5c83d" d="M450.9 348.2l2.6 .6-2-2.6-2.6 5z"/>
<path color="#14b0d8" d="M504.8 361.5l2.6-4.1-2 1.7-2.6 2.4z"/>
<path color="#67cd6d" d="M434.5 353.7l2.6-3.9-2-.7-2.6 3.1z"/>
<path color="#416bfe" d="M488.4 367.8l2.6 1.5-2.1-4.3-2.6 4.2z"/>
<path color="#a6c83c" d="M455.5 350.5l2.6-1.7-2-1.5-2.6 1.5z"/>
<path color="#0fb2d4" d="M509.4 360.1l2.6 .5-2 .2-2.6-3.4z"/>
<path color="#86cb55" d="M439.1 350.8l2.6-.5-2-.6-2.6 .1z"/>
<path color="#465dfb" d="M493 370.4l2.6-1.8-2 1.1-2.6-.4z"/>
<path color="#74cc62" d="M460.1 353.2l2.6 1-2-5.7-2.6 .3z"/>
<path color="#16afd9" d="M514 360.4l2.6-.4-2 .9-2.6-.3z"/>
<path color="#7ccc5c" d="M443.7 353.8l2.6-3.5-2-1.6-2.6 1.6z"/>
<path color="#2f82fa" d="M497.6 365.9l2.6-1.4-2 .7-2.6 3.4z"/>
<path color="#14bfb8" d="M427.3 357.8l2.6-1.5-2-1.4-2.6 3.2z"/>
<path color="#5acc77" d="M464.7 353.1l2.6-1.5-2-.3-2.6 2.9z"/>
<path color="#98c947" d="M448.3 349.7l2.6-1.5-2 3-2.6-.9z"/>
<path color="#249ee6" d="M502.2 364.6l2.6-3.1-2 0-2.6 3z"/>
<path color="#35c79a" d="M431.9 356.4l2.6-2.7-2-1.5-2.6 4.1z"/>
<path color="#307ffb" d="M485.8 365.4l2.6 2.4-2.1 1.4-2.6-5.3z"/>
<path color="#9cc943" d="M452.9 352.3l2.6-1.8-2-1.7-2.6-.6z"/>
<path color="#10b2d5" d="M506.8 362.9l2.6-2.8-2-2.7-2.6 4.1z"/>
<path color="#61cd71" d="M436.5 355.2l2.6-4.4-2-1-2.6 3.9z"/>
<path color="#4368fd" d="M490.4 369l2.6 1.4-2-1.1-2.6-1.5z"/>
<path color="#74cc62" d="M457.5 355l2.6-1.8-2-4.4-2.6 1.7z"/>
<path color="#0db3d4" d="M511.4 361.1l2.6-.7-2 .2-2.6-.5z"/>
<path color="#62cd70" d="M441.1 355.3l2.6-1.5-2-3.5-2.6 .5z"/>
<path color="#3e70ff" d="M495 369.3l2.6-3.4-2 2.7-2.6 1.8z"/>
<path color="#0abdbe" d="M424.7 358.3l2.6-.5-2 .3-2.6-.5z"/>
<path color="#54cc7c" d="M462.1 353.5l2.6-.4-2 1.1-2.6-1z"/>
<path color="#01b8c9" d="M516 359.7l2.6-.7-2 1-2.6 .4z"/>
<path color="#70cd65" d="M445.7 354.9l2.6-5.2-2 .6-2.6 3.5z"/>
<path color="#2994ed" d="M499.6 364.6l2.6 0-2-.1-2.6 1.4z"/>
<path color="#21c1b0" d="M429.3 357.8l2.6-1.4-2-.1-2.6 1.5z"/>
<path color="#9dc943" d="M450.3 352.2l2.6 .1-2-4.1-2.6 1.5z"/>
<path color="#20a4e3" d="M504.2 363.6l2.6-.7-2-1.4-2.6 3.1z"/>
<path color="#2fc5a2" d="M433.9 359.4l2.6-4.2-2-1.5-2.6 2.7z"/>
<path color="#2f81fa" d="M487.8 366.7l2.6 2.3-2-1.2-2.6-2.4z"/>
<path color="#60cd72" d="M454.9 355.8l2.6-.8-2-4.5-2.6 1.8z"/>
<path color="#12b1d6" d="M508.8 362l2.6-.9-2-1-2.6 2.8z"/>
<path color="#3fca8e" d="M438.5 358.6l2.6-3.3-2-4.5-2.6 4.4z"/>
<path color="#406cfe" d="M492.4 369.6l2.6-.3-2 1.1-2.6-1.4z"/>
<path color="#16bfb7" d="M422.1 358.7l2.6-.4-2-.7-2.6 .2z"/>
<path color="#62cd70" d="M459.5 352.4l2.6 1.1-2-.3-2.6 1.8z"/>
<path color="#01b8c8" d="M513.4 360.3l2.6-.6-2 .7-2.6 .7z"/>
<path color="#3bc992" d="M443.1 358l2.6-3.1-2-1.1-2.6 1.5z"/>
<path color="#2d8af4" d="M497 367.1l2.6-2.5-2 1.3-2.6 3.4z"/>
<path color="#14beb8" d="M426.7 359.8l2.6-2-2 0-2.6 .5z"/>
<path color="#09bdbe" d="M518 360.4l2.6-.8-2-.6-2.6 .7z"/>
<path color="#7dcc5b" d="M447.7 353.6l2.6-1.4-2-2.5-2.6 5.2z"/>
<path color="#249fe5" d="M501.6 365l2.6-1.4-2 1-2.6 0z"/>
<path color="#18bfb6" d="M431.3 360.3l2.6-.9-2-3-2.6 1.4z"/>
<path color="#7ecc5a" d="M452.3 351l2.6 4.8-2-3.5-2.6-.1z"/>
<path color="#1babde" d="M506.2 364l2.6-2-2 .9-2.6 .7z"/>
<path color="#1ac0b4" d="M435.9 361.2l2.6-2.6-2-3.4-2.6 4.2z"/>
<path color="#2f82fa" d="M489.8 367.2l2.6 2.4-2-.6-2.6-2.3z"/>
<path color="#72cd64" d="M456.9 351l2.6 1.4-2 2.6-2.6 .8z"/>
<path color="#01b8ca" d="M510.8 361.5l2.6-1.2-2 .8-2.6 .9z"/>
<path color="#2ac3a8" d="M440.5 359.5l2.6-1.5-2-2.7-2.6 3.3z"/>
<path color="#3080fa" d="M494.4 368.3l2.6-1.2-2 2.2-2.6 .3z"/>
<path color="#0dbdbb" d="M424.1 360.8l2.6-1-2-1.5-2.6 .4z"/>
<path color="#9ec942" d="M461.5 351.3l2.6-.6-2 2.8-2.6-1.1z"/>
<path color="#09bcbe" d="M515.4 361.1l2.6-.7-2-.7-2.6 .6z"/>
<path color="#46cb88" d="M445.1 356.6l2.6-3-2 1.3-2.6 3.1z"/>
<path color="#269ae8" d="M499 366.5l2.6-1.5-2-.4-2.6 2.5z"/>
<path color="#10beba" d="M428.7 360.1l2.6 .2-2-2.5-2.6 2z"/>
<path color="#16bfb7" d="M520 360.2l2.6-.3-2-.3-2.6 .8z"/>
<path color="#a6c83d" d="M449.7 350.7l2.6 .3-2 1.2-2.6 1.4z"/>
<path color="#1fa6e2" d="M503.6 365.4l2.6-1.4-2-.4-2.6 1.4z"/>
<path color="#03bbc2" d="M433.3 361l2.6 .2-2-1.8-2.6 .9z"/>
<path color="#aac73a" d="M454.3 349.9l2.6 1.1-2 4.8-2.6-4.8z"/>
<path color="#0eb2d4" d="M508.2 364l2.6-2.5-2 .5-2.6 2z"/>
<path color="#15bfb8" d="M437.9 360l2.6-.5-2-.9-2.6 2.6z"/>
<path color="#2d89f5" d="M491.8 368l2.6 .3-2 1.3-2.6-2.4z"/>
<path color="#b1c635" d="M458.9 352.6l2.6-1.3-2 1.1-2.6-1.4z"/>
<path color="#15bfb7" d="M512.8 359l2.6 2.1-2-.8-2.6 1.2z"/>
<path color="#33c69d" d="M442.5 357.5l2.6-.9-2 1.4-2.6 1.5z"/>
<path color="#2b91ef" d="M496.4 368.7l2.6-2.2-2 .6-2.6 1.2z"/>
<path color="#08bcbf" d="M426.1 361.8l2.6-1.7-2-.3-2.6 1z"/>
<path color="#1ac0b4" d="M517.4 360.2l2.6 0-2 .2-2.6 .7z"/>
<path color="#91ca4c" d="M447.1 352.7l2.6-2-2 2.9-2.6 3z"/>
<path color="#22a1e4" d="M501 366.4l2.6-1-2-.4-2.6 1.5z"/>
<path color="#0dbdbb" d="M430.7 360.8l2.6 .2-2-.7-2.6-.2z"/>
<path color="#1fc0b2" d="M522 360.9l2.6 0-2-1-2.6 .3z"/>
<path color="#cfc028" d="M451.7 351.8l2.6-1.9-2 1.1-2.6-.3z"/>
<path color="#19addc" d="M505.6 364.5l2.6-.5-2 0-2.6 1.4z"/>
<path color="#06bbc1" d="M435.3 362.9l2.6-2.9-2 1.2-2.6-.2z"/>
<path color="#2699e9" d="M489.2 366.8l2.6 1.2-2-.8-2.6-1.2z"/>
<path color="#c4c22b" d="M456.3 353l2.6-.4-2-1.6-2.6-1.1z"/>
<path color="#0abdbd" d="M510.2 362.1l2.6-3.1-2 2.5-2.6 2.5z"/>
<path color="#2ac3a9" d="M439.9 361l2.6-3.5-2 2-2.6 .5z"/>
<path color="#2895ec" d="M493.8 366.2l2.6 2.5-2-.4-2.6-.3z"/>
<path color="#acc738" d="M460.9 352.7l2.6 2.6-2-4-2.6 1.3z"/>
<path color="#2ec4a4" d="M514.8 358.9l2.6 1.3-2 .9-2.6-2.1z"/>
<path color="#71cd64" d="M444.5 354.7l2.6-2-2 3.9-2.6 .9z"/>
<path color="#249ee6" d="M498.4 366.1l2.6 .3-2 .1-2.6 2.2z"/>
<path color="#0bbdbd" d="M428.1 362.8l2.6-2-2-.7-2.6 1.7z"/>
<path color="#27c2ac" d="M519.4 361.5l2.6-.6-2-.7-2.6 0z"/>
<path color="#b6c532" d="M449.1 355.6l2.6-3.8-2-1.1-2.6 2z"/>
<path color="#1babde" d="M503 365.5l2.6-1-2 .9-2.6 1z"/>
<path color="#03bbc3" d="M432.7 363.8l2.6-.9-2-1.9-2.6-.2z"/>
<path color="#16bfb7" d="M524 362.6l2.6 .5-2-2.2-2.6 0z"/>
<path color="#c9c129" d="M453.7 353.6l2.6-.6-2-3.1-2.6 1.9z"/>
<path color="#02b7cb" d="M507.6 363.8l2.6-1.7-2 1.9-2.6 .5z"/>
<path color="#0bbdbd" d="M437.3 363.5l2.6-2.5-2-1-2.6 2.9z"/>
<path color="#1ea7e1" d="M491.2 363.8l2.6 2.4-2 1.8-2.6-1.2z"/>
<path color="#c3c22b" d="M458.3 352l2.6 .7-2-.1-2.6 .4z"/>
<path color="#1ec0b2" d="M512.2 366.6l2.6-7.7-2 .1-2.6 3.1z"/>
<path color="#3fca8e" d="M441.9 360.5l2.6-5.8-2 2.8-2.6 3.5z"/>
<path color="#1fa5e2" d="M495.8 365.5l2.6 .6-2 2.6-2.6-2.5z"/>
<path color="#2ac3a9" d="M516.8 363.8l2.6-2.3-2-1.3-2.6-1.3z"/>
<path color="#92ca4b" d="M446.5 356.8l2.6-1.2-2-2.9-2.6 2z"/>
<path color="#14b0d8" d="M500.4 363.5l2.6 2-2 .9-2.6-.3z"/>
<path color="#01b9c6" d="M430.1 365.2l2.6-1.4-2-3-2.6 2z"/>
<path color="#21c1b0" d="M521.4 363l2.6-.4-2-1.7-2.6 .6z"/>
<path color="#a6c83d" d="M451.1 356.5l2.6-2.9-2-1.8-2.6 3.8z"/>
<path color="#0eb2d4" d="M505 366.9l2.6-3.1-2 .7-2.6 1z"/>
<path color="#02b7ca" d="M434.7 364.9l2.6-1.4-2-.6-2.6 .9z"/>
<path color="#08b5d0" d="M488.6 364.5l2.6-.7-2 3-2.6-2.9z"/>
<path color="#0dbdbc" d="M526 363.6l2.6-.1-2-.4-2.6-.5z"/>
<path color="#cec028" d="M455.7 352.3l2.6-.3-2 1-2.6 .6z"/>
<path color="#05b6ce" d="M509.6 366.6l2.6 0-2-4.5-2.6 1.7z"/>
<path color="#20c1b1" d="M439.3 362.1l2.6-1.6-2 .5-2.6 2.5z"/>
<path color="#12b1d6" d="M493.2 366.9l2.6-1.4-2 .7-2.6-2.4z"/>
<path color="#c3c22b" d="M460.3 356.4l2.6-3.3-2-.4-2.6-.7z"/>
<path color="#03b7cc" d="M514.2 370l2.6-6.2-2-4.9-2.6 7.7z"/>
<path color="#4fcc80" d="M443.9 362.1l2.6-5.3-2-2.1-2.6 5.8z"/>
<path color="#14b0d8" d="M497.8 369l2.6-5.5-2 2.6-2.6-.6z"/>
<path color="#1ec0b2" d="M518.8 363l2.6 0-2-1.5-2.6 2.3z"/>
<path color="#86cb55" d="M448.5 356.7l2.6-.2-2-.9-2.6 1.2z"/>
<path color="#08b5d0" d="M502.4 366l2.6 .9-2-1.4-2.6-2z"/>
<path color="#09b4d1" d="M432.1 366.5l2.6-1.6-2-1.1-2.6 1.4z"/>
<path color="#1dc0b3" d="M523.4 363.3l2.6 .3-2-1-2.6 .4z"/>
<path color="#c7c12a" d="M453.1 352.7l2.6-.4-2 1.3-2.6 2.9z"/>
<path color="#17aeda" d="M507 369.9l2.6-3.3-2-2.8-2.6 3.1z"/>
<path color="#02bac4" d="M436.7 365.8l2.6-3.7-2 1.4-2.6 1.4z"/>
<path color="#01b7ca" d="M490.6 365.2l2.6 1.7-2-3.1-2.6 .7z"/>
<path color="#0ebdbb" d="M528 364.5l2.6 .2-2-1.2-2.6 .1z"/>
<path color="#c2c22c" d="M457.7 356.3l2.6 .1-2-4.4-2.6 .3z"/>
<path color="#1ea7e1" d="M511.6 368.8l2.6 1.2-2-3.4-2.6 0z"/>
<path color="#27c2ac" d="M441.3 364.3l2.6-2.2-2-1.6-2.6 1.6z"/>
<path color="#1ea7e1" d="M495.2 370.5l2.6-1.5-2-3.5-2.6 1.4z"/>
<path color="#86cb55" d="M462.4 359.8l2.6-.6-2.1-6.1-2.6 3.3z"/>
<path color="#02b7cb" d="M516.2 366.2l2.6-3.2-2 .8-2.6 6.2z"/>
<path color="#48cb86" d="M445.9 363.6l2.6-6.9-2 .1-2.6 5.3z"/>
<path color="#14b0d8" d="M499.8 369.3l2.6-3.3-2-2.5-2.6 5.5z"/>
<path color="#29c3a9" d="M520.8 362.8l2.6 .5-2-.3-2.6 0z"/>
<path color="#b0c636" d="M450.5 356.2l2.6-3.5-2 3.8-2.6 .2z"/>
<path color="#1caadf" d="M504.4 369.5l2.6 .4-2-3-2.6-.9z"/>
<path color="#07b5d0" d="M434.1 366.5l2.6-.7-2-.9-2.6 1.6z"/>
<path color="#0ebdbb" d="M488 363.8l2.6 1.4-2-.7-2.6-.4z"/>
<path color="#1fc0b1" d="M525.4 364.3l2.6 .2-2-.9-2.6-.3z"/>
<path color="#d0bf27" d="M455.1 355.4l2.6 .9-2-4-2.6 .4z"/>
<path color="#1da8e0" d="M509 369.3l2.6-.5-2-2.2-2.6 3.3z"/>
<path color="#07bcbf" d="M438.7 366.3l2.6-2-2-2.2-2.6 3.7z"/>
<path color="#0eb2d4" d="M492.6 365.3l2.6 5.2-2-3.6-2.6-1.7z"/>
<path color="#91ca4c" d="M459.8 356.9l2.6 2.9-2.1-3.4-2.6-.1z"/>
<path color="#1aacdd" d="M513.6 368.2l2.6-2-2 3.8-2.6-1.2z"/>
<path color="#1ec0b2" d="M443.3 364.9l2.6-1.3-2-1.5-2.6 2.2z"/>
<path color="#20a4e3" d="M497.2 368.7l2.6 .6-2-.3-2.6 1.5z"/>
<path color="#7ccc5c" d="M464.4 357.5l2.6-.1-2 1.8-2.6 .6z"/>
<path color="#21c1b0" d="M518.2 365l2.6-2.2-2 .2-2.6 3.2z"/>
<path color="#57cc7a" d="M447.9 363.7l2.6-7.5-2 .5-2.6 6.9z"/>
<path color="#1caadf" d="M501.8 370.3l2.6-.8-2-3.5-2.6 3.3z"/>
<path color="#26c2ad" d="M485.4 364.2l2.6-.4-2 .3-2.6-.7z"/>
<path color="#2bc3a8" d="M522.8 364.9l2.6-.6-2-1-2.6-.5z"/>
<path color="#bac430" d="M452.5 359.6l2.6-4.2-2-2.7-2.6 3.5z"/>
<path color="#21a3e3" d="M506.4 370.9l2.6-1.6-2 .6-2.6-.4z"/>
<path color="#01b8c8" d="M436.1 365.8l2.6 .5-2-.5-2.6 .7z"/>
<path color="#21c1b0" d="M490 363.3l2.6 2-2-.1-2.6-1.4z"/>
<path color="#b6c532" d="M457.2 357.1l2.6-.2-2.1-.6-2.6-.9z"/>
<path color="#17aedb" d="M511 368.6l2.6-.4-2 .6-2.6 .5z"/>
<path color="#0fbeba" d="M440.7 364.9l2.6 0-2-.6-2.6 2z"/>
<path color="#06b5cf" d="M494.6 365.1l2.6 3.6-2 1.8-2.6-5.2z"/>
<path color="#9cc944" d="M461.8 357.1l2.6 .4-2 2.3-2.6-2.9z"/>
<path color="#01b9c7" d="M515.6 368.4l2.6-3.4-2 1.2-2.6 2z"/>
<path color="#1dc0b3" d="M445.3 366.8l2.6-3.1-2-.1-2.6 1.3z"/>
<path color="#1aacdd" d="M499.2 368.7l2.6 1.6-2-1-2.6-.6z"/>
<path color="#33c69e" d="M482.8 363.4l2.6 .8-2-.8-2.6-.9z"/>
<path color="#99c946" d="M466.4 361l2.6-4.2-2 .6-2.6 .1z"/>
<path color="#28c3ab" d="M520.2 366.2l2.6-1.3-2-2.1-2.6 2.2z"/>
<path color="#57cc7a" d="M449.9 364.5l2.6-4.9-2-3.4-2.6 7.5z"/>
<path color="#22a1e4" d="M503.8 372.8l2.6-1.9-2-1.4-2.6 .8z"/>
<path color="#36c899" d="M487.4 361.8l2.6 1.5-2 .5-2.6 .4z"/>
<path color="#96ca48" d="M471 360.9l2.6-.4-2-4.4-2.6 .7z"/>
<path color="#90ca4d" d="M454.6 363l2.6-5.9-2.1-1.7-2.6 4.2z"/>
<path color="#1baade" d="M508.4 370.9l2.6-2.3-2 .7-2.6 1.6z"/>
<path color="#11beb9" d="M438.1 365.9l2.6-1-2 1.4-2.6-.5z"/>
<path color="#2fc5a2" d="M492 363.2l2.6 1.9-2 .2-2.6-2z"/>
<path color="#49cb85" d="M475.6 362.8l2.6 .5-2-1.3-2.6-1.5z"/>
<path color="#adc638" d="M459.2 360l2.6-2.9-2-.2-2.6 .2z"/>
<path color="#0cb3d3" d="M513 370l2.6-1.6-2-.2-2.6 .4z"/>
<path color="#12beb9" d="M442.7 367.1l2.6-.3-2-1.9-2.6 0z"/>
<path color="#07bcbf" d="M496.6 365l2.6 3.7-2 0-2.6-3.6z"/>
<path color="#3fca8e" d="M480.2 362.8l2.6 .6-2-.9-2.6 .8z"/>
<path color="#91ca4c" d="M463.8 361.2l2.6-.2-2-3.5-2.6-.4z"/>
<path color="#06bcc0" d="M517.6 369.3l2.6-3.1-2-1.2-2.6 3.4z"/>
<path color="#13beb8" d="M447.3 369.5l2.6-5-2-.8-2.6 3.1z"/>
<path color="#19addc" d="M501.2 368.1l2.6 4.7-2-2.5-2.6-1.6z"/>
<path color="#3eca8f" d="M484.8 363.8l2.6-2-2 2.4-2.6-.8z"/>
<path color="#88cb53" d="M468.4 360.7l2.6 .2-2-4.1-2.6 4.2z"/>
<path color="#3ac994" d="M452 367l2.6-4-2.1-3.4-2.6 4.9z"/>
<path color="#1fa5e2" d="M505.8 370.5l2.6 .4-2 0-2.6 1.9z"/>
<path color="#57cc7a" d="M489.4 360.7l2.6 2.5-2 .1-2.6-1.5z"/>
<path color="#69cd6b" d="M473 361.3l2.6 1.5-2-2.3-2.6 .4z"/>
<path color="#5dcc74" d="M456.6 367.3l2.6-7.3-2-2.9-2.6 5.9z"/>
<path color="#16afd9" d="M510.4 371.2l2.6-1.2-2-1.4-2.6 2.3z"/>
<path color="#16bfb7" d="M440.1 367.8l2.6-.7-2-2.2-2.6 1z"/>
<path color="#36c799" d="M494 364.5l2.6 .5-2 .1-2.6-1.9z"/>
<path color="#5bcc76" d="M477.6 360l2.6 2.8-2 .5-2.6-.5z"/>
<path color="#84cc56" d="M461.2 363.5l2.6-2.3-2-4.1-2.6 2.9z"/>
<path color="#0eb2d4" d="M515 371.6l2.6-2.3-2-.9-2.6 1.6z"/>
<path color="#01b9c8" d="M444.7 369.3l2.6 .2-2-2.7-2.6 .3z"/>
<path color="#1bc0b4" d="M498.6 365.5l2.6 2.6-2 .6-2.6-3.7z"/>
<path color="#52cc7e" d="M482.2 361.6l2.6 2.2-2-.4-2.6-.6z"/>
<path color="#7acc5e" d="M465.8 361.5l2.6-.8-2 .3-2.6 .2z"/>
<path color="#0abdbd" d="M449.4 368.8l2.6-1.8-2.1-2.5-2.6 5z"/>
<path color="#07b5cf" d="M503.2 366.8l2.6 3.7-2 2.3-2.6-4.7z"/>
<path color="#69cd6b" d="M486.8 362.1l2.6-1.4-2 1.1-2.6 2z"/>
<path color="#8acb52" d="M470.4 360l2.6 1.3-2-.4-2.6-.2z"/>
<path color="#21c1b0" d="M454 369.1l2.6-1.8-2-4.3-2.6 4z"/>
<path color="#15afd9" d="M507.8 370.6l2.6 .6-2-.3-2.6-.4z"/>
<path color="#62cd71" d="M491.4 362.3l2.6 2.2-2-1.3-2.6-2.5z"/>
<path color="#80cc59" d="M475 361.3l2.6-1.3-2 2.8-2.6-1.5z"/>
<path color="#46cb87" d="M458.6 364.7l2.6-1.2-2-3.5-2.6 7.3z"/>
<path color="#1aacdd" d="M512.4 373.4l2.6-1.8-2-1.6-2.6 1.2z"/>
<path color="#02bac3" d="M442.1 369.6l2.6-.3-2-2.2-2.6 .7z"/>
<path color="#3cc991" d="M496 364.4l2.6 1.1-2-.5-2.6-.5z"/>
<path color="#97ca48" d="M479.6 358.1l2.6 3.5-2 1.2-2.6-2.8z"/>
<path color="#62cd71" d="M463.2 365l2.6-3.5-2-.3-2.6 2.3z"/>
<path color="#02b7cb" d="M446.8 370l2.6-1.2-2.1 .7-2.6-.2z"/>
<path color="#28c2ab" d="M500.6 367.6l2.6-.8-2 1.3-2.6-2.6z"/>
<path color="#70cd65" d="M484.2 362.4l2.6-.3-2 1.7-2.6-2.2z"/>
<path color="#84cc56" d="M467.8 364.3l2.6-4.3-2 .7-2.6 .8z"/>
<path color="#0abdbd" d="M451.4 368.8l2.6 .3-2-2.1-2.6 1.8z"/>
<path color="#06bbc1" d="M505.2 368.5l2.6 2.1-2-.1-2.6-3.7z"/>
<path color="#91ca4d" d="M488.8 360.5l2.6 1.8-2-1.6-2.6 1.4z"/>
<path color="#97ca48" d="M472.4 361.7l2.6-.4-2 0-2.6-1.3z"/>
<path color="#29c3aa" d="M456 366.8l2.6-2.1-2 2.6-2.6 1.8z"/>
<path color="#19addc" d="M509.8 373.3l2.6 .1-2-2.2-2.6-.6z"/>
<path color="#67cd6c" d="M493.4 362.3l2.6 2.1-2 .1-2.6-2.2z"/>
<path color="#abc739" d="M477 362.4l2.6-4.3-2 1.9-2.6 1.3z"/>
<path color="#52cc7e" d="M460.6 363.6l2.6 1.4-2-1.5-2.6 1.2z"/>
<path color="#02b7cb" d="M444.2 371.5l2.6-1.5-2.1-.7-2.6 .3z"/>
<path color="#3fca8e" d="M498 364.7l2.6 2.9-2-2.1-2.6-1.1z"/>
<path color="#a1c840" d="M481.6 362.4l2.6 0-2-.8-2.6-3.5z"/>
<path color="#51cc7f" d="M465.2 367.3l2.6-3-2-2.8-2.6 3.5z"/>
<path color="#01bac5" d="M448.8 371.7l2.6-2.9-2 0-2.6 1.2z"/>
<path color="#2ac3a8" d="M502.6 368l2.6 .5-2-1.7-2.6 .8z"/>
<path color="#8ecb4f" d="M486.2 363.8l2.6-3.3-2 1.6-2.6 .3z"/>
<path color="#85cb55" d="M469.8 364l2.6-2.3-2-1.7-2.6 4.3z"/>
<path color="#1abfb5" d="M453.4 369.8l2.6-3-2 2.3-2.6-.3z"/>
<path color="#01b9c6" d="M507.2 369.6l2.6 3.7-2-2.7-2.6-2.1z"/>
<path color="#a5c83e" d="M490.8 360.8l2.6 1.5-2 0-2.6-1.8z"/>
<path color="#abc739" d="M474.4 359.2l2.6 3.2-2-1.1-2.6 .4z"/>
<path color="#44cb8a" d="M458 367.4l2.6-3.8-2 1.1-2.6 2.1z"/>
<path color="#70cd65" d="M495.4 364.3l2.6 .4-2-.3-2.6-2.1z"/>
<path color="#9dc943" d="M479 365l2.6-2.6-2-4.3-2.6 4.3z"/>
<path color="#49cb86" d="M462.6 366.6l2.6 .7-2-2.3-2.6-1.4z"/>
<path color="#07b5d0" d="M446.2 372.7l2.6-1-2-1.7-2.6 1.5z"/>
<path color="#41ca8d" d="M500 365.3l2.6 2.7-2-.4-2.6-2.9z"/>
<path color="#88cb53" d="M483.6 363.8l2.6 0-2-1.4-2.6 0z"/>
<path color="#61cd71" d="M467.2 363.2l2.6 .8-2 .3-2.6 3z"/>
<path color="#02bac4" d="M450.8 372.2l2.6-2.4-2-1-2.6 2.9z"/>
<path color="#2fc5a3" d="M504.6 366.9l2.6 2.7-2-1.1-2.6-.5z"/>
<path color="#a1c840" d="M488.2 364.2l2.6-3.4-2-.3-2.6 3.3z"/>
<path color="#afc636" d="M471.8 361.7l2.6-2.5-2 2.5-2.6 2.3z"/>
<path color="#28c3ab" d="M455.4 370.7l2.6-3.3-2-.6-2.6 3z"/>
<path color="#9ac945" d="M492.8 364.1l2.6 .2-2-2-2.6-1.5z"/>
<path color="#b0c636" d="M476.4 360.9l2.6 4.1-2-2.6-2.6-3.2z"/>
<path color="#49cb85" d="M460 367.5l2.6-.9-2-3-2.6 3.8z"/>
<path color="#6dcd68" d="M497.4 365.6l2.6-.3-2-.6-2.6-.4z"/>
<path color="#7bcc5d" d="M481 366.2l2.6-2.4-2-1.4-2.6 2.6z"/>
<path color="#65cd6e" d="M464.6 363.6l2.6-.4-2 4.1-2.6-.7z"/>
<path color="#07b5d0" d="M448.2 372.9l2.6-.7-2-.5-2.6 1z"/>
<path color="#56cc7b" d="M502 364.9l2.6 2-2 1.1-2.6-2.7z"/>
<path color="#80cc59" d="M485.6 365.7l2.6-1.5-2-.4-2.6 0z"/>
<path color="#a9c73b" d="M469.2 361.6l2.6 .1-2 2.3-2.6-.8z"/>
<path color="#03bbc2" d="M452.8 372.8l2.6-2.1-2-.9-2.6 2.4z"/>
<path color="#8ccb50" d="M490.2 367.5l2.6-3.4-2-3.3-2.6 3.4z"/>
<path color="#c7c12a" d="M473.8 364l2.6-3.1-2-1.7-2.6 2.5z"/>
<path color="#2dc4a5" d="M457.4 370.9l2.6-3.4-2-.1-2.6 3.3z"/>
<path color="#7bcc5d" d="M494.8 366.3l2.6-.7-2-1.3-2.6-.2z"/>
<path color="#91ca4c" d="M478.4 364.4l2.6 1.8-2-1.2-2.6-4.1z"/>
<path color="#5ecc74" d="M462 367.1l2.6-3.5-2 3-2.6 .9z"/>
<path color="#7ccc5c" d="M499.4 365.3l2.6-.4-2 .4-2.6 .3z"/>
<path color="#6fcd66" d="M483 367.3l2.6-1.6-2-1.9-2.6 2.4z"/>
<path color="#a6c83d" d="M466.6 365.2l2.6-3.6-2 1.6-2.6 .4z"/>
<path color="#02b7cb" d="M450.2 373.5l2.6-.7-2-.6-2.6 .7z"/>
<path color="#5ecc74" d="M487.6 369.7l2.6-2.2-2-3.3-2.6 1.5z"/>
<path color="#b6c532" d="M471.2 364.5l2.6-.5-2-2.3-2.6-.1z"/>
<path color="#09bcbe" d="M454.8 373.4l2.6-2.5-2-.2-2.6 2.1z"/>
<path color="#69cd6b" d="M492.2 368.1l2.6-1.8-2-2.2-2.6 3.4z"/>
<path color="#b0c636" d="M475.8 364.5l2.6-.1-2-3.5-2.6 3.1z"/>
<path color="#31c6a0" d="M459.4 373.2l2.6-6.1-2 .4-2.6 3.4z"/>
<path color="#78cc5f" d="M496.8 367.2l2.6-1.9-2 .3-2.6 .7z"/>
<path color="#7ccc5c" d="M480.4 365.7l2.6 1.6-2-1.1-2.6-1.8z"/>
<path color="#68cd6b" d="M464 370.8l2.6-5.6-2-1.6-2.6 3.5z"/>
<path color="#58cc79" d="M485 368l2.6 1.7-2-4-2.6 1.6z"/>
<path color="#9bc944" d="M468.6 367.9l2.6-3.4-2-2.9-2.6 3.6z"/>
<path color="#01bac6" d="M452.2 373.6l2.6-.2-2-.6-2.6 .7z"/>
<path color="#4dcb82" d="M489.6 368.7l2.6-.6-2-.6-2.6 2.2z"/>
<path color="#9fc942" d="M473.2 366.6l2.6-2.1-2-.5-2.6 .5z"/>
<path color="#06bcc0" d="M456.8 374.8l2.6-1.6-2-2.3-2.6 2.5z"/>
<path color="#69cd6a" d="M494.2 368l2.6-.8-2-.9-2.6 1.8z"/>
<path color="#9ec942" d="M477.8 366.1l2.6-.4-2-1.3-2.6 .1z"/>
<path color="#2bc3a8" d="M461.4 373.9l2.6-3.1-2-3.7-2.6 6.1z"/>
<path color="#7bcc5d" d="M482.4 366.5l2.6 1.5-2-.7-2.6-1.6z"/>
<path color="#4fcc80" d="M466 371.2l2.6-3.3-2-2.7-2.6 5.6z"/>
<path color="#56cc7b" d="M487 368.6l2.6 .1-2 1-2.6-1.7z"/>
<path color="#7fcc5a" d="M470.6 368.6l2.6-2-2-2.1-2.6 3.4z"/>
<path color="#02bac4" d="M454.2 374.8l2.6 0-2-1.4-2.6 .2z"/>
<path color="#63cd70" d="M491.6 368.8l2.6-.8-2 .1-2.6 .6z"/>
<path color="#88cb53" d="M475.2 370l2.6-3.9-2-1.6-2.6 2.1z"/>
<path color="#02bbc3" d="M458.8 375l2.6-1.1-2-.7-2.6 1.6z"/>
<path color="#9ec942" d="M479.8 366l2.6 .5-2-.8-2.6 .4z"/>
<path color="#2ac3a9" d="M463.4 373.1l2.6-1.9-2-.4-2.6 3.1z"/>
<path color="#7bcc5d" d="M484.4 368.1l2.6 .5-2-.6-2.6-1.5z"/>
<path color="#3eca8f" d="M468 374.7l2.6-6.1-2-.7-2.6 3.3z"/>
<path color="#64cd6f" d="M489 370l2.6-1.2-2-.1-2.6-.1z"/>
<path color="#61cd71" d="M472.6 371.2l2.6-1.2-2-3.4-2.6 2z"/>
<path color="#02bac4" d="M456.2 375.5l2.6-.5-2-.2-2.6 0z"/>
<path color="#87cb54" d="M477.2 368.9l2.6-2.9-2 .1-2.6 3.9z"/>
<path color="#16bfb7" d="M460.8 374.5l2.6-1.4-2 .8-2.6 1.1z"/>
<path color="#a2c840" d="M481.8 366.9l2.6 1.2-2-1.6-2.6-.5z"/>
<path color="#18bfb6" d="M465.4 378.1l2.6-3.4-2-3.5-2.6 1.9z"/>
<path color="#74cc62" d="M486.4 369.4l2.6 .6-2-1.4-2.6-.5z"/>
<path color="#30c5a1" d="M470 376.6l2.6-5.4-2-2.6-2.6 6.1z"/>
<path color="#5ecc74" d="M474.6 370.7l2.6-1.8-2 1.1-2.6 1.2z"/>
<path color="#0cbdbc" d="M458.2 375.9l2.6-1.4-2 .5-2.6 .5z"/>
<path color="#9bc945" d="M479.2 369.6l2.6-2.7-2-.9-2.6 2.9z"/>
<path color="#0cbdbc" d="M462.8 376.3l2.6 1.8-2-5-2.6 1.4z"/>
<path color="#91ca4c" d="M483.8 369.7l2.6-.3-2-1.3-2.6-1.2z"/>
<path color="#02b7cb" d="M467.4 379l2.6-2.4-2-1.9-2.6 3.4z"/>
<path color="#35c79a" d="M472 374.4l2.6-3.7-2 .5-2.6 5.4z"/>
<path color="#6bcd69" d="M476.6 372.8l2.6-3.2-2-.7-2.6 1.8z"/>
<path color="#0dbdbb" d="M460.2 377.8l2.6-1.5-2-1.8-2.6 1.4z"/>
<path color="#8acb52" d="M481.2 371.8l2.6-2.1-2-2.8-2.6 2.7z"/>
<path color="#03b7cc" d="M464.8 378.1l2.6 .9-2-.9-2.6-1.8z"/>
<path color="#05bbc1" d="M469.4 378.3l2.6-3.9-2 2.2-2.6 2.4z"/>
<path color="#38c896" d="M474 377.4l2.6-4.6-2-2.1-2.6 3.7z"/>
<path color="#5ccc76" d="M478.6 374.3l2.6-2.5-2-2.2-2.6 3.2z"/>
<path color="#01b9c7" d="M462.2 380l2.6-1.9-2-1.8-2.6 1.5z"/>
<path color="#05b6ce" d="M466.8 380.5l2.6-2.2-2 .7-2.6-.9z"/>
<path color="#0cbdbc" d="M471.4 380.2l2.6-2.8-2-3-2.6 3.9z"/>
<path color="#2fc5a3" d="M476 378.4l2.6-4.1-2-1.5-2.6 4.6z"/>
<path color="#0db3d3" d="M464.2 382.3l2.6-1.8-2-2.4-2.6 1.9z"/>
<path color="#09b4d1" d="M468.8 381.8l2.6-1.6-2-1.9-2.6 2.2z"/>
<path color="#04bbc1" d="M473.4 379.9l2.6-1.5-2-1-2.6 2.8z"/>
<path color="#18aedb" d="M466.2 383.2l2.6-1.4-2-1.3-2.6 1.8z"/>
<path color="#08b4d1" d="M470.8 382.5l2.6-2.6-2 .3-2.6 1.6z"/>
<path color="#16afd9" d="M468.2 383.3l2.6-.8-2-.7-2.6 1.4z"/></g>
<text class="tk" x="416.6" y="336.5" text-anchor="end">2</text>
<text class="tk" x="416.6" y="352.1" text-anchor="end">1.5</text>
<text class="tk" x="416.6" y="367.8" text-anchor="end">1</text>
<text class="tk" x="416.6" y="383.6" text-anchor="end">0.5</text>
<text class="tk" x="418.8" y="396.3" text-anchor="middle">10</text>
<text class="tk" x="441.3" y="405.4" text-anchor="middle">5</text>
<text class="tk" x="461.2" y="414.9" text-anchor="middle">0</text>
<text class="tk" x="475.1" y="415.4" text-anchor="middle">0</text>
<text class="tk" x="501.2" y="408.6" text-anchor="middle">5</text>
<text class="tk" x="530.0" y="401.3" text-anchor="middle">10</text>
<text class="lb" transform="translate(398.0 357.8) rotate(-90)" text-anchor="middle">f(x,y) (%)</text>
<text class="lb" x="397.2" y="424.2">y-axis</text>
<text class="lb" x="508.7" y="425.5">x-axis</text>
<text class="cp cb" x="383.8" y="440.9" textLength="12.4" lengthAdjust="spacingAndGlyphs">(i)</text>
<text class="cp" x="402.2" y="440.9" textLength="18.4" lengthAdjust="spacingAndGlyphs">Field</text>
<text class="cp" x="425.0" y="440.9" textLength="8.2" lengthAdjust="spacingAndGlyphs">C:</text>
<text class="cp" x="437.9" y="440.9" textLength="10.2" lengthAdjust="spacingAndGlyphs"><tspan class="it">μ</tspan><tspan class="it" font-size="6.2" dy="-3.3">C</tspan></text>
<text class="cp eq" x="455.1" y="440.9" textLength="7.0" lengthAdjust="spacingAndGlyphs">=</text>
<text class="cp" x="469.8" y="440.9" textLength="23.8" lengthAdjust="spacingAndGlyphs">1.05%,</text>
<text class="cp" x="495.2" y="440.9" textLength="9.3" lengthAdjust="spacingAndGlyphs"><tspan class="it">σ</tspan><tspan class="it" font-size="6.2" dy="-3.3">C</tspan></text>
<text class="cp eq" x="513.4" y="440.9" textLength="6.4" lengthAdjust="spacingAndGlyphs">=</text>
<text class="cp" x="527.2" y="440.9" textLength="19.5" lengthAdjust="spacingAndGlyphs">0.4%,</text>
<text class="cp it" x="384.0" y="451.2" textLength="5.0" lengthAdjust="spacingAndGlyphs">â</text>
<text class="cp eq" x="390.9" y="451.2" textLength="6.3" lengthAdjust="spacingAndGlyphs">=</text>
<text class="cp" x="400.4" y="451.2" textLength="8.3" lengthAdjust="spacingAndGlyphs">24</text>
<text class="cp" x="409.2" y="451.2" textLength="13.4" lengthAdjust="spacingAndGlyphs">μm</text>
</g>
</svg></body></html>
